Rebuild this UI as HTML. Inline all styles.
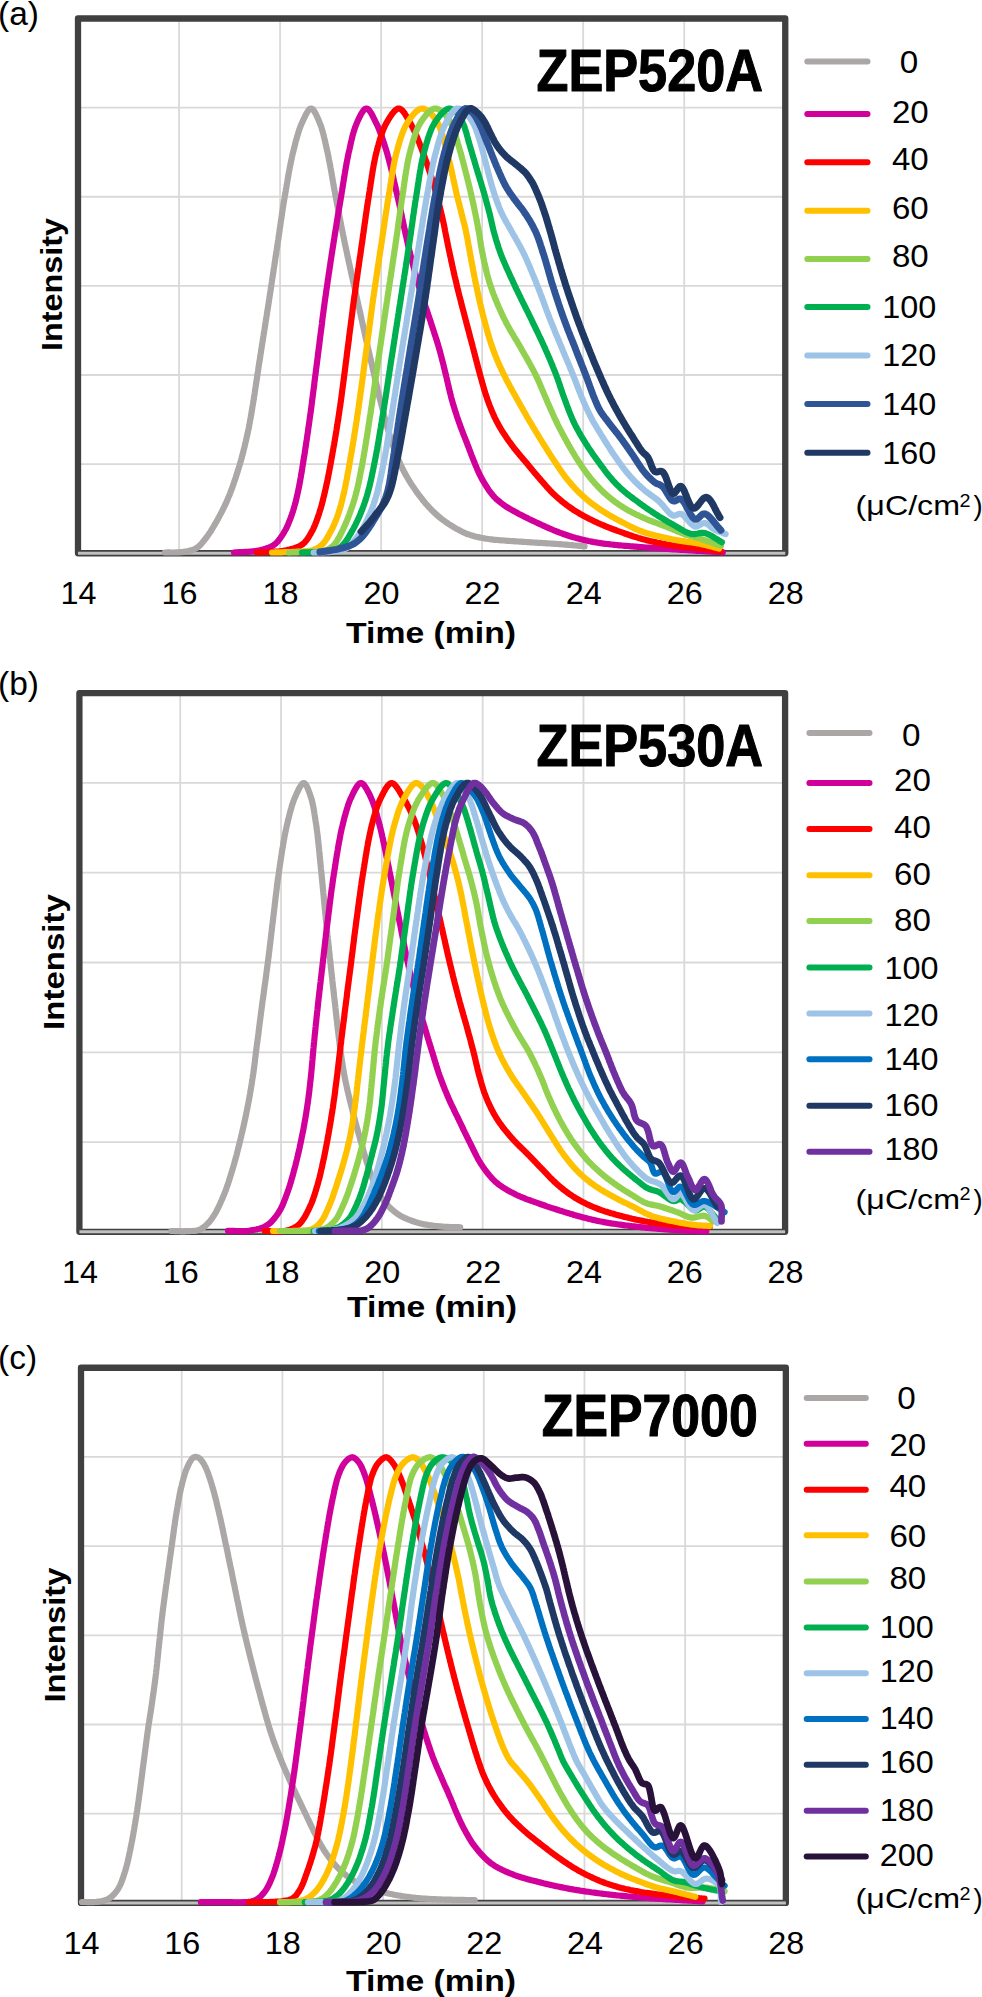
<!DOCTYPE html><html><head><meta charset="utf-8"><style>html,body{margin:0;padding:0;background:#fff;}svg{display:block;}</style></head><body>
<svg width="982" height="1997" viewBox="0 0 982 1997">
<rect width="982" height="1997" fill="#fff"/>
<g stroke="#d9d9d9" stroke-width="1.8"><line x1="179.04" y1="18.50" x2="179.04" y2="553.25"/><line x1="280.07" y1="18.50" x2="280.07" y2="553.25"/><line x1="381.11" y1="18.50" x2="381.11" y2="553.25"/><line x1="482.14" y1="18.50" x2="482.14" y2="553.25"/><line x1="583.18" y1="18.50" x2="583.18" y2="553.25"/><line x1="684.21" y1="18.50" x2="684.21" y2="553.25"/><line x1="78.00" y1="107.62" x2="785.25" y2="107.62"/><line x1="78.00" y1="196.75" x2="785.25" y2="196.75"/><line x1="78.00" y1="285.88" x2="785.25" y2="285.88"/><line x1="78.00" y1="375.00" x2="785.25" y2="375.00"/><line x1="78.00" y1="464.12" x2="785.25" y2="464.12"/></g>
<text x="536.5" y="90.9" font-family='"Liberation Sans", sans-serif' font-weight="bold" font-size="59" textLength="226.5" lengthAdjust="spacingAndGlyphs" fill="#000" stroke="#000" stroke-width="1.1" stroke-linejoin="round">ZEP520A</text>
<path d="M78.00,18.50 L785.25,18.50 L785.25,553.25 L78.00,553.25 Z" fill="none" stroke="#404040" stroke-width="6.3" stroke-linejoin="round"/>
<line x1="78.00" y1="553.25" x2="785.25" y2="553.25" stroke="#bfbfbf" stroke-width="3"/>
<path d="M165.0,552.5 L166.5,552.5 L168.1,552.4 L169.7,552.4 L171.3,552.5 L172.9,552.5 L174.4,552.5 L176.0,552.4 L177.6,552.4 L179.1,552.3 L180.6,552.2 L182.0,552.1 L183.5,551.9 L185.0,551.6 L186.6,551.4 L188.1,551.1 L189.6,550.7 L191.1,550.3 L192.5,549.9 L193.9,549.3 L195.2,548.7 L196.5,548.0 L197.7,547.2 L198.9,546.3 L200.0,545.2 L201.0,544.2 L202.0,543.0 L203.0,541.8 L204.0,540.5 L205.0,539.3 L206.0,538.0 L206.9,536.8 L207.8,535.6 L208.7,534.3 L209.6,533.0 L210.5,531.7 L211.3,530.3 L212.2,528.9 L213.0,527.5 L213.9,526.0 L214.7,524.6 L215.6,523.1 L216.5,521.6 L217.2,520.3 L217.9,519.0 L218.6,517.7 L219.3,516.4 L220.0,515.0 L220.8,513.7 L221.5,512.3 L222.2,510.9 L222.9,509.4 L223.6,508.0 L224.3,506.6 L225.0,505.1 L225.7,503.6 L226.4,502.1 L227.1,500.6 L227.7,499.1 L228.4,497.5 L228.9,496.2 L229.5,494.9 L230.0,493.6 L230.5,492.2 L231.1,490.8 L231.6,489.4 L232.1,488.0 L232.6,486.6 L233.1,485.2 L233.6,483.7 L234.1,482.3 L234.6,480.8 L235.1,479.4 L235.6,477.9 L236.1,476.5 L236.5,475.0 L237.0,473.5 L237.5,472.1 L237.9,470.6 L238.4,469.1 L238.8,467.7 L239.3,466.3 L239.7,464.8 L240.1,463.3 L240.5,461.9 L241.0,460.4 L241.4,458.9 L241.8,457.4 L242.2,455.9 L242.6,454.4 L243.0,452.9 L243.4,451.4 L243.7,449.9 L244.1,448.5 L244.5,447.0 L244.8,445.5 L245.2,444.0 L245.5,442.5 L245.9,441.0 L246.2,439.6 L246.5,438.1 L246.9,436.6 L247.2,435.2 L247.5,433.7 L247.8,432.3 L248.1,430.8 L248.5,429.2 L248.8,427.8 L249.1,426.3 L249.3,424.8 L249.6,423.4 L249.9,421.9 L250.1,420.5 L250.4,419.0 L250.7,417.6 L250.9,416.1 L251.2,414.6 L251.4,413.2 L251.7,411.7 L251.9,410.1 L252.2,408.6 L252.4,407.0 L252.7,405.4 L253.0,403.8 L253.2,402.4 L253.4,401.0 L253.7,399.6 L253.9,398.2 L254.1,396.7 L254.3,395.3 L254.6,393.8 L254.8,392.4 L255.0,390.9 L255.2,389.4 L255.5,387.9 L255.7,386.4 L255.9,384.9 L256.2,383.3 L256.4,381.8 L256.6,380.2 L256.9,378.7 L257.1,377.1 L257.3,375.5 L257.6,373.9 L257.8,372.3 L258.1,370.7 L258.3,369.1 L258.5,367.5 L258.8,365.8 L259.0,364.2 L259.3,362.5 L259.6,360.9 L259.8,359.5 L260.0,358.1 L260.2,356.7 L260.4,355.2 L260.7,353.8 L260.9,352.3 L261.1,350.9 L261.3,349.4 L261.6,347.9 L261.8,346.4 L262.0,344.9 L262.3,343.4 L262.5,341.9 L262.8,340.3 L263.0,338.8 L263.2,337.3 L263.5,335.7 L263.7,334.2 L264.0,332.6 L264.2,331.1 L264.5,329.5 L264.7,328.0 L265.0,326.4 L265.2,324.8 L265.4,323.3 L265.7,321.7 L265.9,320.2 L266.2,318.6 L266.4,317.1 L266.7,315.5 L266.9,314.0 L267.1,312.4 L267.4,310.9 L267.6,309.3 L267.9,307.8 L268.1,306.3 L268.3,304.8 L268.6,303.3 L268.8,301.8 L269.0,300.3 L269.3,298.7 L269.5,297.2 L269.7,295.6 L270.0,294.1 L270.2,292.5 L270.5,291.0 L270.7,289.4 L270.9,287.9 L271.2,286.4 L271.4,284.8 L271.6,283.3 L271.9,281.7 L272.1,280.2 L272.3,278.7 L272.6,277.1 L272.8,275.6 L273.0,274.1 L273.3,272.6 L273.5,271.0 L273.7,269.5 L273.9,268.0 L274.2,266.5 L274.4,265.0 L274.6,263.5 L274.9,261.9 L275.1,260.4 L275.3,258.9 L275.5,257.4 L275.8,255.9 L276.0,254.5 L276.2,253.0 L276.4,251.5 L276.7,250.0 L276.9,248.5 L277.1,247.1 L277.3,245.6 L277.6,244.1 L277.8,242.6 L278.0,241.0 L278.3,239.5 L278.5,237.9 L278.7,236.4 L278.9,234.8 L279.2,233.3 L279.4,231.8 L279.6,230.2 L279.8,228.7 L280.1,227.2 L280.3,225.7 L280.5,224.2 L280.7,222.7 L280.9,221.1 L281.2,219.6 L281.4,218.1 L281.6,216.6 L281.8,215.2 L282.0,213.7 L282.3,212.2 L282.5,210.7 L282.7,209.2 L282.9,207.7 L283.2,206.2 L283.4,204.8 L283.6,203.3 L283.9,201.8 L284.1,200.3 L284.4,198.8 L284.6,197.4 L284.9,195.9 L285.1,194.3 L285.4,192.8 L285.7,191.2 L285.9,189.6 L286.2,188.1 L286.5,186.5 L286.7,184.9 L287.0,183.3 L287.3,181.7 L287.5,180.2 L287.8,178.6 L288.1,177.0 L288.4,175.4 L288.6,173.9 L288.9,172.3 L289.2,170.8 L289.5,169.2 L289.8,167.7 L290.1,166.2 L290.4,164.7 L290.7,163.2 L291.0,161.7 L291.3,160.2 L291.6,158.8 L291.9,157.3 L292.2,155.9 L292.5,154.5 L292.9,153.1 L293.2,151.8 L293.6,150.1 L294.0,148.5 L294.4,146.9 L294.8,145.3 L295.2,143.7 L295.6,142.1 L296.0,140.5 L296.5,139.0 L296.9,137.4 L297.3,135.9 L297.8,134.4 L298.2,133.0 L298.7,131.5 L299.1,130.1 L299.6,128.7 L300.1,127.4 L300.6,126.1 L301.1,124.8 L301.6,123.6 L302.2,122.4 L302.9,120.8 L303.7,119.1 L304.5,117.4 L305.3,115.7 L306.1,114.1 L307.0,112.6 L307.8,111.2 L308.6,110.1 L309.5,109.2 L310.3,108.7 L311.1,108.5 L312.0,108.7 L312.9,109.4 L313.7,110.4 L314.6,111.8 L315.5,113.3 L316.3,115.0 L317.2,116.9 L318.0,118.8 L318.8,120.6 L319.5,122.4 L320.0,123.6 L320.5,124.8 L321.0,126.1 L321.4,127.4 L321.8,128.7 L322.2,130.1 L322.6,131.5 L323.0,133.0 L323.4,134.4 L323.8,135.9 L324.1,137.4 L324.5,139.0 L324.9,140.5 L325.2,142.1 L325.6,143.7 L325.9,145.3 L326.3,146.9 L326.6,148.5 L327.0,150.1 L327.4,151.8 L327.7,153.1 L328.0,154.5 L328.3,155.9 L328.6,157.4 L328.8,158.8 L329.1,160.3 L329.4,161.7 L329.7,163.2 L330.0,164.7 L330.3,166.2 L330.5,167.7 L330.8,169.3 L331.1,170.8 L331.4,172.4 L331.6,173.9 L331.9,175.5 L332.2,177.0 L332.4,178.6 L332.7,180.2 L333.0,181.8 L333.3,183.3 L333.5,184.9 L333.8,186.5 L334.1,188.1 L334.4,189.6 L334.7,191.2 L335.0,192.8 L335.3,194.3 L335.5,195.9 L335.8,197.4 L336.1,198.9 L336.4,200.3 L336.7,201.8 L337.0,203.3 L337.2,204.8 L337.5,206.3 L337.8,207.8 L338.1,209.2 L338.4,210.7 L338.7,212.2 L339.0,213.7 L339.2,215.2 L339.5,216.7 L339.8,218.2 L340.1,219.7 L340.4,221.2 L340.7,222.7 L341.0,224.3 L341.3,225.8 L341.6,227.3 L341.9,228.8 L342.2,230.3 L342.5,231.9 L342.8,233.4 L343.1,234.9 L343.5,236.5 L343.8,238.0 L344.1,239.6 L344.4,241.1 L344.7,242.7 L345.0,244.2 L345.3,245.7 L345.6,247.1 L346.0,248.6 L346.3,250.0 L346.6,251.5 L346.9,253.0 L347.2,254.4 L347.5,255.9 L347.8,257.4 L348.2,258.9 L348.5,260.3 L348.8,261.8 L349.1,263.3 L349.5,264.8 L349.8,266.3 L350.1,267.8 L350.4,269.3 L350.8,270.8 L351.1,272.3 L351.4,273.8 L351.8,275.3 L352.1,276.8 L352.5,278.3 L352.8,279.8 L353.1,281.3 L353.5,282.9 L353.8,284.4 L354.1,285.9 L354.5,287.4 L354.8,288.9 L355.2,290.5 L355.5,292.0 L355.8,293.5 L356.2,295.0 L356.5,296.6 L356.9,298.1 L357.2,299.6 L357.5,301.1 L357.9,302.5 L358.2,304.0 L358.5,305.5 L358.8,307.0 L359.2,308.4 L359.5,309.9 L359.8,311.4 L360.2,312.9 L360.5,314.4 L360.8,315.9 L361.2,317.4 L361.5,318.9 L361.8,320.4 L362.2,322.0 L362.5,323.5 L362.8,325.0 L363.2,326.5 L363.5,328.0 L363.9,329.5 L364.2,331.0 L364.5,332.5 L364.9,334.1 L365.2,335.6 L365.5,337.1 L365.9,338.6 L366.2,340.1 L366.6,341.6 L366.9,343.0 L367.2,344.5 L367.6,346.0 L367.9,347.5 L368.2,349.0 L368.6,350.4 L368.9,351.9 L369.2,353.3 L369.6,354.8 L369.9,356.2 L370.2,357.6 L370.6,359.0 L370.9,360.4 L371.2,362.0 L371.6,363.6 L372.0,365.1 L372.3,366.7 L372.7,368.2 L373.0,369.8 L373.4,371.3 L373.8,372.9 L374.1,374.4 L374.5,376.0 L374.8,377.5 L375.2,379.0 L375.5,380.6 L375.9,382.1 L376.2,383.6 L376.6,385.1 L376.9,386.6 L377.3,388.1 L377.6,389.6 L378.0,391.0 L378.3,392.5 L378.7,394.0 L379.0,395.4 L379.4,396.9 L379.7,398.3 L380.1,399.7 L380.5,401.1 L380.8,402.5 L381.2,403.9 L381.5,405.3 L381.9,406.7 L382.2,408.0 L382.6,409.4 L383.0,411.0 L383.4,412.5 L383.8,414.1 L384.2,415.7 L384.6,417.2 L385.0,418.7 L385.4,420.2 L385.8,421.7 L386.2,423.2 L386.6,424.7 L387.0,426.1 L387.4,427.6 L387.8,429.0 L388.2,430.5 L388.7,431.9 L389.1,433.3 L389.5,434.7 L389.9,436.1 L390.4,437.5 L390.8,438.8 L391.2,440.2 L391.7,441.6 L392.2,442.9 L392.7,444.5 L393.2,446.0 L393.7,447.5 L394.3,449.0 L394.8,450.5 L395.4,451.9 L395.9,453.4 L396.5,454.8 L397.0,456.3 L397.6,457.7 L398.2,459.1 L398.8,460.5 L399.4,461.9 L400.0,463.3 L400.6,464.7 L401.2,466.0 L401.9,467.4 L402.5,468.7 L403.3,470.2 L404.0,471.6 L404.8,473.0 L405.5,474.4 L406.3,475.8 L407.1,477.2 L407.9,478.5 L408.7,479.9 L409.6,481.2 L410.4,482.6 L411.2,483.9 L412.1,485.2 L412.9,486.5 L413.8,487.7 L414.6,489.0 L415.5,490.2 L416.4,491.6 L417.4,493.0 L418.4,494.3 L419.4,495.6 L420.4,496.9 L421.4,498.2 L422.4,499.5 L423.4,500.8 L424.4,502.0 L425.4,503.2 L426.4,504.4 L427.5,505.5 L428.5,506.6 L429.6,507.8 L430.7,509.0 L431.8,510.2 L432.9,511.3 L434.1,512.4 L435.2,513.4 L436.3,514.5 L437.5,515.5 L438.6,516.5 L439.8,517.5 L441.1,518.5 L442.3,519.4 L443.6,520.4 L444.8,521.3 L446.1,522.2 L447.4,523.1 L448.7,524.0 L450.1,524.9 L451.4,525.7 L452.8,526.5 L454.1,527.3 L455.4,528.1 L456.7,528.9 L458.1,529.6 L459.4,530.3 L460.8,531.1 L462.2,531.8 L463.6,532.4 L465.0,533.1 L466.4,533.7 L467.9,534.2 L469.3,534.7 L470.7,535.2 L472.1,535.6 L473.5,536.0 L475.0,536.4 L476.4,536.8 L477.9,537.1 L479.4,537.4 L480.9,537.7 L482.4,538.0 L484.0,538.3 L485.5,538.6 L487.0,538.8 L488.5,539.0 L490.0,539.2 L491.5,539.4 L493.0,539.6 L494.6,539.8 L496.1,539.9 L497.7,540.0 L499.3,540.2 L500.9,540.3 L502.5,540.4 L504.1,540.5 L505.7,540.6 L507.3,540.8 L508.9,540.9 L510.4,541.0 L511.9,541.1 L513.4,541.2 L514.9,541.3 L516.4,541.4 L517.9,541.5 L519.4,541.6 L521.0,541.7 L522.5,541.8 L524.0,541.9 L525.6,542.0 L527.1,542.1 L528.6,542.2 L530.2,542.3 L531.7,542.4 L533.2,542.5 L534.7,542.6 L536.2,542.7 L537.8,542.8 L539.3,542.9 L540.8,542.9 L542.4,543.0 L543.9,543.1 L545.4,543.2 L546.9,543.3 L548.5,543.4 L550.0,543.5 L551.5,543.6 L553.0,543.7 L554.5,543.8 L556.0,543.9 L557.5,544.0 L559.0,544.1 L560.4,544.2 L561.9,544.3 L563.5,544.5 L565.0,544.6 L566.5,544.7 L568.1,544.8 L569.6,545.0 L571.1,545.1 L572.6,545.2 L574.1,545.4 L575.6,545.5 L577.1,545.6 L578.6,545.8 L580.1,545.9 L581.6,546.0 L583.1,546.2 L584.6,546.3" fill="none" stroke="#aca7a7" stroke-width="6.2" stroke-linecap="round" stroke-linejoin="round"/>
<path d="M234.0,552.5 L235.5,552.4 L237.1,552.3 L238.6,552.2 L240.2,552.1 L241.7,552.1 L243.3,552.0 L244.9,551.9 L246.4,551.9 L248.0,551.8 L249.5,551.7 L251.0,551.6 L252.5,551.4 L254.0,551.3 L255.4,551.0 L256.8,550.8 L258.2,550.5 L259.8,550.2 L261.5,549.8 L263.1,549.4 L264.7,548.9 L266.2,548.5 L267.7,547.9 L269.2,547.4 L270.6,546.8 L272.0,546.1 L273.3,545.3 L274.5,544.4 L275.7,543.5 L276.8,542.4 L277.8,541.3 L278.8,540.2 L279.8,538.9 L280.7,537.6 L281.6,536.3 L282.4,535.0 L283.3,533.6 L284.1,532.2 L284.9,530.8 L285.7,529.5 L286.4,528.1 L287.1,526.6 L287.8,525.2 L288.4,523.7 L289.0,522.2 L289.6,520.7 L290.2,519.2 L290.8,517.6 L291.3,516.1 L291.9,514.5 L292.4,512.9 L292.9,511.5 L293.3,510.2 L293.7,508.8 L294.1,507.4 L294.5,506.0 L294.9,504.6 L295.3,503.2 L295.7,501.8 L296.0,500.3 L296.4,498.8 L296.7,497.3 L297.1,495.8 L297.4,494.3 L297.8,492.7 L298.1,491.1 L298.4,489.7 L298.7,488.3 L299.0,486.9 L299.3,485.5 L299.5,484.0 L299.8,482.6 L300.1,481.1 L300.3,479.6 L300.6,478.1 L300.9,476.5 L301.1,475.0 L301.4,473.4 L301.7,471.9 L301.9,470.3 L302.2,468.7 L302.4,467.1 L302.7,465.5 L303.0,463.9 L303.2,462.3 L303.5,460.6 L303.7,459.0 L304.0,457.4 L304.2,456.0 L304.5,454.6 L304.7,453.1 L304.9,451.7 L305.1,450.3 L305.3,448.9 L305.6,447.4 L305.8,446.0 L306.0,444.5 L306.2,443.0 L306.4,441.6 L306.7,440.1 L306.9,438.6 L307.1,437.1 L307.3,435.6 L307.5,434.1 L307.8,432.6 L308.0,431.0 L308.2,429.5 L308.4,428.0 L308.6,426.5 L308.9,424.9 L309.1,423.4 L309.3,421.8 L309.5,420.3 L309.7,418.8 L309.9,417.2 L310.1,415.6 L310.4,414.1 L310.6,412.5 L310.8,411.1 L311.0,409.6 L311.2,408.1 L311.4,406.7 L311.6,405.2 L311.8,403.7 L312.0,402.2 L312.1,400.7 L312.3,399.3 L312.5,397.8 L312.7,396.3 L312.9,394.8 L313.1,393.2 L313.3,391.7 L313.5,390.2 L313.7,388.7 L313.9,387.2 L314.1,385.7 L314.3,384.1 L314.4,382.6 L314.6,381.1 L314.8,379.5 L315.0,378.0 L315.2,376.4 L315.4,374.9 L315.6,373.4 L315.8,371.8 L316.0,370.2 L316.2,368.7 L316.4,367.1 L316.6,365.6 L316.8,364.0 L317.0,362.5 L317.2,360.9 L317.4,359.3 L317.6,357.9 L317.8,356.4 L317.9,354.9 L318.1,353.5 L318.3,352.0 L318.5,350.5 L318.7,349.0 L318.9,347.5 L319.1,346.0 L319.3,344.5 L319.5,343.0 L319.6,341.5 L319.8,340.0 L320.0,338.5 L320.2,336.9 L320.4,335.4 L320.6,333.9 L320.8,332.4 L321.0,330.9 L321.2,329.4 L321.4,327.8 L321.6,326.3 L321.8,324.8 L322.0,323.3 L322.1,321.7 L322.3,320.2 L322.5,318.7 L322.7,317.2 L322.9,315.7 L323.1,314.2 L323.3,312.7 L323.5,311.2 L323.7,309.7 L323.9,308.2 L324.1,306.7 L324.3,305.2 L324.5,303.7 L324.7,302.2 L324.9,300.7 L325.1,299.3 L325.3,297.7 L325.6,296.2 L325.8,294.7 L326.0,293.2 L326.2,291.7 L326.4,290.2 L326.6,288.6 L326.9,287.1 L327.1,285.6 L327.3,284.1 L327.5,282.6 L327.7,281.1 L327.9,279.6 L328.2,278.1 L328.4,276.6 L328.6,275.1 L328.8,273.6 L329.1,272.1 L329.3,270.6 L329.5,269.1 L329.7,267.7 L330.0,266.2 L330.2,264.7 L330.4,263.2 L330.6,261.7 L330.8,260.3 L331.1,258.8 L331.3,257.3 L331.5,255.9 L331.7,254.4 L332.0,252.9 L332.2,251.5 L332.4,250.0 L332.6,248.6 L332.9,247.1 L333.1,245.7 L333.3,244.2 L333.6,242.7 L333.8,241.1 L334.0,239.6 L334.3,238.0 L334.5,236.5 L334.8,234.9 L335.0,233.4 L335.3,231.9 L335.5,230.3 L335.8,228.8 L336.0,227.3 L336.3,225.8 L336.5,224.2 L336.7,222.7 L337.0,221.2 L337.2,219.7 L337.5,218.2 L337.7,216.7 L338.0,215.2 L338.2,213.7 L338.5,212.2 L338.7,210.7 L339.0,209.2 L339.2,207.7 L339.5,206.2 L339.7,204.8 L340.0,203.3 L340.2,201.8 L340.5,200.3 L340.7,198.8 L341.0,197.4 L341.2,195.9 L341.5,194.3 L341.7,192.8 L342.0,191.2 L342.2,189.6 L342.5,188.1 L342.7,186.5 L343.0,184.9 L343.2,183.4 L343.5,181.8 L343.7,180.2 L344.0,178.7 L344.2,177.1 L344.5,175.6 L344.7,174.0 L345.0,172.5 L345.2,171.0 L345.5,169.4 L345.8,167.9 L346.0,166.4 L346.3,164.9 L346.6,163.4 L346.8,162.0 L347.1,160.5 L347.4,159.1 L347.7,157.6 L348.0,156.2 L348.2,154.8 L348.5,153.4 L348.8,152.1 L349.2,150.5 L349.6,148.9 L349.9,147.3 L350.3,145.7 L350.6,144.1 L351.0,142.5 L351.3,141.0 L351.7,139.4 L352.1,137.9 L352.4,136.4 L352.8,134.9 L353.2,133.5 L353.6,132.0 L354.1,130.6 L354.5,129.3 L354.9,127.9 L355.4,126.6 L355.9,125.4 L356.4,124.1 L356.9,122.9 L357.6,121.3 L358.4,119.5 L359.3,117.7 L360.1,116.0 L361.0,114.3 L361.9,112.7 L362.8,111.4 L363.7,110.2 L364.6,109.3 L365.5,108.7 L366.4,108.5 L367.3,108.7 L368.2,109.3 L369.1,110.2 L370.0,111.4 L370.9,112.7 L371.8,114.3 L372.7,116.0 L373.6,117.8 L374.4,119.5 L375.3,121.3 L376.1,122.9 L376.7,124.1 L377.3,125.3 L377.9,126.6 L378.4,127.9 L379.0,129.2 L379.5,130.6 L380.1,131.9 L380.6,133.4 L381.1,134.8 L381.7,136.2 L382.2,137.7 L382.7,139.2 L383.2,140.7 L383.7,142.3 L384.2,143.8 L384.7,145.4 L385.2,147.0 L385.7,148.6 L386.2,150.2 L386.7,151.8 L387.1,153.1 L387.5,154.5 L387.8,155.8 L388.2,157.2 L388.6,158.6 L389.0,159.9 L389.3,161.4 L389.7,162.8 L390.1,164.2 L390.4,165.7 L390.8,167.1 L391.2,168.6 L391.5,170.1 L391.9,171.6 L392.2,173.1 L392.6,174.6 L392.9,176.1 L393.3,177.6 L393.6,179.2 L394.0,180.7 L394.3,182.2 L394.7,183.8 L395.0,185.3 L395.4,186.8 L395.7,188.4 L396.0,189.9 L396.4,191.4 L396.7,192.9 L397.1,194.5 L397.4,196.0 L397.8,197.5 L398.1,198.9 L398.4,200.4 L398.8,201.9 L399.1,203.4 L399.4,204.9 L399.8,206.4 L400.1,207.9 L400.4,209.4 L400.7,210.9 L401.0,212.4 L401.4,213.9 L401.7,215.4 L402.0,217.0 L402.3,218.5 L402.6,220.0 L403.0,221.5 L403.3,223.0 L403.6,224.5 L403.9,226.1 L404.2,227.6 L404.5,229.1 L404.9,230.6 L405.2,232.1 L405.5,233.6 L405.8,235.1 L406.2,236.5 L406.5,238.0 L406.8,239.5 L407.1,240.9 L407.5,242.4 L407.8,243.8 L408.1,245.3 L408.5,246.7 L408.9,248.2 L409.2,249.7 L409.6,251.2 L410.0,252.7 L410.3,254.2 L410.7,255.7 L411.1,257.2 L411.5,258.7 L411.8,260.2 L412.2,261.7 L412.6,263.2 L413.0,264.6 L413.3,266.1 L413.7,267.5 L414.1,269.0 L414.5,270.4 L414.9,271.9 L415.3,273.3 L415.7,274.7 L416.0,276.1 L416.4,277.6 L416.8,279.0 L417.2,280.4 L417.6,281.8 L418.0,283.2 L418.4,284.6 L418.8,285.9 L419.2,287.3 L419.7,288.8 L420.2,290.3 L420.6,291.8 L421.1,293.3 L421.6,294.8 L422.0,296.2 L422.5,297.7 L423.0,299.1 L423.5,300.6 L424.0,302.0 L424.5,303.5 L424.9,304.9 L425.4,306.3 L425.9,307.7 L426.4,309.1 L426.9,310.5 L427.4,311.9 L427.8,313.3 L428.3,314.7 L428.8,316.1 L429.2,317.5 L429.7,318.9 L430.2,320.3 L430.7,321.8 L431.1,323.3 L431.6,324.8 L432.1,326.3 L432.6,327.8 L433.1,329.3 L433.6,330.7 L434.1,332.2 L434.5,333.7 L435.0,335.1 L435.5,336.6 L435.9,338.0 L436.4,339.5 L436.9,340.9 L437.3,342.4 L437.7,343.8 L438.2,345.3 L438.6,346.7 L439.0,348.1 L439.4,349.5 L439.9,351.1 L440.3,352.7 L440.7,354.2 L441.1,355.8 L441.5,357.3 L441.9,358.9 L442.3,360.4 L442.7,362.0 L443.1,363.5 L443.5,365.0 L443.8,366.6 L444.2,368.1 L444.6,369.6 L444.9,371.1 L445.3,372.6 L445.7,374.1 L446.1,375.6 L446.4,377.2 L446.8,378.7 L447.1,380.2 L447.5,381.7 L447.8,383.2 L448.2,384.8 L448.5,386.3 L448.9,387.8 L449.2,389.3 L449.6,390.8 L449.9,392.3 L450.3,393.8 L450.7,395.2 L451.0,396.7 L451.4,398.2 L451.8,399.7 L452.3,401.2 L452.7,402.7 L453.1,404.2 L453.6,405.6 L454.0,407.1 L454.5,408.6 L454.9,410.1 L455.4,411.5 L455.9,413.0 L456.4,414.5 L456.8,415.9 L457.3,417.4 L457.8,418.8 L458.3,420.3 L458.8,421.7 L459.3,423.2 L459.9,424.7 L460.4,426.2 L460.9,427.7 L461.5,429.2 L462.1,430.7 L462.7,432.2 L463.2,433.6 L463.8,435.1 L464.4,436.6 L465.0,438.0 L465.5,439.5 L466.1,440.9 L466.6,442.3 L467.2,443.7 L467.7,445.1 L468.3,446.7 L468.9,448.2 L469.5,449.8 L470.1,451.4 L470.7,452.9 L471.2,454.4 L471.8,455.9 L472.4,457.3 L472.9,458.7 L473.5,460.1 L474.0,461.5 L474.7,463.1 L475.3,464.6 L475.9,466.0 L476.5,467.4 L477.1,468.9 L477.7,470.3 L478.3,471.7 L479.0,473.1 L479.7,474.6 L480.5,476.1 L481.2,477.5 L482.0,479.0 L482.8,480.5 L483.7,481.9 L484.5,483.4 L485.4,484.8 L486.2,486.1 L487.1,487.4 L487.9,488.8 L488.8,490.1 L489.7,491.3 L490.6,492.6 L491.6,493.8 L492.6,495.0 L493.6,496.2 L494.7,497.4 L495.9,498.6 L497.1,499.7 L498.4,500.8 L499.7,501.8 L501.0,502.9 L502.3,503.9 L503.6,504.9 L504.9,505.8 L506.2,506.7 L507.6,507.5 L509.0,508.3 L510.3,509.1 L511.7,509.9 L513.2,510.7 L514.6,511.5 L516.0,512.2 L517.3,513.0 L518.6,513.7 L520.0,514.4 L521.3,515.1 L522.7,515.8 L524.0,516.5 L525.4,517.2 L526.8,517.8 L528.1,518.5 L529.5,519.2 L531.0,519.9 L532.4,520.6 L533.9,521.3 L535.4,522.0 L536.9,522.7 L538.4,523.4 L539.9,524.1 L541.3,524.8 L542.8,525.5 L544.3,526.1 L545.7,526.8 L547.2,527.4 L548.7,528.1 L550.1,528.7 L551.6,529.3 L553.1,530.0 L554.5,530.6 L556.0,531.2 L557.5,531.7 L559.0,532.3 L560.4,532.9 L561.9,533.4 L563.4,534.0 L564.9,534.5 L566.4,535.0 L567.9,535.5 L569.3,536.0 L570.9,536.5 L572.6,537.0 L574.2,537.4 L575.8,537.9 L577.4,538.3 L579.0,538.8 L580.6,539.2 L582.2,539.6 L583.8,539.9 L585.3,540.3 L586.8,540.6 L588.3,541.0 L589.8,541.3 L591.4,541.6 L593.0,541.9 L594.6,542.2 L596.1,542.4 L597.6,542.7 L599.1,542.9 L600.6,543.1 L602.1,543.4 L603.7,543.6 L605.3,543.8 L607.0,544.0 L608.7,544.2 L610.4,544.4 L611.8,544.5 L613.1,544.7 L614.5,544.8 L615.9,545.0 L617.4,545.1 L618.8,545.3 L620.3,545.4 L621.8,545.5 L623.3,545.7 L624.8,545.8 L626.4,545.9 L628.0,546.0 L629.6,546.2 L631.2,546.3 L632.8,546.4 L634.4,546.6 L636.1,546.7 L637.5,546.8 L638.9,546.9 L640.3,547.0 L641.8,547.1 L643.2,547.3 L644.7,547.4 L646.2,547.5 L647.7,547.6 L649.2,547.7 L650.7,547.8 L652.3,547.9 L653.8,548.0 L655.4,548.1 L656.9,548.2 L658.5,548.3 L660.1,548.4 L661.7,548.5 L663.3,548.7 L664.9,548.8 L666.5,548.9 L668.1,549.0 L669.7,549.1 L671.4,549.2 L673.0,549.3 L674.6,549.4 L676.0,549.5 L677.5,549.6 L678.9,549.7 L680.4,549.8 L681.8,549.9 L683.3,549.9 L684.8,550.0 L686.3,550.1 L687.8,550.2 L689.3,550.3 L690.8,550.4 L692.3,550.5 L693.8,550.6 L695.3,550.7 L696.8,550.8 L698.4,550.9 L699.9,550.9 L701.4,551.0 L703.0,551.1 L704.5,551.2 L706.0,551.3 L707.6,551.4 L709.1,551.5 L710.6,551.6 L712.2,551.7 L713.7,551.8 L715.2,551.8 L716.7,551.9 L718.3,552.0 L719.8,552.1 L721.3,552.2 L722.8,552.3" fill="none" stroke="#d2009b" stroke-width="6.2" stroke-linecap="round" stroke-linejoin="round"/>
<path d="M257.0,552.5 L258.5,552.4 L260.1,552.3 L261.7,552.2 L263.3,552.2 L264.9,552.1 L266.5,552.1 L268.1,552.0 L269.7,552.0 L271.2,551.9 L272.8,551.8 L274.4,551.7 L275.9,551.6 L277.5,551.5 L279.0,551.4 L280.4,551.2 L281.9,551.0 L283.3,550.8 L284.7,550.5 L286.3,550.2 L287.9,549.8 L289.6,549.5 L291.1,549.1 L292.7,548.7 L294.2,548.3 L295.7,547.8 L297.1,547.2 L298.5,546.6 L299.8,546.0 L301.1,545.2 L302.3,544.4 L303.5,543.5 L304.6,542.5 L305.6,541.3 L306.5,540.2 L307.5,538.9 L308.3,537.6 L309.1,536.3 L309.9,535.0 L310.7,533.6 L311.5,532.2 L312.2,530.8 L313.0,529.5 L313.6,528.1 L314.3,526.6 L314.9,525.2 L315.5,523.7 L316.1,522.2 L316.6,520.7 L317.2,519.2 L317.7,517.6 L318.2,516.1 L318.8,514.5 L319.3,512.9 L319.7,511.5 L320.1,510.2 L320.6,508.8 L321.0,507.4 L321.4,506.0 L321.8,504.6 L322.1,503.2 L322.5,501.8 L322.9,500.3 L323.2,498.8 L323.6,497.3 L324.0,495.8 L324.3,494.3 L324.7,492.7 L325.1,491.1 L325.4,489.7 L325.7,488.3 L326.0,486.9 L326.3,485.5 L326.6,484.0 L327.0,482.6 L327.3,481.1 L327.6,479.6 L327.9,478.1 L328.2,476.5 L328.5,475.0 L328.8,473.4 L329.1,471.9 L329.4,470.3 L329.7,468.7 L330.0,467.1 L330.3,465.5 L330.6,463.9 L330.9,462.3 L331.2,460.6 L331.5,459.0 L331.8,457.4 L332.0,456.0 L332.3,454.6 L332.5,453.1 L332.8,451.7 L333.0,450.3 L333.3,448.9 L333.5,447.4 L333.8,446.0 L334.1,444.5 L334.3,443.0 L334.6,441.6 L334.8,440.1 L335.1,438.6 L335.3,437.1 L335.6,435.6 L335.8,434.1 L336.1,432.6 L336.3,431.1 L336.6,429.5 L336.8,428.0 L337.0,426.5 L337.3,424.9 L337.5,423.4 L337.8,421.9 L338.0,420.3 L338.3,418.8 L338.5,417.2 L338.7,415.6 L339.0,414.1 L339.2,412.5 L339.4,411.1 L339.6,409.6 L339.8,408.1 L340.1,406.7 L340.3,405.2 L340.5,403.7 L340.7,402.2 L340.9,400.8 L341.1,399.3 L341.3,397.8 L341.5,396.3 L341.7,394.8 L341.9,393.3 L342.1,391.7 L342.3,390.2 L342.5,388.7 L342.7,387.2 L342.9,385.7 L343.1,384.1 L343.3,382.6 L343.5,381.1 L343.7,379.5 L343.9,378.0 L344.1,376.4 L344.3,374.9 L344.5,373.4 L344.7,371.8 L344.9,370.3 L345.1,368.7 L345.3,367.1 L345.5,365.6 L345.7,364.0 L345.9,362.5 L346.1,360.9 L346.3,359.3 L346.5,357.9 L346.7,356.4 L346.8,354.9 L347.0,353.5 L347.2,352.0 L347.4,350.5 L347.6,349.0 L347.8,347.5 L348.0,346.0 L348.2,344.5 L348.4,343.0 L348.6,341.5 L348.8,340.0 L349.0,338.5 L349.1,337.0 L349.3,335.4 L349.5,333.9 L349.7,332.4 L349.9,330.9 L350.1,329.4 L350.3,327.8 L350.5,326.3 L350.7,324.8 L350.9,323.3 L351.1,321.7 L351.3,320.2 L351.5,318.7 L351.7,317.2 L351.9,315.7 L352.1,314.2 L352.3,312.7 L352.5,311.2 L352.6,309.7 L352.8,308.2 L353.0,306.7 L353.2,305.2 L353.4,303.7 L353.6,302.2 L353.8,300.7 L354.0,299.3 L354.2,297.7 L354.4,296.2 L354.7,294.7 L354.9,293.2 L355.1,291.7 L355.3,290.2 L355.5,288.6 L355.7,287.1 L355.9,285.6 L356.1,284.1 L356.3,282.6 L356.5,281.1 L356.8,279.6 L357.0,278.1 L357.2,276.6 L357.4,275.1 L357.6,273.6 L357.8,272.1 L358.0,270.6 L358.2,269.1 L358.5,267.7 L358.7,266.2 L358.9,264.7 L359.1,263.2 L359.3,261.7 L359.5,260.3 L359.7,258.8 L359.9,257.3 L360.2,255.9 L360.4,254.4 L360.6,252.9 L360.8,251.5 L361.0,250.0 L361.2,248.6 L361.4,247.1 L361.6,245.7 L361.8,244.2 L362.1,242.7 L362.3,241.1 L362.5,239.6 L362.7,238.0 L362.9,236.5 L363.1,234.9 L363.4,233.4 L363.6,231.9 L363.8,230.3 L364.0,228.8 L364.2,227.3 L364.4,225.8 L364.6,224.2 L364.9,222.7 L365.1,221.2 L365.3,219.7 L365.5,218.2 L365.7,216.7 L365.9,215.2 L366.1,213.7 L366.4,212.2 L366.6,210.7 L366.8,209.2 L367.0,207.7 L367.2,206.2 L367.5,204.7 L367.7,203.3 L367.9,201.8 L368.1,200.3 L368.4,198.8 L368.6,197.4 L368.8,195.9 L369.1,194.3 L369.3,192.8 L369.6,191.2 L369.8,189.6 L370.0,188.1 L370.3,186.5 L370.5,184.9 L370.7,183.4 L371.0,181.8 L371.2,180.2 L371.5,178.7 L371.7,177.1 L371.9,175.6 L372.2,174.0 L372.4,172.5 L372.7,170.9 L372.9,169.4 L373.2,167.9 L373.5,166.4 L373.7,164.9 L374.0,163.4 L374.3,161.9 L374.6,160.5 L374.9,159.0 L375.2,157.6 L375.5,156.2 L375.8,154.8 L376.2,153.4 L376.5,152.1 L376.9,150.5 L377.3,148.8 L377.7,147.2 L378.2,145.6 L378.6,144.0 L379.0,142.5 L379.5,140.9 L379.9,139.4 L380.4,137.8 L380.9,136.3 L381.4,134.9 L381.9,133.4 L382.4,132.0 L382.9,130.6 L383.4,129.2 L384.0,127.9 L384.6,126.6 L385.2,125.3 L385.8,124.1 L386.5,122.9 L387.4,121.4 L388.3,119.8 L389.3,118.1 L390.3,116.5 L391.4,114.9 L392.5,113.4 L393.6,112.1 L394.7,110.9 L395.8,109.9 L396.8,109.1 L397.9,108.6 L398.9,108.5 L399.9,108.7 L400.9,109.2 L401.8,110.0 L402.8,111.0 L403.7,112.2 L404.7,113.5 L405.6,115.0 L406.6,116.6 L407.5,118.2 L408.4,119.8 L409.3,121.4 L410.2,122.9 L410.9,124.1 L411.5,125.3 L412.2,126.6 L412.8,127.8 L413.5,129.2 L414.1,130.5 L414.8,131.9 L415.4,133.4 L416.0,134.8 L416.6,136.3 L417.3,137.8 L417.9,139.3 L418.5,140.8 L419.1,142.3 L419.7,143.9 L420.2,145.4 L420.8,146.9 L421.4,148.5 L422.0,150.0 L422.6,151.5 L423.1,153.1 L423.7,154.5 L424.2,155.9 L424.7,157.3 L425.2,158.8 L425.8,160.3 L426.3,161.8 L426.8,163.2 L427.3,164.7 L427.8,166.2 L428.3,167.7 L428.8,169.3 L429.3,170.8 L429.8,172.3 L430.3,173.8 L430.8,175.3 L431.3,176.8 L431.7,178.3 L432.2,179.8 L432.6,181.3 L433.1,182.8 L433.5,184.2 L434.0,185.7 L434.4,187.1 L434.8,188.5 L435.3,190.1 L435.7,191.6 L436.1,193.1 L436.5,194.5 L436.9,196.0 L437.3,197.5 L437.7,198.9 L438.1,200.4 L438.5,201.8 L438.9,203.3 L439.2,204.7 L439.6,206.2 L439.9,207.6 L440.3,209.1 L440.7,210.5 L441.0,212.0 L441.3,213.4 L441.7,214.9 L442.0,216.4 L442.4,217.9 L442.7,219.3 L443.0,220.8 L443.4,222.3 L443.7,223.7 L444.0,225.2 L444.3,226.6 L444.6,228.1 L444.9,229.6 L445.1,231.0 L445.4,232.5 L445.7,234.0 L446.0,235.5 L446.3,236.9 L446.6,238.4 L446.9,239.9 L447.2,241.4 L447.5,242.9 L447.8,244.5 L448.1,246.0 L448.4,247.5 L448.7,249.0 L449.0,250.5 L449.4,252.0 L449.7,253.5 L450.0,255.0 L450.3,256.5 L450.7,258.0 L451.0,259.5 L451.3,261.1 L451.7,262.6 L452.0,264.1 L452.3,265.7 L452.7,267.2 L453.0,268.7 L453.4,270.3 L453.7,271.8 L454.0,273.4 L454.4,274.9 L454.7,276.4 L455.1,278.0 L455.5,279.5 L455.8,281.0 L456.2,282.5 L456.5,284.0 L456.9,285.6 L457.2,287.1 L457.6,288.6 L458.0,290.1 L458.4,291.6 L458.7,293.2 L459.1,294.7 L459.5,296.2 L459.9,297.7 L460.3,299.2 L460.7,300.8 L461.1,302.3 L461.4,303.8 L461.8,305.3 L462.2,306.8 L462.6,308.3 L463.0,309.8 L463.4,311.2 L463.8,312.7 L464.2,314.2 L464.5,315.7 L464.9,317.1 L465.3,318.6 L465.7,320.0 L466.1,321.6 L466.5,323.1 L466.9,324.6 L467.3,326.1 L467.7,327.6 L468.1,329.1 L468.5,330.6 L468.9,332.1 L469.3,333.6 L469.6,335.1 L470.0,336.6 L470.4,338.0 L470.8,339.5 L471.2,340.9 L471.6,342.4 L472.0,343.8 L472.4,345.3 L472.7,346.7 L473.1,348.2 L473.5,349.6 L473.9,351.2 L474.3,352.8 L474.7,354.3 L475.1,355.9 L475.5,357.4 L475.9,359.0 L476.3,360.5 L476.7,362.0 L477.1,363.6 L477.5,365.1 L477.9,366.6 L478.3,368.1 L478.7,369.6 L479.1,371.1 L479.5,372.6 L479.9,374.1 L480.3,375.6 L480.7,377.2 L481.2,378.7 L481.6,380.2 L482.0,381.8 L482.4,383.3 L482.8,384.8 L483.3,386.3 L483.7,387.8 L484.1,389.3 L484.6,390.8 L485.0,392.3 L485.5,393.8 L486.0,395.3 L486.5,396.8 L487.0,398.3 L487.5,399.7 L488.0,401.2 L488.6,402.7 L489.1,404.2 L489.7,405.7 L490.3,407.1 L490.9,408.6 L491.4,410.1 L492.1,411.5 L492.7,413.0 L493.3,414.4 L494.0,415.9 L494.6,417.3 L495.3,418.7 L496.0,420.1 L496.7,421.5 L497.5,422.9 L498.2,424.3 L498.9,425.6 L499.7,426.9 L500.4,428.2 L501.2,429.5 L502.0,430.8 L502.8,432.1 L503.7,433.4 L504.5,434.7 L505.4,435.9 L506.2,437.2 L507.1,438.5 L507.9,439.7 L508.8,441.0 L509.7,442.2 L510.6,443.4 L511.5,444.6 L512.4,445.8 L513.3,447.1 L514.2,448.3 L515.2,449.5 L516.1,450.7 L517.1,451.8 L518.1,453.0 L519.0,454.2 L520.0,455.3 L521.0,456.5 L522.0,457.6 L522.9,458.8 L523.9,459.9 L524.9,461.1 L525.8,462.2 L526.8,463.3 L527.8,464.5 L528.8,465.7 L529.8,466.9 L530.7,468.1 L531.7,469.3 L532.7,470.5 L533.7,471.6 L534.6,472.8 L535.6,473.9 L536.6,475.1 L537.6,476.3 L538.6,477.4 L539.6,478.6 L540.6,479.7 L541.6,480.9 L542.6,482.0 L543.6,483.2 L544.6,484.3 L545.6,485.5 L546.6,486.6 L547.7,487.8 L548.7,488.9 L549.7,490.1 L550.8,491.2 L551.8,492.3 L552.9,493.4 L554.1,494.5 L555.2,495.5 L556.3,496.5 L557.4,497.5 L558.5,498.5 L559.6,499.4 L560.8,500.4 L561.9,501.4 L563.1,502.3 L564.3,503.2 L565.5,504.1 L566.7,505.1 L567.9,506.0 L569.2,506.9 L570.4,507.7 L571.7,508.6 L572.9,509.5 L574.2,510.3 L575.5,511.1 L576.8,511.9 L578.1,512.7 L579.4,513.5 L580.7,514.3 L582.1,515.0 L583.4,515.8 L584.8,516.5 L586.2,517.2 L587.6,517.9 L589.0,518.7 L590.4,519.4 L591.8,520.0 L593.2,520.7 L594.6,521.4 L596.0,522.1 L597.4,522.7 L598.8,523.4 L600.2,524.0 L601.6,524.6 L603.1,525.2 L604.5,525.8 L605.9,526.4 L607.4,527.0 L608.8,527.6 L610.3,528.1 L611.7,528.7 L613.2,529.2 L614.6,529.8 L616.1,530.3 L617.5,530.9 L619.0,531.4 L620.4,531.9 L621.9,532.4 L623.3,532.9 L624.8,533.5 L626.3,534.0 L627.8,534.5 L629.3,535.0 L630.7,535.5 L632.2,536.0 L633.7,536.5 L635.2,536.9 L636.7,537.4 L638.2,537.9 L639.7,538.3 L641.2,538.7 L642.7,539.2 L644.2,539.6 L645.8,540.0 L647.3,540.4 L648.8,540.7 L650.3,541.1 L651.8,541.4 L653.3,541.8 L654.8,542.1 L656.3,542.4 L657.9,542.8 L659.4,543.1 L660.9,543.4 L662.5,543.7 L664.0,543.9 L665.6,544.2 L667.1,544.5 L668.7,544.8 L670.2,545.0 L671.8,545.3 L673.3,545.5 L674.8,545.7 L676.4,545.9 L677.9,546.2 L679.5,546.3 L681.0,546.5 L682.6,546.7 L684.2,546.9 L685.7,547.0 L687.3,547.2 L688.9,547.3 L690.4,547.5 L691.9,547.6 L693.5,547.8 L695.0,547.9 L696.5,548.1 L697.9,548.3 L699.4,548.4 L700.8,548.6 L702.5,548.8 L704.1,549.0 L705.7,549.2 L707.2,549.5 L708.8,549.7 L710.3,549.9 L711.9,550.1 L713.4,550.3 L714.9,550.5 L716.4,550.8 L717.9,551.0 L719.5,551.2 L721.0,551.4" fill="none" stroke="#ff0000" stroke-width="6.2" stroke-linecap="round" stroke-linejoin="round"/>
<path d="M272.0,552.5 L273.6,552.5 L275.2,552.4 L276.8,552.4 L278.4,552.3 L280.1,552.3 L281.7,552.3 L283.3,552.2 L284.9,552.2 L286.5,552.1 L288.1,552.1 L289.7,552.1 L291.3,552.0 L292.8,551.9 L294.3,551.9 L295.7,551.8 L297.1,551.7 L298.9,551.6 L300.6,551.5 L302.2,551.5 L303.9,551.4 L305.5,551.3 L307.0,551.2 L308.5,551.1 L310.0,550.8 L311.4,550.5 L312.8,550.2 L314.3,549.6 L315.8,548.9 L317.2,548.2 L318.5,547.4 L319.8,546.5 L321.1,545.5 L322.3,544.4 L323.3,543.3 L324.3,542.2 L325.2,540.9 L326.1,539.6 L327.0,538.2 L327.9,536.8 L328.7,535.3 L329.5,533.8 L330.3,532.3 L331.1,530.8 L331.8,529.4 L332.5,528.0 L333.2,526.6 L333.8,525.1 L334.5,523.7 L335.1,522.2 L335.7,520.6 L336.3,519.1 L336.9,517.6 L337.5,516.0 L338.0,514.5 L338.6,512.9 L339.0,511.4 L339.5,510.0 L339.9,508.6 L340.4,507.1 L340.8,505.7 L341.2,504.2 L341.5,502.7 L341.9,501.2 L342.3,499.7 L342.7,498.2 L343.0,496.6 L343.4,495.0 L343.8,493.3 L344.2,491.7 L344.5,490.3 L344.8,488.9 L345.1,487.6 L345.4,486.2 L345.6,484.7 L345.9,483.3 L346.2,481.8 L346.5,480.4 L346.8,478.9 L347.1,477.4 L347.4,475.8 L347.6,474.3 L347.9,472.8 L348.2,471.2 L348.5,469.6 L348.8,468.1 L349.0,466.5 L349.3,464.9 L349.6,463.3 L349.9,461.7 L350.2,460.0 L350.4,458.4 L350.7,457.0 L350.9,455.6 L351.2,454.2 L351.4,452.8 L351.7,451.3 L351.9,449.9 L352.2,448.4 L352.4,446.9 L352.7,445.5 L352.9,444.0 L353.1,442.5 L353.4,441.0 L353.6,439.5 L353.9,438.0 L354.1,436.4 L354.4,434.9 L354.6,433.4 L354.9,431.9 L355.1,430.3 L355.4,428.8 L355.6,427.2 L355.8,425.7 L356.1,424.1 L356.3,422.5 L356.6,421.0 L356.8,419.4 L357.1,417.8 L357.3,416.2 L357.5,414.7 L357.8,413.1 L358.0,411.7 L358.2,410.2 L358.4,408.8 L358.6,407.3 L358.8,405.9 L359.0,404.4 L359.2,403.0 L359.4,401.5 L359.6,400.0 L359.8,398.6 L360.0,397.1 L360.2,395.6 L360.4,394.1 L360.6,392.6 L360.9,391.2 L361.1,389.7 L361.3,388.2 L361.5,386.7 L361.7,385.2 L361.9,383.7 L362.1,382.2 L362.3,380.6 L362.5,379.1 L362.7,377.6 L362.9,376.1 L363.1,374.6 L363.3,373.1 L363.5,371.5 L363.7,370.0 L363.9,368.5 L364.1,367.0 L364.3,365.4 L364.5,363.9 L364.7,362.4 L364.9,360.8 L365.1,359.3 L365.3,357.8 L365.5,356.4 L365.7,354.9 L365.9,353.4 L366.1,351.9 L366.3,350.4 L366.5,348.9 L366.7,347.4 L366.9,345.9 L367.1,344.4 L367.3,342.9 L367.5,341.4 L367.7,339.9 L367.9,338.4 L368.1,336.9 L368.3,335.4 L368.5,333.8 L368.7,332.3 L368.9,330.8 L369.1,329.3 L369.3,327.8 L369.5,326.2 L369.7,324.7 L369.9,323.2 L370.1,321.7 L370.3,320.1 L370.5,318.6 L370.7,317.1 L370.9,315.6 L371.1,314.1 L371.3,312.6 L371.5,311.1 L371.7,309.6 L371.9,308.1 L372.1,306.6 L372.3,305.1 L372.5,303.6 L372.7,302.1 L372.9,300.7 L373.1,299.2 L373.4,297.7 L373.6,296.2 L373.8,294.6 L374.0,293.1 L374.2,291.6 L374.5,290.1 L374.7,288.6 L374.9,287.1 L375.1,285.6 L375.3,284.1 L375.6,282.6 L375.8,281.1 L376.0,279.6 L376.2,278.1 L376.4,276.6 L376.7,275.1 L376.9,273.6 L377.1,272.1 L377.3,270.6 L377.6,269.1 L377.8,267.6 L378.0,266.2 L378.2,264.7 L378.5,263.2 L378.7,261.7 L378.9,260.3 L379.1,258.8 L379.3,257.3 L379.6,255.9 L379.8,254.4 L380.0,253.0 L380.2,251.5 L380.4,250.1 L380.7,248.6 L380.9,247.2 L381.1,245.7 L381.3,244.3 L381.6,242.7 L381.8,241.2 L382.0,239.6 L382.2,238.1 L382.5,236.5 L382.7,235.0 L382.9,233.5 L383.2,231.9 L383.4,230.4 L383.6,228.9 L383.8,227.3 L384.1,225.8 L384.3,224.3 L384.5,222.8 L384.7,221.3 L385.0,219.8 L385.2,218.3 L385.4,216.7 L385.6,215.2 L385.9,213.7 L386.1,212.2 L386.3,210.7 L386.6,209.3 L386.8,207.8 L387.0,206.3 L387.3,204.8 L387.5,203.3 L387.7,201.8 L388.0,200.3 L388.2,198.9 L388.5,197.4 L388.7,195.9 L389.0,194.3 L389.2,192.8 L389.5,191.2 L389.7,189.6 L390.0,188.0 L390.2,186.5 L390.5,184.9 L390.7,183.3 L391.0,181.7 L391.2,180.1 L391.4,178.6 L391.7,177.0 L391.9,175.4 L392.2,173.9 L392.5,172.3 L392.7,170.8 L393.0,169.2 L393.3,167.7 L393.5,166.2 L393.8,164.7 L394.1,163.2 L394.4,161.7 L394.7,160.2 L395.0,158.8 L395.4,157.3 L395.7,155.9 L396.0,154.5 L396.4,153.1 L396.7,151.8 L397.2,150.1 L397.6,148.5 L398.1,146.9 L398.6,145.2 L399.0,143.6 L399.5,142.0 L400.0,140.4 L400.4,138.9 L400.9,137.3 L401.5,135.8 L402.0,134.3 L402.5,132.9 L403.1,131.4 L403.7,130.0 L404.3,128.6 L404.9,127.3 L405.5,126.0 L406.2,124.8 L406.9,123.5 L407.6,122.4 L408.5,121.0 L409.5,119.5 L410.5,118.1 L411.6,116.7 L412.6,115.3 L413.8,114.0 L414.9,112.8 L416.0,111.7 L417.2,110.7 L418.3,109.9 L419.4,109.2 L420.5,108.7 L421.5,108.5 L422.9,108.5 L424.4,109.0 L425.8,109.7 L427.2,110.7 L428.6,111.7 L429.9,112.9 L431.1,114.0 L432.2,115.1 L433.2,116.2 L434.1,117.4 L435.1,118.7 L436.0,120.0 L436.8,121.4 L437.6,122.9 L438.4,124.5 L439.0,125.7 L439.6,127.0 L440.1,128.3 L440.6,129.7 L441.1,131.2 L441.6,132.6 L442.1,134.1 L442.6,135.7 L443.0,137.2 L443.5,138.8 L443.9,140.3 L444.3,141.9 L444.8,143.5 L445.2,144.9 L445.6,146.3 L446.0,147.8 L446.4,149.2 L446.7,150.7 L447.1,152.2 L447.5,153.7 L447.9,155.2 L448.2,156.7 L448.6,158.3 L448.9,159.8 L449.3,161.3 L449.7,162.9 L450.0,164.4 L450.4,165.9 L450.7,167.4 L451.1,168.9 L451.4,170.4 L451.8,171.9 L452.1,173.4 L452.4,174.8 L452.8,176.3 L453.1,177.8 L453.4,179.3 L453.7,180.8 L454.1,182.3 L454.4,183.8 L454.7,185.3 L455.0,186.7 L455.3,188.2 L455.7,189.6 L456.0,191.1 L456.3,192.5 L456.6,193.9 L457.0,195.5 L457.4,197.1 L457.8,198.7 L458.2,200.3 L458.6,201.9 L459.0,203.4 L459.4,205.0 L459.8,206.5 L460.2,208.0 L460.6,209.6 L461.0,211.1 L461.3,212.6 L461.7,214.1 L462.1,215.6 L462.5,217.1 L462.8,218.5 L463.2,220.0 L463.6,221.4 L463.9,222.8 L464.3,224.3 L464.7,225.7 L465.0,227.2 L465.4,228.6 L465.7,230.1 L466.0,231.7 L466.3,233.2 L466.6,234.7 L466.9,236.2 L467.2,237.7 L467.5,239.2 L467.8,240.7 L468.0,242.3 L468.3,243.9 L468.6,245.5 L468.9,247.1 L469.2,248.7 L469.5,250.4 L469.8,252.0 L470.1,253.7 L470.3,255.1 L470.6,256.5 L470.9,257.9 L471.1,259.3 L471.4,260.7 L471.6,262.2 L471.9,263.6 L472.2,265.1 L472.5,266.6 L472.8,268.1 L473.0,269.6 L473.3,271.1 L473.6,272.6 L473.9,274.1 L474.2,275.6 L474.5,277.2 L474.8,278.7 L475.1,280.2 L475.4,281.7 L475.7,283.3 L476.1,284.8 L476.4,286.3 L476.7,287.7 L477.0,289.2 L477.3,290.7 L477.7,292.2 L478.0,293.7 L478.3,295.3 L478.7,296.8 L479.0,298.3 L479.3,299.8 L479.7,301.4 L480.0,302.9 L480.4,304.4 L480.7,305.9 L481.1,307.4 L481.5,309.0 L481.8,310.5 L482.2,312.0 L482.6,313.5 L482.9,315.0 L483.3,316.4 L483.7,317.9 L484.1,319.3 L484.5,320.8 L484.9,322.3 L485.3,323.8 L485.7,325.3 L486.1,326.8 L486.5,328.3 L486.9,329.7 L487.3,331.2 L487.7,332.7 L488.1,334.1 L488.5,335.6 L489.0,337.0 L489.4,338.5 L489.8,339.9 L490.3,341.3 L490.7,342.7 L491.2,344.1 L491.7,345.5 L492.2,346.9 L492.6,348.3 L493.1,349.7 L493.7,351.2 L494.3,352.7 L494.8,354.2 L495.4,355.7 L496.0,357.1 L496.6,358.6 L497.2,360.1 L497.8,361.5 L498.5,362.9 L499.1,364.4 L499.7,365.8 L500.4,367.2 L501.0,368.6 L501.7,370.0 L502.4,371.4 L503.0,372.8 L503.7,374.2 L504.4,375.6 L505.1,377.0 L505.7,378.4 L506.4,379.7 L507.1,381.1 L507.9,382.5 L508.6,383.8 L509.3,385.1 L510.0,386.5 L510.8,387.8 L511.5,389.2 L512.2,390.5 L513.0,391.8 L513.7,393.1 L514.5,394.5 L515.2,395.8 L515.9,397.1 L516.7,398.4 L517.4,399.7 L518.2,401.1 L519.0,402.5 L519.7,403.9 L520.5,405.3 L521.3,406.6 L522.1,408.0 L522.8,409.4 L523.6,410.8 L524.4,412.1 L525.2,413.5 L526.0,414.9 L526.7,416.2 L527.5,417.6 L528.3,418.9 L529.1,420.3 L529.9,421.6 L530.7,422.9 L531.5,424.3 L532.3,425.7 L533.1,427.1 L534.0,428.5 L534.8,429.8 L535.6,431.2 L536.4,432.6 L537.3,433.9 L538.1,435.3 L538.9,436.6 L539.7,438.0 L540.5,439.3 L541.4,440.7 L542.2,442.0 L543.0,443.3 L543.8,444.6 L544.7,446.0 L545.6,447.4 L546.4,448.7 L547.3,450.1 L548.1,451.5 L549.0,452.8 L549.8,454.2 L550.7,455.5 L551.6,456.8 L552.4,458.1 L553.3,459.4 L554.1,460.7 L555.0,462.0 L555.9,463.3 L556.8,464.6 L557.6,465.9 L558.5,467.2 L559.4,468.5 L560.2,469.8 L561.1,471.1 L562.0,472.3 L562.9,473.6 L563.8,474.8 L564.7,476.1 L565.6,477.3 L566.6,478.5 L567.6,479.8 L568.5,480.9 L569.5,482.1 L570.5,483.2 L571.4,484.4 L572.4,485.5 L573.5,486.6 L574.5,487.8 L575.5,488.9 L576.6,490.0 L577.7,491.1 L578.8,492.2 L579.9,493.3 L581.0,494.3 L582.1,495.4 L583.2,496.4 L584.4,497.4 L585.5,498.4 L586.7,499.4 L587.9,500.4 L589.1,501.3 L590.3,502.3 L591.5,503.3 L592.8,504.2 L594.0,505.1 L595.3,506.0 L596.6,506.9 L597.8,507.8 L599.1,508.7 L600.4,509.6 L601.7,510.5 L603.0,511.3 L604.3,512.2 L605.7,513.0 L607.0,513.8 L608.4,514.6 L609.7,515.4 L611.1,516.2 L612.5,517.0 L613.9,517.7 L615.2,518.5 L616.6,519.3 L618.0,520.0 L619.4,520.7 L620.8,521.5 L622.2,522.2 L623.6,522.9 L624.9,523.6 L626.3,524.4 L627.6,525.1 L629.0,525.8 L630.3,526.4 L631.7,527.1 L633.1,527.8 L634.5,528.4 L636.0,529.1 L637.4,529.7 L638.9,530.3 L640.4,530.9 L642.0,531.5 L643.3,532.0 L644.7,532.4 L646.1,532.9 L647.6,533.3 L649.0,533.8 L650.5,534.2 L652.0,534.6 L653.5,535.0 L655.0,535.4 L656.6,535.8 L658.1,536.1 L659.6,536.5 L661.2,536.9 L662.7,537.2 L664.3,537.6 L665.8,537.9 L667.3,538.2 L668.9,538.6 L670.4,538.9 L671.8,539.2 L673.3,539.5 L674.9,539.8 L676.5,540.1 L678.0,540.4 L679.6,540.7 L681.2,540.9 L682.8,541.2 L684.4,541.4 L685.9,541.6 L687.5,541.9 L689.1,542.1 L690.6,542.3 L692.1,542.5 L693.6,542.7 L695.1,543.0 L696.6,543.2 L698.0,543.5 L699.4,543.7 L700.8,544.0 L702.5,544.4 L704.1,544.7 L705.6,545.1 L707.2,545.5 L708.7,545.9 L710.2,546.2 L711.7,546.6 L713.1,547.0 L714.6,547.4 L716.1,547.8 L717.6,548.2 L719.1,548.6" fill="none" stroke="#ffc000" stroke-width="6.2" stroke-linecap="round" stroke-linejoin="round"/>
<path d="M289.0,552.5 L290.6,552.4 L292.1,552.4 L293.7,552.4 L295.3,552.3 L296.9,552.3 L298.5,552.2 L300.2,552.2 L301.7,552.2 L303.3,552.1 L304.9,552.1 L306.4,552.0 L307.9,552.0 L309.4,551.9 L310.8,551.8 L312.2,551.7 L313.9,551.6 L315.6,551.5 L317.3,551.5 L318.9,551.4 L320.5,551.3 L322.0,551.1 L323.4,550.9 L324.8,550.6 L326.2,550.2 L327.7,549.5 L329.2,548.7 L330.6,547.8 L331.9,546.8 L333.1,545.7 L334.4,544.4 L335.3,543.3 L336.2,542.1 L337.0,540.9 L337.8,539.5 L338.6,538.1 L339.4,536.7 L340.2,535.2 L340.9,533.7 L341.7,532.2 L342.4,530.7 L343.1,529.3 L343.7,527.9 L344.4,526.4 L345.1,525.0 L345.7,523.5 L346.3,522.0 L347.0,520.5 L347.6,519.0 L348.2,517.4 L348.8,515.9 L349.4,514.3 L349.9,512.8 L350.5,511.3 L351.0,509.8 L351.5,508.4 L352.0,506.9 L352.5,505.4 L353.0,504.0 L353.5,502.4 L353.9,500.9 L354.4,499.4 L354.9,497.8 L355.3,496.2 L355.8,494.5 L356.2,492.8 L356.6,491.4 L356.9,490.1 L357.3,488.7 L357.6,487.2 L357.9,485.8 L358.2,484.3 L358.6,482.9 L358.9,481.4 L359.2,479.9 L359.5,478.3 L359.8,476.8 L360.1,475.2 L360.4,473.6 L360.7,472.0 L361.0,470.4 L361.4,468.8 L361.7,467.2 L362.0,465.5 L362.3,463.9 L362.6,462.2 L362.9,460.6 L363.1,459.2 L363.4,457.8 L363.6,456.4 L363.9,455.0 L364.1,453.6 L364.4,452.2 L364.6,450.7 L364.9,449.3 L365.1,447.8 L365.3,446.4 L365.6,444.9 L365.8,443.4 L366.1,441.9 L366.3,440.4 L366.5,438.9 L366.8,437.4 L367.0,435.9 L367.3,434.4 L367.5,432.8 L367.7,431.3 L368.0,429.8 L368.2,428.2 L368.4,426.7 L368.7,425.1 L368.9,423.6 L369.2,422.0 L369.4,420.5 L369.6,418.9 L369.9,417.3 L370.1,415.8 L370.4,414.2 L370.6,412.8 L370.8,411.4 L371.0,409.9 L371.2,408.5 L371.4,407.1 L371.7,405.6 L371.9,404.2 L372.1,402.7 L372.3,401.2 L372.5,399.8 L372.7,398.3 L373.0,396.8 L373.2,395.3 L373.4,393.9 L373.6,392.4 L373.8,390.9 L374.0,389.4 L374.2,387.9 L374.5,386.4 L374.7,384.9 L374.9,383.4 L375.1,381.9 L375.3,380.4 L375.5,378.9 L375.8,377.4 L376.0,375.9 L376.2,374.4 L376.4,372.9 L376.6,371.3 L376.8,369.8 L377.1,368.3 L377.3,366.8 L377.5,365.3 L377.7,363.8 L377.9,362.2 L378.2,360.7 L378.4,359.2 L378.6,357.7 L378.8,356.3 L379.0,354.8 L379.3,353.3 L379.5,351.8 L379.7,350.3 L379.9,348.8 L380.1,347.3 L380.4,345.8 L380.6,344.3 L380.8,342.8 L381.0,341.3 L381.3,339.8 L381.5,338.2 L381.7,336.7 L381.9,335.2 L382.2,333.7 L382.4,332.2 L382.6,330.6 L382.8,329.1 L383.0,327.6 L383.3,326.1 L383.5,324.6 L383.7,323.0 L383.9,321.5 L384.2,320.0 L384.4,318.5 L384.6,317.0 L384.8,315.5 L385.1,314.0 L385.3,312.4 L385.5,310.9 L385.7,309.4 L386.0,307.9 L386.2,306.5 L386.4,305.0 L386.6,303.5 L386.8,302.0 L387.1,300.5 L387.3,299.1 L387.5,297.5 L387.7,295.9 L388.0,294.4 L388.2,292.8 L388.4,291.3 L388.7,289.7 L388.9,288.2 L389.1,286.7 L389.4,285.1 L389.6,283.6 L389.8,282.0 L390.1,280.5 L390.3,279.0 L390.5,277.4 L390.8,275.9 L391.0,274.4 L391.2,272.8 L391.5,271.3 L391.7,269.8 L391.9,268.3 L392.2,266.7 L392.4,265.2 L392.6,263.7 L392.8,262.2 L393.1,260.7 L393.3,259.2 L393.5,257.7 L393.7,256.2 L394.0,254.7 L394.2,253.2 L394.4,251.7 L394.6,250.2 L394.9,248.7 L395.1,247.3 L395.3,245.8 L395.5,244.3 L395.7,242.7 L396.0,241.2 L396.2,239.6 L396.4,238.1 L396.6,236.6 L396.8,235.0 L397.1,233.5 L397.3,231.9 L397.5,230.4 L397.7,228.9 L397.9,227.4 L398.1,225.8 L398.3,224.3 L398.5,222.8 L398.7,221.3 L399.0,219.8 L399.2,218.3 L399.4,216.8 L399.6,215.3 L399.8,213.8 L400.0,212.3 L400.2,210.8 L400.4,209.3 L400.6,207.8 L400.9,206.3 L401.1,204.8 L401.3,203.3 L401.5,201.8 L401.7,200.3 L402.0,198.9 L402.2,197.4 L402.4,195.9 L402.7,194.3 L402.9,192.8 L403.2,191.2 L403.4,189.6 L403.6,188.0 L403.9,186.5 L404.1,184.9 L404.3,183.3 L404.5,181.7 L404.8,180.1 L405.0,178.6 L405.2,177.0 L405.5,175.4 L405.7,173.9 L406.0,172.3 L406.2,170.8 L406.5,169.2 L406.7,167.7 L407.0,166.2 L407.3,164.7 L407.5,163.2 L407.8,161.7 L408.1,160.2 L408.4,158.8 L408.7,157.3 L409.0,155.9 L409.4,154.5 L409.7,153.1 L410.1,151.8 L410.5,150.1 L410.9,148.5 L411.4,146.9 L411.8,145.2 L412.3,143.6 L412.7,142.0 L413.2,140.4 L413.7,138.9 L414.2,137.3 L414.7,135.8 L415.2,134.3 L415.7,132.8 L416.2,131.4 L416.8,130.0 L417.4,128.6 L418.0,127.3 L418.6,126.0 L419.3,124.8 L420.0,123.5 L420.7,122.4 L421.6,121.0 L422.6,119.5 L423.6,118.1 L424.7,116.7 L425.8,115.3 L426.9,114.0 L428.0,112.8 L429.2,111.7 L430.3,110.7 L431.5,109.9 L432.6,109.2 L433.7,108.8 L434.7,108.5 L436.1,108.5 L437.6,108.9 L439.0,109.7 L440.4,110.6 L441.7,111.7 L443.0,112.8 L444.3,114.0 L445.4,115.1 L446.4,116.3 L447.4,117.6 L448.3,118.9 L449.2,120.4 L450.1,121.9 L450.9,123.5 L451.8,125.1 L452.4,126.4 L452.9,127.7 L453.5,129.1 L454.0,130.6 L454.5,132.1 L455.0,133.6 L455.5,135.1 L456.0,136.7 L456.4,138.3 L456.9,139.9 L457.4,141.5 L457.8,143.1 L458.3,144.7 L458.7,146.1 L459.1,147.5 L459.5,148.9 L459.9,150.3 L460.3,151.7 L460.8,153.2 L461.2,154.6 L461.5,156.1 L461.9,157.6 L462.3,159.0 L462.7,160.5 L463.1,162.0 L463.5,163.5 L463.9,165.0 L464.3,166.4 L464.6,167.9 L465.0,169.3 L465.4,170.8 L465.8,172.4 L466.2,173.9 L466.6,175.4 L467.0,176.9 L467.3,178.5 L467.7,180.0 L468.1,181.5 L468.5,183.0 L468.8,184.6 L469.2,186.1 L469.6,187.6 L469.9,189.1 L470.3,190.5 L470.6,192.0 L470.9,193.5 L471.3,195.1 L471.7,196.7 L472.0,198.3 L472.4,199.9 L472.7,201.5 L473.1,203.0 L473.4,204.6 L473.8,206.2 L474.1,207.7 L474.4,209.2 L474.7,210.8 L475.0,212.3 L475.4,213.8 L475.7,215.3 L476.0,216.8 L476.3,218.3 L476.6,219.8 L476.8,221.3 L477.1,222.7 L477.4,224.2 L477.7,225.6 L477.9,227.1 L478.2,228.6 L478.5,230.1 L478.8,231.7 L479.1,233.2 L479.3,234.7 L479.6,236.2 L479.8,237.7 L480.0,239.3 L480.3,240.8 L480.5,242.4 L480.8,243.9 L481.0,245.5 L481.3,247.1 L481.6,248.7 L481.9,250.4 L482.2,252.1 L482.6,253.7 L482.9,255.1 L483.1,256.5 L483.4,257.9 L483.7,259.3 L484.0,260.8 L484.3,262.2 L484.7,263.7 L485.0,265.2 L485.3,266.6 L485.7,268.1 L486.0,269.6 L486.4,271.1 L486.7,272.7 L487.1,274.2 L487.5,275.7 L487.9,277.2 L488.4,278.7 L488.8,280.3 L489.2,281.8 L489.7,283.3 L490.2,284.8 L490.7,286.2 L491.2,287.6 L491.7,289.1 L492.2,290.5 L492.7,292.0 L493.2,293.4 L493.8,294.9 L494.4,296.3 L494.9,297.8 L495.5,299.3 L496.1,300.7 L496.7,302.2 L497.3,303.7 L497.9,305.1 L498.6,306.6 L499.2,308.0 L499.9,309.5 L500.5,310.9 L501.2,312.3 L501.8,313.8 L502.5,315.2 L503.1,316.6 L503.8,318.0 L504.5,319.3 L505.2,320.7 L505.9,322.1 L506.6,323.5 L507.3,324.8 L508.1,326.2 L508.8,327.5 L509.6,328.9 L510.3,330.2 L511.1,331.6 L511.9,332.9 L512.7,334.2 L513.5,335.5 L514.2,336.8 L515.0,338.1 L515.8,339.4 L516.6,340.7 L517.4,342.0 L518.1,343.3 L518.9,344.6 L519.7,345.9 L520.4,347.2 L521.1,348.4 L521.8,349.7 L522.6,351.1 L523.4,352.5 L524.2,353.9 L525.0,355.3 L525.8,356.7 L526.6,358.0 L527.3,359.4 L528.1,360.8 L528.9,362.1 L529.6,363.5 L530.4,364.8 L531.1,366.2 L531.8,367.5 L532.6,368.9 L533.3,370.2 L534.0,371.6 L534.7,372.9 L535.4,374.3 L536.0,375.6 L536.7,377.1 L537.4,378.5 L538.0,379.9 L538.7,381.3 L539.3,382.8 L539.9,384.2 L540.5,385.6 L541.1,387.0 L541.7,388.5 L542.3,389.9 L542.9,391.3 L543.5,392.7 L544.1,394.1 L544.7,395.5 L545.3,396.9 L545.9,398.3 L546.5,399.7 L547.1,401.2 L547.8,402.7 L548.4,404.1 L549.1,405.6 L549.7,407.1 L550.4,408.5 L551.0,410.0 L551.6,411.4 L552.3,412.9 L552.9,414.3 L553.6,415.8 L554.2,417.2 L554.9,418.7 L555.6,420.1 L556.3,421.5 L557.0,422.9 L557.6,424.3 L558.3,425.7 L559.0,427.1 L559.7,428.5 L560.5,429.9 L561.2,431.2 L561.9,432.6 L562.6,434.0 L563.4,435.4 L564.1,436.7 L564.8,438.1 L565.6,439.4 L566.3,440.7 L567.0,442.1 L567.8,443.4 L568.5,444.7 L569.3,446.1 L570.1,447.5 L570.9,448.8 L571.7,450.2 L572.5,451.6 L573.3,452.9 L574.1,454.3 L574.9,455.6 L575.7,457.0 L576.5,458.3 L577.4,459.6 L578.2,460.9 L579.0,462.2 L579.9,463.4 L580.7,464.7 L581.6,466.0 L582.4,467.2 L583.3,468.5 L584.1,469.7 L585.0,470.9 L585.9,472.2 L586.8,473.4 L587.6,474.6 L588.6,475.7 L589.5,476.9 L590.4,478.1 L591.4,479.3 L592.4,480.4 L593.4,481.6 L594.4,482.8 L595.4,483.9 L596.4,485.0 L597.5,486.2 L598.5,487.3 L599.6,488.4 L600.7,489.5 L601.8,490.6 L603.0,491.7 L604.1,492.8 L605.3,493.8 L606.4,494.8 L607.6,495.8 L608.8,496.8 L610.0,497.8 L611.2,498.8 L612.4,499.8 L613.6,500.7 L614.9,501.7 L616.2,502.6 L617.4,503.5 L618.7,504.4 L620.1,505.3 L621.4,506.2 L622.7,507.0 L624.0,507.8 L625.3,508.6 L626.6,509.4 L628.0,510.2 L629.3,510.9 L630.7,511.6 L632.0,512.4 L633.4,513.1 L634.8,513.8 L636.2,514.5 L637.6,515.1 L639.0,515.8 L640.5,516.5 L641.9,517.1 L643.3,517.8 L644.7,518.4 L646.1,519.0 L647.5,519.6 L648.9,520.2 L650.4,520.7 L651.8,521.3 L653.3,521.8 L654.7,522.4 L656.2,522.9 L657.6,523.4 L659.0,524.0 L660.5,524.5 L661.9,525.0 L663.3,525.5 L664.6,526.1 L666.0,526.6 L667.5,527.2 L668.9,527.8 L670.4,528.4 L671.8,529.0 L673.2,529.6 L674.6,530.2 L675.9,530.7 L677.3,531.3 L678.7,531.9 L680.1,532.4 L681.5,533.0 L682.9,533.5 L684.3,534.0 L685.8,534.5 L687.3,535.0 L688.9,535.5 L690.4,535.9 L691.9,536.4 L693.4,536.8 L695.0,537.2 L696.5,537.7 L698.0,538.1 L699.6,538.6 L701.1,539.0 L702.6,539.5 L704.1,540.0 L705.7,540.5 L707.2,541.0 L708.7,541.6 L710.3,542.1 L711.8,542.6 L713.3,543.2 L714.9,543.7 L716.4,544.3 L717.9,544.8 L719.5,545.4 L721.0,545.9" fill="none" stroke="#92d050" stroke-width="6.2" stroke-linecap="round" stroke-linejoin="round"/>
<path d="M302.0,552.5 L303.6,552.4 L305.2,552.4 L306.9,552.3 L308.6,552.3 L310.2,552.3 L311.9,552.2 L313.5,552.2 L315.2,552.1 L316.8,552.0 L318.3,552.0 L319.9,551.9 L321.3,551.8 L322.8,551.7 L324.5,551.6 L326.2,551.5 L327.9,551.4 L329.5,551.3 L331.1,551.2 L332.6,550.9 L334.0,550.6 L335.4,550.2 L336.9,549.5 L338.3,548.7 L339.6,547.8 L340.9,546.8 L342.1,545.6 L343.4,544.4 L344.3,543.3 L345.2,542.1 L346.2,540.9 L347.1,539.5 L348.0,538.1 L348.8,536.7 L349.7,535.2 L350.6,533.7 L351.4,532.2 L352.3,530.7 L353.0,529.4 L353.7,528.1 L354.4,526.8 L355.1,525.4 L355.8,524.1 L356.4,522.7 L357.1,521.3 L357.8,519.9 L358.4,518.5 L359.1,517.1 L359.7,515.7 L360.3,514.2 L360.9,512.8 L361.4,511.4 L362.0,510.1 L362.5,508.7 L363.0,507.3 L363.5,506.0 L364.0,504.6 L364.5,503.2 L365.0,501.8 L365.5,500.4 L365.9,498.9 L366.4,497.5 L366.9,495.9 L367.3,494.4 L367.8,492.8 L368.1,491.5 L368.5,490.2 L368.8,488.9 L369.2,487.5 L369.5,486.1 L369.9,484.7 L370.2,483.3 L370.5,481.9 L370.9,480.5 L371.2,479.0 L371.5,477.6 L371.8,476.1 L372.1,474.6 L372.4,473.1 L372.8,471.5 L373.1,470.0 L373.4,468.5 L373.7,466.9 L374.0,465.3 L374.3,463.7 L374.6,462.2 L375.0,460.6 L375.2,459.2 L375.5,457.8 L375.8,456.4 L376.0,455.0 L376.3,453.6 L376.5,452.2 L376.8,450.8 L377.1,449.3 L377.3,447.9 L377.6,446.4 L377.8,444.9 L378.1,443.4 L378.4,441.9 L378.6,440.4 L378.9,438.9 L379.1,437.4 L379.4,435.9 L379.6,434.4 L379.9,432.8 L380.1,431.3 L380.4,429.8 L380.7,428.2 L380.9,426.7 L381.2,425.1 L381.4,423.6 L381.7,422.0 L381.9,420.5 L382.2,418.9 L382.4,417.3 L382.7,415.8 L382.9,414.2 L383.2,412.8 L383.4,411.4 L383.6,409.9 L383.9,408.5 L384.1,407.1 L384.3,405.6 L384.5,404.2 L384.8,402.7 L385.0,401.2 L385.2,399.8 L385.5,398.3 L385.7,396.8 L385.9,395.3 L386.1,393.9 L386.4,392.4 L386.6,390.9 L386.8,389.4 L387.0,387.9 L387.3,386.4 L387.5,384.9 L387.7,383.4 L388.0,381.9 L388.2,380.4 L388.4,378.9 L388.6,377.4 L388.9,375.9 L389.1,374.4 L389.3,372.9 L389.5,371.3 L389.8,369.8 L390.0,368.3 L390.2,366.8 L390.5,365.3 L390.7,363.8 L390.9,362.2 L391.2,360.7 L391.4,359.2 L391.6,357.7 L391.9,356.3 L392.1,354.8 L392.3,353.3 L392.6,351.8 L392.8,350.3 L393.0,348.8 L393.3,347.3 L393.5,345.8 L393.7,344.3 L394.0,342.8 L394.2,341.3 L394.4,339.8 L394.7,338.2 L394.9,336.7 L395.1,335.2 L395.4,333.7 L395.6,332.2 L395.8,330.6 L396.1,329.1 L396.3,327.6 L396.6,326.1 L396.8,324.6 L397.0,323.0 L397.3,321.5 L397.5,320.0 L397.7,318.5 L398.0,317.0 L398.2,315.5 L398.4,314.0 L398.7,312.5 L398.9,310.9 L399.1,309.4 L399.4,308.0 L399.6,306.5 L399.8,305.0 L400.1,303.5 L400.3,302.0 L400.5,300.5 L400.8,299.1 L401.0,297.5 L401.2,295.9 L401.5,294.4 L401.7,292.8 L402.0,291.3 L402.2,289.7 L402.4,288.2 L402.7,286.7 L402.9,285.1 L403.2,283.6 L403.4,282.0 L403.6,280.5 L403.9,279.0 L404.1,277.4 L404.3,275.9 L404.6,274.4 L404.8,272.8 L405.1,271.3 L405.3,269.8 L405.5,268.3 L405.8,266.7 L406.0,265.2 L406.2,263.7 L406.5,262.2 L406.7,260.7 L406.9,259.2 L407.2,257.7 L407.4,256.2 L407.6,254.7 L407.8,253.2 L408.1,251.7 L408.3,250.2 L408.5,248.7 L408.7,247.3 L409.0,245.8 L409.2,244.3 L409.4,242.7 L409.7,241.2 L409.9,239.6 L410.1,238.1 L410.3,236.6 L410.6,235.0 L410.8,233.5 L411.0,231.9 L411.2,230.4 L411.4,228.9 L411.6,227.4 L411.9,225.8 L412.1,224.3 L412.3,222.8 L412.5,221.3 L412.7,219.8 L412.9,218.3 L413.1,216.8 L413.3,215.3 L413.6,213.8 L413.8,212.3 L414.0,210.8 L414.2,209.3 L414.4,207.8 L414.7,206.3 L414.9,204.8 L415.1,203.3 L415.3,201.8 L415.6,200.3 L415.8,198.9 L416.0,197.4 L416.3,195.9 L416.5,194.3 L416.8,192.8 L417.0,191.2 L417.3,189.6 L417.5,188.0 L417.7,186.5 L418.0,184.9 L418.2,183.3 L418.5,181.7 L418.7,180.1 L418.9,178.6 L419.2,177.0 L419.4,175.4 L419.7,173.9 L419.9,172.3 L420.2,170.8 L420.5,169.2 L420.7,167.7 L421.0,166.2 L421.3,164.7 L421.6,163.2 L421.9,161.7 L422.2,160.2 L422.5,158.8 L422.8,157.3 L423.1,155.9 L423.5,154.5 L423.8,153.1 L424.2,151.8 L424.6,150.1 L425.1,148.5 L425.5,146.9 L426.0,145.2 L426.4,143.6 L426.9,142.0 L427.4,140.4 L427.8,138.9 L428.3,137.3 L428.9,135.8 L429.4,134.3 L429.9,132.8 L430.5,131.4 L431.0,130.0 L431.6,128.6 L432.2,127.3 L432.9,126.0 L433.6,124.8 L434.2,123.5 L435.0,122.4 L435.9,121.0 L436.9,119.5 L437.9,118.1 L439.0,116.7 L440.1,115.3 L441.3,114.0 L442.4,112.8 L443.6,111.7 L444.7,110.7 L445.8,109.9 L446.9,109.2 L448.0,108.7 L449.0,108.5 L450.5,108.6 L452.0,109.1 L453.4,109.9 L454.8,111.0 L456.1,112.2 L457.4,113.4 L458.3,114.5 L459.2,115.7 L460.0,117.1 L460.8,118.5 L461.5,120.0 L462.3,121.5 L462.9,123.1 L463.6,124.8 L464.2,126.1 L464.7,127.5 L465.1,128.9 L465.6,130.4 L466.1,131.9 L466.5,133.4 L466.9,135.0 L467.3,136.6 L467.8,138.2 L468.2,139.8 L468.6,141.5 L469.1,143.1 L469.6,144.7 L470.0,146.1 L470.4,147.5 L470.8,148.9 L471.2,150.4 L471.7,151.8 L472.1,153.3 L472.5,154.7 L473.0,156.2 L473.4,157.7 L473.8,159.1 L474.3,160.6 L474.7,162.1 L475.1,163.6 L475.6,165.0 L476.0,166.5 L476.4,168.0 L476.9,169.4 L477.3,170.9 L477.8,172.5 L478.3,174.0 L478.7,175.5 L479.2,177.0 L479.7,178.6 L480.1,180.1 L480.6,181.6 L481.1,183.1 L481.5,184.7 L482.0,186.2 L482.4,187.7 L482.9,189.2 L483.3,190.6 L483.7,192.1 L484.2,193.6 L484.6,195.1 L485.0,196.6 L485.4,198.0 L485.8,199.5 L486.2,201.0 L486.6,202.4 L487.0,203.9 L487.4,205.3 L487.8,206.8 L488.2,208.2 L488.6,209.6 L488.9,211.1 L489.3,212.5 L489.7,213.9 L490.0,215.4 L490.4,216.9 L490.7,218.4 L491.0,219.8 L491.4,221.3 L491.7,222.8 L492.0,224.2 L492.3,225.7 L492.7,227.1 L493.0,228.6 L493.4,230.2 L493.8,231.7 L494.2,233.1 L494.6,234.5 L495.0,235.9 L495.4,237.3 L495.8,238.8 L496.2,240.2 L496.7,241.7 L497.1,243.1 L497.6,244.6 L498.1,246.1 L498.5,247.6 L499.1,249.1 L499.6,250.6 L500.2,252.2 L500.7,253.7 L501.2,255.1 L501.7,256.4 L502.3,257.7 L502.8,259.1 L503.4,260.4 L504.0,261.8 L504.6,263.2 L505.2,264.6 L505.8,266.0 L506.4,267.5 L507.1,268.9 L507.7,270.3 L508.4,271.7 L509.0,273.2 L509.7,274.6 L510.3,276.1 L511.0,277.5 L511.7,279.0 L512.4,280.4 L513.0,281.9 L513.7,283.3 L514.4,284.8 L515.0,286.1 L515.6,287.5 L516.3,288.9 L517.0,290.2 L517.6,291.6 L518.3,293.0 L519.0,294.4 L519.7,295.8 L520.3,297.2 L521.0,298.6 L521.7,300.0 L522.4,301.4 L523.1,302.8 L523.8,304.2 L524.5,305.6 L525.2,307.0 L525.9,308.4 L526.6,309.8 L527.3,311.2 L528.0,312.5 L528.6,313.9 L529.3,315.3 L530.0,316.7 L530.6,318.0 L531.3,319.3 L532.0,320.8 L532.6,322.2 L533.3,323.6 L534.0,325.0 L534.7,326.4 L535.4,327.8 L536.0,329.2 L536.7,330.6 L537.4,332.0 L538.1,333.4 L538.7,334.8 L539.4,336.2 L540.0,337.5 L540.7,338.9 L541.3,340.3 L542.0,341.6 L542.6,343.0 L543.2,344.3 L543.8,345.7 L544.4,347.0 L545.1,348.4 L545.6,349.7 L546.3,351.2 L547.0,352.7 L547.6,354.1 L548.2,355.6 L548.9,357.1 L549.5,358.5 L550.1,359.9 L550.7,361.4 L551.3,362.8 L551.9,364.3 L552.5,365.7 L553.0,367.1 L553.6,368.5 L554.2,370.0 L554.8,371.4 L555.3,372.8 L555.9,374.2 L556.4,375.6 L556.9,377.1 L557.5,378.5 L558.0,379.9 L558.5,381.4 L559.0,382.8 L559.5,384.2 L560.0,385.6 L560.4,387.1 L560.9,388.5 L561.4,389.9 L561.9,391.3 L562.3,392.7 L562.8,394.1 L563.3,395.5 L563.8,396.9 L564.3,398.3 L564.8,399.7 L565.4,401.2 L565.9,402.7 L566.5,404.2 L567.0,405.6 L567.6,407.1 L568.1,408.5 L568.7,410.0 L569.2,411.5 L569.8,412.9 L570.4,414.4 L571.0,415.8 L571.6,417.2 L572.2,418.7 L572.8,420.1 L573.5,421.5 L574.1,422.9 L574.8,424.3 L575.5,425.7 L576.3,427.1 L577.0,428.5 L577.8,429.9 L578.5,431.3 L579.3,432.7 L580.1,434.1 L580.9,435.5 L581.7,436.8 L582.5,438.2 L583.4,439.5 L584.2,440.9 L585.0,442.2 L585.8,443.5 L586.6,444.8 L587.5,446.1 L588.3,447.5 L589.2,448.8 L590.1,450.1 L591.0,451.4 L591.9,452.6 L592.7,453.9 L593.6,455.2 L594.5,456.4 L595.4,457.7 L596.3,458.9 L597.2,460.1 L598.1,461.3 L598.9,462.5 L599.8,463.7 L600.7,465.0 L601.7,466.3 L602.6,467.5 L603.5,468.7 L604.4,470.0 L605.3,471.2 L606.2,472.4 L607.1,473.5 L608.0,474.7 L609.0,475.8 L609.9,477.0 L610.9,478.1 L612.0,479.3 L613.0,480.6 L614.1,481.7 L615.2,482.9 L616.3,484.1 L617.5,485.2 L618.6,486.3 L619.8,487.5 L621.0,488.6 L622.2,489.7 L623.4,490.7 L624.5,491.7 L625.7,492.7 L626.9,493.7 L628.2,494.6 L629.4,495.6 L630.7,496.6 L632.0,497.5 L633.2,498.5 L634.5,499.5 L635.9,500.4 L637.2,501.4 L638.4,502.3 L639.6,503.2 L640.8,504.1 L642.1,505.0 L643.4,505.9 L644.6,506.8 L645.9,507.7 L647.2,508.6 L648.5,509.5 L649.8,510.4 L651.1,511.2 L652.4,512.1 L653.7,513.0 L655.0,513.8 L656.3,514.6 L657.6,515.5 L658.9,516.3 L660.2,517.1 L661.5,517.9 L662.8,518.7 L664.1,519.5 L665.4,520.3 L666.7,521.0 L668.0,521.8 L669.3,522.6 L670.7,523.3 L672.0,524.1 L673.3,524.8 L674.7,525.6 L676.1,526.4 L677.5,527.3 L679.0,528.1 L680.4,529.0 L681.9,529.8 L683.3,530.6 L684.7,531.4 L686.1,532.1 L687.5,532.7 L688.9,533.2 L690.3,533.7 L691.6,534.0 L693.3,534.2 L694.9,534.1 L696.5,533.8 L698.1,533.5 L699.6,533.1 L701.2,532.9 L702.8,532.8 L704.5,533.0 L705.8,533.3 L707.1,533.8 L708.4,534.3 L709.7,535.0 L711.1,535.7 L712.4,536.5 L713.8,537.3 L715.1,538.1 L716.5,539.0 L717.9,539.8 L719.2,540.7 L720.6,541.5 L721.9,542.2" fill="none" stroke="#00b050" stroke-width="6.2" stroke-linecap="round" stroke-linejoin="round"/>
<path d="M313.7,552.5 L315.3,552.4 L317.0,552.4 L318.6,552.4 L320.3,552.3 L321.9,552.3 L323.6,552.3 L325.2,552.2 L326.8,552.1 L328.4,552.1 L330.0,551.9 L331.5,551.8 L332.9,551.6 L334.7,551.4 L336.4,551.2 L338.1,550.9 L339.7,550.7 L341.3,550.3 L342.8,549.9 L344.3,549.3 L345.7,548.7 L347.1,547.8 L348.3,546.9 L349.6,545.8 L350.7,544.7 L351.9,543.5 L353.0,542.2 L354.1,540.9 L355.2,539.5 L356.1,538.4 L356.9,537.2 L357.8,536.1 L358.7,534.8 L359.5,533.6 L360.3,532.3 L361.2,530.9 L362.0,529.6 L362.8,528.2 L363.6,526.8 L364.3,525.4 L365.1,523.9 L365.8,522.6 L366.4,521.3 L367.1,520.0 L367.7,518.6 L368.3,517.3 L369.0,515.9 L369.6,514.5 L370.2,513.1 L370.8,511.6 L371.4,510.2 L372.0,508.7 L372.6,507.1 L373.1,505.6 L373.7,504.0 L374.2,502.4 L374.8,500.8 L375.2,499.5 L375.6,498.1 L376.0,496.7 L376.4,495.3 L376.8,493.9 L377.2,492.5 L377.6,491.0 L377.9,489.6 L378.3,488.1 L378.7,486.6 L379.0,485.1 L379.4,483.5 L379.7,482.0 L380.1,480.5 L380.4,478.9 L380.7,477.3 L381.1,475.7 L381.4,474.1 L381.7,472.5 L382.1,470.9 L382.4,469.3 L382.7,467.7 L383.0,466.1 L383.4,464.5 L383.7,462.9 L384.0,461.5 L384.2,460.1 L384.5,458.7 L384.8,457.2 L385.0,455.8 L385.3,454.4 L385.5,452.9 L385.8,451.5 L386.1,450.0 L386.3,448.6 L386.6,447.1 L386.8,445.6 L387.1,444.1 L387.3,442.6 L387.5,441.1 L387.8,439.6 L388.0,438.1 L388.3,436.6 L388.5,435.1 L388.7,433.6 L389.0,432.1 L389.2,430.6 L389.4,429.0 L389.7,427.5 L389.9,426.0 L390.2,424.4 L390.4,422.9 L390.6,421.4 L390.9,419.8 L391.1,418.3 L391.4,416.8 L391.6,415.3 L391.9,413.7 L392.1,412.2 L392.3,410.8 L392.6,409.3 L392.8,407.8 L393.0,406.3 L393.3,404.8 L393.5,403.3 L393.8,401.8 L394.0,400.3 L394.2,398.8 L394.5,397.3 L394.7,395.8 L394.9,394.3 L395.2,392.7 L395.4,391.2 L395.6,389.7 L395.9,388.2 L396.1,386.7 L396.3,385.1 L396.6,383.6 L396.8,382.1 L397.0,380.5 L397.3,379.0 L397.5,377.5 L397.8,375.9 L398.0,374.4 L398.2,372.9 L398.5,371.3 L398.7,369.8 L399.0,368.2 L399.2,366.7 L399.4,365.1 L399.7,363.6 L399.9,362.0 L400.2,360.5 L400.4,358.9 L400.7,357.4 L400.9,356.0 L401.1,354.5 L401.4,353.0 L401.6,351.5 L401.9,350.1 L402.1,348.6 L402.3,347.1 L402.6,345.6 L402.8,344.1 L403.1,342.6 L403.3,341.1 L403.6,339.6 L403.8,338.1 L404.1,336.6 L404.3,335.0 L404.6,333.5 L404.8,332.0 L405.1,330.5 L405.3,329.0 L405.6,327.5 L405.8,326.0 L406.1,324.5 L406.3,323.0 L406.6,321.5 L406.8,319.9 L407.1,318.4 L407.3,316.9 L407.6,315.4 L407.8,313.9 L408.0,312.4 L408.3,310.9 L408.5,309.4 L408.8,308.0 L409.0,306.5 L409.3,305.0 L409.5,303.5 L409.8,302.0 L410.0,300.6 L410.2,299.1 L410.5,297.6 L410.7,296.1 L411.0,294.6 L411.2,293.1 L411.5,291.5 L411.7,290.0 L411.9,288.5 L412.2,287.0 L412.4,285.5 L412.7,284.0 L412.9,282.5 L413.1,281.0 L413.4,279.5 L413.6,278.0 L413.9,276.5 L414.1,275.0 L414.3,273.6 L414.6,272.1 L414.8,270.6 L415.1,269.1 L415.3,267.6 L415.5,266.1 L415.8,264.7 L416.0,263.2 L416.2,261.7 L416.5,260.2 L416.7,258.8 L416.9,257.3 L417.2,255.9 L417.4,254.4 L417.7,252.9 L417.9,251.5 L418.1,250.0 L418.4,248.6 L418.6,247.1 L418.8,245.7 L419.1,244.3 L419.3,242.7 L419.6,241.2 L419.8,239.6 L420.1,238.1 L420.3,236.5 L420.5,235.0 L420.8,233.4 L421.0,231.9 L421.3,230.4 L421.5,228.8 L421.7,227.3 L422.0,225.8 L422.2,224.3 L422.5,222.8 L422.7,221.2 L422.9,219.7 L423.2,218.2 L423.4,216.7 L423.7,215.2 L423.9,213.7 L424.2,212.2 L424.4,210.7 L424.7,209.2 L424.9,207.7 L425.2,206.2 L425.4,204.8 L425.7,203.3 L425.9,201.8 L426.2,200.3 L426.4,198.8 L426.7,197.4 L427.0,195.9 L427.3,194.3 L427.5,192.8 L427.8,191.2 L428.1,189.6 L428.4,188.1 L428.7,186.5 L429.0,184.9 L429.2,183.4 L429.5,181.8 L429.8,180.2 L430.1,178.7 L430.4,177.1 L430.7,175.6 L431.0,174.0 L431.3,172.5 L431.6,170.9 L431.9,169.4 L432.2,167.9 L432.5,166.4 L432.8,164.9 L433.1,163.4 L433.5,161.9 L433.8,160.5 L434.1,159.0 L434.5,157.6 L434.8,156.2 L435.2,154.8 L435.5,153.4 L435.9,152.1 L436.3,150.5 L436.8,148.8 L437.2,147.2 L437.6,145.6 L438.1,144.1 L438.5,142.5 L439.0,140.9 L439.5,139.4 L439.9,137.9 L440.4,136.4 L440.9,134.9 L441.4,133.4 L441.9,132.0 L442.4,130.6 L443.0,129.2 L443.5,127.9 L444.1,126.6 L444.7,125.3 L445.3,124.1 L445.9,122.9 L446.7,121.4 L447.5,119.8 L448.4,118.3 L449.3,116.7 L450.3,115.2 L451.2,113.8 L452.2,112.5 L453.1,111.3 L454.1,110.2 L455.1,109.4 L456.0,108.8 L457.0,108.5 L458.5,108.5 L460.0,109.0 L461.5,109.9 L463.0,111.0 L464.5,112.2 L465.9,113.5 L467.0,114.5 L468.0,115.7 L469.1,116.9 L470.1,118.2 L471.0,119.6 L471.9,121.1 L472.8,122.6 L473.7,124.2 L474.3,125.4 L474.9,126.7 L475.5,128.1 L476.1,129.5 L476.6,131.0 L477.1,132.5 L477.6,134.0 L478.1,135.6 L478.6,137.1 L479.1,138.7 L479.6,140.3 L480.1,141.9 L480.6,143.5 L481.0,144.9 L481.4,146.3 L481.8,147.8 L482.2,149.2 L482.6,150.7 L483.0,152.2 L483.4,153.7 L483.8,155.2 L484.2,156.7 L484.5,158.2 L484.9,159.8 L485.3,161.3 L485.7,162.8 L486.1,164.3 L486.5,165.8 L486.9,167.3 L487.3,168.8 L487.7,170.3 L488.0,171.7 L488.4,173.2 L488.8,174.7 L489.2,176.2 L489.6,177.7 L490.0,179.2 L490.4,180.7 L490.8,182.1 L491.2,183.6 L491.6,185.1 L492.0,186.5 L492.5,188.0 L492.9,189.4 L493.3,190.8 L493.8,192.2 L494.2,193.6 L494.7,195.1 L495.2,196.6 L495.8,198.2 L496.3,199.6 L496.8,201.1 L497.4,202.6 L497.9,204.0 L498.5,205.5 L499.0,206.9 L499.6,208.4 L500.2,209.8 L500.8,211.2 L501.4,212.6 L502.1,214.0 L502.7,215.4 L503.4,216.8 L504.1,218.1 L504.9,219.5 L505.6,220.8 L506.3,222.1 L507.1,223.5 L507.9,224.8 L508.7,226.1 L509.4,227.5 L510.2,228.9 L511.0,230.3 L511.8,231.7 L512.5,233.0 L513.2,234.3 L514.0,235.6 L514.7,236.9 L515.5,238.3 L516.2,239.6 L517.0,240.9 L517.8,242.3 L518.5,243.7 L519.3,245.0 L520.1,246.4 L520.8,247.9 L521.6,249.3 L522.3,250.8 L523.1,252.2 L523.8,253.7 L524.4,255.0 L525.1,256.3 L525.7,257.7 L526.3,259.0 L526.9,260.4 L527.5,261.7 L528.1,263.1 L528.7,264.5 L529.3,265.9 L529.9,267.3 L530.5,268.8 L531.1,270.2 L531.7,271.7 L532.3,273.1 L532.9,274.6 L533.5,276.0 L534.1,277.5 L534.7,278.9 L535.3,280.4 L535.9,281.9 L536.4,283.3 L537.0,284.8 L537.6,286.2 L538.1,287.6 L538.7,289.0 L539.2,290.4 L539.8,291.9 L540.3,293.3 L540.9,294.8 L541.4,296.2 L542.0,297.7 L542.5,299.2 L543.1,300.6 L543.6,302.1 L544.1,303.5 L544.7,305.0 L545.2,306.5 L545.8,307.9 L546.3,309.4 L546.8,310.8 L547.4,312.3 L547.9,313.7 L548.5,315.1 L549.0,316.5 L549.5,318.0 L550.1,319.3 L550.7,320.8 L551.3,322.3 L551.9,323.8 L552.5,325.3 L553.1,326.8 L553.7,328.2 L554.3,329.7 L554.8,331.2 L555.4,332.6 L556.0,334.1 L556.6,335.5 L557.2,336.9 L557.8,338.4 L558.4,339.8 L559.0,341.2 L559.6,342.6 L560.2,344.1 L560.8,345.5 L561.4,346.9 L561.9,348.3 L562.5,349.7 L563.1,351.2 L563.8,352.7 L564.4,354.2 L565.0,355.7 L565.6,357.1 L566.2,358.6 L566.9,360.1 L567.5,361.5 L568.1,363.0 L568.7,364.4 L569.3,365.9 L569.9,367.3 L570.5,368.8 L571.1,370.2 L571.7,371.7 L572.3,373.1 L572.9,374.5 L573.4,376.0 L574.0,377.4 L574.6,378.9 L575.2,380.3 L575.7,381.8 L576.3,383.2 L576.8,384.7 L577.4,386.1 L577.9,387.6 L578.5,389.0 L579.0,390.5 L579.6,391.9 L580.1,393.3 L580.7,394.7 L581.2,396.1 L581.8,397.5 L582.4,398.8 L583.0,400.2 L583.6,401.7 L584.3,403.2 L584.9,404.7 L585.6,406.1 L586.2,407.6 L586.9,409.0 L587.6,410.4 L588.2,411.8 L588.9,413.2 L589.6,414.6 L590.3,416.0 L591.0,417.4 L591.7,418.8 L592.4,420.1 L593.1,421.5 L593.9,422.8 L594.7,424.1 L595.4,425.4 L596.2,426.7 L597.0,428.0 L597.8,429.3 L598.6,430.6 L599.4,431.9 L600.2,433.2 L601.0,434.5 L601.8,435.8 L602.6,437.1 L603.5,438.4 L604.3,439.8 L605.1,441.1 L606.0,442.5 L606.8,443.8 L607.7,445.2 L608.5,446.5 L609.4,447.9 L610.3,449.3 L611.1,450.6 L612.0,452.0 L612.9,453.3 L613.9,454.7 L614.8,456.0 L615.7,457.3 L616.6,458.6 L617.5,459.9 L618.4,461.2 L619.3,462.5 L620.3,463.8 L621.2,465.1 L622.2,466.4 L623.1,467.7 L624.1,469.0 L625.1,470.2 L626.1,471.5 L627.1,472.7 L628.1,473.9 L629.1,475.0 L630.2,476.3 L631.3,477.5 L632.4,478.7 L633.5,479.9 L634.6,481.1 L635.8,482.2 L636.9,483.3 L638.1,484.5 L639.3,485.6 L640.4,486.6 L641.6,487.7 L642.8,488.7 L644.0,489.8 L645.2,490.8 L646.4,491.8 L647.6,492.7 L648.9,493.6 L650.1,494.5 L651.3,495.4 L652.6,496.3 L653.8,497.2 L655.1,498.1 L656.3,499.0 L657.5,500.0 L658.7,501.0 L659.9,502.1 L661.0,503.3 L662.2,504.6 L663.4,506.0 L664.5,507.4 L665.7,508.8 L666.8,510.2 L667.9,511.4 L669.1,512.6 L670.2,513.7 L671.2,514.5 L672.3,515.2 L673.3,515.6 L674.8,515.6 L676.3,515.1 L677.7,514.4 L679.2,513.8 L680.7,513.8 L681.8,514.3 L683.0,515.1 L684.2,516.1 L685.4,517.4 L686.6,518.8 L687.9,520.3 L689.2,521.8 L690.5,523.2 L691.7,524.4 L692.9,525.4 L694.1,526.2 L695.3,526.6 L696.9,526.5 L698.4,525.8 L700.0,524.9 L701.5,523.9 L703.0,523.2 L704.5,523.0 L705.8,523.3 L707.1,524.0 L708.4,524.9 L709.7,525.9 L711.0,527.1 L712.3,528.2 L713.7,529.2 L715.0,530.0 L716.5,530.7 L718.0,531.3 L719.5,531.9 L721.0,532.4 L722.6,532.9 L724.1,533.5 L725.6,534.0" fill="none" stroke="#9dc3e6" stroke-width="6.2" stroke-linecap="round" stroke-linejoin="round"/>
<path d="M319.8,552.0 L321.5,551.8 L323.2,551.5 L325.0,551.3 L326.7,551.0 L328.4,550.8 L330.1,550.5 L331.8,550.2 L333.5,549.9 L335.3,549.6 L337.0,549.3 L338.7,548.9 L340.3,548.5 L342.1,548.1 L343.9,547.6 L345.6,547.1 L347.3,546.5 L348.9,545.9 L350.4,545.4 L351.8,544.8 L353.1,544.1 L354.5,543.4 L355.8,542.5 L357.0,541.6 L358.1,540.7 L359.3,539.7 L360.4,538.6 L361.5,537.5 L362.6,536.2 L363.7,534.9 L364.6,533.8 L365.5,532.7 L366.5,531.4 L367.4,530.1 L368.3,528.8 L369.2,527.4 L370.1,526.0 L371.0,524.7 L371.8,523.3 L372.7,521.9 L373.6,520.5 L374.4,519.2 L375.2,517.9 L376.1,516.5 L376.9,515.2 L377.7,513.8 L378.5,512.5 L379.3,511.1 L380.1,509.7 L380.8,508.4 L381.6,507.0 L382.2,505.6 L382.9,504.2 L383.5,502.8 L384.2,501.3 L384.7,499.9 L385.3,498.5 L385.8,497.1 L386.3,495.6 L386.8,494.0 L387.3,492.4 L387.8,490.7 L388.1,489.4 L388.4,488.1 L388.7,486.8 L389.0,485.5 L389.3,484.1 L389.6,482.7 L389.8,481.3 L390.0,479.9 L390.3,478.4 L390.5,476.9 L390.7,475.4 L391.0,473.8 L391.2,472.2 L391.4,470.7 L391.7,469.1 L391.9,467.5 L392.1,465.8 L392.4,464.2 L392.6,462.6 L392.9,460.9 L393.1,459.6 L393.3,458.2 L393.5,456.9 L393.7,455.5 L393.9,454.1 L394.2,452.6 L394.4,451.2 L394.6,449.8 L394.8,448.3 L395.0,446.9 L395.2,445.4 L395.4,443.9 L395.7,442.4 L395.9,440.9 L396.1,439.4 L396.3,437.8 L396.5,436.3 L396.8,434.8 L397.0,433.2 L397.2,431.7 L397.4,430.1 L397.7,428.6 L397.9,427.0 L398.1,425.4 L398.3,423.9 L398.6,422.3 L398.8,420.7 L399.0,419.2 L399.3,417.6 L399.5,416.0 L399.8,414.5 L400.0,413.0 L400.2,411.6 L400.4,410.2 L400.7,408.7 L400.9,407.3 L401.1,405.8 L401.3,404.3 L401.6,402.9 L401.8,401.4 L402.0,399.9 L402.3,398.5 L402.5,397.0 L402.8,395.5 L403.0,394.0 L403.2,392.5 L403.5,391.0 L403.7,389.5 L404.0,388.0 L404.2,386.5 L404.4,385.0 L404.7,383.5 L404.9,382.0 L405.2,380.5 L405.4,379.0 L405.7,377.5 L405.9,375.9 L406.2,374.4 L406.4,372.9 L406.7,371.4 L406.9,369.9 L407.2,368.3 L407.4,366.8 L407.7,365.3 L407.9,363.8 L408.2,362.2 L408.4,360.7 L408.6,359.2 L408.9,357.7 L409.1,356.2 L409.4,354.7 L409.6,353.3 L409.9,351.8 L410.1,350.3 L410.3,348.8 L410.6,347.3 L410.8,345.8 L411.1,344.3 L411.3,342.7 L411.6,341.2 L411.8,339.7 L412.1,338.2 L412.3,336.7 L412.6,335.2 L412.8,333.7 L413.1,332.1 L413.3,330.6 L413.6,329.1 L413.8,327.6 L414.1,326.1 L414.3,324.5 L414.6,323.0 L414.8,321.5 L415.1,320.0 L415.3,318.5 L415.6,317.0 L415.8,315.5 L416.1,314.0 L416.3,312.4 L416.6,310.9 L416.8,309.4 L417.1,308.0 L417.3,306.5 L417.6,305.0 L417.8,303.5 L418.0,302.0 L418.3,300.5 L418.5,299.1 L418.8,297.5 L419.0,295.9 L419.3,294.4 L419.5,292.8 L419.7,291.3 L420.0,289.7 L420.2,288.2 L420.5,286.6 L420.7,285.1 L420.9,283.6 L421.2,282.0 L421.4,280.5 L421.7,278.9 L421.9,277.4 L422.1,275.9 L422.4,274.3 L422.6,272.8 L422.8,271.3 L423.1,269.8 L423.3,268.2 L423.5,266.7 L423.8,265.2 L424.0,263.7 L424.2,262.2 L424.5,260.7 L424.7,259.2 L425.0,257.7 L425.2,256.2 L425.4,254.7 L425.7,253.2 L425.9,251.7 L426.1,250.2 L426.4,248.7 L426.6,247.2 L426.8,245.7 L427.1,244.3 L427.3,242.7 L427.6,241.2 L427.8,239.6 L428.1,238.1 L428.3,236.5 L428.6,235.0 L428.8,233.4 L429.1,231.9 L429.3,230.4 L429.6,228.8 L429.8,227.3 L430.0,225.8 L430.3,224.3 L430.5,222.7 L430.8,221.2 L431.0,219.7 L431.3,218.2 L431.5,216.7 L431.8,215.2 L432.0,213.7 L432.3,212.2 L432.5,210.7 L432.8,209.2 L433.0,207.7 L433.3,206.2 L433.6,204.7 L433.8,203.3 L434.1,201.8 L434.4,200.3 L434.6,198.8 L434.9,197.4 L435.2,195.9 L435.5,194.3 L435.8,192.8 L436.1,191.2 L436.4,189.6 L436.7,188.1 L437.0,186.5 L437.3,184.9 L437.6,183.4 L437.9,181.8 L438.2,180.2 L438.5,178.7 L438.8,177.1 L439.2,175.6 L439.5,174.0 L439.8,172.5 L440.1,170.9 L440.5,169.4 L440.8,167.9 L441.1,166.4 L441.5,164.9 L441.8,163.4 L442.1,161.9 L442.5,160.5 L442.8,159.0 L443.2,157.6 L443.6,156.2 L443.9,154.8 L444.3,153.4 L444.7,152.1 L445.1,150.5 L445.6,148.8 L446.0,147.2 L446.5,145.6 L447.0,144.1 L447.4,142.5 L447.9,140.9 L448.4,139.4 L448.9,137.9 L449.4,136.4 L449.9,134.9 L450.4,133.4 L450.9,132.0 L451.4,130.6 L451.9,129.3 L452.5,127.9 L453.1,126.6 L453.6,125.4 L454.2,124.1 L454.8,122.9 L455.7,121.3 L456.6,119.6 L457.6,117.8 L458.5,116.1 L459.5,114.5 L460.5,113.0 L461.5,111.6 L462.5,110.5 L463.5,109.5 L464.5,108.9 L465.5,108.5 L467.0,108.6 L468.4,109.2 L469.9,110.3 L471.3,111.6 L472.6,112.9 L473.6,113.9 L474.5,115.1 L475.4,116.4 L476.2,117.8 L477.1,119.3 L477.9,120.8 L478.7,122.4 L479.5,124.0 L480.1,125.2 L480.7,126.5 L481.3,127.9 L481.9,129.2 L482.5,130.6 L483.0,132.1 L483.6,133.6 L484.2,135.1 L484.7,136.6 L485.3,138.1 L485.9,139.6 L486.5,141.1 L487.1,142.6 L487.7,144.1 L488.2,145.5 L488.8,146.9 L489.3,148.3 L489.9,149.7 L490.4,151.1 L491.0,152.5 L491.6,153.9 L492.1,155.4 L492.7,156.8 L493.3,158.2 L493.9,159.7 L494.4,161.1 L495.0,162.5 L495.6,163.9 L496.1,165.2 L496.7,166.6 L497.3,167.9 L497.9,169.4 L498.6,170.9 L499.2,172.4 L499.9,173.9 L500.5,175.3 L501.2,176.8 L501.8,178.2 L502.5,179.6 L503.1,181.0 L503.8,182.4 L504.5,183.7 L505.1,185.0 L505.8,186.3 L506.7,187.8 L507.6,189.2 L508.5,190.6 L509.3,192.0 L510.2,193.3 L511.2,194.6 L512.1,195.9 L513.1,197.3 L514.0,198.7 L515.0,199.9 L515.9,201.1 L516.9,202.4 L517.8,203.6 L518.8,204.9 L519.8,206.2 L520.8,207.4 L521.8,208.7 L522.8,210.0 L523.8,211.4 L524.7,212.8 L525.5,214.0 L526.3,215.2 L527.1,216.4 L527.9,217.7 L528.7,219.0 L529.5,220.2 L530.3,221.5 L531.0,222.9 L531.8,224.2 L532.5,225.5 L533.2,226.9 L533.9,228.3 L534.6,229.6 L535.3,231.0 L535.9,232.4 L536.5,233.7 L537.0,235.1 L537.6,236.4 L538.1,237.8 L538.6,239.2 L539.1,240.6 L539.6,242.0 L540.1,243.4 L540.5,244.9 L541.0,246.3 L541.5,247.8 L542.0,249.3 L542.4,250.8 L542.9,252.3 L543.4,253.8 L543.9,255.2 L544.3,256.6 L544.7,258.0 L545.1,259.4 L545.6,260.8 L546.0,262.3 L546.4,263.7 L546.8,265.2 L547.2,266.7 L547.7,268.2 L548.1,269.7 L548.5,271.2 L548.9,272.7 L549.3,274.2 L549.8,275.7 L550.2,277.2 L550.6,278.7 L551.1,280.2 L551.5,281.8 L552.0,283.3 L552.5,284.8 L552.9,286.2 L553.4,287.6 L553.8,289.0 L554.3,290.5 L554.7,291.9 L555.2,293.3 L555.7,294.8 L556.1,296.2 L556.6,297.7 L557.1,299.2 L557.6,300.6 L558.1,302.1 L558.5,303.5 L559.0,305.0 L559.5,306.4 L560.0,307.9 L560.5,309.3 L561.0,310.8 L561.5,312.2 L562.0,313.7 L562.5,315.1 L563.0,316.5 L563.5,317.9 L564.0,319.3 L564.6,320.8 L565.1,322.3 L565.7,323.8 L566.2,325.3 L566.8,326.8 L567.4,328.3 L567.9,329.8 L568.5,331.3 L569.1,332.7 L569.7,334.2 L570.2,335.7 L570.8,337.1 L571.4,338.6 L572.0,340.0 L572.6,341.5 L573.1,342.9 L573.7,344.3 L574.3,345.8 L574.8,347.2 L575.4,348.6 L575.9,350.0 L576.5,351.5 L577.1,353.1 L577.7,354.6 L578.3,356.1 L578.9,357.6 L579.5,359.1 L580.1,360.6 L580.7,362.1 L581.3,363.6 L581.8,365.1 L582.4,366.5 L583.0,368.0 L583.5,369.4 L584.1,370.9 L584.7,372.3 L585.2,373.7 L585.7,375.1 L586.3,376.5 L586.9,378.1 L587.5,379.7 L588.0,381.3 L588.6,382.8 L589.2,384.4 L589.7,385.9 L590.3,387.5 L590.8,389.0 L591.4,390.5 L591.9,391.9 L592.5,393.4 L593.0,394.8 L593.5,396.2 L594.1,397.5 L594.7,399.0 L595.3,400.5 L595.9,401.9 L596.5,403.3 L597.1,404.7 L597.7,406.0 L598.3,407.3 L599.0,408.6 L599.7,409.9 L600.4,411.2 L601.2,412.5 L602.1,413.8 L603.0,415.1 L603.9,416.3 L604.8,417.5 L605.8,418.8 L606.8,420.0 L607.8,421.3 L608.8,422.7 L609.7,423.9 L610.6,425.1 L611.6,426.3 L612.6,427.6 L613.6,428.8 L614.6,430.1 L615.6,431.4 L616.7,432.7 L617.7,434.0 L618.7,435.3 L619.7,436.7 L620.7,438.0 L621.6,439.2 L622.5,440.4 L623.4,441.7 L624.3,442.9 L625.2,444.2 L626.1,445.4 L627.0,446.7 L627.9,448.0 L628.7,449.3 L629.6,450.5 L630.5,451.8 L631.4,453.1 L632.2,454.3 L633.1,455.5 L634.0,456.9 L634.9,458.3 L635.8,459.7 L636.7,461.1 L637.6,462.5 L638.5,463.9 L639.4,465.2 L640.3,466.6 L641.2,467.9 L642.1,469.2 L643.0,470.4 L644.0,471.6 L645.1,472.9 L646.1,474.1 L647.2,475.3 L648.4,476.6 L649.5,477.7 L650.6,478.8 L651.7,479.9 L652.9,480.9 L653.9,481.8 L655.0,482.6 L656.5,483.5 L658.0,484.1 L659.4,484.6 L660.8,485.3 L662.3,486.3 L663.2,487.2 L664.1,488.4 L665.0,489.7 L665.9,491.2 L666.8,492.7 L667.8,494.3 L668.7,495.9 L669.6,497.3 L670.5,498.6 L671.4,499.7 L672.4,500.5 L673.3,501.0 L674.8,501.0 L676.2,500.4 L677.7,499.6 L679.2,498.9 L680.7,499.0 L681.6,499.5 L682.5,500.3 L683.3,501.4 L684.3,502.7 L685.2,504.2 L686.1,505.9 L687.0,507.6 L687.9,509.4 L688.9,511.2 L689.8,512.9 L690.7,514.5 L691.7,515.9 L692.6,517.2 L693.5,518.2 L694.4,518.9 L695.3,519.3 L696.6,519.2 L697.9,518.4 L699.2,517.3 L700.5,516.0 L701.8,514.8 L703.1,514.0 L704.5,513.8 L705.5,514.0 L706.5,514.5 L707.6,515.2 L708.6,516.1 L709.7,517.1 L710.8,518.3 L712.0,519.6 L713.1,520.9 L714.2,522.3 L715.4,523.7 L716.5,525.1 L717.6,526.5 L718.8,527.9 L719.9,529.1 L721.0,530.3" fill="none" stroke="#2f5597" stroke-width="6.9" stroke-linecap="round" stroke-linejoin="round"/>
<path d="M361.1,531.6 L362.3,530.4 L363.4,529.1 L364.6,527.9 L365.7,526.7 L366.9,525.4 L368.0,524.2 L369.2,522.8 L370.1,521.7 L371.1,520.4 L372.1,519.2 L373.1,517.9 L374.1,516.7 L375.0,515.4 L376.0,514.1 L376.9,512.9 L377.9,511.7 L379.0,510.3 L380.0,509.0 L381.1,507.7 L382.2,506.4 L383.2,505.0 L384.2,503.7 L385.1,502.2 L385.8,500.9 L386.4,499.7 L387.1,498.4 L387.7,497.1 L388.3,495.8 L388.8,494.4 L389.4,492.9 L389.9,491.4 L390.5,489.7 L390.9,488.5 L391.2,487.3 L391.6,486.0 L391.9,484.7 L392.3,483.3 L392.6,481.9 L392.9,480.4 L393.3,479.0 L393.6,477.5 L393.9,475.9 L394.2,474.4 L394.6,472.8 L394.9,471.2 L395.2,469.6 L395.5,467.9 L395.9,466.3 L396.2,464.6 L396.5,463.0 L396.8,461.3 L397.2,459.6 L397.4,458.3 L397.7,457.0 L398.0,455.6 L398.2,454.2 L398.5,452.8 L398.8,451.4 L399.1,450.0 L399.3,448.6 L399.6,447.1 L399.9,445.7 L400.1,444.2 L400.4,442.7 L400.7,441.3 L400.9,439.8 L401.2,438.3 L401.5,436.8 L401.8,435.2 L402.0,433.7 L402.3,432.2 L402.6,430.7 L402.8,429.1 L403.1,427.6 L403.4,426.1 L403.7,424.5 L403.9,423.0 L404.2,421.4 L404.5,419.9 L404.8,418.3 L405.0,416.8 L405.3,415.2 L405.6,413.7 L405.8,412.2 L406.1,410.8 L406.4,409.3 L406.6,407.8 L406.9,406.4 L407.1,404.9 L407.4,403.4 L407.7,401.9 L407.9,400.4 L408.2,399.0 L408.5,397.5 L408.7,396.0 L409.0,394.5 L409.2,393.0 L409.5,391.4 L409.8,389.9 L410.0,388.4 L410.3,386.9 L410.6,385.4 L410.8,383.9 L411.1,382.3 L411.4,380.8 L411.6,379.3 L411.9,377.7 L412.2,376.2 L412.4,374.7 L412.7,373.1 L413.0,371.6 L413.2,370.1 L413.5,368.5 L413.8,367.0 L414.0,365.4 L414.3,363.9 L414.5,362.3 L414.8,360.8 L415.1,359.2 L415.3,357.8 L415.6,356.3 L415.8,354.8 L416.1,353.3 L416.3,351.8 L416.6,350.4 L416.8,348.9 L417.1,347.4 L417.3,345.9 L417.6,344.4 L417.9,342.9 L418.1,341.3 L418.4,339.8 L418.6,338.3 L418.9,336.8 L419.1,335.3 L419.4,333.8 L419.7,332.3 L419.9,330.7 L420.2,329.2 L420.4,327.7 L420.7,326.2 L420.9,324.7 L421.2,323.1 L421.4,321.6 L421.7,320.1 L421.9,318.6 L422.2,317.1 L422.4,315.6 L422.7,314.1 L422.9,312.6 L423.2,311.1 L423.4,309.6 L423.6,308.1 L423.9,306.6 L424.1,305.1 L424.3,303.6 L424.6,302.1 L424.8,300.6 L425.0,299.2 L425.3,297.6 L425.5,296.0 L425.7,294.5 L426.0,292.9 L426.2,291.4 L426.4,289.8 L426.7,288.3 L426.9,286.7 L427.1,285.2 L427.3,283.6 L427.5,282.1 L427.8,280.6 L428.0,279.0 L428.2,277.5 L428.4,275.9 L428.6,274.4 L428.8,272.9 L429.1,271.3 L429.3,269.8 L429.5,268.3 L429.7,266.8 L429.9,265.2 L430.1,263.7 L430.3,262.2 L430.5,260.7 L430.7,259.2 L430.9,257.7 L431.2,256.2 L431.4,254.7 L431.6,253.2 L431.8,251.7 L432.0,250.2 L432.2,248.7 L432.4,247.2 L432.6,245.7 L432.8,244.3 L433.1,242.7 L433.3,241.1 L433.5,239.6 L433.7,238.0 L433.9,236.5 L434.2,235.0 L434.4,233.4 L434.6,231.9 L434.8,230.4 L435.0,228.8 L435.2,227.3 L435.4,225.8 L435.6,224.3 L435.8,222.7 L436.1,221.2 L436.3,219.7 L436.5,218.2 L436.7,216.7 L436.9,215.2 L437.1,213.7 L437.3,212.2 L437.6,210.7 L437.8,209.2 L438.0,207.7 L438.3,206.2 L438.5,204.7 L438.7,203.3 L439.0,201.8 L439.2,200.3 L439.5,198.8 L439.7,197.4 L440.0,195.9 L440.3,194.3 L440.6,192.8 L440.8,191.2 L441.1,189.6 L441.4,188.1 L441.7,186.5 L442.0,184.9 L442.3,183.4 L442.6,181.8 L442.9,180.2 L443.2,178.7 L443.5,177.1 L443.8,175.5 L444.1,174.0 L444.4,172.5 L444.8,170.9 L445.1,169.4 L445.4,167.9 L445.8,166.4 L446.1,164.9 L446.4,163.4 L446.8,161.9 L447.1,160.5 L447.5,159.0 L447.8,157.6 L448.2,156.2 L448.6,154.8 L448.9,153.4 L449.3,152.1 L449.8,150.5 L450.2,148.8 L450.7,147.2 L451.1,145.6 L451.6,144.1 L452.1,142.5 L452.6,140.9 L453.1,139.4 L453.5,137.9 L454.0,136.4 L454.6,134.9 L455.1,133.4 L455.6,132.0 L456.1,130.6 L456.7,129.3 L457.2,127.9 L457.8,126.6 L458.4,125.4 L459.0,124.1 L459.6,122.9 L460.4,121.3 L461.3,119.6 L462.2,117.9 L463.2,116.2 L464.1,114.6 L465.1,113.0 L466.1,111.7 L467.1,110.5 L468.1,109.6 L469.0,108.9 L470.0,108.5 L471.5,108.6 L473.0,109.2 L474.5,110.3 L476.0,111.5 L477.4,112.8 L478.5,113.8 L479.6,114.9 L480.7,116.2 L481.7,117.5 L482.6,118.9 L483.6,120.3 L484.5,121.7 L485.3,123.1 L486.1,124.5 L486.8,126.0 L487.6,127.4 L488.3,129.0 L489.0,130.5 L489.7,132.0 L490.4,133.4 L491.2,134.9 L491.9,136.4 L492.6,137.9 L493.4,139.3 L494.1,140.8 L494.9,142.3 L495.8,143.7 L496.7,145.1 L497.5,146.3 L498.4,147.6 L499.3,148.8 L500.3,150.0 L501.3,151.2 L502.3,152.4 L503.3,153.5 L504.4,154.6 L505.4,155.7 L506.5,156.8 L507.6,157.8 L508.8,158.8 L510.0,159.7 L511.2,160.7 L512.4,161.6 L513.6,162.5 L514.7,163.5 L515.9,164.4 L517.1,165.4 L518.3,166.4 L519.5,167.4 L520.6,168.3 L521.8,169.3 L522.9,170.3 L524.0,171.3 L525.1,172.4 L526.1,173.6 L527.1,174.8 L528.0,176.0 L528.9,177.3 L529.8,178.5 L530.6,179.9 L531.5,181.2 L532.3,182.6 L533.1,184.0 L533.8,185.4 L534.5,186.9 L535.2,188.3 L535.9,189.9 L536.6,191.4 L537.2,193.0 L537.9,194.5 L538.6,196.1 L539.1,197.6 L539.7,199.0 L540.3,200.5 L540.9,202.0 L541.4,203.5 L542.0,205.1 L542.5,206.6 L543.0,208.2 L543.6,209.7 L544.1,211.3 L544.6,212.9 L545.1,214.4 L545.6,215.8 L546.1,217.3 L546.5,218.9 L547.0,220.4 L547.4,221.9 L547.9,223.4 L548.3,225.0 L548.8,226.5 L549.3,228.1 L549.7,229.7 L550.2,231.3 L550.6,232.7 L551.0,234.1 L551.4,235.6 L551.8,237.0 L552.2,238.5 L552.6,240.0 L553.0,241.4 L553.4,242.9 L553.8,244.4 L554.2,246.0 L554.6,247.5 L555.0,249.0 L555.5,250.6 L555.9,252.2 L556.4,253.8 L556.8,255.2 L557.2,256.6 L557.6,258.0 L558.0,259.4 L558.4,260.8 L558.8,262.3 L559.2,263.7 L559.7,265.2 L560.1,266.7 L560.5,268.2 L561.0,269.6 L561.4,271.1 L561.9,272.7 L562.3,274.2 L562.8,275.7 L563.2,277.2 L563.7,278.7 L564.2,280.2 L564.7,281.7 L565.1,283.3 L565.6,284.8 L566.1,286.2 L566.5,287.6 L567.0,289.0 L567.5,290.5 L567.9,291.9 L568.4,293.4 L568.9,294.8 L569.4,296.3 L569.9,297.7 L570.4,299.2 L570.9,300.7 L571.4,302.1 L571.9,303.6 L572.4,305.0 L572.9,306.5 L573.4,308.0 L573.9,309.4 L574.4,310.9 L574.9,312.3 L575.4,313.7 L575.9,315.1 L576.4,316.6 L576.9,318.0 L577.4,319.4 L578.0,320.9 L578.5,322.4 L579.1,323.9 L579.6,325.3 L580.2,326.8 L580.8,328.3 L581.3,329.8 L581.9,331.2 L582.4,332.7 L583.0,334.2 L583.6,335.6 L584.1,337.1 L584.7,338.5 L585.3,339.9 L585.8,341.4 L586.4,342.8 L587.0,344.2 L587.5,345.6 L588.1,347.0 L588.6,348.4 L589.2,349.8 L589.8,351.3 L590.4,352.8 L591.0,354.2 L591.6,355.7 L592.2,357.2 L592.8,358.6 L593.3,360.0 L593.9,361.5 L594.5,362.9 L595.1,364.3 L595.7,365.7 L596.3,367.1 L596.9,368.5 L597.5,369.9 L598.1,371.3 L598.7,372.7 L599.3,374.1 L599.9,375.5 L600.5,376.9 L601.1,378.3 L601.7,379.7 L602.4,381.1 L603.0,382.5 L603.6,383.9 L604.2,385.3 L604.8,386.7 L605.5,388.0 L606.1,389.4 L606.7,390.8 L607.4,392.1 L608.0,393.5 L608.7,394.8 L609.3,396.2 L610.0,397.5 L610.6,398.8 L611.3,400.2 L612.1,401.6 L612.8,403.0 L613.5,404.4 L614.2,405.8 L615.0,407.1 L615.7,408.5 L616.5,409.9 L617.2,411.2 L618.0,412.6 L618.7,413.9 L619.5,415.3 L620.2,416.6 L621.0,417.9 L621.7,419.2 L622.5,420.5 L623.3,421.8 L624.1,423.2 L624.9,424.5 L625.7,425.8 L626.5,427.2 L627.3,428.5 L628.1,429.8 L628.9,431.0 L629.7,432.3 L630.5,433.6 L631.3,434.8 L632.1,436.0 L632.9,437.2 L633.6,438.4 L634.5,439.9 L635.4,441.3 L636.3,442.7 L637.2,444.1 L638.0,445.5 L638.9,446.8 L639.7,448.1 L640.6,449.3 L641.4,450.5 L642.2,451.5 L643.3,452.7 L644.5,453.7 L645.5,454.7 L646.6,455.7 L647.7,457.0 L648.4,458.2 L649.1,459.7 L649.8,461.4 L650.5,463.1 L651.1,464.9 L651.8,466.6 L652.5,468.3 L653.3,469.7 L654.1,470.8 L655.0,471.6 L656.7,472.0 L658.6,471.6 L660.5,471.2 L662.3,471.6 L663.1,472.3 L663.8,473.3 L664.5,474.5 L665.3,476.0 L666.0,477.7 L666.6,479.5 L667.3,481.4 L668.0,483.3 L668.6,485.2 L669.3,487.0 L669.9,488.7 L670.6,490.3 L671.3,491.6 L671.9,492.6 L672.6,493.3 L673.3,493.6 L674.5,493.2 L675.7,491.8 L676.9,490.0 L678.2,488.1 L679.4,486.7 L680.7,486.3 L681.5,486.6 L682.2,487.4 L683.0,488.5 L683.7,489.8 L684.5,491.5 L685.2,493.3 L686.0,495.2 L686.8,497.2 L687.6,499.2 L688.4,501.1 L689.2,502.9 L690.0,504.6 L690.9,506.0 L691.7,507.1 L692.6,507.9 L693.5,508.3 L694.6,508.2 L695.7,507.5 L696.9,506.5 L698.1,505.1 L699.2,503.6 L700.4,502.1 L701.6,500.5 L702.8,499.2 L704.0,498.1 L705.2,497.4 L706.3,497.3 L707.2,497.6 L708.1,498.1 L709.0,498.8 L709.9,499.8 L710.7,500.9 L711.6,502.2 L712.4,503.6 L713.3,505.1 L714.1,506.7 L714.9,508.3 L715.8,510.0 L716.6,511.6 L717.5,513.2 L718.3,514.7 L719.1,516.2 L720.0,517.5" fill="none" stroke="#203864" stroke-width="7.0" stroke-linecap="round" stroke-linejoin="round"/>
<text x="-2" y="24.7" font-family='"Liberation Sans", sans-serif' font-size="33.5" fill="#000">(a)</text>
<text x="78.50" y="604.2" text-anchor="middle" font-family='"Liberation Sans", sans-serif' font-size="30.5" textLength="36" lengthAdjust="spacingAndGlyphs" fill="#000">14</text>
<text x="179.54" y="604.2" text-anchor="middle" font-family='"Liberation Sans", sans-serif' font-size="30.5" textLength="36" lengthAdjust="spacingAndGlyphs" fill="#000">16</text>
<text x="280.57" y="604.2" text-anchor="middle" font-family='"Liberation Sans", sans-serif' font-size="30.5" textLength="36" lengthAdjust="spacingAndGlyphs" fill="#000">18</text>
<text x="381.61" y="604.2" text-anchor="middle" font-family='"Liberation Sans", sans-serif' font-size="30.5" textLength="36" lengthAdjust="spacingAndGlyphs" fill="#000">20</text>
<text x="482.64" y="604.2" text-anchor="middle" font-family='"Liberation Sans", sans-serif' font-size="30.5" textLength="36" lengthAdjust="spacingAndGlyphs" fill="#000">22</text>
<text x="583.68" y="604.2" text-anchor="middle" font-family='"Liberation Sans", sans-serif' font-size="30.5" textLength="36" lengthAdjust="spacingAndGlyphs" fill="#000">24</text>
<text x="684.71" y="604.2" text-anchor="middle" font-family='"Liberation Sans", sans-serif' font-size="30.5" textLength="36" lengthAdjust="spacingAndGlyphs" fill="#000">26</text>
<text x="785.75" y="604.2" text-anchor="middle" font-family='"Liberation Sans", sans-serif' font-size="30.5" textLength="36" lengthAdjust="spacingAndGlyphs" fill="#000">28</text>
<text x="346.1" y="643.2" font-family='"Liberation Sans", sans-serif' font-weight="bold" font-size="30.4" textLength="170.0" lengthAdjust="spacingAndGlyphs" fill="#000">Time (min)</text>
<text transform="translate(61.9,351.0) rotate(-90)" x="0" y="0" font-family='"Liberation Sans", sans-serif' font-weight="bold" font-size="29.5" textLength="133.0" lengthAdjust="spacingAndGlyphs" fill="#000">Intensity</text>
<line x1="807.3" y1="61.5" x2="867.5" y2="61.5" stroke="#aca7a7" stroke-width="6" stroke-linecap="round"/>
<text x="909.0" y="73.3" text-anchor="middle" font-family='"Liberation Sans", sans-serif' font-size="31" textLength="18.5" lengthAdjust="spacingAndGlyphs" fill="#000">0</text>
<line x1="807.3" y1="113.9" x2="867.5" y2="113.9" stroke="#d2009b" stroke-width="6" stroke-linecap="round"/>
<text x="910.3" y="122.7" text-anchor="middle" font-family='"Liberation Sans", sans-serif' font-size="31" textLength="36.8" lengthAdjust="spacingAndGlyphs" fill="#000">20</text>
<line x1="807.3" y1="162.2" x2="867.5" y2="162.2" stroke="#ff0000" stroke-width="6" stroke-linecap="round"/>
<text x="910.3" y="170.3" text-anchor="middle" font-family='"Liberation Sans", sans-serif' font-size="31" textLength="36.8" lengthAdjust="spacingAndGlyphs" fill="#000">40</text>
<line x1="807.3" y1="210.7" x2="867.5" y2="210.7" stroke="#ffc000" stroke-width="6" stroke-linecap="round"/>
<text x="910.3" y="219.4" text-anchor="middle" font-family='"Liberation Sans", sans-serif' font-size="31" textLength="36.8" lengthAdjust="spacingAndGlyphs" fill="#000">60</text>
<line x1="807.3" y1="259.0" x2="867.5" y2="259.0" stroke="#92d050" stroke-width="6" stroke-linecap="round"/>
<text x="910.3" y="267.0" text-anchor="middle" font-family='"Liberation Sans", sans-serif' font-size="31" textLength="36.8" lengthAdjust="spacingAndGlyphs" fill="#000">80</text>
<line x1="807.3" y1="307.1" x2="867.5" y2="307.1" stroke="#00b050" stroke-width="6" stroke-linecap="round"/>
<text x="909.3" y="317.7" text-anchor="middle" font-family='"Liberation Sans", sans-serif' font-size="31" textLength="54.0" lengthAdjust="spacingAndGlyphs" fill="#000">100</text>
<line x1="807.3" y1="355.6" x2="867.5" y2="355.6" stroke="#9dc3e6" stroke-width="6" stroke-linecap="round"/>
<text x="909.3" y="366.4" text-anchor="middle" font-family='"Liberation Sans", sans-serif' font-size="31" textLength="54.0" lengthAdjust="spacingAndGlyphs" fill="#000">120</text>
<line x1="807.3" y1="404.1" x2="867.5" y2="404.1" stroke="#2f5597" stroke-width="6" stroke-linecap="round"/>
<text x="909.3" y="415.1" text-anchor="middle" font-family='"Liberation Sans", sans-serif' font-size="31" textLength="54.0" lengthAdjust="spacingAndGlyphs" fill="#000">140</text>
<line x1="807.3" y1="452.8" x2="867.5" y2="452.8" stroke="#203864" stroke-width="6" stroke-linecap="round"/>
<text x="909.3" y="463.7" text-anchor="middle" font-family='"Liberation Sans", sans-serif' font-size="31" textLength="54.0" lengthAdjust="spacingAndGlyphs" fill="#000">160</text>
<g font-family='"Liberation Sans", sans-serif' fill="#000"><text x="855.6" y="515.4" font-size="27.5" textLength="104.5" lengthAdjust="spacingAndGlyphs">(μC/cm</text><text x="959.6" y="507.1" font-size="17.5" textLength="11" lengthAdjust="spacingAndGlyphs">2</text><text x="973.5" y="515.4" font-size="27.5">)</text></g>
<g stroke="#d9d9d9" stroke-width="1.8"><line x1="180.21" y1="693.15" x2="180.21" y2="1231.85"/><line x1="281.03" y1="693.15" x2="281.03" y2="1231.85"/><line x1="381.84" y1="693.15" x2="381.84" y2="1231.85"/><line x1="482.66" y1="693.15" x2="482.66" y2="1231.85"/><line x1="583.47" y1="693.15" x2="583.47" y2="1231.85"/><line x1="684.29" y1="693.15" x2="684.29" y2="1231.85"/><line x1="79.40" y1="782.93" x2="785.10" y2="782.93"/><line x1="79.40" y1="872.72" x2="785.10" y2="872.72"/><line x1="79.40" y1="962.50" x2="785.10" y2="962.50"/><line x1="79.40" y1="1052.28" x2="785.10" y2="1052.28"/><line x1="79.40" y1="1142.07" x2="785.10" y2="1142.07"/></g>
<text x="536.5" y="765.6" font-family='"Liberation Sans", sans-serif' font-weight="bold" font-size="59" textLength="226.5" lengthAdjust="spacingAndGlyphs" fill="#000" stroke="#000" stroke-width="1.1" stroke-linejoin="round">ZEP530A</text>
<path d="M79.40,693.15 L785.10,693.15 L785.10,1231.85 L79.40,1231.85 Z" fill="none" stroke="#404040" stroke-width="6.3" stroke-linejoin="round"/>
<line x1="79.40" y1="1231.85" x2="785.10" y2="1231.85" stroke="#bfbfbf" stroke-width="3"/>
<path d="M171.4,1231.0 L173.0,1231.0 L174.7,1231.1 L176.4,1231.1 L178.0,1231.2 L179.7,1231.2 L181.3,1231.3 L183.0,1231.3 L184.6,1231.3 L186.1,1231.2 L187.7,1231.2 L189.3,1231.1 L190.9,1231.0 L192.4,1231.0 L194.0,1230.9 L195.5,1230.8 L196.9,1230.5 L198.4,1230.1 L199.8,1229.6 L201.0,1229.0 L202.2,1228.2 L203.4,1227.4 L204.6,1226.5 L205.7,1225.5 L206.8,1224.5 L207.9,1223.3 L209.0,1222.2 L210.1,1220.9 L211.1,1219.6 L211.9,1218.5 L212.7,1217.4 L213.5,1216.2 L214.3,1214.9 L215.1,1213.6 L215.9,1212.3 L216.6,1210.9 L217.3,1209.5 L218.1,1208.0 L218.8,1206.5 L219.5,1205.0 L220.2,1203.5 L220.8,1202.0 L221.5,1200.5 L222.2,1199.0 L222.8,1197.5 L223.4,1196.1 L224.0,1194.7 L224.6,1193.3 L225.1,1191.9 L225.7,1190.4 L226.2,1188.9 L226.7,1187.5 L227.2,1186.0 L227.8,1184.5 L228.3,1182.9 L228.8,1181.4 L229.2,1179.9 L229.7,1178.4 L230.2,1176.8 L230.7,1175.3 L231.2,1173.8 L231.6,1172.3 L232.1,1170.7 L232.6,1169.2 L233.0,1167.7 L233.4,1166.2 L233.9,1164.7 L234.3,1163.3 L234.7,1161.8 L235.1,1160.3 L235.5,1158.7 L236.0,1157.2 L236.4,1155.7 L236.8,1154.2 L237.1,1152.7 L237.5,1151.2 L237.9,1149.7 L238.3,1148.1 L238.7,1146.6 L239.1,1145.1 L239.4,1143.6 L239.8,1142.0 L240.2,1140.5 L240.6,1139.0 L240.9,1137.5 L241.3,1136.0 L241.6,1134.5 L242.0,1133.0 L242.3,1131.5 L242.7,1130.0 L243.0,1128.5 L243.4,1127.0 L243.7,1125.4 L244.0,1123.9 L244.4,1122.4 L244.7,1120.9 L245.0,1119.4 L245.4,1117.9 L245.7,1116.4 L246.0,1114.9 L246.3,1113.4 L246.6,1111.9 L246.9,1110.4 L247.2,1108.9 L247.5,1107.4 L247.8,1105.8 L248.1,1104.3 L248.4,1102.7 L248.7,1101.2 L249.0,1099.6 L249.3,1098.1 L249.5,1096.6 L249.8,1095.0 L250.1,1093.5 L250.3,1092.0 L250.6,1090.4 L250.9,1088.9 L251.1,1087.3 L251.4,1085.8 L251.6,1084.3 L251.9,1082.7 L252.1,1081.1 L252.3,1079.6 L252.6,1078.0 L252.8,1076.5 L253.0,1075.0 L253.3,1073.5 L253.5,1072.0 L253.7,1070.5 L253.9,1069.0 L254.1,1067.5 L254.3,1066.0 L254.5,1064.4 L254.7,1062.9 L254.9,1061.4 L255.0,1059.9 L255.2,1058.3 L255.4,1056.8 L255.6,1055.2 L255.8,1053.7 L256.0,1052.1 L256.2,1050.5 L256.4,1048.9 L256.6,1047.3 L256.8,1045.7 L257.0,1044.2 L257.2,1042.8 L257.4,1041.3 L257.6,1039.9 L257.8,1038.4 L258.0,1036.9 L258.2,1035.4 L258.4,1033.9 L258.6,1032.4 L258.7,1030.9 L258.9,1029.3 L259.1,1027.8 L259.3,1026.3 L259.5,1024.7 L259.7,1023.2 L259.9,1021.7 L260.1,1020.1 L260.3,1018.6 L260.5,1017.0 L260.7,1015.5 L260.9,1013.9 L261.1,1012.4 L261.3,1010.9 L261.5,1009.3 L261.7,1007.8 L261.9,1006.3 L262.1,1004.7 L262.3,1003.2 L262.5,1001.7 L262.7,1000.2 L263.0,998.6 L263.2,997.1 L263.4,995.6 L263.6,994.0 L263.8,992.5 L264.0,991.0 L264.2,989.5 L264.4,987.9 L264.6,986.4 L264.8,984.9 L265.1,983.3 L265.3,981.8 L265.5,980.3 L265.7,978.7 L265.9,977.2 L266.1,975.7 L266.3,974.1 L266.5,972.6 L266.7,971.1 L266.9,969.5 L267.1,968.0 L267.3,966.5 L267.5,964.9 L267.7,963.4 L267.9,961.9 L268.1,960.4 L268.3,958.9 L268.5,957.5 L268.7,956.0 L268.8,954.5 L269.0,953.0 L269.2,951.6 L269.4,950.1 L269.6,948.6 L269.7,947.1 L269.9,945.7 L270.1,944.2 L270.3,942.7 L270.4,941.2 L270.6,939.7 L270.8,938.2 L271.0,936.8 L271.1,935.3 L271.3,933.8 L271.5,932.3 L271.7,930.7 L271.9,929.2 L272.0,927.7 L272.2,926.2 L272.4,924.6 L272.6,923.1 L272.8,921.5 L273.0,920.1 L273.1,918.6 L273.3,917.1 L273.5,915.6 L273.7,914.1 L273.8,912.6 L274.0,911.1 L274.2,909.6 L274.4,908.1 L274.6,906.6 L274.7,905.1 L274.9,903.5 L275.1,902.0 L275.3,900.5 L275.4,898.9 L275.6,897.4 L275.8,895.8 L276.0,894.3 L276.2,892.7 L276.4,891.2 L276.6,889.7 L276.8,888.1 L276.9,886.6 L277.1,885.0 L277.3,883.5 L277.5,882.0 L277.7,880.4 L277.9,878.9 L278.2,877.4 L278.4,875.9 L278.6,874.4 L278.8,872.9 L279.0,871.4 L279.2,869.8 L279.5,868.3 L279.7,866.7 L279.9,865.1 L280.2,863.6 L280.4,862.0 L280.6,860.4 L280.9,858.8 L281.1,857.2 L281.4,855.7 L281.6,854.1 L281.8,852.5 L282.1,850.9 L282.3,849.3 L282.6,847.8 L282.9,846.2 L283.1,844.7 L283.4,843.1 L283.6,841.6 L283.9,840.1 L284.2,838.6 L284.4,837.1 L284.7,835.6 L285.0,834.1 L285.3,832.7 L285.6,831.2 L285.9,829.8 L286.2,828.4 L286.5,827.1 L286.8,825.7 L287.1,824.4 L287.5,822.7 L287.9,821.1 L288.2,819.4 L288.7,817.8 L289.1,816.1 L289.5,814.5 L289.9,813.0 L290.3,811.4 L290.7,809.9 L291.2,808.4 L291.6,806.9 L292.0,805.4 L292.5,804.0 L293.0,802.6 L293.4,801.3 L293.9,800.0 L294.4,798.7 L294.9,797.5 L295.5,796.3 L296.2,794.6 L297.0,792.8 L297.9,791.0 L298.7,789.2 L299.6,787.5 L300.5,786.1 L301.3,784.8 L302.2,783.8 L303.0,783.2 L303.8,783.0 L304.6,783.3 L305.4,784.0 L306.2,785.2 L307.0,786.6 L307.7,788.3 L308.4,790.1 L309.1,792.0 L309.8,793.9 L310.4,795.7 L310.8,796.9 L311.2,798.1 L311.6,799.4 L311.9,800.7 L312.3,802.1 L312.6,803.5 L312.9,804.9 L313.2,806.4 L313.5,807.9 L313.7,809.4 L314.0,811.0 L314.3,812.6 L314.5,814.2 L314.8,815.8 L315.0,817.4 L315.3,819.1 L315.5,820.7 L315.8,822.4 L316.1,824.1 L316.3,825.4 L316.5,826.8 L316.6,828.2 L316.8,829.6 L317.0,831.0 L317.2,832.4 L317.4,833.9 L317.6,835.4 L317.7,836.9 L317.9,838.4 L318.1,839.9 L318.2,841.4 L318.4,843.0 L318.6,844.5 L318.7,846.1 L318.9,847.7 L319.1,849.2 L319.2,850.8 L319.4,852.4 L319.5,854.0 L319.7,855.6 L319.8,857.2 L320.0,858.8 L320.1,860.4 L320.3,862.0 L320.4,863.6 L320.6,865.1 L320.8,866.7 L320.9,868.3 L321.1,869.8 L321.2,871.4 L321.4,872.9 L321.5,874.4 L321.7,875.9 L321.8,877.4 L322.0,879.0 L322.1,880.5 L322.3,882.0 L322.4,883.6 L322.6,885.1 L322.7,886.6 L322.9,888.2 L323.0,889.7 L323.2,891.3 L323.3,892.8 L323.5,894.3 L323.6,895.9 L323.8,897.4 L323.9,899.0 L324.1,900.5 L324.2,902.0 L324.3,903.6 L324.5,905.1 L324.6,906.6 L324.8,908.2 L324.9,909.7 L325.1,911.2 L325.2,912.7 L325.4,914.2 L325.5,915.7 L325.7,917.1 L325.8,918.6 L325.9,920.1 L326.1,921.5 L326.2,923.1 L326.4,924.6 L326.6,926.2 L326.7,927.7 L326.9,929.2 L327.0,930.8 L327.2,932.3 L327.3,933.8 L327.5,935.3 L327.7,936.8 L327.8,938.3 L328.0,939.8 L328.1,941.2 L328.3,942.7 L328.4,944.2 L328.6,945.7 L328.7,947.1 L328.9,948.6 L329.1,950.1 L329.2,951.6 L329.4,953.0 L329.5,954.5 L329.7,956.0 L329.8,957.5 L330.0,958.9 L330.2,960.4 L330.3,961.9 L330.5,963.4 L330.7,964.9 L330.8,966.5 L331.0,968.0 L331.2,969.5 L331.3,971.1 L331.5,972.6 L331.7,974.1 L331.8,975.7 L332.0,977.2 L332.2,978.7 L332.3,980.3 L332.5,981.8 L332.7,983.3 L332.8,984.9 L333.0,986.4 L333.2,987.9 L333.4,989.5 L333.5,991.0 L333.7,992.5 L333.9,994.0 L334.0,995.6 L334.2,997.1 L334.4,998.6 L334.6,1000.2 L334.7,1001.7 L334.9,1003.2 L335.1,1004.7 L335.3,1006.3 L335.4,1007.8 L335.6,1009.3 L335.8,1010.9 L335.9,1012.4 L336.1,1014.0 L336.3,1015.5 L336.4,1017.0 L336.6,1018.6 L336.8,1020.1 L337.0,1021.7 L337.1,1023.2 L337.3,1024.8 L337.5,1026.3 L337.6,1027.8 L337.8,1029.4 L338.0,1030.9 L338.2,1032.4 L338.4,1033.9 L338.5,1035.4 L338.7,1036.9 L338.9,1038.4 L339.1,1039.9 L339.3,1041.4 L339.5,1042.8 L339.6,1044.2 L339.8,1045.7 L340.1,1047.3 L340.3,1048.9 L340.5,1050.5 L340.7,1052.1 L340.9,1053.6 L341.2,1055.2 L341.4,1056.8 L341.6,1058.3 L341.8,1059.8 L342.1,1061.3 L342.3,1062.9 L342.5,1064.4 L342.8,1065.9 L343.0,1067.4 L343.2,1068.9 L343.5,1070.4 L343.7,1071.9 L344.0,1073.4 L344.3,1074.9 L344.6,1076.3 L344.8,1077.8 L345.1,1079.3 L345.4,1080.8 L345.7,1082.3 L346.1,1083.8 L346.4,1085.3 L346.7,1086.7 L347.0,1088.2 L347.3,1089.6 L347.7,1091.1 L348.0,1092.5 L348.4,1094.0 L348.7,1095.5 L349.1,1096.9 L349.4,1098.4 L349.8,1099.8 L350.1,1101.3 L350.5,1102.8 L350.9,1104.3 L351.3,1105.8 L351.6,1107.3 L352.0,1108.7 L352.4,1110.2 L352.7,1111.7 L353.1,1113.2 L353.5,1114.7 L353.9,1116.2 L354.3,1117.7 L354.7,1119.2 L355.1,1120.8 L355.5,1122.3 L355.9,1123.8 L356.3,1125.3 L356.7,1126.9 L357.2,1128.4 L357.6,1129.9 L358.0,1131.4 L358.4,1133.0 L358.8,1134.5 L359.3,1136.0 L359.7,1137.5 L360.1,1139.0 L360.5,1140.5 L361.0,1142.0 L361.4,1143.5 L361.8,1145.0 L362.3,1146.6 L362.7,1148.1 L363.1,1149.6 L363.5,1151.1 L364.0,1152.7 L364.4,1154.2 L364.8,1155.7 L365.3,1157.2 L365.7,1158.7 L366.2,1160.2 L366.6,1161.7 L367.1,1163.2 L367.6,1164.6 L368.0,1166.1 L368.5,1167.5 L369.0,1169.0 L369.5,1170.4 L370.0,1171.8 L370.6,1173.3 L371.1,1174.9 L371.7,1176.4 L372.3,1178.0 L372.8,1179.5 L373.4,1181.0 L374.0,1182.5 L374.6,1184.0 L375.2,1185.5 L375.8,1187.0 L376.4,1188.4 L377.1,1189.8 L377.8,1191.2 L378.5,1192.6 L379.3,1193.9 L380.0,1195.2 L380.9,1196.5 L381.7,1197.8 L382.7,1199.1 L383.6,1200.4 L384.6,1201.6 L385.6,1202.9 L386.6,1204.1 L387.7,1205.3 L388.7,1206.4 L389.8,1207.5 L391.0,1208.6 L392.1,1209.7 L393.3,1210.7 L394.5,1211.7 L395.7,1212.6 L396.9,1213.5 L398.2,1214.4 L399.5,1215.2 L400.9,1216.0 L402.2,1216.7 L403.6,1217.4 L405.1,1218.1 L406.5,1218.7 L408.0,1219.4 L409.5,1219.9 L410.9,1220.5 L412.4,1221.0 L413.9,1221.5 L415.4,1222.0 L416.9,1222.4 L418.3,1222.9 L419.9,1223.3 L421.4,1223.7 L423.0,1224.1 L424.5,1224.4 L426.1,1224.7 L427.7,1224.9 L429.2,1225.2 L430.8,1225.4 L432.4,1225.6 L434.0,1225.8 L435.5,1226.0 L437.1,1226.1 L438.6,1226.3 L440.2,1226.4 L441.7,1226.6 L443.3,1226.7 L444.8,1226.8 L446.4,1226.9 L447.9,1226.9 L449.5,1227.0 L451.0,1227.0 L452.5,1227.1 L454.1,1227.1 L455.6,1227.2 L457.1,1227.2 L458.7,1227.2 L460.2,1227.3" fill="none" stroke="#aca7a7" stroke-width="6.2" stroke-linecap="round" stroke-linejoin="round"/>
<path d="M228.0,1230.8 L229.5,1230.8 L231.1,1230.8 L232.6,1230.9 L234.2,1230.9 L235.8,1231.0 L237.3,1231.0 L238.9,1231.1 L240.4,1231.1 L242.0,1231.1 L243.5,1231.1 L245.0,1231.1 L246.5,1231.0 L248.0,1230.9 L249.4,1230.7 L251.1,1230.4 L252.7,1230.1 L254.4,1229.8 L256.1,1229.5 L257.7,1229.1 L259.3,1228.7 L260.8,1228.2 L262.4,1227.7 L263.9,1227.0 L265.3,1226.3 L266.7,1225.5 L267.9,1224.7 L269.0,1223.8 L270.2,1222.9 L271.3,1221.9 L272.3,1220.8 L273.3,1219.6 L274.3,1218.5 L275.3,1217.2 L276.2,1216.0 L277.1,1214.7 L278.0,1213.4 L278.9,1212.1 L279.6,1210.9 L280.4,1209.6 L281.1,1208.3 L281.7,1207.0 L282.4,1205.6 L283.0,1204.2 L283.6,1202.8 L284.1,1201.3 L284.7,1199.9 L285.3,1198.4 L285.8,1196.9 L286.3,1195.4 L286.9,1194.0 L287.4,1192.5 L287.9,1191.1 L288.4,1189.7 L288.9,1188.3 L289.3,1186.9 L289.8,1185.4 L290.2,1184.0 L290.7,1182.6 L291.1,1181.1 L291.5,1179.6 L291.9,1178.2 L292.4,1176.7 L292.8,1175.2 L293.2,1173.7 L293.6,1172.2 L294.0,1170.6 L294.4,1169.1 L294.8,1167.7 L295.2,1166.2 L295.6,1164.7 L295.9,1163.2 L296.3,1161.7 L296.7,1160.2 L297.1,1158.7 L297.4,1157.2 L297.8,1155.7 L298.1,1154.1 L298.5,1152.6 L298.9,1151.0 L299.2,1149.5 L299.6,1147.9 L299.9,1146.4 L300.2,1144.8 L300.6,1143.2 L300.9,1141.6 L301.2,1140.1 L301.5,1138.6 L301.8,1137.2 L302.1,1135.7 L302.4,1134.2 L302.7,1132.8 L303.0,1131.3 L303.3,1129.8 L303.6,1128.3 L303.8,1126.8 L304.1,1125.3 L304.4,1123.8 L304.6,1122.3 L304.9,1120.8 L305.2,1119.3 L305.4,1117.8 L305.7,1116.3 L305.9,1114.8 L306.2,1113.4 L306.4,1111.9 L306.6,1110.4 L306.9,1108.9 L307.1,1107.5 L307.3,1105.9 L307.5,1104.3 L307.8,1102.8 L308.0,1101.2 L308.2,1099.6 L308.4,1098.1 L308.6,1096.5 L308.8,1095.0 L309.0,1093.5 L309.2,1091.9 L309.4,1090.4 L309.5,1088.8 L309.7,1087.3 L309.9,1085.7 L310.1,1084.2 L310.2,1082.6 L310.4,1081.0 L310.6,1079.5 L310.8,1077.9 L310.9,1076.4 L311.1,1074.9 L311.2,1073.4 L311.4,1071.9 L311.5,1070.4 L311.7,1068.9 L311.8,1067.4 L311.9,1065.9 L312.1,1064.4 L312.2,1062.9 L312.3,1061.3 L312.5,1059.8 L312.6,1058.3 L312.7,1056.7 L312.9,1055.2 L313.0,1053.6 L313.1,1052.1 L313.3,1050.5 L313.4,1048.9 L313.6,1047.3 L313.7,1045.7 L313.9,1044.2 L314.0,1042.8 L314.2,1041.3 L314.3,1039.9 L314.5,1038.4 L314.6,1036.9 L314.7,1035.4 L314.9,1033.9 L315.1,1032.4 L315.2,1030.9 L315.4,1029.4 L315.5,1027.8 L315.7,1026.3 L315.8,1024.8 L316.0,1023.2 L316.2,1021.7 L316.3,1020.1 L316.5,1018.6 L316.6,1017.0 L316.8,1015.5 L317.0,1013.9 L317.1,1012.4 L317.3,1010.9 L317.5,1009.3 L317.6,1007.8 L317.8,1006.3 L318.0,1004.7 L318.1,1003.2 L318.3,1001.7 L318.5,1000.2 L318.6,998.6 L318.8,997.1 L319.0,995.6 L319.2,994.0 L319.3,992.5 L319.5,991.0 L319.7,989.5 L319.9,987.9 L320.0,986.4 L320.2,984.9 L320.4,983.3 L320.6,981.8 L320.7,980.3 L320.9,978.7 L321.1,977.2 L321.3,975.7 L321.5,974.1 L321.6,972.6 L321.8,971.1 L322.0,969.5 L322.2,968.0 L322.4,966.5 L322.5,964.9 L322.7,963.4 L322.9,961.9 L323.1,960.4 L323.2,958.9 L323.4,957.5 L323.6,956.0 L323.7,954.5 L323.9,953.0 L324.1,951.5 L324.2,950.1 L324.4,948.6 L324.6,947.1 L324.7,945.6 L324.9,944.2 L325.1,942.7 L325.2,941.2 L325.4,939.7 L325.6,938.2 L325.8,936.7 L325.9,935.2 L326.1,933.7 L326.3,932.2 L326.5,930.7 L326.6,929.2 L326.8,927.7 L327.0,926.1 L327.2,924.6 L327.4,923.0 L327.6,921.5 L327.8,920.0 L328.0,918.6 L328.1,917.1 L328.3,915.6 L328.5,914.1 L328.7,912.6 L328.9,911.1 L329.1,909.6 L329.3,908.1 L329.4,906.5 L329.6,905.0 L329.8,903.5 L330.0,902.0 L330.2,900.4 L330.4,898.9 L330.6,897.3 L330.8,895.8 L331.0,894.2 L331.2,892.7 L331.4,891.2 L331.6,889.6 L331.8,888.1 L332.1,886.5 L332.3,885.0 L332.5,883.5 L332.7,881.9 L332.9,880.4 L333.1,878.9 L333.4,877.4 L333.6,875.8 L333.8,874.3 L334.1,872.8 L334.3,871.3 L334.5,869.8 L334.8,868.3 L335.0,866.7 L335.3,865.1 L335.5,863.6 L335.7,862.0 L336.0,860.4 L336.2,858.9 L336.5,857.3 L336.7,855.7 L337.0,854.2 L337.3,852.6 L337.5,851.0 L337.8,849.5 L338.0,847.9 L338.3,846.4 L338.6,844.8 L338.8,843.3 L339.1,841.8 L339.4,840.3 L339.7,838.8 L340.0,837.3 L340.2,835.8 L340.5,834.4 L340.8,832.9 L341.1,831.5 L341.4,830.1 L341.7,828.7 L342.0,827.4 L342.4,826.0 L342.7,824.7 L343.1,823.0 L343.5,821.4 L343.9,819.8 L344.3,818.1 L344.7,816.5 L345.2,815.0 L345.6,813.4 L346.0,811.9 L346.5,810.3 L346.9,808.9 L347.4,807.4 L347.8,806.0 L348.3,804.5 L348.8,803.2 L349.3,801.8 L349.8,800.5 L350.3,799.2 L350.9,798.0 L351.5,796.8 L352.2,795.2 L353.0,793.5 L353.9,791.8 L354.7,790.2 L355.6,788.6 L356.5,787.1 L357.4,785.7 L358.3,784.6 L359.1,783.8 L360.0,783.2 L360.9,783.0 L361.8,783.2 L362.8,783.8 L363.8,784.8 L364.8,786.1 L365.7,787.6 L366.7,789.2 L367.7,791.0 L368.6,792.8 L369.5,794.5 L370.3,796.3 L370.9,797.4 L371.4,798.7 L372.0,800.0 L372.5,801.3 L373.0,802.6 L373.5,804.0 L374.0,805.4 L374.5,806.9 L374.9,808.4 L375.4,809.9 L375.8,811.4 L376.3,813.0 L376.7,814.5 L377.2,816.1 L377.6,817.8 L378.0,819.4 L378.5,821.1 L378.9,822.7 L379.4,824.4 L379.7,825.7 L380.1,827.1 L380.4,828.4 L380.8,829.8 L381.1,831.2 L381.4,832.7 L381.8,834.1 L382.1,835.6 L382.4,837.0 L382.8,838.5 L383.1,840.0 L383.4,841.6 L383.7,843.1 L384.1,844.6 L384.4,846.2 L384.7,847.7 L385.0,849.3 L385.4,850.8 L385.7,852.4 L386.0,854.0 L386.3,855.6 L386.6,857.1 L387.0,858.7 L387.3,860.3 L387.6,861.9 L387.9,863.5 L388.2,865.0 L388.6,866.6 L388.9,868.2 L389.2,869.7 L389.5,871.3 L389.8,872.7 L390.1,874.2 L390.4,875.7 L390.7,877.2 L391.0,878.7 L391.3,880.2 L391.6,881.7 L391.9,883.2 L392.2,884.7 L392.5,886.2 L392.8,887.7 L393.1,889.3 L393.4,890.8 L393.7,892.3 L394.0,893.8 L394.3,895.3 L394.6,896.9 L394.9,898.4 L395.2,899.9 L395.5,901.4 L395.8,902.9 L396.1,904.5 L396.4,906.0 L396.7,907.5 L397.0,909.0 L397.3,910.5 L397.6,911.9 L397.9,913.4 L398.2,914.9 L398.5,916.4 L398.8,917.8 L399.1,919.3 L399.3,920.7 L399.6,922.1 L399.9,923.7 L400.3,925.3 L400.6,926.9 L400.9,928.4 L401.2,930.0 L401.5,931.6 L401.8,933.1 L402.1,934.6 L402.4,936.2 L402.7,937.7 L403.0,939.3 L403.3,940.8 L403.6,942.3 L403.9,943.8 L404.2,945.3 L404.5,946.8 L404.8,948.3 L405.1,949.8 L405.4,951.3 L405.7,952.8 L406.0,954.3 L406.3,955.8 L406.6,957.2 L406.9,958.7 L407.2,960.1 L407.6,961.6 L407.9,963.0 L408.2,964.5 L408.5,966.0 L408.9,967.6 L409.2,969.1 L409.6,970.6 L409.9,972.1 L410.3,973.6 L410.6,975.1 L411.0,976.6 L411.3,978.1 L411.7,979.6 L412.0,981.1 L412.4,982.5 L412.7,984.0 L413.1,985.5 L413.4,986.9 L413.8,988.4 L414.1,989.8 L414.5,991.2 L414.9,992.7 L415.2,994.1 L415.6,995.5 L416.0,996.9 L416.3,998.3 L416.7,999.7 L417.1,1001.3 L417.5,1002.8 L418.0,1004.3 L418.4,1005.9 L418.8,1007.4 L419.3,1008.9 L419.7,1010.4 L420.1,1011.9 L420.6,1013.4 L421.0,1014.9 L421.4,1016.3 L421.9,1017.8 L422.3,1019.3 L422.7,1020.7 L423.2,1022.2 L423.6,1023.6 L424.0,1025.0 L424.4,1026.4 L424.9,1027.8 L425.3,1029.2 L425.8,1030.8 L426.2,1032.4 L426.7,1033.9 L427.1,1035.4 L427.6,1036.9 L428.0,1038.4 L428.5,1039.9 L428.9,1041.4 L429.4,1042.9 L429.8,1044.4 L430.3,1045.8 L430.7,1047.3 L431.2,1048.8 L431.6,1050.2 L432.1,1051.7 L432.5,1053.1 L433.0,1054.6 L433.4,1056.1 L433.9,1057.6 L434.3,1059.1 L434.8,1060.5 L435.2,1062.0 L435.7,1063.4 L436.1,1064.9 L436.6,1066.4 L437.0,1067.8 L437.5,1069.3 L438.0,1070.7 L438.4,1072.2 L438.9,1073.6 L439.4,1075.1 L440.0,1076.6 L440.5,1078.1 L441.0,1079.5 L441.6,1081.0 L442.2,1082.5 L442.7,1084.0 L443.3,1085.5 L443.9,1087.0 L444.5,1088.5 L445.1,1090.0 L445.7,1091.4 L446.3,1092.9 L446.9,1094.4 L447.5,1095.9 L448.2,1097.4 L448.8,1098.8 L449.4,1100.2 L450.0,1101.6 L450.7,1103.0 L451.3,1104.4 L452.0,1105.8 L452.7,1107.2 L453.4,1108.6 L454.0,1110.0 L454.7,1111.4 L455.4,1112.9 L456.1,1114.3 L456.8,1115.7 L457.5,1117.1 L458.2,1118.5 L458.8,1119.9 L459.5,1121.3 L460.2,1122.7 L460.9,1124.2 L461.6,1125.6 L462.3,1127.0 L462.9,1128.5 L463.6,1129.9 L464.3,1131.3 L465.0,1132.8 L465.7,1134.2 L466.4,1135.6 L467.1,1137.0 L467.8,1138.5 L468.5,1139.9 L469.2,1141.3 L469.9,1142.7 L470.6,1144.1 L471.3,1145.5 L472.0,1146.9 L472.7,1148.3 L473.3,1149.7 L474.0,1151.0 L474.7,1152.4 L475.4,1153.8 L476.1,1155.2 L476.8,1156.6 L477.5,1157.9 L478.2,1159.3 L479.0,1160.6 L479.7,1161.9 L480.5,1163.2 L481.3,1164.4 L482.2,1165.7 L483.0,1167.0 L483.9,1168.2 L484.8,1169.5 L485.7,1170.7 L486.6,1171.9 L487.5,1173.1 L488.5,1174.3 L489.5,1175.5 L490.5,1176.6 L491.5,1177.8 L492.5,1178.9 L493.5,1179.9 L494.6,1181.0 L495.7,1182.0 L496.9,1182.9 L498.0,1183.9 L499.2,1184.8 L500.4,1185.7 L501.6,1186.5 L502.9,1187.3 L504.2,1188.2 L505.4,1188.9 L506.7,1189.7 L508.1,1190.5 L509.4,1191.2 L510.7,1191.9 L512.1,1192.6 L513.4,1193.3 L514.8,1194.0 L516.1,1194.7 L517.4,1195.3 L518.8,1195.9 L520.1,1196.5 L521.5,1197.1 L522.9,1197.7 L524.3,1198.2 L525.7,1198.8 L527.1,1199.3 L528.5,1199.8 L530.0,1200.3 L531.4,1200.9 L532.8,1201.4 L534.2,1201.9 L535.7,1202.4 L537.1,1202.9 L538.6,1203.4 L540.1,1204.0 L541.6,1204.5 L543.1,1205.0 L544.6,1205.5 L546.1,1206.1 L547.6,1206.6 L549.1,1207.1 L550.6,1207.6 L552.1,1208.1 L553.6,1208.6 L555.2,1209.0 L556.7,1209.5 L558.2,1210.0 L559.7,1210.5 L561.2,1210.9 L562.6,1211.4 L564.1,1211.9 L565.6,1212.3 L567.0,1212.8 L568.5,1213.2 L569.9,1213.7 L571.4,1214.1 L572.9,1214.5 L574.3,1215.0 L575.8,1215.4 L577.2,1215.8 L578.6,1216.2 L580.1,1216.6 L581.5,1217.0 L582.9,1217.4 L584.4,1217.7 L585.9,1218.1 L587.4,1218.5 L588.9,1218.9 L590.4,1219.2 L591.9,1219.6 L593.3,1219.9 L594.8,1220.2 L596.3,1220.6 L597.8,1220.9 L599.3,1221.2 L600.8,1221.5 L602.3,1221.8 L603.8,1222.1 L605.3,1222.4 L606.8,1222.6 L608.3,1222.9 L609.7,1223.1 L611.2,1223.4 L612.7,1223.6 L614.2,1223.8 L615.7,1224.0 L617.2,1224.2 L618.7,1224.5 L620.3,1224.7 L621.8,1224.9 L623.3,1225.1 L624.9,1225.3 L626.4,1225.5 L628.0,1225.7 L629.5,1225.9 L631.1,1226.0 L632.6,1226.2 L634.2,1226.4 L635.7,1226.6 L637.3,1226.8 L638.9,1226.9 L640.5,1227.1 L642.1,1227.3 L643.6,1227.4 L645.2,1227.6 L646.8,1227.8 L648.4,1227.9 L650.0,1228.1 L651.6,1228.2 L653.2,1228.4 L654.8,1228.5 L656.3,1228.6 L657.8,1228.8 L659.3,1228.9 L660.8,1229.0 L662.3,1229.1 L663.8,1229.2 L665.3,1229.4 L666.8,1229.5 L668.3,1229.6 L669.9,1229.7 L671.4,1229.8 L672.9,1229.9 L674.4,1230.0 L675.8,1230.1 L677.3,1230.2 L678.8,1230.3 L680.3,1230.3 L681.8,1230.4 L683.3,1230.5 L684.9,1230.6 L686.4,1230.7 L688.0,1230.7 L689.5,1230.8 L691.0,1230.8 L692.6,1230.9 L694.1,1231.0 L695.6,1231.0 L697.1,1231.1 L698.7,1231.1 L700.2,1231.2 L701.7,1231.2 L703.2,1231.3 L704.8,1231.3 L706.3,1231.4" fill="none" stroke="#d2009b" stroke-width="6.2" stroke-linecap="round" stroke-linejoin="round"/>
<path d="M264.7,1231.0 L266.3,1231.0 L267.9,1231.1 L269.5,1231.2 L271.1,1231.4 L272.7,1231.5 L274.3,1231.6 L275.9,1231.7 L277.4,1231.7 L279.0,1231.7 L280.5,1231.6 L282.0,1231.5 L283.5,1231.3 L285.1,1230.9 L286.7,1230.6 L288.2,1230.1 L289.8,1229.7 L291.3,1229.1 L292.8,1228.5 L294.2,1227.8 L295.6,1227.0 L297.0,1226.1 L298.2,1225.1 L299.3,1224.2 L300.2,1223.2 L301.2,1222.1 L302.1,1221.0 L302.9,1219.7 L303.8,1218.5 L304.6,1217.1 L305.4,1215.8 L306.1,1214.4 L306.9,1213.0 L307.6,1211.5 L308.3,1210.1 L309.0,1208.6 L309.7,1207.2 L310.3,1205.9 L310.9,1204.5 L311.5,1203.2 L312.1,1201.8 L312.6,1200.4 L313.1,1198.9 L313.6,1197.5 L314.1,1196.0 L314.6,1194.5 L315.1,1193.0 L315.5,1191.5 L316.0,1190.1 L316.4,1188.6 L316.8,1187.1 L317.3,1185.7 L317.7,1184.3 L318.1,1182.8 L318.5,1181.3 L318.9,1179.7 L319.4,1178.2 L319.8,1176.6 L320.1,1175.1 L320.5,1173.6 L320.8,1172.0 L321.2,1170.5 L321.5,1169.0 L321.9,1167.4 L322.2,1165.9 L322.5,1164.3 L322.9,1162.8 L323.2,1161.2 L323.5,1159.7 L323.9,1158.2 L324.2,1156.7 L324.5,1155.2 L324.8,1153.6 L325.1,1152.1 L325.4,1150.6 L325.7,1149.1 L326.0,1147.5 L326.3,1145.9 L326.6,1144.4 L326.9,1142.8 L327.2,1141.2 L327.5,1139.6 L327.8,1137.9 L328.0,1136.5 L328.3,1135.1 L328.6,1133.7 L328.8,1132.2 L329.1,1130.7 L329.3,1129.2 L329.6,1127.8 L329.8,1126.3 L330.1,1124.7 L330.4,1123.2 L330.6,1121.7 L330.9,1120.2 L331.1,1118.7 L331.3,1117.1 L331.6,1115.6 L331.8,1114.1 L332.1,1112.6 L332.3,1111.1 L332.5,1109.5 L332.8,1108.0 L333.0,1106.6 L333.2,1105.1 L333.4,1103.6 L333.6,1102.1 L333.8,1100.6 L334.1,1099.1 L334.3,1097.6 L334.5,1096.1 L334.7,1094.7 L334.9,1093.2 L335.1,1091.7 L335.2,1090.2 L335.4,1088.7 L335.6,1087.2 L335.8,1085.7 L336.0,1084.2 L336.2,1082.7 L336.4,1081.2 L336.6,1079.6 L336.8,1078.1 L337.0,1076.6 L337.2,1075.1 L337.4,1073.6 L337.5,1072.1 L337.7,1070.6 L337.9,1069.0 L338.1,1067.5 L338.3,1066.0 L338.4,1064.5 L338.6,1063.0 L338.8,1061.4 L339.0,1059.9 L339.1,1058.3 L339.3,1056.8 L339.5,1055.2 L339.7,1053.7 L339.9,1052.1 L340.1,1050.5 L340.3,1048.9 L340.4,1047.3 L340.6,1045.6 L340.8,1044.2 L341.0,1042.8 L341.2,1041.3 L341.3,1039.8 L341.5,1038.4 L341.7,1036.9 L341.9,1035.4 L342.1,1033.9 L342.3,1032.4 L342.4,1030.8 L342.6,1029.3 L342.8,1027.8 L343.0,1026.3 L343.2,1024.7 L343.4,1023.2 L343.6,1021.6 L343.8,1020.1 L344.0,1018.6 L344.2,1017.0 L344.4,1015.5 L344.5,1013.9 L344.7,1012.4 L344.9,1010.9 L345.1,1009.3 L345.3,1007.8 L345.5,1006.3 L345.7,1004.7 L345.9,1003.2 L346.1,1001.7 L346.3,1000.2 L346.5,998.6 L346.7,997.1 L346.9,995.6 L347.0,994.0 L347.2,992.5 L347.4,991.0 L347.6,989.5 L347.8,987.9 L348.0,986.4 L348.2,984.9 L348.4,983.3 L348.6,981.8 L348.8,980.3 L349.0,978.7 L349.2,977.2 L349.4,975.7 L349.6,974.1 L349.8,972.6 L350.0,971.1 L350.2,969.5 L350.4,968.0 L350.6,966.5 L350.8,964.9 L351.0,963.4 L351.2,961.9 L351.4,960.4 L351.5,958.9 L351.7,957.5 L351.9,956.0 L352.1,954.5 L352.3,953.0 L352.5,951.5 L352.7,950.1 L352.8,948.6 L353.0,947.1 L353.2,945.6 L353.4,944.2 L353.6,942.7 L353.8,941.2 L354.0,939.7 L354.1,938.2 L354.3,936.7 L354.5,935.2 L354.7,933.7 L354.9,932.2 L355.1,930.7 L355.3,929.2 L355.5,927.6 L355.7,926.1 L355.9,924.6 L356.1,923.0 L356.3,921.4 L356.5,920.0 L356.7,918.5 L356.9,917.0 L357.1,915.6 L357.3,914.1 L357.5,912.6 L357.7,911.1 L357.9,909.5 L358.1,908.0 L358.3,906.5 L358.5,905.0 L358.7,903.5 L358.9,901.9 L359.1,900.4 L359.3,898.8 L359.5,897.3 L359.8,895.8 L360.0,894.2 L360.2,892.7 L360.4,891.1 L360.6,889.6 L360.8,888.0 L361.0,886.5 L361.3,885.0 L361.5,883.4 L361.7,881.9 L361.9,880.4 L362.2,878.8 L362.4,877.3 L362.6,875.8 L362.9,874.3 L363.1,872.8 L363.4,871.3 L363.6,869.8 L363.8,868.3 L364.1,866.7 L364.3,865.2 L364.6,863.6 L364.8,862.0 L365.1,860.5 L365.3,858.9 L365.6,857.4 L365.8,855.8 L366.1,854.2 L366.4,852.7 L366.6,851.1 L366.9,849.6 L367.1,848.0 L367.4,846.5 L367.7,845.0 L367.9,843.5 L368.2,841.9 L368.5,840.5 L368.8,839.0 L369.1,837.5 L369.4,836.0 L369.7,834.6 L370.0,833.2 L370.3,831.8 L370.6,830.4 L370.9,829.0 L371.2,827.7 L371.5,826.3 L371.8,825.0 L372.3,823.4 L372.7,821.7 L373.1,820.1 L373.6,818.5 L374.0,816.9 L374.4,815.4 L374.9,813.8 L375.3,812.3 L375.8,810.8 L376.3,809.3 L376.7,807.9 L377.2,806.5 L377.7,805.1 L378.2,803.7 L378.8,802.4 L379.3,801.1 L379.9,799.8 L380.5,798.6 L381.1,797.4 L381.9,795.7 L382.8,794.0 L383.7,792.2 L384.7,790.5 L385.6,788.8 L386.6,787.3 L387.6,785.9 L388.6,784.7 L389.6,783.8 L390.6,783.2 L391.6,783.0 L392.5,783.2 L393.5,783.7 L394.5,784.5 L395.4,785.5 L396.4,786.7 L397.4,788.1 L398.4,789.6 L399.4,791.2 L400.3,792.8 L401.3,794.4 L402.2,796.0 L403.1,797.4 L403.8,798.6 L404.6,799.9 L405.3,801.2 L406.1,802.5 L406.8,803.8 L407.5,805.2 L408.2,806.5 L408.9,807.9 L409.6,809.3 L410.3,810.8 L410.9,812.2 L411.6,813.6 L412.2,815.1 L412.8,816.6 L413.4,818.0 L414.0,819.4 L414.5,820.7 L415.0,822.1 L415.5,823.5 L416.0,824.9 L416.5,826.3 L417.0,827.8 L417.5,829.2 L417.9,830.6 L418.4,832.1 L418.8,833.5 L419.3,835.0 L419.7,836.5 L420.1,837.9 L420.6,839.4 L421.0,840.9 L421.4,842.3 L421.8,843.8 L422.3,845.3 L422.7,846.8 L423.1,848.3 L423.5,849.8 L423.9,851.3 L424.2,852.8 L424.6,854.3 L425.0,855.9 L425.4,857.4 L425.7,858.9 L426.1,860.4 L426.5,862.0 L426.8,863.5 L427.2,865.0 L427.6,866.5 L427.9,868.0 L428.3,869.5 L428.7,871.1 L429.0,872.5 L429.4,874.0 L429.7,875.5 L430.1,877.0 L430.4,878.5 L430.8,879.9 L431.1,881.4 L431.5,882.9 L431.8,884.3 L432.2,885.8 L432.5,887.3 L432.9,888.8 L433.2,890.2 L433.6,891.7 L433.9,893.2 L434.3,894.7 L434.6,896.2 L435.0,897.7 L435.3,899.2 L435.7,900.7 L436.0,902.2 L436.4,903.7 L436.7,905.2 L437.1,906.8 L437.4,908.3 L437.7,909.8 L438.1,911.3 L438.4,912.8 L438.8,914.4 L439.1,915.9 L439.5,917.4 L439.8,919.0 L440.2,920.6 L440.6,922.1 L440.9,923.7 L441.3,925.3 L441.6,926.9 L442.0,928.3 L442.3,929.7 L442.6,931.2 L442.9,932.6 L443.2,934.1 L443.6,935.5 L443.9,937.0 L444.2,938.5 L444.6,939.9 L444.9,941.4 L445.2,942.9 L445.5,944.4 L445.9,945.9 L446.2,947.4 L446.6,948.9 L446.9,950.4 L447.2,951.9 L447.6,953.4 L447.9,954.9 L448.3,956.4 L448.6,957.9 L449.0,959.4 L449.3,960.9 L449.7,962.4 L450.0,963.9 L450.4,965.3 L450.7,966.8 L451.1,968.3 L451.5,969.8 L451.8,971.3 L452.2,972.7 L452.6,974.2 L452.9,975.7 L453.3,977.2 L453.7,978.7 L454.1,980.2 L454.4,981.7 L454.8,983.2 L455.2,984.7 L455.6,986.1 L456.0,987.6 L456.3,989.1 L456.7,990.5 L457.1,992.0 L457.5,993.4 L457.8,994.9 L458.2,996.3 L458.6,997.7 L459.0,999.1 L459.4,1000.7 L459.8,1002.3 L460.3,1003.9 L460.7,1005.4 L461.1,1007.0 L461.6,1008.5 L462.0,1010.1 L462.4,1011.6 L462.9,1013.1 L463.3,1014.7 L463.7,1016.2 L464.2,1017.7 L464.6,1019.2 L465.0,1020.6 L465.4,1022.1 L465.9,1023.6 L466.3,1025.0 L466.7,1026.5 L467.1,1027.9 L467.5,1029.4 L467.9,1030.9 L468.3,1032.5 L468.7,1034.0 L469.1,1035.5 L469.6,1037.0 L470.0,1038.5 L470.4,1040.0 L470.8,1041.5 L471.1,1042.9 L471.5,1044.4 L471.9,1045.9 L472.3,1047.3 L472.7,1048.8 L473.1,1050.2 L473.4,1051.7 L473.8,1053.1 L474.2,1054.6 L474.5,1056.1 L474.9,1057.6 L475.2,1059.0 L475.6,1060.5 L475.9,1062.0 L476.2,1063.4 L476.6,1064.9 L476.9,1066.3 L477.3,1067.8 L477.6,1069.3 L478.0,1070.7 L478.3,1072.2 L478.7,1073.6 L479.1,1075.1 L479.5,1076.6 L480.0,1078.1 L480.4,1079.6 L480.8,1081.1 L481.2,1082.7 L481.7,1084.2 L482.1,1085.7 L482.6,1087.2 L483.1,1088.7 L483.5,1090.2 L484.0,1091.8 L484.6,1093.3 L485.1,1094.7 L485.7,1096.2 L486.3,1097.7 L486.9,1099.1 L487.5,1100.6 L488.1,1102.0 L488.7,1103.4 L489.4,1104.8 L490.1,1106.2 L490.7,1107.7 L491.4,1109.1 L492.2,1110.5 L492.9,1111.8 L493.6,1113.2 L494.4,1114.6 L495.2,1115.9 L496.0,1117.3 L496.8,1118.6 L497.6,1119.9 L498.4,1121.2 L499.3,1122.4 L500.2,1123.7 L501.1,1124.9 L502.0,1126.1 L502.9,1127.4 L503.8,1128.6 L504.8,1129.8 L505.7,1130.9 L506.7,1132.1 L507.7,1133.3 L508.7,1134.4 L509.6,1135.6 L510.6,1136.7 L511.6,1137.8 L512.6,1138.9 L513.6,1140.1 L514.7,1141.2 L515.8,1142.4 L516.9,1143.5 L518.0,1144.6 L519.1,1145.7 L520.2,1146.8 L521.3,1147.9 L522.5,1149.0 L523.6,1150.0 L524.7,1151.1 L525.8,1152.2 L526.9,1153.3 L527.9,1154.4 L529.1,1155.5 L530.2,1156.7 L531.3,1157.8 L532.4,1159.0 L533.5,1160.1 L534.6,1161.3 L535.7,1162.4 L536.8,1163.6 L537.8,1164.7 L538.9,1165.9 L540.1,1167.0 L541.2,1168.2 L542.3,1169.3 L543.4,1170.4 L544.4,1171.5 L545.5,1172.6 L546.5,1173.7 L547.6,1174.9 L548.7,1176.0 L549.7,1177.1 L550.8,1178.2 L551.9,1179.3 L553.0,1180.4 L554.1,1181.5 L555.3,1182.5 L556.4,1183.6 L557.6,1184.6 L558.7,1185.6 L559.9,1186.6 L561.0,1187.6 L562.2,1188.5 L563.4,1189.5 L564.6,1190.4 L565.8,1191.3 L567.1,1192.3 L568.3,1193.2 L569.5,1194.1 L570.8,1194.9 L572.1,1195.8 L573.4,1196.7 L574.7,1197.5 L576.0,1198.3 L577.3,1199.0 L578.6,1199.8 L579.9,1200.5 L581.2,1201.2 L582.5,1201.9 L583.9,1202.6 L585.2,1203.3 L586.6,1204.0 L587.9,1204.6 L589.3,1205.2 L590.7,1205.9 L592.1,1206.5 L593.5,1207.1 L594.9,1207.6 L596.3,1208.2 L597.7,1208.8 L599.2,1209.3 L600.6,1209.9 L602.1,1210.4 L603.5,1210.9 L605.0,1211.4 L606.5,1211.8 L608.0,1212.3 L609.5,1212.7 L611.0,1213.2 L612.4,1213.6 L613.9,1214.0 L615.4,1214.5 L617.0,1214.9 L618.5,1215.3 L620.0,1215.7 L621.5,1216.1 L623.0,1216.5 L624.5,1216.9 L626.0,1217.2 L627.5,1217.6 L629.0,1218.0 L630.5,1218.3 L632.0,1218.7 L633.5,1219.0 L635.0,1219.4 L636.5,1219.7 L638.0,1220.0 L639.6,1220.3 L641.1,1220.6 L642.7,1220.9 L644.2,1221.2 L645.8,1221.5 L647.3,1221.8 L648.8,1222.0 L650.3,1222.2 L651.9,1222.5 L653.5,1222.7 L655.0,1222.9 L656.6,1223.1 L658.2,1223.4 L659.8,1223.6 L661.4,1223.8 L662.9,1223.9 L664.5,1224.1 L666.0,1224.3 L667.5,1224.4 L669.0,1224.6 L670.5,1224.7 L671.9,1224.9 L673.3,1225.0 L675.0,1225.1 L676.6,1225.3 L678.1,1225.4 L679.7,1225.4 L681.2,1225.5 L682.7,1225.6 L684.2,1225.6 L685.6,1225.7 L687.1,1225.7 L688.6,1225.8 L690.1,1225.8 L691.6,1225.9 L693.1,1226.0 L694.7,1226.0 L696.2,1226.1 L697.7,1226.1 L699.3,1226.1 L700.8,1226.2 L702.3,1226.2 L703.9,1226.2 L705.4,1226.3 L706.9,1226.3 L708.5,1226.4 L710.0,1226.4" fill="none" stroke="#ff0000" stroke-width="6.2" stroke-linecap="round" stroke-linejoin="round"/>
<path d="M273.0,1231.0 L274.5,1231.0 L276.1,1231.0 L277.6,1231.0 L279.2,1231.0 L280.8,1231.0 L282.3,1231.0 L283.9,1231.0 L285.5,1231.0 L287.0,1231.0 L288.6,1231.0 L290.1,1231.0 L291.6,1231.0 L293.0,1230.9 L294.5,1230.9 L295.9,1230.8 L297.2,1230.8 L299.0,1230.7 L300.8,1230.6 L302.5,1230.6 L304.2,1230.6 L305.9,1230.5 L307.5,1230.3 L309.0,1230.1 L310.5,1229.7 L311.8,1229.2 L313.3,1228.5 L314.7,1227.7 L316.0,1226.8 L317.3,1225.8 L318.5,1224.6 L319.6,1223.4 L320.8,1222.0 L321.6,1220.9 L322.5,1219.7 L323.3,1218.4 L324.0,1217.0 L324.8,1215.6 L325.5,1214.1 L326.2,1212.6 L326.9,1211.0 L327.6,1209.5 L328.3,1207.9 L329.0,1206.3 L329.7,1204.7 L330.3,1203.3 L330.8,1202.0 L331.4,1200.5 L331.9,1199.1 L332.5,1197.6 L333.0,1196.1 L333.5,1194.6 L334.0,1193.1 L334.5,1191.6 L335.0,1190.1 L335.5,1188.6 L336.0,1187.0 L336.5,1185.5 L337.0,1184.0 L337.5,1182.5 L337.9,1181.1 L338.4,1179.6 L338.9,1178.2 L339.3,1176.7 L339.8,1175.2 L340.3,1173.8 L340.7,1172.4 L341.1,1170.9 L341.6,1169.5 L342.0,1168.0 L342.4,1166.6 L342.8,1165.2 L343.3,1163.7 L343.7,1162.3 L344.1,1160.8 L344.5,1159.3 L344.9,1157.9 L345.3,1156.4 L345.7,1154.9 L346.1,1153.5 L346.5,1152.0 L346.9,1150.5 L347.2,1149.1 L347.6,1147.6 L348.0,1146.1 L348.3,1144.6 L348.7,1143.1 L349.0,1141.6 L349.4,1140.0 L349.7,1138.4 L350.1,1136.9 L350.3,1135.4 L350.6,1134.0 L350.9,1132.5 L351.2,1131.1 L351.4,1129.6 L351.7,1128.1 L351.9,1126.6 L352.2,1125.0 L352.4,1123.5 L352.7,1122.0 L352.9,1120.4 L353.1,1118.9 L353.3,1117.4 L353.6,1115.8 L353.8,1114.3 L354.0,1112.7 L354.2,1111.2 L354.4,1109.6 L354.7,1108.1 L354.9,1106.6 L355.0,1105.1 L355.2,1103.7 L355.4,1102.2 L355.6,1100.7 L355.8,1099.2 L355.9,1097.8 L356.1,1096.3 L356.3,1094.8 L356.5,1093.3 L356.6,1091.8 L356.8,1090.3 L356.9,1088.8 L357.1,1087.3 L357.3,1085.8 L357.4,1084.3 L357.6,1082.8 L357.8,1081.3 L358.0,1079.8 L358.1,1078.3 L358.3,1076.7 L358.5,1075.2 L358.7,1073.7 L358.8,1072.2 L359.0,1070.7 L359.2,1069.1 L359.4,1067.6 L359.5,1066.1 L359.7,1064.6 L359.9,1063.0 L360.1,1061.5 L360.2,1059.9 L360.4,1058.4 L360.6,1056.8 L360.8,1055.2 L361.0,1053.7 L361.2,1052.1 L361.4,1050.5 L361.5,1048.9 L361.7,1047.2 L361.9,1045.6 L362.1,1044.2 L362.3,1042.7 L362.5,1041.3 L362.6,1039.8 L362.8,1038.3 L363.0,1036.8 L363.2,1035.3 L363.4,1033.8 L363.6,1032.3 L363.8,1030.8 L363.9,1029.3 L364.1,1027.8 L364.3,1026.2 L364.5,1024.7 L364.7,1023.2 L364.9,1021.6 L365.1,1020.1 L365.3,1018.6 L365.5,1017.0 L365.7,1015.5 L365.9,1013.9 L366.0,1012.4 L366.2,1010.9 L366.4,1009.3 L366.6,1007.8 L366.8,1006.3 L367.0,1004.7 L367.2,1003.2 L367.4,1001.7 L367.6,1000.2 L367.7,998.6 L367.9,997.1 L368.1,995.6 L368.3,994.1 L368.5,992.5 L368.7,991.0 L368.9,989.5 L369.0,987.9 L369.2,986.4 L369.4,984.9 L369.6,983.3 L369.8,981.8 L370.0,980.3 L370.2,978.8 L370.4,977.2 L370.5,975.7 L370.7,974.2 L370.9,972.6 L371.1,971.1 L371.3,969.6 L371.5,968.0 L371.7,966.5 L371.9,964.9 L372.1,963.4 L372.2,961.9 L372.4,960.4 L372.6,958.9 L372.8,957.5 L373.0,956.0 L373.2,954.5 L373.3,953.0 L373.5,951.5 L373.7,950.1 L373.9,948.6 L374.1,947.1 L374.3,945.6 L374.4,944.1 L374.6,942.7 L374.8,941.2 L375.0,939.7 L375.2,938.2 L375.4,936.7 L375.6,935.2 L375.8,933.7 L376.0,932.2 L376.2,930.7 L376.4,929.1 L376.6,927.6 L376.8,926.1 L377.0,924.5 L377.2,923.0 L377.4,921.4 L377.6,920.0 L377.8,918.5 L378.0,917.0 L378.2,915.5 L378.4,914.0 L378.6,912.5 L378.9,911.0 L379.1,909.5 L379.3,908.0 L379.5,906.5 L379.7,904.9 L379.9,903.4 L380.2,901.9 L380.4,900.3 L380.6,898.8 L380.8,897.2 L381.1,895.7 L381.3,894.2 L381.5,892.6 L381.8,891.1 L382.0,889.5 L382.2,888.0 L382.5,886.4 L382.7,884.9 L383.0,883.4 L383.2,881.8 L383.5,880.3 L383.7,878.8 L384.0,877.3 L384.2,875.8 L384.5,874.3 L384.7,872.8 L385.0,871.3 L385.3,869.8 L385.5,868.2 L385.8,866.7 L386.1,865.2 L386.3,863.6 L386.6,862.1 L386.9,860.5 L387.2,859.0 L387.4,857.4 L387.7,855.9 L388.0,854.3 L388.3,852.8 L388.5,851.2 L388.8,849.7 L389.1,848.2 L389.4,846.6 L389.7,845.1 L390.0,843.6 L390.3,842.1 L390.6,840.6 L390.9,839.2 L391.2,837.7 L391.5,836.3 L391.8,834.8 L392.2,833.4 L392.5,832.0 L392.8,830.6 L393.2,829.3 L393.5,828.0 L393.9,826.6 L394.2,825.3 L394.7,823.7 L395.1,822.1 L395.6,820.5 L396.1,818.9 L396.6,817.3 L397.0,815.8 L397.5,814.2 L398.0,812.7 L398.5,811.3 L399.0,809.8 L399.5,808.4 L400.1,807.0 L400.6,805.6 L401.2,804.2 L401.7,802.9 L402.3,801.6 L402.9,800.4 L403.6,799.1 L404.2,797.9 L405.1,796.4 L406.0,794.8 L406.9,793.1 L407.9,791.5 L408.9,789.9 L409.9,788.4 L410.9,787.1 L412.0,785.8 L413.0,784.8 L413.9,783.9 L414.9,783.3 L415.8,783.0 L417.4,783.1 L419.0,784.0 L420.5,785.2 L422.0,786.7 L422.9,787.6 L423.8,788.7 L424.6,789.9 L425.4,791.2 L426.2,792.5 L427.0,794.0 L427.8,795.4 L428.5,797.0 L429.3,798.5 L429.9,799.7 L430.6,801.1 L431.2,802.4 L431.8,803.8 L432.4,805.3 L433.0,806.7 L433.5,808.2 L434.1,809.7 L434.7,811.2 L435.3,812.8 L435.9,814.3 L436.5,815.8 L437.0,817.3 L437.6,818.8 L438.1,820.2 L438.7,821.6 L439.2,823.0 L439.7,824.4 L440.3,825.9 L440.8,827.3 L441.3,828.7 L441.8,830.1 L442.4,831.6 L442.9,833.0 L443.4,834.5 L443.9,835.9 L444.4,837.3 L444.9,838.8 L445.4,840.2 L445.9,841.6 L446.4,843.1 L447.0,844.5 L447.5,846.0 L448.0,847.4 L448.5,848.8 L449.0,850.3 L449.5,851.7 L450.1,853.2 L450.6,854.6 L451.1,856.0 L451.6,857.5 L452.0,859.0 L452.5,860.5 L453.0,862.0 L453.5,863.5 L453.9,865.0 L454.3,866.4 L454.7,867.9 L455.1,869.4 L455.5,870.8 L455.9,872.3 L456.3,873.8 L456.7,875.3 L457.1,876.9 L457.5,878.4 L457.9,879.9 L458.3,881.5 L458.6,883.0 L459.0,884.6 L459.4,886.2 L459.8,887.8 L460.1,889.5 L460.4,890.9 L460.7,892.3 L461.1,893.7 L461.4,895.1 L461.7,896.6 L461.9,898.0 L462.2,899.5 L462.5,901.0 L462.8,902.5 L463.1,904.0 L463.4,905.5 L463.7,907.0 L464.0,908.5 L464.3,910.0 L464.5,911.6 L464.8,913.1 L465.1,914.6 L465.4,916.2 L465.7,917.7 L466.0,919.3 L466.3,920.8 L466.6,922.4 L466.9,923.9 L467.2,925.4 L467.5,926.8 L467.7,928.3 L468.0,929.8 L468.3,931.3 L468.6,932.8 L468.9,934.3 L469.2,935.8 L469.5,937.3 L469.8,938.8 L470.0,940.3 L470.3,941.8 L470.6,943.3 L470.9,944.9 L471.2,946.4 L471.5,947.9 L471.8,949.4 L472.1,950.9 L472.4,952.4 L472.7,953.9 L473.0,955.5 L473.3,957.0 L473.6,958.5 L473.9,959.9 L474.2,961.4 L474.5,962.9 L474.8,964.5 L475.2,966.0 L475.5,967.6 L475.8,969.1 L476.1,970.7 L476.5,972.2 L476.8,973.8 L477.1,975.3 L477.4,976.9 L477.8,978.4 L478.1,979.9 L478.4,981.5 L478.8,983.0 L479.1,984.5 L479.4,986.1 L479.8,987.6 L480.1,989.1 L480.4,990.6 L480.8,992.1 L481.1,993.6 L481.5,995.1 L481.8,996.5 L482.2,998.0 L482.5,999.4 L482.9,1001.0 L483.3,1002.6 L483.6,1004.1 L484.0,1005.7 L484.4,1007.2 L484.8,1008.8 L485.2,1010.3 L485.6,1011.8 L485.9,1013.4 L486.3,1014.9 L486.7,1016.4 L487.1,1017.9 L487.5,1019.3 L487.9,1020.8 L488.3,1022.3 L488.8,1023.7 L489.2,1025.2 L489.6,1026.6 L490.0,1028.0 L490.5,1029.4 L491.0,1030.9 L491.4,1032.4 L491.9,1033.9 L492.4,1035.3 L492.9,1036.8 L493.4,1038.2 L493.9,1039.7 L494.4,1041.1 L494.9,1042.5 L495.5,1043.9 L496.0,1045.3 L496.5,1046.6 L497.1,1048.0 L497.6,1049.4 L498.2,1050.7 L498.8,1052.1 L499.4,1053.4 L500.1,1054.9 L500.7,1056.3 L501.4,1057.7 L502.1,1059.1 L502.8,1060.5 L503.6,1061.9 L504.3,1063.3 L505.0,1064.7 L505.8,1066.1 L506.5,1067.4 L507.3,1068.8 L508.1,1070.1 L508.9,1071.5 L509.7,1072.8 L510.5,1074.1 L511.3,1075.5 L512.1,1076.8 L513.0,1078.1 L513.8,1079.4 L514.7,1080.7 L515.6,1081.9 L516.5,1083.2 L517.4,1084.5 L518.3,1085.8 L519.2,1087.0 L520.1,1088.3 L521.0,1089.6 L521.9,1090.9 L522.8,1092.2 L523.7,1093.4 L524.5,1094.7 L525.4,1095.9 L526.3,1097.2 L527.1,1098.4 L528.0,1099.7 L528.9,1101.0 L529.7,1102.2 L530.6,1103.5 L531.5,1104.7 L532.4,1106.0 L533.2,1107.3 L534.1,1108.5 L534.9,1109.8 L535.8,1111.1 L536.7,1112.4 L537.5,1113.7 L538.4,1115.0 L539.2,1116.3 L540.1,1117.7 L540.9,1119.0 L541.8,1120.4 L542.6,1121.7 L543.4,1123.1 L544.3,1124.5 L545.1,1125.9 L545.9,1127.2 L546.8,1128.6 L547.6,1129.9 L548.4,1131.3 L549.3,1132.6 L550.1,1134.0 L551.0,1135.3 L551.8,1136.7 L552.7,1138.0 L553.6,1139.4 L554.4,1140.8 L555.3,1142.1 L556.2,1143.5 L557.0,1144.8 L557.9,1146.2 L558.8,1147.5 L559.6,1148.8 L560.5,1150.2 L561.4,1151.5 L562.3,1152.7 L563.2,1154.0 L564.1,1155.3 L565.1,1156.5 L566.0,1157.7 L566.9,1158.9 L567.9,1160.2 L568.8,1161.3 L569.8,1162.5 L570.8,1163.7 L571.7,1164.9 L572.7,1166.0 L573.7,1167.1 L574.7,1168.2 L575.7,1169.3 L576.8,1170.4 L577.8,1171.5 L578.9,1172.6 L580.0,1173.6 L581.1,1174.7 L582.3,1175.7 L583.4,1176.7 L584.5,1177.7 L585.7,1178.7 L586.9,1179.6 L588.1,1180.6 L589.3,1181.5 L590.5,1182.5 L591.7,1183.4 L593.0,1184.3 L594.2,1185.2 L595.4,1186.1 L596.7,1186.9 L598.0,1187.7 L599.2,1188.6 L600.5,1189.4 L601.9,1190.2 L603.2,1191.0 L604.5,1191.8 L605.8,1192.6 L607.2,1193.3 L608.5,1194.1 L609.9,1194.8 L611.2,1195.6 L612.5,1196.3 L613.9,1197.1 L615.3,1197.8 L616.7,1198.6 L618.1,1199.3 L619.5,1200.1 L621.0,1200.8 L622.4,1201.5 L623.8,1202.2 L625.3,1202.9 L626.7,1203.6 L628.1,1204.3 L629.5,1205.0 L630.9,1205.7 L632.3,1206.3 L633.7,1207.0 L635.1,1207.7 L636.4,1208.4 L637.8,1209.2 L639.1,1209.9 L640.4,1210.6 L641.7,1211.3 L643.1,1212.0 L644.4,1212.7 L645.7,1213.4 L647.1,1214.0 L648.5,1214.6 L649.9,1215.2 L651.3,1215.8 L652.7,1216.3 L654.1,1216.8 L655.5,1217.2 L656.9,1217.6 L658.4,1218.0 L659.9,1218.4 L661.3,1218.7 L662.8,1219.1 L664.3,1219.4 L665.8,1219.7 L667.3,1220.1 L668.8,1220.4 L670.3,1220.7 L671.8,1221.0 L673.3,1221.3 L674.9,1221.6 L676.5,1221.9 L678.1,1222.3 L679.7,1222.6 L681.3,1222.9 L682.9,1223.2 L684.6,1223.4 L686.2,1223.7 L687.8,1224.0 L689.3,1224.2 L690.9,1224.4 L692.4,1224.6 L693.9,1224.8 L695.3,1225.0 L697.1,1225.2 L698.8,1225.3 L700.4,1225.4 L702.0,1225.5 L703.6,1225.6 L705.2,1225.7 L706.8,1225.7 L708.4,1225.8 L710.0,1225.9" fill="none" stroke="#ffc000" stroke-width="6.2" stroke-linecap="round" stroke-linejoin="round"/>
<path d="M280.0,1231.0 L281.5,1231.0 L283.1,1231.0 L284.7,1231.0 L286.3,1231.0 L287.9,1231.0 L289.5,1231.0 L291.1,1231.0 L292.7,1231.0 L294.2,1231.0 L295.8,1231.0 L297.4,1231.0 L298.9,1231.0 L300.5,1231.0 L302.0,1231.0 L303.4,1230.9 L304.9,1230.9 L306.3,1230.8 L307.7,1230.7 L309.5,1230.6 L311.2,1230.5 L312.9,1230.5 L314.6,1230.4 L316.3,1230.3 L317.9,1230.1 L319.5,1229.9 L321.0,1229.7 L322.4,1229.4 L323.8,1229.0 L325.2,1228.4 L326.7,1227.7 L328.1,1226.9 L329.4,1226.0 L330.6,1225.0 L331.8,1223.9 L333.0,1222.8 L334.1,1221.5 L335.2,1220.2 L336.1,1219.1 L336.9,1217.9 L337.7,1216.6 L338.5,1215.2 L339.2,1213.8 L340.0,1212.3 L340.7,1210.8 L341.4,1209.3 L342.0,1207.8 L342.7,1206.2 L343.4,1204.6 L344.1,1203.1 L344.7,1201.7 L345.3,1200.3 L345.8,1198.8 L346.4,1197.3 L347.0,1195.8 L347.5,1194.3 L348.1,1192.8 L348.6,1191.3 L349.1,1189.7 L349.7,1188.2 L350.2,1186.6 L350.7,1185.1 L351.2,1183.6 L351.7,1182.1 L352.2,1180.6 L352.7,1179.1 L353.2,1177.5 L353.7,1176.0 L354.1,1174.5 L354.6,1173.0 L355.0,1171.5 L355.5,1170.0 L355.9,1168.5 L356.4,1167.0 L356.8,1165.5 L357.2,1164.0 L357.7,1162.5 L358.1,1161.0 L358.5,1159.5 L358.9,1158.0 L359.3,1156.5 L359.7,1155.0 L360.1,1153.6 L360.5,1152.1 L360.9,1150.6 L361.3,1149.2 L361.7,1147.7 L362.1,1146.2 L362.4,1144.7 L362.8,1143.2 L363.2,1141.6 L363.5,1140.1 L363.9,1138.5 L364.2,1136.9 L364.5,1135.5 L364.8,1134.0 L365.1,1132.6 L365.4,1131.1 L365.7,1129.6 L365.9,1128.1 L366.2,1126.6 L366.5,1125.1 L366.7,1123.5 L367.0,1122.0 L367.3,1120.5 L367.5,1118.9 L367.8,1117.4 L368.0,1115.8 L368.2,1114.3 L368.5,1112.7 L368.7,1111.2 L368.9,1109.6 L369.1,1108.1 L369.3,1106.5 L369.5,1105.0 L369.7,1103.4 L369.9,1101.9 L370.1,1100.3 L370.2,1098.8 L370.4,1097.2 L370.5,1095.6 L370.7,1094.1 L370.8,1092.5 L371.0,1090.9 L371.1,1089.4 L371.3,1087.8 L371.4,1086.2 L371.6,1084.6 L371.7,1083.0 L371.9,1081.5 L372.0,1079.9 L372.2,1078.3 L372.3,1076.7 L372.5,1075.2 L372.6,1073.7 L372.7,1072.2 L372.9,1070.7 L373.0,1069.1 L373.2,1067.6 L373.3,1066.1 L373.4,1064.6 L373.6,1063.0 L373.7,1061.5 L373.8,1059.9 L374.0,1058.4 L374.1,1056.8 L374.3,1055.2 L374.4,1053.7 L374.6,1052.1 L374.7,1050.5 L374.9,1048.9 L375.1,1047.2 L375.3,1045.6 L375.4,1044.2 L375.6,1042.7 L375.8,1041.3 L375.9,1039.8 L376.1,1038.3 L376.3,1036.8 L376.5,1035.3 L376.7,1033.8 L376.9,1032.3 L377.1,1030.8 L377.2,1029.3 L377.4,1027.8 L377.6,1026.2 L377.8,1024.7 L378.0,1023.2 L378.3,1021.6 L378.5,1020.1 L378.7,1018.5 L378.9,1017.0 L379.1,1015.5 L379.3,1013.9 L379.5,1012.4 L379.7,1010.8 L379.9,1009.3 L380.1,1007.8 L380.4,1006.3 L380.6,1004.7 L380.8,1003.2 L381.0,1001.7 L381.2,1000.2 L381.5,998.6 L381.7,997.1 L381.9,995.6 L382.1,994.0 L382.4,992.5 L382.6,991.0 L382.8,989.5 L383.1,987.9 L383.3,986.4 L383.6,984.9 L383.8,983.3 L384.0,981.8 L384.3,980.3 L384.5,978.8 L384.7,977.2 L385.0,975.7 L385.2,974.2 L385.5,972.6 L385.7,971.1 L385.9,969.6 L386.2,968.0 L386.4,966.5 L386.6,964.9 L386.8,963.4 L387.0,961.9 L387.3,960.4 L387.5,958.9 L387.7,957.5 L387.9,956.0 L388.1,954.5 L388.3,953.0 L388.5,951.5 L388.7,950.1 L388.9,948.6 L389.1,947.1 L389.3,945.6 L389.5,944.1 L389.7,942.7 L389.9,941.2 L390.1,939.7 L390.3,938.2 L390.5,936.7 L390.8,935.2 L391.0,933.7 L391.2,932.2 L391.4,930.7 L391.6,929.1 L391.8,927.6 L392.0,926.1 L392.2,924.5 L392.4,923.0 L392.6,921.4 L392.8,920.0 L393.0,918.5 L393.2,917.0 L393.4,915.5 L393.6,914.0 L393.8,912.5 L394.0,911.0 L394.2,909.5 L394.4,908.0 L394.6,906.5 L394.8,904.9 L395.0,903.4 L395.2,901.9 L395.4,900.3 L395.6,898.8 L395.8,897.3 L396.0,895.7 L396.2,894.2 L396.4,892.6 L396.6,891.1 L396.8,889.5 L397.0,888.0 L397.2,886.4 L397.4,884.9 L397.6,883.4 L397.8,881.8 L398.1,880.3 L398.3,878.8 L398.5,877.3 L398.7,875.8 L399.0,874.3 L399.2,872.8 L399.5,871.3 L399.7,869.8 L400.0,868.2 L400.2,866.7 L400.5,865.2 L400.7,863.6 L401.0,862.1 L401.2,860.5 L401.5,859.0 L401.7,857.4 L402.0,855.9 L402.2,854.3 L402.5,852.8 L402.8,851.2 L403.0,849.7 L403.3,848.1 L403.6,846.6 L403.9,845.1 L404.1,843.6 L404.4,842.1 L404.7,840.6 L405.0,839.1 L405.3,837.7 L405.6,836.2 L406.0,834.8 L406.3,833.4 L406.6,832.0 L407.0,830.6 L407.3,829.3 L407.7,827.9 L408.0,826.6 L408.4,825.3 L408.9,823.7 L409.4,822.1 L409.9,820.5 L410.4,818.9 L410.9,817.3 L411.4,815.7 L412.0,814.2 L412.5,812.7 L413.1,811.2 L413.6,809.8 L414.2,808.3 L414.8,806.9 L415.4,805.5 L416.0,804.2 L416.7,802.9 L417.4,801.6 L418.0,800.3 L418.7,799.1 L419.5,797.9 L420.4,796.5 L421.4,794.9 L422.4,793.4 L423.4,791.8 L424.5,790.3 L425.6,788.8 L426.7,787.5 L427.8,786.2 L428.9,785.1 L430.0,784.2 L431.0,783.6 L432.0,783.1 L433.0,783.0 L434.2,783.3 L435.4,784.0 L436.5,785.1 L437.6,786.5 L438.7,788.0 L439.7,789.7 L440.7,791.4 L441.7,793.0 L442.5,794.2 L443.2,795.4 L443.8,796.7 L444.5,798.1 L445.2,799.5 L445.8,800.9 L446.4,802.4 L447.1,803.9 L447.7,805.4 L448.3,806.9 L448.9,808.5 L449.5,810.0 L450.0,811.6 L450.6,813.1 L451.1,814.4 L451.6,815.8 L452.1,817.2 L452.6,818.6 L453.1,820.1 L453.5,821.5 L454.0,823.0 L454.4,824.4 L454.9,825.9 L455.3,827.3 L455.7,828.8 L456.2,830.3 L456.6,831.7 L457.0,833.2 L457.5,834.6 L457.9,836.1 L458.3,837.5 L458.8,839.0 L459.3,840.6 L459.7,842.1 L460.2,843.7 L460.6,845.2 L461.1,846.7 L461.5,848.3 L462.0,849.8 L462.4,851.3 L462.9,852.8 L463.3,854.4 L463.7,855.9 L464.2,857.4 L464.6,858.9 L465.1,860.4 L465.5,861.9 L465.9,863.4 L466.4,864.8 L466.8,866.3 L467.2,867.7 L467.7,869.2 L468.1,870.6 L468.5,872.1 L469.0,873.6 L469.4,875.0 L469.8,876.4 L470.2,877.9 L470.6,879.3 L471.0,880.8 L471.4,882.2 L471.8,883.7 L472.2,885.2 L472.6,886.7 L472.9,888.2 L473.3,889.7 L473.7,891.1 L474.0,892.6 L474.4,894.1 L474.7,895.6 L475.1,897.1 L475.4,898.6 L475.7,900.1 L476.1,901.7 L476.4,903.2 L476.7,904.7 L477.0,906.2 L477.3,907.7 L477.6,909.2 L477.8,910.7 L478.1,912.2 L478.4,913.7 L478.6,915.3 L478.9,916.8 L479.2,918.4 L479.5,920.0 L479.7,921.5 L480.0,923.2 L480.3,924.8 L480.6,926.4 L481.0,928.1 L481.3,929.5 L481.5,930.8 L481.8,932.2 L482.1,933.7 L482.4,935.1 L482.7,936.5 L483.0,938.0 L483.3,939.5 L483.6,940.9 L483.9,942.4 L484.2,943.9 L484.5,945.4 L484.8,946.9 L485.1,948.4 L485.5,949.9 L485.8,951.4 L486.2,953.0 L486.5,954.5 L486.9,956.0 L487.3,957.5 L487.7,959.0 L488.1,960.5 L488.5,962.0 L488.9,963.5 L489.3,964.9 L489.7,966.4 L490.1,967.9 L490.5,969.4 L491.0,970.9 L491.4,972.4 L491.9,973.9 L492.3,975.4 L492.8,976.9 L493.3,978.4 L493.7,979.9 L494.2,981.4 L494.7,982.9 L495.2,984.4 L495.7,985.9 L496.2,987.4 L496.7,988.9 L497.3,990.4 L497.8,991.8 L498.3,993.3 L498.9,994.7 L499.4,996.1 L500.0,997.5 L500.5,998.9 L501.1,1000.4 L501.8,1001.9 L502.4,1003.3 L503.0,1004.8 L503.7,1006.2 L504.4,1007.6 L505.0,1009.1 L505.7,1010.5 L506.4,1011.9 L507.1,1013.3 L507.8,1014.7 L508.5,1016.1 L509.2,1017.4 L509.9,1018.8 L510.6,1020.2 L511.3,1021.5 L512.0,1022.8 L512.7,1024.2 L513.4,1025.5 L514.1,1026.8 L514.9,1028.1 L515.5,1029.4 L516.3,1030.8 L517.1,1032.2 L517.9,1033.6 L518.7,1034.9 L519.5,1036.3 L520.3,1037.6 L521.1,1038.9 L521.9,1040.2 L522.7,1041.5 L523.5,1042.8 L524.3,1044.1 L525.1,1045.4 L525.9,1046.7 L526.7,1048.0 L527.4,1049.2 L528.1,1050.5 L528.9,1051.8 L529.6,1053.1 L530.3,1054.5 L531.0,1055.9 L531.7,1057.3 L532.4,1058.6 L533.1,1060.0 L533.8,1061.4 L534.4,1062.7 L535.1,1064.1 L535.7,1065.5 L536.3,1066.8 L537.0,1068.2 L537.6,1069.5 L538.2,1070.9 L538.8,1072.3 L539.4,1073.7 L540.0,1075.1 L540.6,1076.4 L541.2,1077.8 L541.8,1079.2 L542.4,1080.6 L542.9,1082.0 L543.5,1083.4 L544.0,1084.8 L544.6,1086.2 L545.1,1087.7 L545.6,1089.1 L546.2,1090.5 L546.7,1091.9 L547.3,1093.3 L547.9,1094.7 L548.5,1096.1 L549.1,1097.5 L549.7,1098.9 L550.4,1100.3 L551.0,1101.8 L551.6,1103.2 L552.3,1104.6 L553.0,1106.1 L553.6,1107.5 L554.3,1108.9 L555.0,1110.3 L555.7,1111.8 L556.3,1113.2 L557.0,1114.6 L557.8,1116.0 L558.5,1117.4 L559.2,1118.8 L559.9,1120.2 L560.7,1121.6 L561.5,1122.9 L562.2,1124.3 L563.0,1125.7 L563.8,1127.1 L564.6,1128.5 L565.4,1129.8 L566.2,1131.2 L567.0,1132.5 L567.8,1133.9 L568.6,1135.2 L569.5,1136.5 L570.3,1137.9 L571.2,1139.2 L572.0,1140.5 L572.9,1141.7 L573.8,1143.1 L574.8,1144.4 L575.7,1145.7 L576.7,1147.0 L577.6,1148.3 L578.6,1149.5 L579.6,1150.8 L580.5,1152.1 L581.5,1153.3 L582.6,1154.5 L583.6,1155.8 L584.6,1157.0 L585.6,1158.1 L586.7,1159.3 L587.7,1160.5 L588.8,1161.6 L589.9,1162.8 L591.0,1163.9 L592.2,1165.1 L593.3,1166.2 L594.5,1167.3 L595.6,1168.4 L596.8,1169.4 L598.0,1170.5 L599.1,1171.5 L600.3,1172.6 L601.5,1173.6 L602.7,1174.6 L603.8,1175.6 L605.0,1176.6 L606.2,1177.5 L607.4,1178.5 L608.6,1179.4 L609.9,1180.3 L611.1,1181.2 L612.3,1182.1 L613.5,1183.0 L614.7,1183.8 L615.9,1184.7 L617.1,1185.5 L618.3,1186.4 L619.5,1187.2 L620.9,1188.1 L622.3,1189.1 L623.8,1190.0 L625.2,1190.9 L626.6,1191.7 L628.0,1192.6 L629.3,1193.4 L630.7,1194.3 L632.1,1195.1 L633.5,1195.9 L634.9,1196.8 L636.2,1197.6 L637.6,1198.5 L638.9,1199.3 L640.2,1200.1 L641.6,1200.9 L642.9,1201.7 L644.4,1202.4 L645.8,1203.0 L647.2,1203.5 L648.6,1203.9 L650.0,1204.3 L651.5,1204.6 L653.0,1204.9 L654.5,1205.2 L656.0,1205.5 L657.5,1205.8 L659.0,1206.2 L660.5,1206.6 L662.0,1207.0 L663.5,1207.5 L665.0,1208.0 L666.5,1208.5 L668.0,1209.0 L669.5,1209.5 L671.0,1210.0 L672.6,1210.5 L674.1,1211.1 L675.5,1211.6 L677.0,1212.1 L678.5,1212.7 L680.0,1213.3 L681.5,1214.0 L682.9,1214.7 L684.4,1215.3 L685.8,1215.9 L687.3,1216.5 L688.7,1217.0 L690.2,1217.4 L691.6,1217.6 L693.3,1217.6 L694.9,1217.4 L696.6,1217.0 L698.3,1216.6 L699.9,1216.2 L701.5,1215.8 L703.0,1215.7 L704.5,1215.8 L705.9,1216.2 L707.3,1216.9 L708.6,1217.7 L709.8,1218.6 L711.1,1219.5 L712.3,1220.5 L713.6,1221.3" fill="none" stroke="#92d050" stroke-width="6.2" stroke-linecap="round" stroke-linejoin="round"/>
<path d="M313.7,1231.0 L315.2,1230.9 L316.7,1230.8 L318.3,1230.8 L319.8,1230.8 L321.4,1230.7 L322.9,1230.7 L324.5,1230.6 L326.0,1230.6 L327.5,1230.4 L329.0,1230.3 L330.4,1230.0 L331.8,1229.7 L333.2,1229.3 L334.6,1228.8 L336.1,1228.2 L337.5,1227.6 L338.9,1226.9 L340.3,1226.1 L341.6,1225.3 L342.9,1224.4 L344.1,1223.5 L345.3,1222.5 L346.5,1221.4 L347.6,1220.3 L348.6,1219.2 L349.5,1218.1 L350.4,1216.9 L351.2,1215.6 L352.0,1214.2 L352.8,1212.9 L353.5,1211.4 L354.2,1210.0 L354.9,1208.5 L355.6,1207.0 L356.3,1205.5 L357.0,1204.0 L357.6,1202.4 L358.3,1200.9 L358.9,1199.6 L359.4,1198.2 L359.9,1196.7 L360.5,1195.3 L361.0,1193.8 L361.5,1192.4 L362.0,1190.9 L362.4,1189.4 L362.9,1187.9 L363.4,1186.4 L363.8,1184.9 L364.3,1183.4 L364.7,1181.9 L365.1,1180.4 L365.5,1178.9 L365.9,1177.5 L366.4,1176.1 L366.8,1174.5 L367.2,1173.0 L367.7,1171.5 L368.1,1170.0 L368.5,1168.4 L368.9,1167.0 L369.2,1165.5 L369.6,1164.0 L370.0,1162.5 L370.4,1161.0 L370.7,1159.5 L371.1,1158.1 L371.5,1156.6 L371.9,1155.1 L372.2,1153.6 L372.6,1152.1 L373.0,1150.6 L373.4,1149.1 L373.8,1147.6 L374.2,1146.1 L374.6,1144.7 L374.9,1143.2 L375.3,1141.6 L375.7,1140.1 L376.0,1138.6 L376.4,1137.0 L376.7,1135.3 L377.0,1134.0 L377.3,1132.5 L377.6,1131.1 L377.9,1129.7 L378.1,1128.2 L378.4,1126.7 L378.7,1125.2 L378.9,1123.7 L379.2,1122.2 L379.4,1120.7 L379.7,1119.2 L379.9,1117.6 L380.2,1116.1 L380.4,1114.5 L380.6,1113.0 L380.9,1111.4 L381.1,1109.9 L381.3,1108.3 L381.5,1106.9 L381.7,1105.4 L381.9,1104.0 L382.0,1102.5 L382.2,1101.0 L382.3,1099.5 L382.5,1098.1 L382.6,1096.6 L382.8,1095.1 L382.9,1093.6 L383.1,1092.1 L383.2,1090.6 L383.3,1089.1 L383.5,1087.6 L383.6,1086.1 L383.8,1084.5 L383.9,1083.0 L384.1,1081.5 L384.2,1080.0 L384.4,1078.4 L384.5,1077.0 L384.7,1075.5 L384.8,1074.1 L385.0,1072.6 L385.1,1071.1 L385.2,1069.7 L385.4,1068.2 L385.5,1066.8 L385.7,1065.3 L385.8,1063.8 L386.0,1062.3 L386.1,1060.8 L386.3,1059.4 L386.4,1057.9 L386.6,1056.4 L386.8,1054.8 L386.9,1053.3 L387.1,1051.8 L387.3,1050.3 L387.5,1048.7 L387.7,1047.2 L387.9,1045.6 L388.0,1044.1 L388.2,1042.7 L388.4,1041.2 L388.6,1039.8 L388.8,1038.3 L389.0,1036.8 L389.2,1035.3 L389.4,1033.8 L389.7,1032.3 L389.9,1030.8 L390.1,1029.3 L390.3,1027.7 L390.5,1026.2 L390.8,1024.7 L391.0,1023.1 L391.2,1021.6 L391.5,1020.1 L391.7,1018.5 L391.9,1017.0 L392.2,1015.5 L392.4,1013.9 L392.6,1012.4 L392.9,1010.8 L393.1,1009.3 L393.3,1007.8 L393.6,1006.3 L393.8,1004.7 L394.0,1003.2 L394.3,1001.7 L394.5,1000.2 L394.7,998.6 L395.0,997.1 L395.2,995.6 L395.5,994.1 L395.7,992.5 L396.0,991.0 L396.2,989.5 L396.4,987.9 L396.7,986.4 L396.9,984.9 L397.2,983.3 L397.4,981.8 L397.7,980.3 L397.9,978.8 L398.2,977.2 L398.4,975.7 L398.7,974.2 L398.9,972.6 L399.1,971.1 L399.4,969.6 L399.6,968.0 L399.9,966.5 L400.1,964.9 L400.3,963.4 L400.5,961.9 L400.8,960.4 L401.0,958.9 L401.2,957.5 L401.4,956.0 L401.6,954.5 L401.8,953.0 L402.0,951.5 L402.2,950.1 L402.4,948.6 L402.6,947.1 L402.8,945.6 L403.0,944.1 L403.3,942.7 L403.5,941.2 L403.7,939.7 L403.9,938.2 L404.1,936.7 L404.3,935.2 L404.5,933.7 L404.7,932.2 L404.9,930.7 L405.1,929.1 L405.3,927.6 L405.5,926.1 L405.7,924.5 L406.0,923.0 L406.2,921.4 L406.4,920.0 L406.6,918.5 L406.8,917.0 L407.0,915.5 L407.2,914.0 L407.4,912.5 L407.6,911.0 L407.8,909.5 L408.0,908.0 L408.2,906.5 L408.4,904.9 L408.6,903.4 L408.9,901.9 L409.1,900.3 L409.3,898.8 L409.5,897.2 L409.7,895.7 L409.9,894.2 L410.1,892.6 L410.3,891.1 L410.6,889.5 L410.8,888.0 L411.0,886.4 L411.2,884.9 L411.5,883.4 L411.7,881.8 L411.9,880.3 L412.2,878.8 L412.4,877.3 L412.7,875.8 L412.9,874.3 L413.2,872.8 L413.4,871.3 L413.7,869.8 L413.9,868.2 L414.2,866.7 L414.5,865.2 L414.7,863.6 L415.0,862.1 L415.3,860.5 L415.5,859.0 L415.8,857.4 L416.1,855.9 L416.4,854.3 L416.6,852.8 L416.9,851.2 L417.2,849.7 L417.5,848.2 L417.8,846.6 L418.1,845.1 L418.4,843.6 L418.7,842.1 L419.0,840.6 L419.3,839.2 L419.6,837.7 L419.9,836.2 L420.3,834.8 L420.6,833.4 L420.9,832.0 L421.3,830.6 L421.6,829.3 L422.0,827.9 L422.4,826.6 L422.7,825.3 L423.2,823.7 L423.7,822.1 L424.2,820.5 L424.7,818.9 L425.2,817.3 L425.7,815.8 L426.3,814.2 L426.8,812.7 L427.3,811.2 L427.9,809.8 L428.4,808.4 L429.0,806.9 L429.6,805.6 L430.2,804.2 L430.8,802.9 L431.5,801.6 L432.1,800.3 L432.8,799.1 L433.5,797.9 L434.4,796.4 L435.4,794.7 L436.4,793.0 L437.5,791.4 L438.5,789.8 L439.6,788.2 L440.7,786.8 L441.8,785.6 L442.9,784.6 L444.0,783.7 L445.0,783.2 L446.0,783.0 L447.2,783.2 L448.3,783.8 L449.5,784.8 L450.6,786.0 L451.7,787.4 L452.8,788.9 L453.8,790.3 L454.8,791.7 L455.7,792.9 L456.5,794.1 L457.4,795.4 L458.2,796.7 L458.9,798.0 L459.7,799.4 L460.4,800.9 L461.2,802.3 L461.9,803.8 L462.6,805.4 L463.1,806.7 L463.7,808.1 L464.2,809.5 L464.7,810.9 L465.2,812.4 L465.7,813.9 L466.2,815.4 L466.6,816.9 L467.1,818.4 L467.6,820.0 L468.0,821.6 L468.5,823.1 L468.9,824.7 L469.4,826.2 L469.8,827.7 L470.3,829.1 L470.7,830.6 L471.1,832.1 L471.5,833.6 L471.9,835.1 L472.4,836.7 L472.8,838.2 L473.2,839.7 L473.6,841.2 L474.0,842.8 L474.4,844.3 L474.8,845.8 L475.3,847.3 L475.7,848.8 L476.1,850.3 L476.5,851.8 L477.0,853.4 L477.4,854.9 L477.9,856.4 L478.3,857.9 L478.8,859.4 L479.2,860.9 L479.7,862.5 L480.1,864.0 L480.6,865.5 L481.0,867.0 L481.4,868.5 L481.8,870.0 L482.3,871.5 L482.7,873.1 L483.0,874.5 L483.4,875.9 L483.8,877.4 L484.1,878.8 L484.5,880.2 L484.8,881.7 L485.1,883.1 L485.5,884.6 L485.8,886.0 L486.1,887.5 L486.5,888.9 L486.8,890.4 L487.2,891.9 L487.5,893.4 L487.9,894.9 L488.3,896.4 L488.6,897.8 L488.9,899.3 L489.3,900.7 L489.6,902.1 L489.9,903.5 L490.2,905.0 L490.5,906.4 L490.9,907.9 L491.2,909.4 L491.6,910.9 L491.9,912.3 L492.3,913.8 L492.6,915.3 L493.0,916.8 L493.4,918.4 L493.8,919.9 L494.2,921.4 L494.7,922.9 L495.1,924.5 L495.6,926.0 L496.1,927.3 L496.5,928.7 L497.0,930.1 L497.5,931.4 L498.0,932.8 L498.5,934.2 L499.0,935.6 L499.5,937.0 L500.0,938.4 L500.6,939.8 L501.1,941.2 L501.7,942.7 L502.3,944.1 L502.8,945.5 L503.4,946.9 L504.0,948.3 L504.6,949.8 L505.2,951.2 L505.8,952.6 L506.4,954.0 L507.1,955.4 L507.7,956.8 L508.3,958.3 L508.9,959.7 L509.6,961.1 L510.2,962.5 L510.8,963.8 L511.5,965.2 L512.1,966.6 L512.8,968.0 L513.5,969.3 L514.2,970.7 L514.9,972.1 L515.6,973.5 L516.3,974.9 L517.0,976.2 L517.7,977.6 L518.5,979.0 L519.2,980.4 L519.9,981.8 L520.7,983.1 L521.4,984.5 L522.1,985.9 L522.8,987.2 L523.6,988.6 L524.3,989.9 L525.0,991.3 L525.7,992.6 L526.4,993.9 L527.1,995.2 L527.8,996.6 L528.4,997.9 L529.1,999.2 L529.8,1000.6 L530.5,1002.0 L531.3,1003.5 L532.0,1004.9 L532.7,1006.3 L533.4,1007.7 L534.1,1009.1 L534.8,1010.5 L535.5,1011.9 L536.2,1013.3 L536.9,1014.7 L537.6,1016.1 L538.3,1017.4 L539.0,1018.8 L539.6,1020.2 L540.3,1021.5 L541.0,1022.9 L541.6,1024.2 L542.2,1025.5 L542.8,1026.9 L543.5,1028.2 L544.1,1029.5 L544.7,1031.0 L545.4,1032.4 L546.0,1033.9 L546.6,1035.3 L547.2,1036.7 L547.8,1038.2 L548.4,1039.6 L549.0,1041.0 L549.6,1042.4 L550.1,1043.8 L550.7,1045.2 L551.2,1046.5 L551.8,1047.9 L552.3,1049.3 L552.9,1050.7 L553.4,1052.0 L554.0,1053.4 L554.6,1054.9 L555.2,1056.4 L555.8,1057.9 L556.4,1059.4 L557.0,1060.9 L557.6,1062.3 L558.2,1063.8 L558.7,1065.2 L559.3,1066.7 L559.9,1068.2 L560.5,1069.6 L561.1,1071.1 L561.7,1072.5 L562.3,1074.0 L562.9,1075.4 L563.5,1076.8 L564.1,1078.3 L564.7,1079.7 L565.4,1081.1 L566.0,1082.5 L566.6,1084.0 L567.2,1085.4 L567.9,1086.8 L568.5,1088.2 L569.2,1089.7 L569.9,1091.1 L570.6,1092.5 L571.3,1094.0 L571.9,1095.3 L572.6,1096.7 L573.3,1098.1 L573.9,1099.4 L574.6,1100.8 L575.3,1102.2 L576.1,1103.6 L576.8,1104.9 L577.5,1106.3 L578.2,1107.7 L579.0,1109.1 L579.7,1110.4 L580.5,1111.8 L581.2,1113.2 L582.0,1114.5 L582.8,1115.9 L583.5,1117.2 L584.3,1118.5 L585.1,1119.9 L585.8,1121.2 L586.6,1122.5 L587.4,1123.8 L588.2,1125.1 L589.0,1126.5 L589.8,1127.8 L590.6,1129.1 L591.4,1130.4 L592.2,1131.7 L593.1,1132.9 L593.9,1134.2 L594.7,1135.5 L595.5,1136.7 L596.4,1137.9 L597.3,1139.3 L598.3,1140.6 L599.2,1141.9 L600.2,1143.3 L601.2,1144.6 L602.1,1145.9 L603.1,1147.1 L604.1,1148.4 L605.1,1149.7 L606.1,1150.9 L607.0,1152.1 L608.0,1153.3 L609.0,1154.5 L610.1,1155.6 L611.1,1156.9 L612.2,1158.1 L613.4,1159.3 L614.5,1160.4 L615.6,1161.6 L616.7,1162.7 L617.8,1163.8 L619.0,1164.9 L620.1,1166.0 L621.2,1167.0 L622.3,1168.1 L623.5,1169.1 L624.6,1170.2 L625.8,1171.2 L627.0,1172.2 L628.1,1173.2 L629.3,1174.2 L630.5,1175.2 L631.7,1176.2 L632.8,1177.1 L634.0,1178.0 L635.2,1179.0 L636.3,1179.9 L637.6,1180.9 L638.9,1181.9 L640.1,1182.9 L641.4,1184.0 L642.6,1184.9 L643.9,1185.9 L645.1,1186.8 L646.4,1187.6 L647.7,1188.3 L649.2,1189.0 L650.8,1189.5 L652.3,1190.0 L653.9,1190.4 L655.5,1190.8 L657.1,1191.3 L658.7,1192.0 L660.0,1192.7 L661.3,1193.5 L662.7,1194.5 L664.1,1195.5 L665.5,1196.6 L666.9,1197.6 L668.2,1198.6 L669.6,1199.5 L670.9,1200.2 L672.1,1200.8 L673.3,1201.1 L674.9,1201.0 L676.3,1200.5 L677.7,1199.8 L679.1,1199.3 L680.7,1199.3 L681.8,1199.7 L682.9,1200.4 L684.1,1201.3 L685.4,1202.4 L686.6,1203.6 L687.9,1204.9 L689.2,1206.2 L690.5,1207.4 L691.7,1208.5 L693.0,1209.3 L694.2,1210.0 L695.3,1210.3 L696.9,1210.1 L698.5,1209.4 L700.0,1208.4 L701.5,1207.4 L703.0,1206.7 L704.5,1206.6 L705.6,1207.0 L706.6,1207.6 L707.7,1208.4 L708.7,1209.4 L709.8,1210.5 L710.9,1211.8 L711.9,1213.1 L713.0,1214.4 L714.1,1215.8 L715.2,1217.1 L716.2,1218.4 L717.3,1219.5" fill="none" stroke="#00b050" stroke-width="6.2" stroke-linecap="round" stroke-linejoin="round"/>
<path d="M315.0,1231.0 L316.5,1230.9 L318.1,1230.8 L319.6,1230.7 L321.2,1230.6 L322.7,1230.5 L324.3,1230.5 L325.9,1230.4 L327.4,1230.3 L329.0,1230.2 L330.5,1230.1 L332.0,1229.9 L333.5,1229.7 L334.9,1229.4 L336.3,1229.1 L337.7,1228.7 L339.2,1228.1 L340.7,1227.6 L342.2,1226.9 L343.7,1226.3 L345.1,1225.6 L346.5,1224.8 L347.9,1224.0 L349.2,1223.1 L350.5,1222.2 L351.8,1221.2 L353.0,1220.2 L354.2,1219.1 L355.2,1218.1 L356.2,1217.0 L357.1,1215.8 L358.0,1214.6 L358.9,1213.4 L359.8,1212.1 L360.6,1210.7 L361.4,1209.4 L362.2,1208.0 L362.9,1206.6 L363.7,1205.2 L364.4,1203.7 L365.1,1202.3 L365.9,1200.9 L366.5,1199.5 L367.2,1198.2 L367.8,1196.8 L368.4,1195.4 L369.0,1193.9 L369.6,1192.5 L370.2,1191.0 L370.8,1189.6 L371.3,1188.1 L371.8,1186.6 L372.4,1185.1 L372.9,1183.6 L373.4,1182.1 L373.9,1180.5 L374.4,1179.0 L374.9,1177.5 L375.4,1176.0 L375.9,1174.6 L376.3,1173.1 L376.8,1171.7 L377.2,1170.2 L377.7,1168.7 L378.1,1167.2 L378.5,1165.8 L378.9,1164.3 L379.3,1162.8 L379.7,1161.2 L380.1,1159.7 L380.5,1158.2 L380.9,1156.6 L381.3,1155.1 L381.7,1153.5 L382.1,1152.0 L382.5,1150.4 L382.9,1149.0 L383.2,1147.5 L383.6,1146.1 L383.9,1144.6 L384.3,1143.2 L384.6,1141.7 L384.9,1140.2 L385.3,1138.7 L385.6,1137.2 L385.9,1135.7 L386.3,1134.2 L386.6,1132.7 L386.9,1131.2 L387.2,1129.7 L387.5,1128.2 L387.8,1126.6 L388.2,1125.1 L388.5,1123.6 L388.7,1122.1 L389.0,1120.5 L389.3,1119.0 L389.6,1117.5 L389.9,1116.0 L390.1,1114.5 L390.4,1113.1 L390.6,1111.6 L390.9,1110.1 L391.1,1108.7 L391.4,1107.2 L391.6,1105.7 L391.8,1104.2 L392.1,1102.7 L392.3,1101.3 L392.5,1099.8 L392.7,1098.3 L392.9,1096.8 L393.2,1095.3 L393.4,1093.8 L393.6,1092.3 L393.8,1090.8 L394.0,1089.3 L394.2,1087.8 L394.4,1086.3 L394.6,1084.8 L394.8,1083.3 L395.0,1081.8 L395.2,1080.3 L395.4,1078.8 L395.6,1077.3 L395.7,1075.7 L395.9,1074.2 L396.1,1072.7 L396.2,1071.2 L396.4,1069.7 L396.6,1068.2 L396.7,1066.7 L396.9,1065.1 L397.0,1063.6 L397.2,1062.1 L397.4,1060.6 L397.5,1059.0 L397.7,1057.5 L397.8,1056.0 L398.0,1054.4 L398.2,1052.9 L398.3,1051.3 L398.5,1049.8 L398.7,1048.2 L398.9,1046.7 L399.0,1045.1 L399.2,1043.6 L399.4,1042.2 L399.6,1040.7 L399.8,1039.2 L399.9,1037.7 L400.1,1036.2 L400.3,1034.7 L400.5,1033.2 L400.7,1031.7 L400.9,1030.1 L401.0,1028.6 L401.2,1027.1 L401.4,1025.6 L401.6,1024.1 L401.8,1022.5 L402.0,1021.0 L402.2,1019.5 L402.4,1018.0 L402.6,1016.4 L402.8,1014.9 L403.0,1013.4 L403.2,1011.9 L403.4,1010.3 L403.6,1008.8 L403.8,1007.3 L404.0,1005.8 L404.2,1004.3 L404.4,1002.8 L404.7,1001.3 L404.9,999.7 L405.1,998.2 L405.3,996.7 L405.5,995.2 L405.7,993.7 L406.0,992.2 L406.2,990.7 L406.4,989.2 L406.6,987.7 L406.9,986.2 L407.1,984.7 L407.3,983.2 L407.6,981.6 L407.8,980.1 L408.0,978.6 L408.3,977.1 L408.5,975.6 L408.7,974.1 L408.9,972.6 L409.2,971.1 L409.4,969.6 L409.6,968.0 L409.9,966.5 L410.1,965.0 L410.3,963.5 L410.5,962.0 L410.7,960.5 L410.9,959.0 L411.2,957.5 L411.4,956.1 L411.6,954.6 L411.8,953.1 L412.0,951.6 L412.2,950.1 L412.4,948.6 L412.6,947.2 L412.8,945.7 L413.1,944.2 L413.3,942.7 L413.5,941.2 L413.7,939.7 L413.9,938.2 L414.1,936.7 L414.3,935.2 L414.5,933.7 L414.8,932.2 L415.0,930.7 L415.2,929.1 L415.4,927.6 L415.6,926.1 L415.9,924.5 L416.1,923.0 L416.3,921.4 L416.6,920.0 L416.8,918.5 L417.0,917.0 L417.2,915.5 L417.4,914.0 L417.6,912.5 L417.9,911.0 L418.1,909.5 L418.3,908.0 L418.5,906.5 L418.7,904.9 L419.0,903.4 L419.2,901.9 L419.4,900.3 L419.6,898.8 L419.9,897.2 L420.1,895.7 L420.3,894.2 L420.6,892.6 L420.8,891.1 L421.0,889.5 L421.3,888.0 L421.5,886.4 L421.8,884.9 L422.0,883.4 L422.3,881.8 L422.5,880.3 L422.8,878.8 L423.0,877.3 L423.3,875.8 L423.6,874.3 L423.8,872.8 L424.1,871.3 L424.4,869.8 L424.7,868.2 L425.0,866.7 L425.3,865.2 L425.5,863.6 L425.8,862.1 L426.1,860.5 L426.4,859.0 L426.7,857.4 L427.0,855.9 L427.3,854.3 L427.6,852.8 L427.9,851.2 L428.2,849.7 L428.6,848.2 L428.9,846.6 L429.2,845.1 L429.5,843.6 L429.9,842.1 L430.2,840.6 L430.5,839.2 L430.9,837.7 L431.2,836.2 L431.6,834.8 L431.9,833.4 L432.3,832.0 L432.6,830.6 L433.0,829.3 L433.4,827.9 L433.8,826.6 L434.2,825.3 L434.7,823.7 L435.2,822.1 L435.7,820.5 L436.2,818.9 L436.8,817.3 L437.3,815.8 L437.8,814.2 L438.4,812.7 L438.9,811.3 L439.5,809.8 L440.1,808.4 L440.7,807.0 L441.3,805.6 L441.9,804.2 L442.5,802.9 L443.2,801.6 L443.8,800.4 L444.5,799.1 L445.1,797.9 L446.0,796.4 L447.0,794.7 L448.0,793.1 L449.0,791.4 L450.0,789.8 L451.1,788.3 L452.1,786.9 L453.1,785.7 L454.2,784.6 L455.1,783.8 L456.1,783.2 L457.0,783.0 L458.4,783.3 L459.8,784.3 L461.1,785.7 L462.4,787.3 L463.6,788.9 L464.4,790.0 L465.3,791.2 L466.0,792.5 L466.8,793.8 L467.5,795.2 L468.2,796.7 L469.0,798.2 L469.7,799.7 L470.2,801.0 L470.7,802.3 L471.2,803.7 L471.7,805.1 L472.2,806.5 L472.7,808.0 L473.1,809.5 L473.6,811.0 L474.1,812.6 L474.5,814.1 L475.0,815.7 L475.5,817.2 L475.9,818.8 L476.4,820.2 L476.8,821.6 L477.2,823.0 L477.6,824.5 L478.1,825.9 L478.5,827.4 L478.9,828.9 L479.3,830.4 L479.7,831.9 L480.2,833.4 L480.6,834.8 L481.0,836.3 L481.4,837.8 L481.8,839.3 L482.3,840.7 L482.7,842.2 L483.1,843.6 L483.6,845.1 L484.0,846.6 L484.5,848.1 L484.9,849.5 L485.3,851.0 L485.8,852.4 L486.2,853.9 L486.7,855.3 L487.1,856.8 L487.6,858.2 L488.0,859.7 L488.5,861.1 L488.9,862.5 L489.4,863.9 L489.9,865.4 L490.4,867.0 L490.9,868.5 L491.5,870.0 L492.0,871.5 L492.5,873.0 L493.0,874.5 L493.5,876.0 L494.1,877.4 L494.6,878.9 L495.1,880.4 L495.7,881.8 L496.2,883.3 L496.8,884.8 L497.3,886.3 L497.9,887.8 L498.5,889.2 L499.1,890.7 L499.6,892.2 L500.2,893.6 L500.8,895.1 L501.4,896.5 L502.0,897.9 L502.6,899.3 L503.2,900.7 L503.8,902.1 L504.5,903.5 L505.2,904.9 L505.8,906.2 L506.5,907.5 L507.1,908.8 L507.8,910.2 L508.5,911.5 L509.3,912.9 L510.0,914.3 L510.7,915.6 L511.5,916.9 L512.3,918.2 L513.0,919.5 L513.8,920.8 L514.6,922.1 L515.5,923.5 L516.3,924.9 L517.1,926.3 L518.0,927.8 L518.8,929.3 L519.7,930.9 L520.3,932.1 L520.9,933.3 L521.6,934.5 L522.2,935.8 L522.9,937.1 L523.5,938.4 L524.2,939.7 L524.9,941.1 L525.5,942.4 L526.2,943.8 L526.9,945.2 L527.6,946.7 L528.3,948.1 L528.9,949.5 L529.6,951.0 L530.3,952.4 L531.0,953.9 L531.6,955.4 L532.3,956.8 L533.0,958.3 L533.6,959.8 L534.3,961.2 L534.8,962.6 L535.4,964.0 L536.0,965.4 L536.6,966.8 L537.2,968.2 L537.8,969.6 L538.4,971.0 L538.9,972.5 L539.5,973.9 L540.1,975.4 L540.7,976.9 L541.2,978.3 L541.8,979.8 L542.4,981.3 L542.9,982.8 L543.5,984.2 L544.0,985.7 L544.6,987.2 L545.2,988.6 L545.7,990.1 L546.2,991.5 L546.8,992.9 L547.3,994.4 L547.8,995.8 L548.4,997.2 L548.9,998.5 L549.4,1000.1 L550.0,1001.6 L550.6,1003.2 L551.1,1004.7 L551.7,1006.2 L552.2,1007.7 L552.7,1009.2 L553.3,1010.7 L553.8,1012.2 L554.3,1013.7 L554.8,1015.2 L555.3,1016.7 L555.8,1018.2 L556.4,1019.6 L556.9,1021.1 L557.4,1022.5 L557.9,1024.0 L558.4,1025.4 L558.9,1026.8 L559.4,1028.2 L559.9,1029.6 L560.5,1031.1 L561.0,1032.5 L561.5,1034.0 L562.1,1035.4 L562.6,1036.9 L563.2,1038.3 L563.7,1039.7 L564.2,1041.1 L564.8,1042.5 L565.3,1043.9 L565.8,1045.3 L566.3,1046.6 L566.9,1048.0 L567.4,1049.4 L567.9,1050.7 L568.5,1052.1 L569.0,1053.4 L569.6,1055.0 L570.2,1056.5 L570.9,1058.0 L571.5,1059.5 L572.1,1061.0 L572.7,1062.5 L573.3,1063.9 L573.9,1065.4 L574.5,1066.9 L575.2,1068.3 L575.8,1069.8 L576.4,1071.2 L577.1,1072.7 L577.7,1074.1 L578.3,1075.5 L579.0,1076.9 L579.6,1078.3 L580.3,1079.7 L580.9,1081.1 L581.6,1082.4 L582.2,1083.8 L582.9,1085.2 L583.6,1086.6 L584.2,1087.9 L584.9,1089.3 L585.6,1090.7 L586.3,1092.1 L587.0,1093.4 L587.7,1094.8 L588.4,1096.1 L589.1,1097.5 L589.8,1098.8 L590.6,1100.2 L591.3,1101.5 L592.0,1102.9 L592.8,1104.3 L593.5,1105.6 L594.3,1107.0 L595.1,1108.3 L595.8,1109.7 L596.6,1111.1 L597.4,1112.4 L598.2,1113.8 L598.9,1115.2 L599.7,1116.5 L600.5,1117.9 L601.3,1119.3 L602.1,1120.6 L602.9,1122.0 L603.7,1123.4 L604.5,1124.8 L605.3,1126.2 L606.1,1127.6 L607.0,1128.9 L607.8,1130.3 L608.6,1131.7 L609.5,1133.0 L610.3,1134.3 L611.1,1135.7 L612.0,1137.0 L612.9,1138.4 L613.8,1139.8 L614.6,1141.2 L615.5,1142.5 L616.4,1143.9 L617.3,1145.3 L618.2,1146.6 L619.1,1147.9 L620.0,1149.2 L621.0,1150.5 L621.9,1151.8 L622.8,1153.1 L623.7,1154.3 L624.6,1155.5 L625.6,1156.8 L626.6,1158.1 L627.7,1159.4 L628.7,1160.7 L629.7,1161.9 L630.8,1163.1 L631.8,1164.3 L632.8,1165.5 L633.9,1166.6 L634.9,1167.7 L636.0,1168.8 L637.0,1169.8 L638.2,1171.0 L639.3,1172.2 L640.5,1173.3 L641.6,1174.4 L642.8,1175.4 L644.0,1176.4 L645.2,1177.3 L646.4,1178.3 L647.7,1179.1 L649.0,1179.8 L650.4,1180.4 L651.9,1181.0 L653.3,1181.4 L654.8,1181.9 L656.3,1182.4 L657.7,1183.0 L659.1,1183.7 L660.5,1184.6 L661.7,1185.6 L662.8,1186.8 L663.9,1188.3 L665.0,1189.8 L666.1,1191.5 L667.2,1193.1 L668.3,1194.6 L669.3,1196.1 L670.3,1197.3 L671.3,1198.3 L672.3,1199.0 L673.3,1199.3 L674.6,1199.0 L675.8,1197.9 L677.0,1196.5 L678.2,1195.1 L679.4,1194.1 L680.7,1193.8 L681.6,1194.2 L682.5,1195.0 L683.5,1196.1 L684.4,1197.6 L685.4,1199.2 L686.4,1201.0 L687.4,1202.8 L688.4,1204.5 L689.4,1206.2 L690.4,1207.7 L691.4,1208.9 L692.5,1209.8 L693.5,1210.3 L694.8,1210.3 L696.2,1209.7 L697.6,1208.7 L699.0,1207.5 L700.4,1206.4 L701.8,1205.4 L703.2,1204.8 L704.5,1204.8 L705.5,1205.2 L706.5,1205.9 L707.4,1206.8 L708.3,1207.9 L709.2,1209.2 L710.1,1210.6 L711.0,1212.1 L711.9,1213.7 L712.8,1215.4 L713.7,1217.0 L714.6,1218.6 L715.5,1220.2 L716.4,1221.7 L717.3,1223.1" fill="none" stroke="#9dc3e6" stroke-width="6.2" stroke-linecap="round" stroke-linejoin="round"/>
<path d="M318.8,1231.0 L320.3,1230.9 L321.9,1230.9 L323.4,1230.8 L325.0,1230.7 L326.6,1230.7 L328.2,1230.6 L329.7,1230.6 L331.3,1230.5 L332.8,1230.4 L334.3,1230.3 L335.8,1230.2 L337.2,1230.0 L338.6,1229.8 L340.3,1229.5 L342.0,1229.3 L343.6,1228.9 L345.2,1228.6 L346.8,1228.2 L348.3,1227.8 L349.7,1227.3 L351.1,1226.8 L352.5,1226.1 L353.9,1225.3 L355.3,1224.3 L356.6,1223.3 L357.8,1222.2 L359.0,1221.0 L360.1,1219.8 L361.2,1218.5 L362.1,1217.2 L363.0,1215.9 L363.9,1214.6 L364.7,1213.1 L365.4,1211.7 L366.2,1210.2 L367.0,1208.7 L367.7,1207.2 L368.4,1205.9 L369.0,1204.5 L369.7,1203.1 L370.3,1201.7 L370.9,1200.3 L371.5,1198.9 L372.1,1197.5 L372.7,1196.1 L373.3,1194.7 L374.0,1193.2 L374.6,1191.7 L375.2,1190.2 L375.8,1188.8 L376.5,1187.3 L377.1,1185.8 L377.7,1184.3 L378.3,1182.8 L378.8,1181.4 L379.4,1180.0 L379.9,1178.6 L380.5,1177.3 L381.0,1175.9 L381.6,1174.4 L382.1,1173.0 L382.7,1171.5 L383.2,1169.9 L383.7,1168.6 L384.1,1167.3 L384.6,1165.9 L385.1,1164.6 L385.5,1163.2 L386.0,1161.8 L386.5,1160.4 L386.9,1158.9 L387.4,1157.4 L387.9,1155.9 L388.3,1154.4 L388.8,1152.8 L389.2,1151.3 L389.7,1149.7 L390.0,1148.3 L390.4,1147.0 L390.8,1145.6 L391.1,1144.1 L391.5,1142.7 L391.9,1141.3 L392.2,1139.8 L392.6,1138.3 L393.0,1136.8 L393.3,1135.3 L393.7,1133.7 L394.0,1132.2 L394.4,1130.6 L394.7,1129.1 L395.0,1127.5 L395.4,1126.0 L395.7,1124.4 L396.0,1122.8 L396.3,1121.2 L396.6,1119.7 L396.9,1118.1 L397.2,1116.7 L397.5,1115.2 L397.7,1113.7 L398.0,1112.2 L398.2,1110.8 L398.4,1109.3 L398.7,1107.8 L398.9,1106.3 L399.1,1104.8 L399.4,1103.3 L399.6,1101.7 L399.8,1100.2 L400.0,1098.7 L400.2,1097.2 L400.4,1095.6 L400.6,1094.1 L400.8,1092.6 L401.0,1091.1 L401.2,1089.5 L401.4,1088.0 L401.6,1086.5 L401.8,1085.0 L402.0,1083.4 L402.2,1081.9 L402.4,1080.4 L402.5,1078.9 L402.7,1077.4 L402.9,1075.8 L403.1,1074.3 L403.2,1072.8 L403.4,1071.3 L403.5,1069.7 L403.7,1068.2 L403.9,1066.7 L404.0,1065.2 L404.2,1063.6 L404.3,1062.1 L404.5,1060.6 L404.6,1059.1 L404.8,1057.5 L404.9,1056.0 L405.1,1054.4 L405.3,1052.9 L405.4,1051.3 L405.6,1049.8 L405.8,1048.2 L406.0,1046.7 L406.2,1045.1 L406.3,1043.6 L406.5,1042.1 L406.7,1040.6 L406.9,1039.1 L407.1,1037.6 L407.3,1036.1 L407.5,1034.6 L407.7,1033.1 L407.9,1031.6 L408.1,1030.1 L408.3,1028.6 L408.5,1027.1 L408.7,1025.6 L408.9,1024.0 L409.1,1022.5 L409.4,1021.0 L409.6,1019.5 L409.8,1017.9 L410.0,1016.4 L410.2,1014.9 L410.4,1013.4 L410.6,1011.9 L410.9,1010.3 L411.1,1008.8 L411.3,1007.3 L411.5,1005.8 L411.8,1004.3 L412.0,1002.8 L412.2,1001.3 L412.4,999.7 L412.7,998.2 L412.9,996.7 L413.1,995.2 L413.4,993.7 L413.6,992.2 L413.8,990.7 L414.1,989.2 L414.3,987.7 L414.6,986.2 L414.8,984.7 L415.1,983.2 L415.3,981.6 L415.5,980.1 L415.8,978.6 L416.0,977.1 L416.3,975.6 L416.5,974.1 L416.8,972.6 L417.0,971.1 L417.2,969.6 L417.5,968.0 L417.7,966.5 L417.9,965.0 L418.2,963.5 L418.4,962.0 L418.6,960.5 L418.8,959.0 L419.1,957.5 L419.3,956.1 L419.5,954.6 L419.7,953.1 L419.9,951.6 L420.1,950.1 L420.3,948.7 L420.6,947.2 L420.8,945.7 L421.0,944.2 L421.2,942.7 L421.4,941.2 L421.6,939.7 L421.8,938.2 L422.1,936.7 L422.3,935.2 L422.5,933.7 L422.7,932.2 L422.9,930.7 L423.1,929.1 L423.4,927.6 L423.6,926.1 L423.8,924.5 L424.0,923.0 L424.3,921.4 L424.5,920.0 L424.7,918.5 L424.9,917.0 L425.1,915.5 L425.3,914.0 L425.6,912.5 L425.8,911.0 L426.0,909.5 L426.2,908.0 L426.4,906.5 L426.6,904.9 L426.8,903.4 L427.1,901.9 L427.3,900.3 L427.5,898.8 L427.7,897.2 L427.9,895.7 L428.2,894.2 L428.4,892.6 L428.6,891.1 L428.9,889.5 L429.1,888.0 L429.3,886.4 L429.5,884.9 L429.8,883.4 L430.0,881.8 L430.3,880.3 L430.5,878.8 L430.7,877.3 L431.0,875.8 L431.2,874.3 L431.5,872.8 L431.8,871.3 L432.0,869.8 L432.3,868.2 L432.5,866.7 L432.8,865.2 L433.1,863.6 L433.3,862.1 L433.6,860.5 L433.9,859.0 L434.1,857.4 L434.4,855.9 L434.7,854.3 L434.9,852.8 L435.2,851.2 L435.5,849.7 L435.8,848.2 L436.1,846.6 L436.4,845.1 L436.6,843.6 L436.9,842.1 L437.2,840.6 L437.5,839.2 L437.8,837.7 L438.1,836.3 L438.5,834.8 L438.8,833.4 L439.1,832.0 L439.4,830.6 L439.7,829.3 L440.1,828.0 L440.4,826.6 L440.8,825.3 L441.2,823.7 L441.7,822.1 L442.1,820.5 L442.6,818.9 L443.0,817.3 L443.5,815.8 L444.0,814.3 L444.4,812.8 L444.9,811.3 L445.4,809.8 L445.9,808.4 L446.4,807.0 L447.0,805.6 L447.5,804.2 L448.1,802.9 L448.6,801.6 L449.2,800.4 L449.8,799.1 L450.4,797.9 L451.2,796.4 L452.1,794.8 L453.0,793.1 L453.9,791.5 L454.8,789.9 L455.7,788.4 L456.7,787.0 L457.6,785.8 L458.6,784.7 L459.5,783.9 L460.5,783.3 L461.4,783.0 L462.7,783.2 L464.1,783.9 L465.4,785.0 L466.8,786.4 L468.1,787.8 L469.3,789.1 L470.4,790.2 L471.3,791.2 L472.3,792.4 L473.3,793.5 L474.2,794.8 L475.1,796.1 L476.0,797.4 L476.9,798.8 L477.6,800.0 L478.2,801.3 L478.9,802.6 L479.5,803.9 L480.2,805.3 L480.8,806.7 L481.4,808.1 L482.0,809.6 L482.6,811.1 L483.2,812.6 L483.8,814.0 L484.4,815.5 L484.9,817.0 L485.4,818.4 L485.9,819.9 L486.5,821.4 L486.9,822.9 L487.4,824.4 L487.9,825.9 L488.4,827.4 L488.9,829.0 L489.4,830.5 L489.9,832.0 L490.4,833.5 L490.9,835.0 L491.4,836.5 L492.0,838.0 L492.5,839.4 L493.0,840.9 L493.5,842.3 L494.0,843.8 L494.6,845.2 L495.1,846.6 L495.6,848.1 L496.2,849.5 L496.8,850.9 L497.3,852.3 L498.0,853.6 L498.6,855.0 L499.2,856.3 L499.9,857.7 L500.6,859.1 L501.4,860.4 L502.1,861.7 L502.9,863.1 L503.7,864.4 L504.5,865.7 L505.3,866.9 L506.1,868.2 L506.9,869.5 L507.8,870.7 L508.6,871.9 L509.5,873.1 L510.4,874.5 L511.4,875.8 L512.4,877.1 L513.5,878.3 L514.5,879.6 L515.5,880.9 L516.6,882.1 L517.6,883.3 L518.6,884.5 L519.6,885.7 L520.6,886.9 L521.7,888.2 L522.7,889.5 L523.8,890.7 L524.8,892.0 L525.9,893.2 L526.9,894.5 L527.8,895.7 L528.8,897.0 L529.7,898.3 L530.6,899.6 L531.4,901.0 L532.2,902.3 L533.0,903.7 L533.7,905.1 L534.4,906.6 L535.1,908.1 L535.8,909.7 L536.3,911.0 L536.8,912.3 L537.3,913.7 L537.7,915.0 L538.2,916.5 L538.6,917.9 L539.0,919.4 L539.5,920.9 L539.9,922.5 L540.3,924.0 L540.8,925.6 L541.2,927.3 L541.7,928.9 L542.1,930.2 L542.5,931.6 L542.9,932.9 L543.2,934.3 L543.6,935.7 L544.0,937.1 L544.4,938.6 L544.8,940.0 L545.2,941.5 L545.6,943.0 L546.0,944.5 L546.4,946.1 L546.9,947.6 L547.3,949.1 L547.7,950.7 L548.1,952.2 L548.5,953.8 L549.0,955.3 L549.4,956.9 L549.8,958.4 L550.3,959.9 L550.7,961.5 L551.1,962.9 L551.6,964.3 L552.0,965.7 L552.4,967.1 L552.8,968.5 L553.2,970.0 L553.7,971.4 L554.1,972.9 L554.5,974.4 L555.0,975.8 L555.4,977.3 L555.9,978.7 L556.3,980.2 L556.8,981.7 L557.2,983.1 L557.7,984.6 L558.1,986.1 L558.6,987.5 L559.0,989.0 L559.5,990.4 L559.9,991.8 L560.4,993.2 L560.8,994.6 L561.3,996.0 L561.8,997.4 L562.2,998.8 L562.7,1000.3 L563.2,1001.8 L563.7,1003.4 L564.3,1004.9 L564.8,1006.4 L565.3,1007.9 L565.8,1009.4 L566.4,1010.9 L566.9,1012.3 L567.4,1013.8 L567.9,1015.3 L568.5,1016.7 L569.0,1018.2 L569.5,1019.6 L570.0,1021.0 L570.6,1022.5 L571.1,1023.9 L571.6,1025.3 L572.1,1026.7 L572.6,1028.0 L573.1,1029.4 L573.7,1031.0 L574.2,1032.5 L574.8,1034.1 L575.4,1035.6 L575.9,1037.1 L576.5,1038.6 L577.0,1040.1 L577.6,1041.5 L578.1,1043.0 L578.7,1044.5 L579.2,1045.9 L579.8,1047.4 L580.3,1048.8 L580.8,1050.3 L581.4,1051.7 L581.9,1053.2 L582.5,1054.7 L583.0,1056.2 L583.6,1057.7 L584.1,1059.1 L584.7,1060.6 L585.2,1062.1 L585.7,1063.6 L586.3,1065.0 L586.8,1066.5 L587.3,1068.0 L587.9,1069.4 L588.5,1070.9 L589.0,1072.4 L589.6,1073.8 L590.2,1075.3 L590.8,1076.7 L591.4,1078.1 L592.0,1079.4 L592.6,1080.8 L593.2,1082.2 L593.8,1083.6 L594.4,1085.0 L595.0,1086.4 L595.6,1087.7 L596.3,1089.1 L596.9,1090.5 L597.6,1091.8 L598.2,1093.2 L598.9,1094.5 L599.6,1095.9 L600.2,1097.2 L601.0,1098.6 L601.7,1100.0 L602.5,1101.4 L603.3,1102.8 L604.1,1104.2 L604.8,1105.6 L605.6,1107.0 L606.5,1108.4 L607.3,1109.8 L608.1,1111.1 L608.9,1112.5 L609.8,1113.8 L610.6,1115.2 L611.4,1116.5 L612.3,1117.8 L613.1,1119.1 L614.0,1120.5 L614.9,1121.8 L615.8,1123.1 L616.7,1124.5 L617.6,1125.8 L618.5,1127.1 L619.4,1128.4 L620.4,1129.6 L621.3,1130.9 L622.2,1132.1 L623.1,1133.4 L624.0,1134.6 L624.9,1135.7 L625.9,1137.0 L626.9,1138.3 L627.9,1139.6 L628.9,1140.9 L630.0,1142.1 L631.0,1143.3 L632.0,1144.5 L633.0,1145.7 L633.9,1146.8 L634.9,1147.9 L635.9,1149.0 L637.1,1150.3 L638.3,1151.5 L639.5,1152.7 L640.6,1153.9 L641.8,1155.0 L642.9,1156.1 L644.0,1157.1 L645.3,1158.2 L646.5,1159.2 L647.8,1160.1 L648.9,1161.1 L650.0,1162.4 L650.7,1163.7 L651.3,1165.2 L651.9,1166.9 L652.4,1168.6 L652.9,1170.3 L653.5,1171.7 L654.2,1172.9 L655.0,1173.6 L656.3,1173.7 L657.7,1173.1 L659.3,1172.3 L660.8,1171.7 L662.3,1171.8 L663.1,1172.4 L663.9,1173.3 L664.6,1174.5 L665.4,1176.0 L666.1,1177.6 L666.8,1179.4 L667.5,1181.3 L668.2,1183.2 L668.9,1185.0 L669.7,1186.8 L670.4,1188.4 L671.1,1189.7 L671.8,1190.8 L672.5,1191.6 L673.3,1192.0 L674.5,1191.7 L675.7,1190.7 L676.9,1189.3 L678.2,1187.9 L679.4,1186.8 L680.7,1186.5 L681.6,1186.9 L682.4,1187.6 L683.3,1188.7 L684.2,1190.1 L685.0,1191.7 L685.9,1193.5 L686.8,1195.3 L687.7,1197.1 L688.7,1198.9 L689.6,1200.6 L690.5,1202.1 L691.5,1203.3 L692.5,1204.3 L693.5,1204.8 L695.0,1204.9 L696.5,1204.5 L698.0,1203.7 L699.5,1202.8 L701.1,1201.9 L702.8,1201.2 L704.5,1201.1 L705.7,1201.3 L706.9,1201.6 L708.2,1202.1 L709.5,1202.7 L710.8,1203.4 L712.1,1204.1 L713.5,1205.0 L714.9,1205.9 L716.3,1206.8 L717.7,1207.7 L719.1,1208.7 L720.5,1209.6 L721.9,1210.5 L723.2,1211.3 L724.6,1212.1" fill="none" stroke="#0070c0" stroke-width="6.2" stroke-linecap="round" stroke-linejoin="round"/>
<path d="M320.8,1231.0 L322.5,1230.9 L324.2,1230.8 L325.8,1230.8 L327.5,1230.7 L329.2,1230.6 L330.9,1230.5 L332.5,1230.4 L334.2,1230.3 L335.7,1230.2 L337.3,1230.0 L338.9,1229.9 L340.5,1229.8 L342.0,1229.6 L343.5,1229.4 L345.0,1229.2 L346.5,1228.9 L347.9,1228.6 L349.5,1228.1 L351.1,1227.5 L352.7,1226.9 L354.2,1226.2 L355.7,1225.5 L357.2,1224.6 L358.4,1223.7 L359.6,1222.8 L360.8,1221.9 L361.9,1220.8 L363.1,1219.7 L364.2,1218.6 L365.4,1217.4 L366.5,1216.2 L367.5,1215.0 L368.4,1213.8 L369.4,1212.6 L370.4,1211.3 L371.3,1209.9 L372.3,1208.6 L373.2,1207.2 L374.0,1205.7 L374.9,1204.3 L375.7,1202.9 L376.5,1201.5 L377.2,1200.1 L378.0,1198.7 L378.6,1197.3 L379.3,1195.8 L380.0,1194.3 L380.6,1192.9 L381.3,1191.4 L381.9,1189.9 L382.5,1188.4 L383.1,1186.9 L383.7,1185.5 L384.3,1184.0 L384.9,1182.6 L385.4,1181.1 L386.0,1179.6 L386.5,1178.2 L387.1,1176.7 L387.6,1175.2 L388.1,1173.6 L388.7,1172.1 L389.2,1170.5 L389.7,1169.1 L390.1,1167.7 L390.6,1166.2 L391.1,1164.8 L391.5,1163.3 L392.0,1161.9 L392.4,1160.4 L392.9,1158.9 L393.3,1157.3 L393.8,1155.8 L394.2,1154.2 L394.7,1152.6 L395.1,1151.0 L395.5,1149.3 L395.9,1148.0 L396.2,1146.6 L396.5,1145.2 L396.9,1143.8 L397.2,1142.4 L397.5,1140.9 L397.9,1139.5 L398.2,1138.0 L398.5,1136.5 L398.8,1135.0 L399.2,1133.5 L399.5,1131.9 L399.8,1130.4 L400.1,1128.9 L400.4,1127.3 L400.7,1125.8 L401.0,1124.2 L401.3,1122.7 L401.6,1121.1 L401.9,1119.6 L402.2,1118.0 L402.4,1116.6 L402.7,1115.1 L402.9,1113.6 L403.2,1112.2 L403.4,1110.7 L403.7,1109.2 L403.9,1107.7 L404.1,1106.2 L404.4,1104.7 L404.6,1103.2 L404.8,1101.7 L405.0,1100.2 L405.2,1098.7 L405.5,1097.2 L405.7,1095.6 L405.9,1094.1 L406.1,1092.6 L406.3,1091.1 L406.5,1089.5 L406.7,1088.0 L406.9,1086.5 L407.1,1085.0 L407.3,1083.5 L407.5,1081.9 L407.7,1080.4 L407.9,1078.9 L408.1,1077.4 L408.3,1075.9 L408.5,1074.3 L408.7,1072.8 L408.8,1071.3 L409.0,1069.8 L409.2,1068.2 L409.4,1066.7 L409.5,1065.2 L409.7,1063.7 L409.9,1062.1 L410.0,1060.6 L410.2,1059.1 L410.4,1057.5 L410.5,1056.0 L410.7,1054.4 L410.9,1052.9 L411.1,1051.3 L411.3,1049.8 L411.4,1048.2 L411.6,1046.7 L411.8,1045.1 L412.0,1043.6 L412.2,1042.1 L412.4,1040.6 L412.6,1039.1 L412.8,1037.6 L413.0,1036.1 L413.2,1034.6 L413.4,1033.1 L413.6,1031.6 L413.8,1030.1 L414.0,1028.6 L414.2,1027.1 L414.4,1025.6 L414.6,1024.0 L414.8,1022.5 L415.0,1021.0 L415.2,1019.5 L415.4,1017.9 L415.6,1016.4 L415.9,1014.9 L416.1,1013.4 L416.3,1011.9 L416.5,1010.3 L416.7,1008.8 L416.9,1007.3 L417.2,1005.8 L417.4,1004.3 L417.6,1002.8 L417.8,1001.3 L418.1,999.7 L418.3,998.2 L418.5,996.7 L418.8,995.2 L419.0,993.7 L419.2,992.2 L419.5,990.7 L419.7,989.2 L419.9,987.7 L420.2,986.2 L420.4,984.7 L420.7,983.2 L420.9,981.6 L421.2,980.1 L421.4,978.6 L421.6,977.1 L421.9,975.6 L422.1,974.1 L422.4,972.6 L422.6,971.1 L422.8,969.6 L423.1,968.0 L423.3,966.5 L423.6,965.0 L423.8,963.5 L424.0,962.0 L424.2,960.5 L424.5,959.0 L424.7,957.5 L424.9,956.1 L425.1,954.6 L425.3,953.1 L425.6,951.6 L425.8,950.1 L426.0,948.7 L426.2,947.2 L426.4,945.7 L426.6,944.2 L426.9,942.7 L427.1,941.2 L427.3,939.7 L427.5,938.2 L427.7,936.7 L427.9,935.2 L428.2,933.7 L428.4,932.2 L428.6,930.7 L428.8,929.2 L429.0,927.6 L429.3,926.1 L429.5,924.5 L429.7,923.0 L429.9,921.4 L430.2,920.0 L430.4,918.5 L430.6,917.0 L430.8,915.5 L431.0,914.0 L431.2,912.5 L431.4,911.0 L431.6,909.5 L431.8,908.0 L432.0,906.5 L432.2,904.9 L432.4,903.4 L432.7,901.9 L432.9,900.3 L433.1,898.8 L433.3,897.3 L433.5,895.7 L433.7,894.2 L433.9,892.6 L434.1,891.1 L434.4,889.5 L434.6,888.0 L434.8,886.5 L435.0,884.9 L435.2,883.4 L435.5,881.9 L435.7,880.3 L435.9,878.8 L436.2,877.3 L436.4,875.8 L436.6,874.3 L436.9,872.8 L437.1,871.3 L437.4,869.8 L437.6,868.2 L437.9,866.7 L438.1,865.2 L438.3,863.6 L438.6,862.1 L438.8,860.5 L439.1,859.0 L439.3,857.4 L439.6,855.9 L439.8,854.3 L440.1,852.8 L440.4,851.2 L440.6,849.7 L440.9,848.2 L441.1,846.6 L441.4,845.1 L441.7,843.6 L441.9,842.1 L442.2,840.6 L442.5,839.2 L442.8,837.7 L443.1,836.3 L443.4,834.8 L443.7,833.4 L444.0,832.0 L444.3,830.6 L444.6,829.3 L445.0,828.0 L445.3,826.6 L445.6,825.3 L446.1,823.7 L446.5,822.1 L447.0,820.5 L447.4,818.9 L447.9,817.3 L448.3,815.8 L448.8,814.2 L449.3,812.7 L449.7,811.3 L450.2,809.8 L450.7,808.4 L451.3,807.0 L451.8,805.6 L452.3,804.2 L452.9,802.9 L453.5,801.6 L454.1,800.3 L454.7,799.1 L455.3,797.9 L456.2,796.4 L457.1,794.8 L458.1,793.1 L459.0,791.5 L460.0,789.9 L461.1,788.4 L462.1,787.0 L463.1,785.8 L464.1,784.7 L465.1,783.9 L466.1,783.3 L467.0,783.0 L468.4,783.1 L469.8,783.8 L471.1,784.9 L472.4,786.2 L473.7,787.5 L474.8,788.5 L475.9,789.7 L476.9,791.0 L477.9,792.3 L478.9,793.7 L479.9,795.2 L480.9,796.7 L481.6,797.9 L482.3,799.1 L483.0,800.4 L483.7,801.8 L484.3,803.1 L485.0,804.5 L485.7,806.0 L486.4,807.4 L487.0,808.9 L487.7,810.3 L488.4,811.8 L489.1,813.2 L489.8,814.5 L490.4,815.9 L491.1,817.2 L491.8,818.6 L492.4,820.0 L493.1,821.4 L493.7,822.8 L494.4,824.1 L495.1,825.5 L495.8,826.9 L496.5,828.2 L497.2,829.5 L498.0,830.8 L498.8,832.0 L499.7,833.4 L500.6,834.8 L501.6,836.2 L502.5,837.6 L503.5,838.9 L504.5,840.2 L505.5,841.5 L506.5,842.7 L507.6,843.9 L508.6,845.1 L509.7,846.3 L510.8,847.5 L512.1,848.7 L513.3,849.8 L514.5,850.9 L515.8,851.9 L517.0,853.0 L518.3,854.1 L519.4,855.2 L520.6,856.3 L521.7,857.5 L522.8,858.6 L523.8,859.7 L524.9,860.9 L525.9,862.0 L526.9,863.2 L527.9,864.4 L528.8,865.7 L529.7,867.0 L530.5,868.2 L531.3,869.5 L532.0,870.9 L532.7,872.2 L533.4,873.6 L534.1,875.0 L534.7,876.4 L535.4,877.8 L536.0,879.2 L536.6,880.6 L537.2,882.0 L537.8,883.5 L538.4,885.0 L538.9,886.5 L539.5,887.9 L540.0,889.4 L540.5,890.9 L541.1,892.4 L541.6,893.9 L542.1,895.4 L542.7,896.9 L543.2,898.5 L543.8,900.0 L544.3,901.5 L544.8,903.0 L545.4,904.6 L545.9,906.2 L546.5,907.8 L547.0,909.4 L547.5,910.8 L548.0,912.2 L548.5,913.7 L549.0,915.1 L549.5,916.6 L550.0,918.0 L550.5,919.5 L551.0,921.1 L551.5,922.6 L552.0,924.2 L552.6,925.8 L553.1,927.5 L553.6,929.2 L554.0,930.5 L554.4,931.8 L554.9,933.2 L555.3,934.5 L555.7,935.9 L556.1,937.3 L556.6,938.8 L557.0,940.2 L557.4,941.7 L557.9,943.2 L558.3,944.7 L558.7,946.2 L559.2,947.7 L559.6,949.2 L560.1,950.8 L560.5,952.3 L561.0,953.8 L561.4,955.4 L561.9,956.9 L562.3,958.4 L562.8,960.0 L563.2,961.5 L563.6,962.9 L564.1,964.4 L564.5,965.9 L564.9,967.4 L565.3,968.8 L565.7,970.3 L566.2,971.9 L566.6,973.4 L567.0,974.9 L567.5,976.4 L567.9,977.9 L568.3,979.5 L568.8,981.0 L569.2,982.5 L569.6,984.0 L570.1,985.6 L570.5,987.1 L570.9,988.6 L571.4,990.1 L571.8,991.6 L572.2,993.0 L572.7,994.5 L573.1,996.0 L573.5,997.4 L574.0,998.8 L574.5,1000.4 L575.0,1001.9 L575.4,1003.5 L575.9,1005.0 L576.4,1006.5 L576.9,1008.0 L577.4,1009.5 L577.9,1011.0 L578.4,1012.5 L578.8,1014.0 L579.3,1015.5 L579.8,1017.0 L580.3,1018.4 L580.8,1019.9 L581.3,1021.3 L581.8,1022.7 L582.3,1024.2 L582.8,1025.6 L583.3,1026.9 L583.8,1028.3 L584.3,1029.7 L584.8,1031.2 L585.4,1032.8 L586.0,1034.3 L586.6,1035.8 L587.1,1037.3 L587.7,1038.7 L588.3,1040.2 L588.9,1041.6 L589.5,1043.1 L590.0,1044.5 L590.6,1045.9 L591.2,1047.3 L591.8,1048.7 L592.3,1050.1 L592.9,1051.5 L593.4,1052.8 L594.1,1054.4 L594.7,1055.9 L595.3,1057.4 L595.9,1058.9 L596.5,1060.4 L597.2,1061.9 L597.8,1063.4 L598.4,1064.8 L599.0,1066.3 L599.6,1067.7 L600.2,1069.2 L600.9,1070.6 L601.5,1072.0 L602.1,1073.5 L602.8,1075.0 L603.4,1076.4 L604.1,1077.9 L604.7,1079.3 L605.4,1080.8 L606.0,1082.2 L606.7,1083.6 L607.4,1085.1 L608.1,1086.5 L608.7,1087.9 L609.4,1089.3 L610.1,1090.8 L610.9,1092.2 L611.6,1093.6 L612.3,1095.0 L613.0,1096.4 L613.8,1097.8 L614.5,1099.2 L615.3,1100.6 L616.0,1102.0 L616.8,1103.4 L617.5,1104.8 L618.3,1106.2 L619.0,1107.6 L619.8,1109.0 L620.6,1110.5 L621.3,1111.9 L622.1,1113.4 L622.9,1114.8 L623.7,1116.2 L624.5,1117.7 L625.2,1119.1 L626.0,1120.5 L626.8,1121.8 L627.6,1123.2 L628.5,1124.6 L629.3,1126.1 L630.2,1127.5 L631.1,1129.0 L631.9,1130.4 L632.8,1131.8 L633.7,1133.1 L634.6,1134.4 L635.5,1135.6 L636.4,1136.8 L637.4,1138.0 L638.6,1139.0 L639.7,1140.0 L640.8,1141.0 L641.9,1142.0 L643.0,1143.0 L644.0,1144.3 L644.8,1145.6 L645.6,1147.0 L646.2,1148.6 L646.9,1150.3 L647.6,1152.0 L648.2,1153.6 L648.9,1155.2 L649.6,1156.7 L650.4,1158.0 L651.3,1159.0 L652.7,1160.0 L654.1,1160.6 L655.6,1161.0 L657.2,1161.6 L658.7,1162.6 L659.5,1163.5 L660.4,1164.7 L661.2,1166.1 L662.1,1167.7 L662.9,1169.4 L663.8,1171.1 L664.6,1172.9 L665.5,1174.7 L666.3,1176.5 L667.2,1178.1 L668.1,1179.5 L668.9,1180.8 L669.8,1181.8 L670.6,1182.5 L671.5,1182.8 L672.8,1182.5 L674.1,1181.5 L675.5,1179.9 L676.8,1178.3 L678.1,1176.8 L679.4,1175.7 L680.7,1175.5 L681.4,1175.8 L682.2,1176.5 L682.9,1177.5 L683.6,1178.8 L684.3,1180.3 L685.0,1181.9 L685.7,1183.7 L686.4,1185.6 L687.1,1187.5 L687.8,1189.4 L688.4,1191.3 L689.1,1193.0 L689.8,1194.7 L690.6,1196.1 L691.3,1197.4 L692.0,1198.3 L692.7,1199.0 L693.5,1199.3 L694.6,1199.1 L695.6,1198.3 L696.7,1197.1 L697.8,1195.6 L698.9,1193.9 L700.1,1192.2 L701.2,1190.6 L702.3,1189.4 L703.4,1188.5 L704.5,1188.3 L705.4,1188.6 L706.4,1189.1 L707.3,1190.0 L708.2,1191.0 L709.1,1192.3 L710.0,1193.7 L710.9,1195.3 L711.8,1197.0 L712.7,1198.7 L713.7,1200.4 L714.6,1202.1 L715.5,1203.7 L716.4,1205.2 L717.3,1206.6" fill="none" stroke="#203864" stroke-width="6.7" stroke-linecap="round" stroke-linejoin="round"/>
<path d="M335.0,1231.0 L336.6,1231.0 L338.3,1231.0 L339.9,1231.0 L341.6,1230.9 L343.2,1230.9 L344.9,1230.9 L346.5,1230.9 L348.1,1230.9 L349.6,1230.9 L351.1,1230.8 L352.5,1230.8 L354.4,1230.8 L356.2,1230.8 L357.9,1230.8 L359.6,1230.8 L361.2,1230.6 L362.7,1230.3 L364.3,1229.8 L365.8,1229.2 L367.2,1228.5 L368.6,1227.6 L369.9,1226.5 L371.0,1225.6 L372.1,1224.5 L373.2,1223.4 L374.3,1222.1 L375.3,1220.8 L376.4,1219.5 L377.4,1218.1 L378.3,1216.7 L379.2,1215.4 L380.0,1214.0 L380.8,1212.6 L381.6,1211.2 L382.3,1209.7 L383.1,1208.2 L383.8,1206.7 L384.5,1205.2 L385.2,1203.7 L385.9,1202.1 L386.5,1200.8 L387.1,1199.4 L387.7,1198.0 L388.2,1196.5 L388.8,1195.1 L389.3,1193.7 L389.8,1192.2 L390.4,1190.8 L390.9,1189.4 L391.4,1187.9 L391.9,1186.5 L392.5,1185.1 L393.0,1183.6 L393.5,1182.2 L394.0,1180.8 L394.5,1179.4 L395.0,1178.0 L395.5,1176.5 L396.0,1175.1 L396.5,1173.6 L396.9,1172.1 L397.4,1170.6 L397.8,1169.1 L398.2,1167.7 L398.6,1166.3 L399.0,1164.9 L399.4,1163.4 L399.8,1161.9 L400.1,1160.4 L400.5,1158.9 L400.9,1157.4 L401.2,1155.8 L401.6,1154.3 L402.0,1152.7 L402.3,1151.0 L402.7,1149.4 L403.0,1148.0 L403.3,1146.7 L403.6,1145.3 L403.8,1143.8 L404.1,1142.4 L404.4,1140.9 L404.7,1139.5 L404.9,1138.0 L405.2,1136.5 L405.5,1135.0 L405.8,1133.5 L406.0,1132.0 L406.3,1130.4 L406.5,1128.9 L406.8,1127.3 L407.1,1125.8 L407.3,1124.2 L407.6,1122.7 L407.8,1121.1 L408.1,1119.6 L408.3,1118.0 L408.6,1116.6 L408.8,1115.1 L409.0,1113.6 L409.3,1112.2 L409.5,1110.7 L409.7,1109.2 L409.9,1107.7 L410.2,1106.2 L410.4,1104.7 L410.6,1103.2 L410.8,1101.7 L411.0,1100.2 L411.3,1098.7 L411.5,1097.1 L411.7,1095.6 L411.9,1094.1 L412.1,1092.6 L412.3,1091.1 L412.5,1089.5 L412.7,1088.0 L412.9,1086.5 L413.2,1085.0 L413.4,1083.5 L413.6,1081.9 L413.8,1080.4 L414.0,1078.9 L414.2,1077.4 L414.4,1075.9 L414.6,1074.4 L414.8,1072.8 L415.0,1071.3 L415.2,1069.8 L415.4,1068.3 L415.5,1066.8 L415.7,1065.3 L415.9,1063.7 L416.1,1062.2 L416.3,1060.7 L416.5,1059.2 L416.7,1057.6 L416.9,1056.1 L417.1,1054.5 L417.3,1053.0 L417.5,1051.5 L417.7,1049.9 L417.9,1048.3 L418.1,1046.8 L418.3,1045.2 L418.5,1043.7 L418.7,1042.2 L418.9,1040.7 L419.1,1039.2 L419.3,1037.7 L419.5,1036.1 L419.7,1034.6 L420.0,1033.1 L420.2,1031.5 L420.4,1030.0 L420.6,1028.5 L420.8,1026.9 L421.0,1025.4 L421.2,1023.8 L421.5,1022.3 L421.7,1020.7 L421.9,1019.2 L422.1,1017.6 L422.3,1016.1 L422.6,1014.5 L422.8,1013.0 L423.0,1011.4 L423.2,1009.9 L423.5,1008.3 L423.7,1006.8 L423.9,1005.2 L424.1,1003.7 L424.4,1002.2 L424.6,1000.6 L424.8,999.1 L425.1,997.6 L425.3,996.1 L425.5,994.6 L425.8,993.0 L426.0,991.5 L426.2,990.0 L426.5,988.4 L426.7,986.9 L426.9,985.4 L427.2,983.8 L427.4,982.3 L427.7,980.8 L427.9,979.2 L428.2,977.7 L428.4,976.2 L428.6,974.7 L428.9,973.2 L429.1,971.7 L429.4,970.2 L429.6,968.7 L429.8,967.2 L430.1,965.7 L430.3,964.3 L430.5,962.8 L430.8,961.4 L431.0,959.8 L431.3,958.2 L431.5,956.6 L431.8,955.0 L432.1,953.4 L432.3,951.9 L432.6,950.3 L432.8,948.8 L433.1,947.2 L433.3,945.7 L433.6,944.1 L433.8,942.6 L434.1,941.1 L434.3,939.6 L434.6,938.0 L434.8,936.5 L435.1,935.0 L435.3,933.6 L435.6,932.1 L435.8,930.6 L436.1,929.1 L436.3,927.7 L436.5,926.2 L436.8,924.6 L437.0,923.1 L437.3,921.5 L437.5,920.0 L437.7,918.5 L438.0,917.0 L438.2,915.5 L438.5,914.0 L438.7,912.5 L438.9,911.0 L439.1,909.5 L439.4,908.1 L439.6,906.6 L439.8,905.1 L440.1,903.6 L440.3,902.2 L440.5,900.7 L440.8,899.2 L441.0,897.8 L441.3,896.2 L441.5,894.7 L441.8,893.2 L442.0,891.7 L442.3,890.2 L442.5,888.7 L442.8,887.2 L443.0,885.7 L443.3,884.2 L443.5,882.7 L443.8,881.2 L444.0,879.7 L444.3,878.3 L444.5,876.8 L444.8,875.3 L445.1,873.8 L445.3,872.3 L445.6,870.8 L445.9,869.3 L446.1,867.7 L446.4,866.2 L446.7,864.7 L447.0,863.2 L447.3,861.6 L447.5,860.1 L447.8,858.6 L448.1,857.1 L448.4,855.5 L448.7,854.0 L449.0,852.5 L449.3,851.0 L449.6,849.5 L449.9,848.0 L450.1,846.5 L450.4,845.0 L450.7,843.6 L451.0,842.0 L451.3,840.5 L451.6,838.9 L451.9,837.4 L452.2,835.9 L452.5,834.3 L452.8,832.8 L453.1,831.3 L453.4,829.8 L453.7,828.3 L454.1,826.8 L454.4,825.3 L454.7,823.9 L455.1,822.4 L455.5,821.0 L455.9,819.6 L456.3,818.0 L456.8,816.4 L457.3,814.9 L457.8,813.3 L458.3,811.8 L458.8,810.3 L459.3,808.8 L459.9,807.4 L460.5,805.9 L461.1,804.4 L461.7,803.0 L462.3,801.6 L463.0,800.2 L463.7,798.7 L464.5,797.1 L465.3,795.5 L466.1,793.8 L466.9,792.1 L467.8,790.5 L468.7,788.9 L469.6,787.5 L470.5,786.2 L471.3,785.0 L472.2,784.1 L473.0,783.4 L473.8,783.0 L475.5,783.0 L477.2,783.9 L478.9,785.1 L480.0,786.0 L481.1,787.0 L482.1,788.1 L483.2,789.4 L484.3,790.7 L485.3,792.0 L486.2,793.1 L487.1,794.3 L488.0,795.6 L488.9,796.9 L489.7,798.2 L490.6,799.5 L491.6,800.8 L492.5,802.1 L493.5,803.3 L494.5,804.5 L495.5,805.8 L496.6,807.0 L497.6,808.2 L498.7,809.4 L499.8,810.6 L500.9,811.7 L502.1,812.7 L503.3,813.7 L504.6,814.6 L505.9,815.4 L507.3,816.1 L508.7,816.8 L510.1,817.5 L511.5,818.1 L512.9,818.8 L514.3,819.4 L515.8,820.0 L517.3,820.5 L518.8,821.0 L520.3,821.5 L521.8,822.1 L523.2,822.7 L524.5,823.5 L525.8,824.5 L527.0,825.5 L528.2,826.6 L529.3,827.8 L530.3,829.1 L531.4,830.4 L532.3,831.8 L533.1,833.0 L533.8,834.3 L534.5,835.7 L535.2,837.1 L535.8,838.6 L536.4,840.1 L537.0,841.7 L537.6,843.2 L538.2,844.7 L538.9,846.3 L539.4,847.7 L540.0,849.1 L540.6,850.6 L541.2,852.1 L541.7,853.6 L542.3,855.1 L542.8,856.6 L543.4,858.1 L543.9,859.7 L544.5,861.2 L545.0,862.7 L545.6,864.2 L546.1,865.7 L546.7,867.2 L547.2,868.7 L547.7,870.2 L548.3,871.8 L548.8,873.3 L549.3,874.8 L549.9,876.3 L550.4,877.8 L550.9,879.3 L551.4,880.9 L551.9,882.4 L552.4,883.9 L552.8,885.4 L553.3,886.9 L553.7,888.4 L554.2,889.9 L554.6,891.4 L555.0,892.9 L555.5,894.5 L555.9,896.0 L556.4,897.6 L556.8,899.2 L557.3,900.9 L557.7,902.2 L558.1,903.6 L558.4,905.0 L558.8,906.4 L559.2,907.8 L559.6,909.2 L560.0,910.6 L560.4,912.1 L560.8,913.5 L561.3,915.0 L561.7,916.5 L562.1,918.0 L562.5,919.5 L562.9,921.0 L563.4,922.6 L563.8,924.2 L564.3,925.7 L564.7,927.1 L565.1,928.5 L565.5,929.9 L565.9,931.3 L566.3,932.7 L566.7,934.2 L567.1,935.6 L567.5,937.1 L567.9,938.5 L568.4,940.0 L568.8,941.5 L569.2,943.0 L569.7,944.5 L570.1,946.1 L570.5,947.6 L571.0,949.1 L571.4,950.6 L571.9,952.1 L572.3,953.7 L572.8,955.2 L573.2,956.7 L573.6,958.2 L574.1,959.7 L574.5,961.2 L575.0,962.7 L575.4,964.1 L575.8,965.6 L576.2,967.0 L576.7,968.5 L577.1,970.0 L577.6,971.4 L578.0,972.9 L578.4,974.4 L578.9,975.9 L579.3,977.4 L579.8,978.9 L580.2,980.3 L580.6,981.8 L581.1,983.3 L581.5,984.8 L582.0,986.2 L582.4,987.7 L582.9,989.2 L583.3,990.6 L583.8,992.0 L584.2,993.5 L584.7,994.9 L585.1,996.3 L585.6,997.7 L586.0,999.1 L586.5,1000.6 L587.1,1002.1 L587.6,1003.6 L588.1,1005.1 L588.6,1006.6 L589.1,1008.1 L589.6,1009.6 L590.1,1011.1 L590.7,1012.6 L591.2,1014.0 L591.7,1015.5 L592.2,1016.9 L592.7,1018.3 L593.3,1019.8 L593.8,1021.2 L594.3,1022.6 L594.8,1024.0 L595.3,1025.4 L595.9,1026.8 L596.4,1028.1 L596.9,1029.5 L597.5,1031.0 L598.0,1032.5 L598.6,1033.9 L599.2,1035.4 L599.7,1036.8 L600.3,1038.3 L600.9,1039.7 L601.5,1041.1 L602.0,1042.5 L602.6,1043.9 L603.2,1045.3 L603.8,1046.7 L604.3,1048.1 L604.9,1049.4 L605.4,1050.8 L606.0,1052.2 L606.5,1053.6 L607.1,1055.1 L607.7,1056.6 L608.3,1058.1 L608.9,1059.6 L609.4,1061.1 L610.0,1062.5 L610.6,1064.0 L611.1,1065.5 L611.7,1067.0 L612.3,1068.4 L612.8,1069.9 L613.4,1071.3 L614.0,1072.7 L614.6,1074.1 L615.2,1075.5 L615.8,1077.1 L616.5,1078.6 L617.2,1080.2 L617.8,1081.7 L618.5,1083.2 L619.2,1084.7 L619.8,1086.2 L620.5,1087.6 L621.2,1089.0 L621.9,1090.4 L622.6,1091.8 L623.4,1093.0 L624.3,1094.6 L625.3,1095.9 L626.4,1097.3 L627.4,1098.5 L628.4,1099.8 L629.4,1101.1 L630.3,1102.5 L631.2,1104.0 L631.8,1105.4 L632.3,1106.9 L632.8,1108.5 L633.2,1110.1 L633.6,1111.8 L633.9,1113.5 L634.3,1115.1 L634.8,1116.6 L635.3,1118.1 L636.0,1119.4 L636.7,1120.5 L637.8,1121.6 L639.1,1122.3 L640.5,1122.9 L641.9,1123.5 L643.3,1124.1 L644.6,1124.9 L645.8,1126.0 L646.5,1127.1 L647.1,1128.4 L647.7,1129.9 L648.2,1131.5 L648.7,1133.3 L649.1,1135.1 L649.5,1137.0 L649.9,1138.8 L650.4,1140.5 L650.8,1142.1 L651.3,1143.5 L651.9,1144.6 L652.5,1145.5 L653.2,1146.1 L654.6,1146.2 L656.1,1145.6 L657.6,1144.8 L659.1,1144.2 L660.5,1144.3 L661.2,1144.9 L661.9,1145.7 L662.6,1146.9 L663.2,1148.2 L663.7,1149.7 L664.2,1151.4 L664.7,1153.1 L665.2,1154.9 L665.7,1156.6 L666.2,1158.3 L666.7,1159.9 L667.2,1161.3 L667.8,1162.6 L668.6,1164.3 L669.3,1166.0 L670.1,1167.7 L670.8,1169.3 L671.6,1170.6 L672.4,1171.4 L673.3,1171.8 L674.3,1171.3 L675.3,1170.0 L676.4,1168.2 L677.5,1166.2 L678.6,1164.3 L679.7,1163.0 L680.7,1162.6 L681.5,1163.0 L682.3,1163.8 L683.0,1165.0 L683.7,1166.5 L684.4,1168.3 L685.1,1170.2 L685.8,1172.1 L686.5,1174.0 L687.3,1175.8 L688.0,1177.3 L688.8,1178.9 L689.6,1180.7 L690.3,1182.5 L691.1,1184.4 L691.9,1186.1 L692.7,1187.7 L693.5,1188.9 L694.4,1189.7 L695.3,1190.1 L696.2,1189.8 L697.2,1188.8 L698.3,1187.3 L699.3,1185.5 L700.4,1183.7 L701.4,1181.9 L702.5,1180.4 L703.5,1179.4 L704.5,1179.1 L705.3,1179.4 L706.1,1180.1 L706.9,1181.2 L707.6,1182.5 L708.4,1184.0 L709.1,1185.7 L709.9,1187.5 L710.6,1189.4 L711.3,1191.1 L712.1,1192.8 L712.8,1194.3 L713.6,1195.6 L714.7,1197.1 L715.9,1198.4 L717.1,1199.6 L718.3,1200.7 L719.3,1202.0 L720.3,1203.3 L721.0,1204.8 L721.4,1206.1 L721.6,1207.4 L721.8,1208.9 L721.8,1210.4 L721.8,1211.9 L721.8,1213.5 L721.7,1215.0 L721.6,1216.6 L721.5,1218.2 L721.5,1219.8 L721.5,1221.3" fill="none" stroke="#7030a0" stroke-width="6.7" stroke-linecap="round" stroke-linejoin="round"/>
<text x="-2" y="695.1" font-family='"Liberation Sans", sans-serif' font-size="33.5" fill="#000">(b)</text>
<text x="79.90" y="1283.3" text-anchor="middle" font-family='"Liberation Sans", sans-serif' font-size="30.5" textLength="36" lengthAdjust="spacingAndGlyphs" fill="#000">14</text>
<text x="180.71" y="1283.3" text-anchor="middle" font-family='"Liberation Sans", sans-serif' font-size="30.5" textLength="36" lengthAdjust="spacingAndGlyphs" fill="#000">16</text>
<text x="281.53" y="1283.3" text-anchor="middle" font-family='"Liberation Sans", sans-serif' font-size="30.5" textLength="36" lengthAdjust="spacingAndGlyphs" fill="#000">18</text>
<text x="382.34" y="1283.3" text-anchor="middle" font-family='"Liberation Sans", sans-serif' font-size="30.5" textLength="36" lengthAdjust="spacingAndGlyphs" fill="#000">20</text>
<text x="483.16" y="1283.3" text-anchor="middle" font-family='"Liberation Sans", sans-serif' font-size="30.5" textLength="36" lengthAdjust="spacingAndGlyphs" fill="#000">22</text>
<text x="583.97" y="1283.3" text-anchor="middle" font-family='"Liberation Sans", sans-serif' font-size="30.5" textLength="36" lengthAdjust="spacingAndGlyphs" fill="#000">24</text>
<text x="684.79" y="1283.3" text-anchor="middle" font-family='"Liberation Sans", sans-serif' font-size="30.5" textLength="36" lengthAdjust="spacingAndGlyphs" fill="#000">26</text>
<text x="785.60" y="1283.3" text-anchor="middle" font-family='"Liberation Sans", sans-serif' font-size="30.5" textLength="36" lengthAdjust="spacingAndGlyphs" fill="#000">28</text>
<text x="347.1" y="1317.3" font-family='"Liberation Sans", sans-serif' font-weight="bold" font-size="30.4" textLength="170.0" lengthAdjust="spacingAndGlyphs" fill="#000">Time (min)</text>
<text transform="translate(63.9,1029.9) rotate(-90)" x="0" y="0" font-family='"Liberation Sans", sans-serif' font-weight="bold" font-size="29.5" textLength="135.8" lengthAdjust="spacingAndGlyphs" fill="#000">Intensity</text>
<line x1="809.4" y1="733.1" x2="869.5" y2="733.1" stroke="#aca7a7" stroke-width="6" stroke-linecap="round"/>
<text x="911.2" y="745.7" text-anchor="middle" font-family='"Liberation Sans", sans-serif' font-size="31" textLength="18.5" lengthAdjust="spacingAndGlyphs" fill="#000">0</text>
<line x1="809.4" y1="782.9" x2="869.5" y2="782.9" stroke="#d2009b" stroke-width="6" stroke-linecap="round"/>
<text x="912.5" y="790.9" text-anchor="middle" font-family='"Liberation Sans", sans-serif' font-size="31" textLength="36.8" lengthAdjust="spacingAndGlyphs" fill="#000">20</text>
<line x1="809.4" y1="828.9" x2="869.5" y2="828.9" stroke="#ff0000" stroke-width="6" stroke-linecap="round"/>
<text x="912.5" y="838.2" text-anchor="middle" font-family='"Liberation Sans", sans-serif' font-size="31" textLength="36.8" lengthAdjust="spacingAndGlyphs" fill="#000">40</text>
<line x1="809.4" y1="875.2" x2="869.5" y2="875.2" stroke="#ffc000" stroke-width="6" stroke-linecap="round"/>
<text x="912.5" y="884.7" text-anchor="middle" font-family='"Liberation Sans", sans-serif' font-size="31" textLength="36.8" lengthAdjust="spacingAndGlyphs" fill="#000">60</text>
<line x1="809.4" y1="921.1" x2="869.5" y2="921.1" stroke="#92d050" stroke-width="6" stroke-linecap="round"/>
<text x="912.5" y="931.1" text-anchor="middle" font-family='"Liberation Sans", sans-serif' font-size="31" textLength="36.8" lengthAdjust="spacingAndGlyphs" fill="#000">80</text>
<line x1="809.4" y1="967.4" x2="869.5" y2="967.4" stroke="#00b050" stroke-width="6" stroke-linecap="round"/>
<text x="911.5" y="979.2" text-anchor="middle" font-family='"Liberation Sans", sans-serif' font-size="31" textLength="54.0" lengthAdjust="spacingAndGlyphs" fill="#000">100</text>
<line x1="809.4" y1="1013.5" x2="869.5" y2="1013.5" stroke="#9dc3e6" stroke-width="6" stroke-linecap="round"/>
<text x="911.5" y="1025.7" text-anchor="middle" font-family='"Liberation Sans", sans-serif' font-size="31" textLength="54.0" lengthAdjust="spacingAndGlyphs" fill="#000">120</text>
<line x1="809.4" y1="1059.3" x2="869.5" y2="1059.3" stroke="#0070c0" stroke-width="6" stroke-linecap="round"/>
<text x="911.5" y="1069.9" text-anchor="middle" font-family='"Liberation Sans", sans-serif' font-size="31" textLength="54.0" lengthAdjust="spacingAndGlyphs" fill="#000">140</text>
<line x1="809.4" y1="1105.8" x2="869.5" y2="1105.8" stroke="#203864" stroke-width="6" stroke-linecap="round"/>
<text x="911.5" y="1116.2" text-anchor="middle" font-family='"Liberation Sans", sans-serif' font-size="31" textLength="54.0" lengthAdjust="spacingAndGlyphs" fill="#000">160</text>
<line x1="809.4" y1="1151.7" x2="869.5" y2="1151.7" stroke="#7030a0" stroke-width="6" stroke-linecap="round"/>
<text x="911.5" y="1160.1" text-anchor="middle" font-family='"Liberation Sans", sans-serif' font-size="31" textLength="54.0" lengthAdjust="spacingAndGlyphs" fill="#000">180</text>
<g font-family='"Liberation Sans", sans-serif' fill="#000"><text x="855.6" y="1208.5" font-size="27.5" textLength="104.5" lengthAdjust="spacingAndGlyphs">(μC/cm</text><text x="959.6" y="1200.2" font-size="17.5" textLength="11" lengthAdjust="spacingAndGlyphs">2</text><text x="973.5" y="1208.5" font-size="27.5">)</text></g>
<g stroke="#d9d9d9" stroke-width="1.8"><line x1="181.69" y1="1367.75" x2="181.69" y2="1902.90"/><line x1="282.39" y1="1367.75" x2="282.39" y2="1902.90"/><line x1="383.08" y1="1367.75" x2="383.08" y2="1902.90"/><line x1="483.77" y1="1367.75" x2="483.77" y2="1902.90"/><line x1="584.46" y1="1367.75" x2="584.46" y2="1902.90"/><line x1="685.16" y1="1367.75" x2="685.16" y2="1902.90"/><line x1="81.00" y1="1456.94" x2="785.85" y2="1456.94"/><line x1="81.00" y1="1546.13" x2="785.85" y2="1546.13"/><line x1="81.00" y1="1635.33" x2="785.85" y2="1635.33"/><line x1="81.00" y1="1724.52" x2="785.85" y2="1724.52"/><line x1="81.00" y1="1813.71" x2="785.85" y2="1813.71"/></g>
<text x="541.8" y="1435.9" font-family='"Liberation Sans", sans-serif' font-weight="bold" font-size="59" textLength="215.9" lengthAdjust="spacingAndGlyphs" fill="#000" stroke="#000" stroke-width="1.1" stroke-linejoin="round">ZEP7000</text>
<path d="M81.00,1367.75 L785.85,1367.75 L785.85,1902.90 L81.00,1902.90 Z" fill="none" stroke="#404040" stroke-width="6.3" stroke-linejoin="round"/>
<line x1="81.00" y1="1902.90" x2="785.85" y2="1902.90" stroke="#bfbfbf" stroke-width="3"/>
<path d="M82.0,1902.0 L83.6,1902.0 L85.2,1902.0 L86.8,1902.1 L88.5,1902.1 L90.1,1902.2 L91.7,1902.2 L93.3,1902.1 L94.9,1902.0 L96.4,1901.9 L98.0,1901.7 L99.6,1901.5 L101.1,1901.2 L102.7,1900.9 L104.2,1900.5 L105.7,1900.1 L107.1,1899.5 L108.5,1898.8 L109.8,1898.0 L111.1,1897.0 L112.3,1896.0 L113.5,1894.8 L114.6,1893.6 L115.7,1892.3 L116.8,1890.9 L117.8,1889.4 L118.5,1888.2 L119.2,1886.9 L119.9,1885.6 L120.6,1884.2 L121.2,1882.7 L121.8,1881.2 L122.3,1879.7 L122.9,1878.1 L123.4,1876.5 L123.9,1874.9 L124.5,1873.3 L125.0,1871.7 L125.4,1870.3 L125.8,1868.9 L126.2,1867.4 L126.6,1866.0 L127.0,1864.5 L127.4,1863.0 L127.7,1861.5 L128.1,1860.0 L128.4,1858.4 L128.8,1856.9 L129.1,1855.3 L129.4,1853.8 L129.7,1852.2 L130.1,1850.7 L130.4,1849.2 L130.7,1847.6 L131.0,1846.1 L131.3,1844.5 L131.6,1843.0 L131.9,1841.5 L132.2,1839.9 L132.5,1838.4 L132.8,1836.8 L133.1,1835.2 L133.4,1833.7 L133.6,1832.1 L133.9,1830.5 L134.2,1829.0 L134.4,1827.4 L134.7,1825.8 L135.0,1824.2 L135.2,1822.7 L135.5,1821.2 L135.7,1819.7 L135.9,1818.3 L136.2,1816.8 L136.4,1815.4 L136.6,1813.9 L136.8,1812.5 L137.1,1811.0 L137.3,1809.5 L137.5,1808.1 L137.7,1806.6 L137.9,1805.1 L138.1,1803.6 L138.4,1802.1 L138.6,1800.6 L138.8,1799.0 L139.0,1797.5 L139.2,1795.9 L139.4,1794.5 L139.6,1793.0 L139.8,1791.6 L140.0,1790.1 L140.2,1788.6 L140.4,1787.1 L140.6,1785.6 L140.8,1784.1 L141.0,1782.6 L141.2,1781.0 L141.4,1779.5 L141.6,1777.9 L141.8,1776.4 L142.0,1774.9 L142.2,1773.3 L142.4,1771.8 L142.6,1770.2 L142.8,1768.7 L143.0,1767.1 L143.2,1765.6 L143.4,1764.1 L143.6,1762.6 L143.8,1761.1 L144.0,1759.5 L144.2,1758.0 L144.4,1756.5 L144.6,1755.0 L144.8,1753.4 L145.0,1751.9 L145.2,1750.3 L145.4,1748.8 L145.6,1747.3 L145.8,1745.7 L146.0,1744.2 L146.2,1742.7 L146.4,1741.2 L146.6,1739.7 L146.8,1738.2 L147.0,1736.7 L147.2,1735.2 L147.4,1733.7 L147.6,1732.3 L147.8,1730.8 L148.0,1729.4 L148.2,1727.8 L148.4,1726.2 L148.7,1724.6 L148.9,1723.0 L149.2,1721.5 L149.4,1719.9 L149.6,1718.4 L149.9,1716.9 L150.1,1715.4 L150.4,1713.9 L150.6,1712.3 L150.8,1710.8 L151.1,1709.3 L151.3,1707.8 L151.5,1706.2 L151.8,1704.7 L152.0,1703.1 L152.2,1701.6 L152.4,1700.1 L152.6,1698.6 L152.8,1697.1 L153.0,1695.6 L153.3,1694.1 L153.5,1692.7 L153.7,1691.1 L153.9,1689.6 L154.1,1688.1 L154.3,1686.6 L154.5,1685.1 L154.7,1683.6 L154.9,1682.0 L155.1,1680.5 L155.3,1679.0 L155.5,1677.4 L155.7,1675.8 L155.9,1674.3 L156.1,1672.8 L156.2,1671.3 L156.4,1669.8 L156.6,1668.3 L156.7,1666.8 L156.9,1665.3 L157.1,1663.8 L157.2,1662.2 L157.4,1660.7 L157.5,1659.2 L157.7,1657.6 L157.9,1656.1 L158.0,1654.6 L158.2,1653.0 L158.3,1651.5 L158.5,1649.9 L158.6,1648.4 L158.8,1646.9 L159.0,1645.4 L159.1,1643.9 L159.3,1642.4 L159.4,1640.9 L159.6,1639.4 L159.8,1637.8 L159.9,1636.3 L160.1,1634.8 L160.3,1633.2 L160.4,1631.7 L160.6,1630.2 L160.7,1628.7 L160.9,1627.2 L161.1,1625.7 L161.2,1624.2 L161.4,1622.7 L161.6,1621.2 L161.7,1619.7 L161.9,1618.2 L162.1,1616.7 L162.3,1615.2 L162.4,1613.7 L162.6,1612.2 L162.8,1610.7 L163.0,1609.1 L163.2,1607.6 L163.4,1606.1 L163.6,1604.6 L163.8,1603.1 L164.0,1601.6 L164.2,1600.1 L164.4,1598.6 L164.6,1597.1 L164.8,1595.6 L165.0,1594.1 L165.2,1592.6 L165.4,1591.1 L165.6,1589.6 L165.8,1588.1 L166.0,1586.6 L166.2,1585.1 L166.5,1583.5 L166.7,1582.0 L166.9,1580.4 L167.1,1579.0 L167.3,1577.5 L167.5,1576.0 L167.7,1574.5 L167.9,1573.0 L168.1,1571.4 L168.3,1569.9 L168.6,1568.4 L168.8,1566.9 L169.0,1565.3 L169.2,1563.8 L169.4,1562.3 L169.6,1560.7 L169.8,1559.2 L170.0,1557.7 L170.3,1556.2 L170.5,1554.6 L170.7,1553.1 L170.9,1551.6 L171.1,1550.1 L171.3,1548.5 L171.5,1547.0 L171.8,1545.5 L172.0,1543.9 L172.2,1542.4 L172.4,1540.8 L172.6,1539.3 L172.8,1537.7 L173.1,1536.1 L173.3,1534.6 L173.5,1533.0 L173.7,1531.5 L173.9,1529.9 L174.1,1528.4 L174.3,1526.8 L174.6,1525.3 L174.8,1523.8 L175.0,1522.2 L175.2,1520.7 L175.5,1519.2 L175.7,1517.7 L175.9,1516.2 L176.2,1514.7 L176.4,1513.2 L176.7,1511.6 L176.9,1510.1 L177.2,1508.5 L177.5,1507.0 L177.7,1505.4 L178.0,1503.9 L178.2,1502.3 L178.5,1500.8 L178.8,1499.3 L179.1,1497.8 L179.3,1496.3 L179.6,1494.8 L179.9,1493.3 L180.2,1491.9 L180.5,1490.4 L180.8,1489.0 L181.1,1487.7 L181.5,1486.3 L181.9,1484.6 L182.3,1482.9 L182.7,1481.3 L183.2,1479.6 L183.6,1478.0 L184.1,1476.4 L184.5,1474.8 L185.0,1473.3 L185.5,1471.8 L186.0,1470.3 L186.6,1469.0 L187.1,1467.6 L187.7,1466.4 L188.5,1464.7 L189.3,1463.1 L190.2,1461.5 L191.1,1460.0 L192.0,1458.8 L192.9,1457.8 L193.9,1457.2 L195.5,1456.9 L197.2,1457.2 L198.9,1457.9 L200.0,1458.7 L201.0,1459.9 L202.1,1461.2 L203.1,1462.7 L204.1,1464.4 L205.0,1466.2 L205.6,1467.3 L206.2,1468.6 L206.7,1469.9 L207.3,1471.3 L207.8,1472.7 L208.4,1474.2 L208.9,1475.7 L209.4,1477.3 L210.0,1478.9 L210.5,1480.5 L211.0,1482.1 L211.5,1483.8 L212.0,1485.4 L212.4,1487.0 L212.9,1488.4 L213.3,1489.9 L213.7,1491.3 L214.1,1492.8 L214.5,1494.3 L214.9,1495.9 L215.3,1497.4 L215.7,1498.9 L216.1,1500.5 L216.5,1502.0 L216.8,1503.6 L217.2,1505.2 L217.6,1506.7 L217.9,1508.2 L218.3,1509.8 L218.7,1511.3 L219.0,1512.8 L219.3,1514.2 L219.7,1515.8 L220.1,1517.4 L220.4,1519.0 L220.8,1520.6 L221.1,1522.2 L221.5,1523.7 L221.8,1525.3 L222.1,1526.8 L222.5,1528.4 L222.8,1529.9 L223.1,1531.4 L223.4,1533.0 L223.7,1534.5 L224.1,1536.0 L224.4,1537.6 L224.7,1539.1 L225.0,1540.5 L225.3,1542.0 L225.6,1543.5 L225.9,1544.9 L226.3,1546.4 L226.6,1547.8 L226.9,1549.3 L227.2,1550.7 L227.5,1552.2 L227.8,1553.7 L228.1,1555.2 L228.4,1556.7 L228.7,1558.2 L229.1,1559.8 L229.3,1561.2 L229.6,1562.6 L229.9,1564.0 L230.2,1565.5 L230.5,1567.0 L230.9,1568.5 L231.2,1569.9 L231.5,1571.4 L231.8,1573.0 L232.1,1574.5 L232.4,1576.0 L232.7,1577.5 L233.0,1579.0 L233.3,1580.6 L233.6,1582.1 L233.9,1583.6 L234.3,1585.1 L234.6,1586.6 L234.9,1588.1 L235.2,1589.6 L235.5,1591.1 L235.8,1592.6 L236.1,1594.1 L236.4,1595.6 L236.7,1597.1 L237.0,1598.7 L237.3,1600.2 L237.7,1601.7 L238.0,1603.2 L238.3,1604.7 L238.6,1606.2 L238.9,1607.7 L239.2,1609.2 L239.5,1610.6 L239.8,1612.1 L240.1,1613.5 L240.4,1614.9 L240.7,1616.3 L241.1,1618.0 L241.4,1619.6 L241.8,1621.2 L242.1,1622.8 L242.5,1624.4 L242.8,1625.9 L243.2,1627.5 L243.5,1629.0 L243.9,1630.5 L244.2,1632.1 L244.6,1633.6 L244.9,1635.1 L245.3,1636.7 L245.7,1638.2 L246.0,1639.8 L246.4,1641.3 L246.8,1642.9 L247.2,1644.4 L247.5,1646.0 L247.9,1647.5 L248.3,1649.0 L248.7,1650.6 L249.0,1652.1 L249.4,1653.7 L249.8,1655.2 L250.2,1656.8 L250.6,1658.4 L251.0,1660.0 L251.4,1661.5 L251.8,1663.0 L252.1,1664.5 L252.5,1666.0 L252.9,1667.6 L253.3,1669.1 L253.7,1670.7 L254.1,1672.2 L254.5,1673.8 L254.9,1675.3 L255.3,1676.9 L255.7,1678.5 L256.1,1680.0 L256.5,1681.5 L256.9,1683.1 L257.3,1684.6 L257.7,1686.1 L258.1,1687.7 L258.5,1689.2 L259.0,1690.7 L259.4,1692.3 L259.8,1693.8 L260.2,1695.4 L260.6,1696.9 L261.0,1698.4 L261.4,1699.9 L261.8,1701.4 L262.2,1702.9 L262.6,1704.3 L263.0,1705.8 L263.4,1707.2 L263.8,1708.7 L264.3,1710.3 L264.7,1711.8 L265.1,1713.3 L265.5,1714.8 L265.9,1716.2 L266.3,1717.7 L266.7,1719.1 L267.2,1720.6 L267.6,1722.0 L268.0,1723.4 L268.4,1724.8 L268.9,1726.4 L269.4,1727.9 L269.8,1729.5 L270.3,1731.0 L270.8,1732.5 L271.3,1734.0 L271.8,1735.5 L272.3,1737.0 L272.8,1738.5 L273.3,1740.1 L273.8,1741.5 L274.4,1743.0 L274.9,1744.4 L275.5,1745.9 L276.0,1747.4 L276.6,1748.9 L277.2,1750.4 L277.8,1751.9 L278.4,1753.4 L279.0,1755.0 L279.6,1756.5 L280.2,1758.1 L280.8,1759.4 L281.3,1760.8 L281.9,1762.2 L282.5,1763.6 L283.1,1765.0 L283.7,1766.5 L284.3,1767.9 L284.9,1769.3 L285.5,1770.7 L286.1,1772.2 L286.8,1773.6 L287.4,1775.0 L288.0,1776.4 L288.6,1777.8 L289.2,1779.2 L289.9,1780.6 L290.5,1782.1 L291.2,1783.5 L291.8,1784.9 L292.5,1786.3 L293.1,1787.7 L293.8,1789.1 L294.4,1790.5 L295.1,1791.9 L295.7,1793.3 L296.4,1794.7 L297.0,1796.1 L297.7,1797.4 L298.3,1798.8 L299.0,1800.2 L299.7,1801.7 L300.4,1803.1 L301.1,1804.6 L301.7,1806.0 L302.4,1807.4 L303.1,1808.8 L303.8,1810.2 L304.4,1811.6 L305.1,1813.0 L305.8,1814.4 L306.4,1815.8 L307.1,1817.2 L307.8,1818.7 L308.5,1820.1 L309.2,1821.6 L309.9,1823.0 L310.5,1824.5 L311.2,1825.9 L311.9,1827.3 L312.6,1828.7 L313.2,1830.1 L313.9,1831.5 L314.6,1832.9 L315.4,1834.4 L316.1,1835.9 L316.8,1837.3 L317.5,1838.7 L318.3,1840.1 L319.0,1841.5 L319.7,1842.9 L320.5,1844.3 L321.3,1845.7 L322.2,1847.1 L323.0,1848.5 L323.8,1849.9 L324.7,1851.2 L325.6,1852.6 L326.5,1853.9 L327.5,1855.3 L328.4,1856.6 L329.3,1857.8 L330.3,1859.1 L331.2,1860.3 L332.2,1861.6 L333.3,1862.8 L334.3,1864.0 L335.4,1865.3 L336.5,1866.5 L337.6,1867.6 L338.7,1868.7 L339.8,1869.8 L340.9,1870.8 L342.0,1871.9 L343.2,1872.9 L344.4,1873.9 L345.6,1874.9 L346.8,1875.9 L348.1,1876.9 L349.3,1877.8 L350.6,1878.7 L351.9,1879.5 L353.2,1880.4 L354.5,1881.2 L355.8,1881.9 L357.2,1882.7 L358.5,1883.4 L359.9,1884.1 L361.3,1884.8 L362.7,1885.4 L364.1,1886.0 L365.5,1886.6 L366.9,1887.2 L368.3,1887.8 L369.7,1888.3 L371.2,1888.8 L372.6,1889.3 L374.1,1889.8 L375.6,1890.2 L377.0,1890.6 L378.5,1891.0 L380.0,1891.4 L381.5,1891.8 L382.9,1892.2 L384.4,1892.5 L386.0,1892.9 L387.6,1893.3 L389.2,1893.7 L390.8,1894.0 L392.4,1894.3 L394.0,1894.7 L395.6,1895.0 L397.2,1895.3 L398.9,1895.5 L400.6,1895.8 L402.0,1896.1 L403.4,1896.3 L404.9,1896.5 L406.3,1896.7 L407.8,1896.9 L409.3,1897.1 L410.8,1897.3 L412.3,1897.5 L413.8,1897.6 L415.4,1897.8 L416.9,1898.0 L418.5,1898.1 L420.1,1898.3 L421.6,1898.4 L423.1,1898.5 L424.6,1898.6 L426.1,1898.7 L427.7,1898.8 L429.2,1898.9 L430.8,1899.0 L432.4,1899.1 L434.0,1899.1 L435.6,1899.2 L437.2,1899.3 L438.8,1899.3 L440.4,1899.4 L442.1,1899.5 L443.7,1899.5 L445.3,1899.6 L446.8,1899.6 L448.3,1899.7 L449.8,1899.7 L451.4,1899.7 L452.9,1899.8 L454.4,1899.8 L456.0,1899.8 L457.5,1899.9 L459.1,1899.9 L460.6,1899.9 L462.2,1899.9 L463.8,1899.9 L465.3,1900.0 L466.9,1900.0 L468.5,1900.0 L470.0,1900.0 L471.6,1900.0 L473.2,1900.1 L474.7,1900.1" fill="none" stroke="#aca7a7" stroke-width="6.2" stroke-linecap="round" stroke-linejoin="round"/>
<path d="M200.9,1902.2 L202.4,1902.2 L204.0,1902.2 L205.5,1902.2 L207.1,1902.2 L208.7,1902.2 L210.2,1902.2 L211.8,1902.1 L213.3,1902.1 L214.9,1902.1 L216.4,1902.1 L218.0,1902.1 L219.5,1902.1 L221.0,1902.1 L222.4,1902.1 L223.9,1902.1 L225.3,1902.1 L227.0,1902.1 L228.6,1902.2 L230.2,1902.2 L231.8,1902.2 L233.3,1902.3 L234.9,1902.3 L236.4,1902.4 L237.9,1902.4 L239.3,1902.4 L240.8,1902.4 L242.2,1902.3 L243.6,1902.2 L245.2,1902.1 L246.8,1902.0 L248.3,1901.9 L249.8,1901.7 L251.3,1901.5 L252.7,1901.1 L254.1,1900.7 L255.4,1900.2 L256.7,1899.5 L258.0,1898.6 L259.2,1897.7 L260.3,1896.7 L261.4,1895.6 L262.5,1894.4 L263.6,1893.2 L264.6,1891.9 L265.4,1890.8 L266.2,1889.6 L267.0,1888.3 L267.7,1887.0 L268.4,1885.7 L269.1,1884.3 L269.8,1882.9 L270.4,1881.4 L271.0,1880.0 L271.6,1878.5 L272.3,1877.0 L272.8,1875.6 L273.4,1874.1 L273.9,1872.6 L274.4,1871.1 L274.9,1869.6 L275.4,1868.0 L275.8,1866.5 L276.3,1864.9 L276.7,1863.3 L277.2,1861.8 L277.6,1860.2 L278.1,1858.6 L278.4,1857.2 L278.8,1855.8 L279.2,1854.3 L279.5,1852.9 L279.9,1851.5 L280.3,1850.1 L280.6,1848.6 L280.9,1847.2 L281.3,1845.7 L281.6,1844.2 L281.9,1842.7 L282.3,1841.2 L282.6,1839.7 L282.9,1838.1 L283.2,1836.7 L283.5,1835.3 L283.8,1833.9 L284.1,1832.4 L284.4,1831.0 L284.7,1829.6 L285.0,1828.1 L285.3,1826.6 L285.6,1825.1 L285.9,1823.6 L286.1,1822.1 L286.4,1820.6 L286.7,1819.0 L287.0,1817.5 L287.3,1815.9 L287.6,1814.3 L287.8,1812.7 L288.1,1811.0 L288.4,1809.7 L288.6,1808.3 L288.8,1806.9 L289.1,1805.5 L289.3,1804.1 L289.5,1802.7 L289.8,1801.2 L290.0,1799.8 L290.2,1798.3 L290.5,1796.8 L290.7,1795.3 L291.0,1793.8 L291.2,1792.3 L291.4,1790.8 L291.6,1789.3 L291.9,1787.8 L292.1,1786.3 L292.3,1784.7 L292.6,1783.2 L292.8,1781.7 L293.0,1780.1 L293.3,1778.6 L293.5,1777.0 L293.7,1775.5 L293.9,1773.9 L294.2,1772.4 L294.4,1771.0 L294.6,1769.5 L294.8,1768.0 L295.0,1766.6 L295.2,1765.1 L295.4,1763.6 L295.6,1762.1 L295.8,1760.6 L296.0,1759.1 L296.2,1757.6 L296.4,1756.1 L296.6,1754.6 L296.8,1753.1 L297.0,1751.6 L297.2,1750.1 L297.4,1748.6 L297.6,1747.1 L297.8,1745.5 L298.0,1744.0 L298.2,1742.5 L298.4,1741.0 L298.6,1739.5 L298.8,1737.9 L299.0,1736.4 L299.2,1734.9 L299.4,1733.4 L299.6,1731.9 L299.8,1730.3 L300.0,1728.8 L300.2,1727.3 L300.4,1725.8 L300.6,1724.3 L300.8,1722.8 L301.0,1721.3 L301.1,1719.8 L301.3,1718.3 L301.5,1716.8 L301.7,1715.3 L301.9,1713.8 L302.1,1712.3 L302.3,1710.8 L302.4,1709.3 L302.6,1707.8 L302.8,1706.3 L303.0,1704.8 L303.2,1703.3 L303.4,1701.8 L303.6,1700.3 L303.7,1698.7 L303.9,1697.2 L304.1,1695.7 L304.3,1694.2 L304.5,1692.7 L304.7,1691.2 L304.9,1689.7 L305.0,1688.2 L305.2,1686.7 L305.4,1685.2 L305.6,1683.6 L305.8,1682.1 L306.0,1680.7 L306.2,1679.2 L306.4,1677.7 L306.5,1676.2 L306.7,1674.7 L306.9,1673.2 L307.1,1671.7 L307.3,1670.2 L307.5,1668.8 L307.7,1667.3 L307.8,1665.8 L308.0,1664.3 L308.2,1662.8 L308.4,1661.3 L308.6,1659.8 L308.8,1658.3 L309.0,1656.8 L309.2,1655.3 L309.4,1653.8 L309.6,1652.4 L309.7,1650.9 L309.9,1649.4 L310.1,1647.9 L310.3,1646.4 L310.5,1644.9 L310.7,1643.4 L310.9,1641.9 L311.1,1640.4 L311.3,1638.9 L311.5,1637.4 L311.7,1635.9 L311.9,1634.4 L312.1,1632.9 L312.3,1631.4 L312.5,1629.8 L312.7,1628.3 L312.9,1626.8 L313.1,1625.3 L313.3,1623.8 L313.5,1622.3 L313.7,1620.7 L313.9,1619.2 L314.1,1617.7 L314.3,1616.2 L314.5,1614.7 L314.7,1613.1 L314.9,1611.6 L315.1,1610.1 L315.3,1608.6 L315.5,1607.1 L315.7,1605.5 L315.9,1604.0 L316.1,1602.5 L316.3,1601.0 L316.5,1599.5 L316.8,1598.0 L317.0,1596.4 L317.2,1594.9 L317.4,1593.4 L317.6,1591.9 L317.8,1590.4 L318.0,1588.9 L318.2,1587.4 L318.5,1585.9 L318.7,1584.4 L318.9,1582.9 L319.1,1581.4 L319.3,1579.9 L319.5,1578.4 L319.7,1576.9 L320.0,1575.4 L320.2,1573.8 L320.4,1572.3 L320.6,1570.8 L320.8,1569.3 L321.0,1567.8 L321.3,1566.3 L321.5,1564.8 L321.7,1563.3 L321.9,1561.8 L322.1,1560.3 L322.4,1558.8 L322.6,1557.4 L322.8,1555.9 L323.0,1554.4 L323.3,1552.9 L323.5,1551.4 L323.7,1550.0 L323.9,1548.5 L324.2,1547.0 L324.4,1545.6 L324.6,1544.1 L324.9,1542.7 L325.1,1541.1 L325.4,1539.5 L325.6,1538.0 L325.9,1536.4 L326.1,1534.8 L326.4,1533.2 L326.6,1531.7 L326.9,1530.1 L327.2,1528.5 L327.4,1526.9 L327.7,1525.4 L327.9,1523.8 L328.2,1522.3 L328.5,1520.7 L328.7,1519.2 L329.0,1517.6 L329.3,1516.1 L329.5,1514.6 L329.8,1513.1 L330.1,1511.6 L330.4,1510.2 L330.6,1508.7 L330.9,1507.3 L331.2,1505.9 L331.5,1504.4 L331.7,1503.1 L332.0,1501.7 L332.4,1500.0 L332.7,1498.3 L333.1,1496.7 L333.4,1495.0 L333.8,1493.4 L334.1,1491.8 L334.4,1490.1 L334.8,1488.6 L335.2,1487.0 L335.5,1485.5 L335.9,1483.9 L336.3,1482.5 L336.6,1481.0 L337.0,1479.6 L337.4,1478.3 L337.9,1476.9 L338.3,1475.7 L338.7,1474.4 L339.4,1472.8 L340.0,1471.2 L340.7,1469.6 L341.4,1468.2 L342.1,1466.8 L342.8,1465.5 L343.6,1464.2 L344.4,1463.1 L345.2,1462.1 L346.5,1460.7 L348.0,1459.3 L349.4,1458.2 L350.9,1457.5 L352.3,1457.2 L353.6,1457.5 L354.9,1458.3 L356.2,1459.4 L357.4,1460.7 L358.6,1462.1 L359.4,1463.1 L360.1,1464.3 L360.8,1465.5 L361.5,1466.8 L362.1,1468.2 L362.7,1469.6 L363.4,1471.2 L364.0,1472.8 L364.6,1474.4 L365.0,1475.6 L365.5,1476.8 L365.9,1478.1 L366.3,1479.4 L366.7,1480.7 L367.1,1482.1 L367.5,1483.5 L367.9,1484.9 L368.3,1486.4 L368.7,1487.9 L369.1,1489.4 L369.5,1490.9 L369.9,1492.5 L370.3,1494.1 L370.7,1495.7 L371.1,1497.3 L371.5,1498.9 L371.9,1500.5 L372.4,1502.1 L372.7,1503.5 L373.0,1504.8 L373.3,1506.1 L373.7,1507.5 L374.0,1508.9 L374.4,1510.3 L374.7,1511.7 L375.0,1513.2 L375.4,1514.6 L375.7,1516.1 L376.1,1517.6 L376.4,1519.1 L376.7,1520.6 L377.1,1522.1 L377.4,1523.6 L377.8,1525.1 L378.1,1526.6 L378.4,1528.2 L378.8,1529.7 L379.1,1531.2 L379.5,1532.8 L379.8,1534.3 L380.1,1535.9 L380.5,1537.4 L380.8,1539.0 L381.1,1540.5 L381.5,1542.0 L381.8,1543.6 L382.1,1545.1 L382.4,1546.6 L382.7,1548.1 L383.1,1549.5 L383.4,1551.0 L383.7,1552.4 L384.0,1553.9 L384.3,1555.4 L384.6,1556.8 L384.9,1558.3 L385.2,1559.8 L385.5,1561.3 L385.8,1562.8 L386.1,1564.3 L386.4,1565.7 L386.7,1567.2 L386.9,1568.7 L387.2,1570.2 L387.5,1571.7 L387.8,1573.2 L388.1,1574.7 L388.4,1576.2 L388.7,1577.7 L389.0,1579.2 L389.3,1580.7 L389.6,1582.1 L389.8,1583.6 L390.1,1585.1 L390.4,1586.6 L390.7,1588.0 L391.0,1589.5 L391.3,1590.9 L391.5,1592.4 L391.8,1593.8 L392.1,1595.2 L392.4,1596.8 L392.7,1598.3 L393.0,1599.8 L393.3,1601.3 L393.5,1602.8 L393.8,1604.3 L394.1,1605.8 L394.4,1607.3 L394.7,1608.8 L394.9,1610.3 L395.2,1611.7 L395.5,1613.2 L395.7,1614.7 L396.0,1616.2 L396.3,1617.6 L396.6,1619.1 L396.8,1620.6 L397.1,1622.0 L397.4,1623.5 L397.7,1625.0 L398.0,1626.4 L398.2,1627.9 L398.5,1629.4 L398.8,1630.9 L399.1,1632.3 L399.4,1633.8 L399.7,1635.3 L400.0,1636.7 L400.3,1638.2 L400.6,1639.7 L400.9,1641.2 L401.2,1642.7 L401.6,1644.1 L401.9,1645.6 L402.2,1647.1 L402.5,1648.6 L402.8,1650.1 L403.2,1651.5 L403.5,1653.0 L403.8,1654.5 L404.2,1656.0 L404.5,1657.4 L404.8,1658.9 L405.2,1660.4 L405.5,1661.9 L405.9,1663.3 L406.2,1664.8 L406.5,1666.3 L406.9,1667.8 L407.2,1669.3 L407.6,1670.7 L408.0,1672.2 L408.3,1673.7 L408.7,1675.2 L409.0,1676.6 L409.4,1678.1 L409.8,1679.6 L410.1,1681.1 L410.5,1682.5 L410.9,1684.0 L411.3,1685.5 L411.7,1687.1 L412.1,1688.6 L412.5,1690.1 L412.9,1691.6 L413.3,1693.1 L413.7,1694.6 L414.1,1696.2 L414.5,1697.7 L414.9,1699.2 L415.3,1700.7 L415.7,1702.2 L416.2,1703.7 L416.6,1705.2 L417.0,1706.7 L417.4,1708.2 L417.8,1709.7 L418.3,1711.2 L418.7,1712.7 L419.1,1714.2 L419.5,1715.6 L419.9,1717.1 L420.4,1718.5 L420.8,1719.9 L421.2,1721.3 L421.6,1722.7 L422.0,1724.1 L422.5,1725.7 L423.0,1727.2 L423.5,1728.8 L423.9,1730.3 L424.4,1731.9 L424.9,1733.4 L425.4,1734.9 L425.8,1736.4 L426.3,1737.9 L426.8,1739.4 L427.3,1740.9 L427.7,1742.4 L428.2,1743.8 L428.7,1745.3 L429.2,1746.7 L429.6,1748.1 L430.1,1749.5 L430.6,1750.9 L431.1,1752.3 L431.6,1753.6 L432.0,1754.9 L432.5,1756.3 L433.1,1757.8 L433.7,1759.4 L434.3,1760.9 L434.9,1762.4 L435.5,1763.8 L436.1,1765.3 L436.7,1766.7 L437.3,1768.1 L437.9,1769.5 L438.5,1770.9 L439.1,1772.2 L439.7,1773.6 L440.3,1775.0 L440.9,1776.4 L441.5,1777.7 L442.1,1779.2 L442.8,1780.7 L443.4,1782.2 L444.1,1783.7 L444.7,1785.2 L445.4,1786.7 L446.1,1788.1 L446.7,1789.6 L447.4,1791.0 L448.0,1792.4 L448.6,1793.9 L449.2,1795.3 L449.8,1796.7 L450.5,1798.2 L451.1,1799.7 L451.7,1801.1 L452.3,1802.6 L452.9,1804.0 L453.5,1805.5 L454.0,1806.9 L454.6,1808.4 L455.2,1809.8 L455.8,1811.2 L456.4,1812.6 L457.0,1814.0 L457.6,1815.4 L458.2,1816.7 L458.8,1818.1 L459.4,1819.4 L460.0,1820.8 L460.7,1822.1 L461.3,1823.5 L462.0,1824.9 L462.7,1826.3 L463.4,1827.7 L464.1,1829.0 L464.9,1830.3 L465.6,1831.7 L466.3,1833.0 L467.1,1834.4 L467.9,1835.8 L468.7,1837.2 L469.5,1838.6 L470.4,1840.0 L471.2,1841.3 L472.1,1842.7 L473.0,1844.0 L474.0,1845.3 L475.0,1846.6 L475.9,1847.8 L476.8,1848.9 L477.7,1850.1 L478.7,1851.3 L479.7,1852.4 L480.7,1853.6 L481.7,1854.7 L482.8,1855.8 L483.8,1856.9 L484.9,1858.0 L486.0,1859.0 L487.1,1860.1 L488.3,1861.1 L489.4,1862.0 L490.6,1863.0 L491.8,1863.9 L493.1,1864.7 L494.3,1865.6 L495.6,1866.4 L496.9,1867.1 L498.3,1867.9 L499.6,1868.6 L501.0,1869.3 L502.4,1870.0 L503.8,1870.6 L505.2,1871.3 L506.6,1871.9 L508.1,1872.5 L509.5,1873.1 L511.0,1873.7 L512.4,1874.2 L513.9,1874.8 L515.3,1875.3 L516.7,1875.8 L518.1,1876.3 L519.6,1876.8 L521.0,1877.3 L522.4,1877.7 L523.9,1878.1 L525.4,1878.6 L526.9,1879.0 L528.4,1879.4 L529.8,1879.8 L531.3,1880.2 L532.9,1880.5 L534.4,1880.9 L535.9,1881.3 L537.4,1881.7 L538.9,1882.1 L540.4,1882.4 L541.9,1882.8 L543.3,1883.2 L544.7,1883.5 L546.2,1883.9 L547.6,1884.2 L549.1,1884.5 L550.5,1884.9 L552.0,1885.2 L553.4,1885.5 L554.9,1885.9 L556.4,1886.2 L557.9,1886.5 L559.3,1886.8 L560.8,1887.1 L562.3,1887.4 L563.8,1887.7 L565.3,1888.0 L566.8,1888.3 L568.3,1888.6 L569.8,1888.9 L571.3,1889.1 L572.8,1889.4 L574.3,1889.7 L575.8,1889.9 L577.3,1890.2 L578.9,1890.4 L580.4,1890.7 L581.9,1890.9 L583.5,1891.1 L585.0,1891.4 L586.6,1891.6 L588.1,1891.8 L589.6,1892.0 L591.2,1892.3 L592.7,1892.5 L594.3,1892.7 L595.8,1892.9 L597.4,1893.1 L598.9,1893.3 L600.4,1893.5 L602.0,1893.7 L603.5,1893.9 L605.0,1894.0 L606.5,1894.2 L608.0,1894.4 L609.6,1894.6 L611.1,1894.7 L612.6,1894.9 L614.2,1895.1 L615.7,1895.2 L617.2,1895.4 L618.8,1895.5 L620.3,1895.7 L621.8,1895.8 L623.3,1895.9 L624.8,1896.1 L626.3,1896.2 L627.8,1896.4 L629.2,1896.5 L630.7,1896.6 L632.1,1896.7 L633.5,1896.9 L635.2,1897.0 L636.9,1897.2 L638.5,1897.3 L640.2,1897.4 L641.8,1897.6 L643.4,1897.7 L645.0,1897.8 L646.6,1897.9 L648.2,1898.0 L649.7,1898.2 L651.3,1898.3 L652.8,1898.4 L654.4,1898.5 L655.9,1898.6 L657.4,1898.7 L659.0,1898.8 L660.6,1898.9 L662.1,1899.0 L663.6,1899.1 L665.1,1899.2 L666.6,1899.3 L668.1,1899.4 L669.6,1899.5 L671.1,1899.5 L672.7,1899.6 L674.2,1899.7 L675.8,1899.8 L677.4,1899.9 L678.9,1900.0 L680.4,1900.1 L682.0,1900.2 L683.5,1900.3 L685.1,1900.4 L686.6,1900.5 L688.2,1900.6 L689.8,1900.6 L691.4,1900.7 L693.0,1900.8 L694.6,1900.9 L696.2,1901.0 L697.8,1901.1 L699.4,1901.2 L701.0,1901.3 L702.6,1901.4" fill="none" stroke="#d2009b" stroke-width="6.2" stroke-linecap="round" stroke-linejoin="round"/>
<path d="M249.0,1902.2 L250.6,1902.2 L252.1,1902.2 L253.7,1902.2 L255.3,1902.2 L256.9,1902.2 L258.5,1902.2 L260.1,1902.1 L261.7,1902.1 L263.2,1902.1 L264.8,1902.1 L266.3,1902.1 L267.7,1902.0 L269.2,1902.0 L271.0,1901.9 L272.7,1901.8 L274.4,1901.8 L276.1,1901.7 L277.8,1901.6 L279.4,1901.5 L281.0,1901.4 L282.5,1901.2 L283.9,1900.9 L285.7,1900.6 L287.3,1900.3 L288.9,1899.9 L290.4,1899.4 L291.9,1898.8 L293.3,1898.0 L294.5,1897.0 L295.6,1895.9 L296.6,1894.7 L297.6,1893.3 L298.6,1891.8 L299.5,1890.3 L300.4,1888.7 L301.1,1887.5 L301.7,1886.3 L302.3,1884.9 L302.9,1883.6 L303.5,1882.1 L304.0,1880.7 L304.6,1879.2 L305.1,1877.7 L305.6,1876.2 L306.2,1874.7 L306.7,1873.3 L307.2,1871.8 L307.7,1870.3 L308.3,1868.8 L308.8,1867.3 L309.3,1865.7 L309.8,1864.2 L310.3,1862.7 L310.8,1861.2 L311.3,1859.6 L311.8,1858.1 L312.2,1856.6 L312.7,1855.1 L313.1,1853.6 L313.5,1852.1 L313.9,1850.7 L314.3,1849.3 L314.7,1847.9 L315.1,1846.5 L315.5,1845.0 L315.8,1843.5 L316.2,1842.0 L316.6,1840.4 L317.0,1838.7 L317.2,1837.4 L317.5,1836.1 L317.8,1834.8 L318.1,1833.4 L318.3,1832.0 L318.6,1830.6 L318.9,1829.2 L319.1,1827.8 L319.4,1826.3 L319.7,1824.8 L319.9,1823.3 L320.2,1821.8 L320.5,1820.2 L320.7,1818.7 L321.0,1817.1 L321.3,1815.5 L321.5,1814.0 L321.8,1812.4 L322.1,1810.7 L322.3,1809.1 L322.6,1807.8 L322.8,1806.4 L323.0,1805.0 L323.3,1803.6 L323.5,1802.2 L323.7,1800.8 L324.0,1799.3 L324.2,1797.8 L324.4,1796.4 L324.7,1794.9 L324.9,1793.4 L325.1,1791.9 L325.4,1790.4 L325.6,1788.9 L325.8,1787.4 L326.1,1785.8 L326.3,1784.3 L326.6,1782.8 L326.8,1781.2 L327.0,1779.7 L327.3,1778.2 L327.5,1776.6 L327.7,1775.1 L327.9,1773.6 L328.2,1772.1 L328.4,1770.5 L328.6,1769.0 L328.8,1767.5 L329.1,1766.0 L329.3,1764.5 L329.5,1763.0 L329.7,1761.5 L329.9,1760.0 L330.1,1758.5 L330.4,1756.9 L330.6,1755.4 L330.8,1753.9 L331.0,1752.4 L331.2,1750.9 L331.4,1749.3 L331.6,1747.8 L331.8,1746.3 L332.0,1744.8 L332.2,1743.2 L332.4,1741.7 L332.6,1740.2 L332.8,1738.7 L333.0,1737.1 L333.2,1735.6 L333.4,1734.1 L333.6,1732.6 L333.8,1731.1 L334.0,1729.6 L334.2,1728.1 L334.4,1726.5 L334.6,1725.0 L334.8,1723.5 L335.0,1722.0 L335.2,1720.5 L335.4,1719.0 L335.6,1717.5 L335.8,1716.0 L336.0,1714.4 L336.2,1712.9 L336.4,1711.4 L336.6,1709.9 L336.8,1708.4 L337.0,1706.9 L337.2,1705.4 L337.4,1703.9 L337.5,1702.4 L337.7,1700.9 L337.9,1699.4 L338.1,1697.9 L338.3,1696.4 L338.5,1694.9 L338.7,1693.4 L338.9,1691.9 L339.1,1690.4 L339.2,1688.9 L339.4,1687.4 L339.6,1685.9 L339.8,1684.4 L340.0,1682.9 L340.2,1681.4 L340.4,1679.9 L340.6,1678.3 L340.8,1676.8 L341.0,1675.2 L341.2,1673.7 L341.4,1672.2 L341.6,1670.6 L341.8,1669.1 L342.0,1667.6 L342.2,1666.0 L342.4,1664.5 L342.6,1663.0 L342.8,1661.5 L343.0,1659.9 L343.2,1658.4 L343.4,1656.9 L343.7,1655.3 L343.9,1653.8 L344.1,1652.3 L344.3,1650.7 L344.5,1649.2 L344.7,1647.7 L344.9,1646.1 L345.1,1644.6 L345.3,1643.0 L345.5,1641.5 L345.7,1639.9 L345.9,1638.4 L346.1,1636.9 L346.3,1635.4 L346.5,1634.0 L346.7,1632.5 L346.9,1631.0 L347.1,1629.6 L347.3,1628.1 L347.5,1626.6 L347.7,1625.2 L347.9,1623.7 L348.1,1622.2 L348.3,1620.7 L348.5,1619.3 L348.7,1617.8 L348.9,1616.3 L349.1,1614.8 L349.3,1613.3 L349.5,1611.8 L349.7,1610.4 L349.9,1608.9 L350.1,1607.4 L350.3,1605.9 L350.5,1604.4 L350.7,1602.9 L350.9,1601.3 L351.1,1599.8 L351.3,1598.3 L351.5,1596.8 L351.7,1595.2 L351.9,1593.8 L352.1,1592.3 L352.3,1590.8 L352.6,1589.3 L352.8,1587.8 L353.0,1586.3 L353.2,1584.8 L353.4,1583.2 L353.6,1581.7 L353.8,1580.2 L354.0,1578.6 L354.2,1577.1 L354.4,1575.6 L354.7,1574.0 L354.9,1572.5 L355.1,1571.0 L355.3,1569.4 L355.5,1567.9 L355.7,1566.3 L356.0,1564.8 L356.2,1563.3 L356.4,1561.7 L356.6,1560.2 L356.9,1558.7 L357.1,1557.1 L357.3,1555.6 L357.5,1554.1 L357.7,1552.6 L358.0,1551.1 L358.2,1549.6 L358.4,1548.1 L358.7,1546.6 L358.9,1545.1 L359.1,1543.5 L359.4,1542.0 L359.6,1540.5 L359.8,1538.9 L360.1,1537.4 L360.3,1535.8 L360.5,1534.3 L360.8,1532.7 L361.0,1531.2 L361.3,1529.7 L361.5,1528.1 L361.7,1526.6 L362.0,1525.1 L362.2,1523.5 L362.5,1522.0 L362.7,1520.5 L363.0,1519.0 L363.2,1517.5 L363.5,1516.0 L363.7,1514.6 L364.0,1513.1 L364.2,1511.7 L364.5,1510.3 L364.7,1508.9 L365.0,1507.5 L365.2,1506.1 L365.5,1504.8 L365.7,1503.4 L366.0,1502.1 L366.3,1500.4 L366.6,1498.7 L367.0,1497.0 L367.3,1495.3 L367.6,1493.7 L367.9,1492.0 L368.2,1490.4 L368.6,1488.8 L368.9,1487.3 L369.2,1485.7 L369.6,1484.2 L369.9,1482.7 L370.3,1481.3 L370.6,1479.9 L371.0,1478.5 L371.4,1477.2 L371.8,1476.0 L372.3,1474.7 L372.9,1473.1 L373.5,1471.5 L374.1,1470.1 L374.8,1468.6 L375.5,1467.3 L376.2,1466.0 L376.9,1464.8 L377.7,1463.7 L378.6,1462.6 L379.7,1461.4 L381.0,1460.1 L382.4,1458.9 L383.7,1458.0 L385.0,1457.4 L386.3,1457.2 L387.6,1457.6 L388.9,1458.5 L390.2,1459.7 L391.4,1461.1 L392.6,1462.6 L393.4,1463.7 L394.2,1464.8 L394.9,1466.1 L395.7,1467.4 L396.4,1468.8 L397.1,1470.3 L397.8,1471.8 L398.6,1473.4 L399.3,1475.1 L399.8,1476.2 L400.3,1477.4 L400.9,1478.7 L401.4,1480.0 L401.9,1481.3 L402.4,1482.7 L402.9,1484.0 L403.5,1485.5 L404.0,1486.9 L404.5,1488.4 L405.0,1489.9 L405.5,1491.4 L406.1,1492.9 L406.6,1494.4 L407.1,1496.0 L407.7,1497.6 L408.2,1499.2 L408.7,1500.7 L409.3,1502.3 L409.7,1503.7 L410.2,1505.0 L410.6,1506.4 L411.1,1507.8 L411.5,1509.2 L412.0,1510.6 L412.4,1512.0 L412.9,1513.4 L413.4,1514.9 L413.8,1516.4 L414.3,1517.8 L414.8,1519.3 L415.2,1520.8 L415.7,1522.3 L416.1,1523.8 L416.6,1525.4 L417.1,1526.9 L417.5,1528.4 L418.0,1529.9 L418.5,1531.5 L418.9,1533.0 L419.4,1534.5 L419.8,1536.1 L420.3,1537.6 L420.7,1539.2 L421.1,1540.7 L421.6,1542.2 L422.0,1543.7 L422.4,1545.2 L422.8,1546.6 L423.2,1548.1 L423.6,1549.6 L424.0,1551.0 L424.4,1552.5 L424.8,1554.0 L425.2,1555.5 L425.6,1557.0 L426.0,1558.4 L426.3,1559.9 L426.7,1561.4 L427.1,1562.9 L427.5,1564.4 L427.9,1565.9 L428.2,1567.4 L428.6,1568.9 L429.0,1570.4 L429.4,1571.9 L429.7,1573.4 L430.1,1574.9 L430.5,1576.4 L430.8,1577.9 L431.2,1579.4 L431.6,1580.9 L431.9,1582.4 L432.3,1583.9 L432.7,1585.4 L433.0,1586.9 L433.4,1588.4 L433.7,1589.9 L434.1,1591.4 L434.4,1592.8 L434.8,1594.3 L435.1,1595.8 L435.5,1597.3 L435.8,1598.7 L436.1,1600.2 L436.5,1601.7 L436.8,1603.1 L437.1,1604.6 L437.4,1606.1 L437.8,1607.5 L438.1,1609.0 L438.4,1610.5 L438.7,1611.9 L439.0,1613.4 L439.4,1614.9 L439.7,1616.3 L440.0,1617.8 L440.3,1619.2 L440.6,1620.7 L441.0,1622.2 L441.3,1623.6 L441.6,1625.1 L441.9,1626.6 L442.3,1628.0 L442.6,1629.5 L442.9,1631.0 L443.3,1632.4 L443.6,1633.9 L444.0,1635.4 L444.3,1636.9 L444.7,1638.3 L445.0,1639.8 L445.4,1641.3 L445.7,1642.8 L446.1,1644.3 L446.4,1645.8 L446.8,1647.2 L447.1,1648.7 L447.5,1650.2 L447.9,1651.7 L448.2,1653.2 L448.6,1654.7 L448.9,1656.2 L449.3,1657.7 L449.7,1659.1 L450.0,1660.6 L450.4,1662.1 L450.8,1663.6 L451.1,1665.1 L451.5,1666.6 L451.9,1668.0 L452.2,1669.5 L452.6,1671.0 L453.0,1672.5 L453.4,1673.9 L453.7,1675.4 L454.1,1676.9 L454.5,1678.3 L454.9,1679.8 L455.3,1681.2 L455.7,1682.8 L456.1,1684.3 L456.5,1685.8 L456.9,1687.4 L457.3,1688.9 L457.7,1690.4 L458.1,1692.0 L458.5,1693.5 L459.0,1695.0 L459.4,1696.6 L459.8,1698.1 L460.2,1699.6 L460.7,1701.1 L461.1,1702.7 L461.5,1704.2 L461.9,1705.7 L462.4,1707.2 L462.8,1708.7 L463.2,1710.2 L463.6,1711.7 L464.1,1713.2 L464.5,1714.6 L464.9,1716.1 L465.3,1717.5 L465.7,1719.0 L466.1,1720.4 L466.5,1721.8 L467.0,1723.2 L467.4,1724.6 L467.8,1726.1 L468.3,1727.7 L468.7,1729.2 L469.1,1730.7 L469.6,1732.3 L470.0,1733.8 L470.5,1735.3 L470.9,1736.8 L471.4,1738.3 L471.8,1739.8 L472.2,1741.2 L472.7,1742.7 L473.1,1744.1 L473.5,1745.5 L473.9,1746.9 L474.4,1748.3 L474.8,1749.7 L475.2,1751.1 L475.6,1752.4 L476.1,1753.7 L476.5,1755.0 L476.9,1756.3 L477.4,1757.9 L477.9,1759.4 L478.4,1760.9 L478.9,1762.4 L479.4,1763.8 L479.9,1765.2 L480.3,1766.6 L480.8,1768.0 L481.3,1769.4 L481.8,1770.7 L482.3,1772.1 L482.9,1773.5 L483.4,1774.8 L484.0,1776.2 L484.7,1777.6 L485.3,1779.1 L486.0,1780.5 L486.6,1782.0 L487.3,1783.4 L488.0,1784.8 L488.8,1786.2 L489.5,1787.6 L490.3,1789.0 L491.0,1790.4 L491.8,1791.8 L492.7,1793.2 L493.5,1794.6 L494.3,1795.9 L495.1,1797.1 L495.9,1798.4 L496.7,1799.6 L497.5,1800.9 L498.4,1802.1 L499.3,1803.4 L500.2,1804.6 L501.1,1805.9 L502.0,1807.1 L502.9,1808.4 L503.8,1809.6 L504.8,1810.8 L505.7,1812.0 L506.7,1813.1 L507.7,1814.3 L508.7,1815.5 L509.7,1816.6 L510.8,1817.8 L511.9,1818.9 L512.9,1820.1 L514.0,1821.2 L515.1,1822.3 L516.3,1823.4 L517.4,1824.5 L518.5,1825.5 L519.6,1826.6 L520.8,1827.7 L521.9,1828.7 L523.0,1829.7 L524.2,1830.8 L525.4,1831.8 L526.5,1832.8 L527.7,1833.8 L528.9,1834.8 L530.1,1835.8 L531.3,1836.8 L532.5,1837.7 L533.7,1838.7 L534.9,1839.7 L536.1,1840.6 L537.3,1841.6 L538.6,1842.5 L539.8,1843.5 L541.0,1844.4 L542.3,1845.4 L543.5,1846.4 L544.7,1847.3 L546.0,1848.3 L547.3,1849.3 L548.5,1850.3 L549.8,1851.2 L551.0,1852.2 L552.3,1853.1 L553.6,1854.1 L554.9,1855.0 L556.2,1856.0 L557.5,1856.9 L558.8,1857.9 L560.1,1858.7 L561.3,1859.6 L562.5,1860.4 L563.7,1861.3 L565.0,1862.1 L566.2,1862.9 L567.5,1863.8 L568.8,1864.6 L570.0,1865.4 L571.3,1866.3 L572.6,1867.1 L573.9,1867.9 L575.2,1868.6 L576.5,1869.4 L577.8,1870.2 L579.1,1870.9 L580.4,1871.6 L581.8,1872.4 L583.1,1873.1 L584.4,1873.8 L585.8,1874.5 L587.2,1875.2 L588.5,1875.8 L589.9,1876.5 L591.3,1877.1 L592.6,1877.8 L594.0,1878.4 L595.4,1879.0 L596.7,1879.6 L598.1,1880.2 L599.5,1880.8 L600.8,1881.3 L602.3,1881.9 L603.9,1882.5 L605.4,1883.1 L607.0,1883.6 L608.5,1884.1 L610.1,1884.7 L611.6,1885.1 L613.1,1885.6 L614.6,1886.1 L616.2,1886.5 L617.7,1887.0 L619.2,1887.4 L620.6,1887.8 L622.3,1888.2 L623.8,1888.6 L625.4,1889.0 L627.0,1889.3 L628.6,1889.6 L630.1,1890.0 L631.7,1890.3 L633.2,1890.6 L634.8,1890.9 L636.3,1891.1 L637.9,1891.4 L639.5,1891.7 L641.0,1892.0 L642.5,1892.2 L644.1,1892.5 L645.6,1892.7 L647.2,1892.9 L648.7,1893.2 L650.3,1893.4 L651.9,1893.6 L653.4,1893.8 L655.0,1894.0 L656.5,1894.2 L658.0,1894.4 L659.5,1894.5 L661.1,1894.7 L662.6,1894.9 L664.1,1895.0 L665.6,1895.2 L667.2,1895.3 L668.7,1895.4 L670.2,1895.6 L671.8,1895.7 L673.3,1895.9 L674.8,1896.1 L676.4,1896.2 L677.9,1896.4 L679.5,1896.5 L681.1,1896.7 L682.6,1896.9 L684.2,1897.0 L685.7,1897.2 L687.2,1897.3 L688.7,1897.4 L690.2,1897.6 L691.6,1897.7 L693.3,1897.8 L695.0,1898.0 L696.6,1898.1 L698.2,1898.2 L699.8,1898.3 L701.3,1898.4 L702.9,1898.5 L704.5,1898.6" fill="none" stroke="#ff0000" stroke-width="6.2" stroke-linecap="round" stroke-linejoin="round"/>
<path d="M280.0,1902.2 L281.6,1902.2 L283.2,1902.1 L284.9,1902.1 L286.5,1902.1 L288.1,1902.1 L289.7,1902.1 L291.3,1902.0 L292.9,1901.9 L294.4,1901.8 L295.9,1901.6 L297.5,1901.3 L299.1,1901.0 L300.6,1900.7 L302.1,1900.3 L303.5,1899.9 L304.9,1899.4 L306.3,1898.8 L307.7,1898.1 L308.9,1897.3 L310.2,1896.5 L311.4,1895.5 L312.5,1894.5 L313.6,1893.4 L314.8,1892.3 L315.8,1891.0 L316.9,1889.8 L318.0,1888.4 L318.8,1887.3 L319.6,1886.2 L320.4,1885.0 L321.2,1883.8 L322.0,1882.5 L322.7,1881.2 L323.5,1879.9 L324.2,1878.5 L324.9,1877.1 L325.7,1875.7 L326.4,1874.3 L327.0,1872.8 L327.7,1871.4 L328.4,1869.9 L329.0,1868.6 L329.5,1867.2 L330.1,1865.8 L330.6,1864.5 L331.1,1863.0 L331.7,1861.6 L332.2,1860.2 L332.7,1858.7 L333.2,1857.2 L333.6,1855.8 L334.1,1854.3 L334.6,1852.7 L335.0,1851.2 L335.5,1849.7 L335.9,1848.1 L336.4,1846.5 L336.8,1845.0 L337.2,1843.4 L337.6,1842.0 L338.0,1840.5 L338.3,1839.1 L338.7,1837.6 L339.0,1836.1 L339.3,1834.7 L339.7,1833.2 L340.0,1831.7 L340.3,1830.2 L340.6,1828.6 L340.9,1827.1 L341.2,1825.6 L341.5,1824.0 L341.8,1822.4 L342.1,1820.9 L342.4,1819.3 L342.7,1817.7 L343.0,1816.1 L343.3,1814.6 L343.6,1813.0 L343.8,1811.4 L344.1,1809.8 L344.4,1808.2 L344.7,1806.7 L344.9,1805.2 L345.2,1803.8 L345.4,1802.3 L345.6,1800.8 L345.9,1799.3 L346.1,1797.8 L346.4,1796.3 L346.6,1794.8 L346.8,1793.2 L347.0,1791.7 L347.3,1790.2 L347.5,1788.7 L347.7,1787.1 L347.9,1785.6 L348.2,1784.0 L348.4,1782.5 L348.6,1780.9 L348.8,1779.4 L349.0,1777.8 L349.3,1776.3 L349.5,1774.7 L349.7,1773.2 L349.9,1771.6 L350.1,1770.1 L350.3,1768.6 L350.5,1767.0 L350.7,1765.5 L350.9,1764.0 L351.1,1762.5 L351.3,1761.0 L351.5,1759.5 L351.7,1758.0 L351.9,1756.5 L352.1,1755.0 L352.3,1753.5 L352.5,1752.0 L352.7,1750.5 L352.9,1749.0 L353.1,1747.5 L353.3,1746.0 L353.5,1744.5 L353.6,1743.0 L353.8,1741.5 L354.0,1740.0 L354.2,1738.5 L354.4,1737.0 L354.6,1735.5 L354.8,1734.0 L354.9,1732.5 L355.1,1731.1 L355.3,1729.6 L355.5,1728.1 L355.7,1726.6 L355.9,1725.1 L356.0,1723.6 L356.2,1722.1 L356.4,1720.6 L356.6,1719.1 L356.8,1717.6 L357.0,1716.0 L357.2,1714.5 L357.4,1713.0 L357.5,1711.5 L357.7,1710.0 L357.9,1708.5 L358.1,1707.0 L358.3,1705.5 L358.5,1703.9 L358.6,1702.4 L358.8,1700.9 L359.0,1699.4 L359.2,1697.9 L359.4,1696.4 L359.5,1694.9 L359.7,1693.4 L359.9,1691.9 L360.1,1690.4 L360.3,1688.9 L360.5,1687.4 L360.7,1685.9 L360.8,1684.4 L361.0,1682.9 L361.2,1681.4 L361.4,1679.9 L361.6,1678.3 L361.8,1676.8 L362.0,1675.2 L362.2,1673.7 L362.4,1672.2 L362.6,1670.6 L362.8,1669.1 L363.0,1667.6 L363.2,1666.0 L363.4,1664.5 L363.6,1663.0 L363.8,1661.5 L364.0,1659.9 L364.2,1658.4 L364.4,1656.9 L364.6,1655.3 L364.8,1653.8 L365.0,1652.3 L365.2,1650.7 L365.4,1649.2 L365.6,1647.7 L365.8,1646.1 L366.0,1644.6 L366.2,1643.0 L366.4,1641.5 L366.6,1639.9 L366.8,1638.4 L367.0,1636.9 L367.2,1635.4 L367.4,1634.0 L367.6,1632.5 L367.8,1631.0 L367.9,1629.6 L368.1,1628.1 L368.3,1626.6 L368.5,1625.2 L368.7,1623.7 L368.9,1622.2 L369.1,1620.7 L369.3,1619.3 L369.5,1617.8 L369.7,1616.3 L369.9,1614.8 L370.1,1613.3 L370.3,1611.8 L370.5,1610.3 L370.7,1608.9 L370.9,1607.4 L371.1,1605.9 L371.3,1604.4 L371.5,1602.8 L371.7,1601.3 L371.9,1599.8 L372.1,1598.3 L372.4,1596.8 L372.6,1595.2 L372.8,1593.8 L373.0,1592.3 L373.2,1590.8 L373.4,1589.3 L373.7,1587.8 L373.9,1586.3 L374.1,1584.7 L374.3,1583.2 L374.5,1581.7 L374.8,1580.2 L375.0,1578.6 L375.2,1577.1 L375.4,1575.6 L375.7,1574.0 L375.9,1572.5 L376.1,1570.9 L376.4,1569.4 L376.6,1567.9 L376.8,1566.3 L377.1,1564.8 L377.3,1563.2 L377.6,1561.7 L377.8,1560.2 L378.0,1558.6 L378.3,1557.1 L378.5,1555.6 L378.8,1554.1 L379.0,1552.6 L379.3,1551.1 L379.6,1549.6 L379.8,1548.1 L380.1,1546.6 L380.3,1545.1 L380.6,1543.5 L380.9,1542.0 L381.1,1540.5 L381.4,1538.9 L381.7,1537.4 L382.0,1535.8 L382.3,1534.3 L382.5,1532.7 L382.8,1531.2 L383.1,1529.6 L383.4,1528.1 L383.7,1526.6 L384.0,1525.0 L384.3,1523.5 L384.6,1522.0 L384.9,1520.5 L385.2,1519.0 L385.5,1517.5 L385.8,1516.0 L386.1,1514.6 L386.4,1513.1 L386.7,1511.7 L387.0,1510.3 L387.3,1508.9 L387.6,1507.5 L387.9,1506.1 L388.2,1504.8 L388.5,1503.4 L388.8,1502.1 L389.2,1500.4 L389.6,1498.7 L390.0,1497.0 L390.4,1495.3 L390.8,1493.7 L391.2,1492.0 L391.6,1490.4 L392.0,1488.8 L392.4,1487.2 L392.8,1485.7 L393.2,1484.2 L393.6,1482.7 L394.1,1481.3 L394.5,1479.9 L395.0,1478.5 L395.5,1477.2 L396.0,1475.9 L396.5,1474.7 L397.2,1473.1 L397.9,1471.5 L398.7,1470.0 L399.4,1468.6 L400.2,1467.3 L401.1,1466.0 L401.9,1464.8 L402.9,1463.7 L403.8,1462.6 L405.0,1461.5 L406.4,1460.4 L407.7,1459.4 L409.1,1458.5 L410.5,1457.8 L411.9,1457.3 L413.1,1457.2 L414.5,1457.5 L415.9,1458.3 L417.1,1459.3 L418.4,1460.6 L419.6,1461.9 L420.5,1462.9 L421.3,1464.0 L422.1,1465.1 L422.9,1466.4 L423.6,1467.7 L424.4,1469.0 L425.1,1470.5 L425.9,1471.9 L426.6,1473.5 L427.4,1475.1 L428.0,1476.2 L428.5,1477.5 L429.1,1478.7 L429.6,1480.0 L430.2,1481.3 L430.7,1482.7 L431.2,1484.1 L431.8,1485.5 L432.3,1487.0 L432.9,1488.5 L433.4,1490.0 L434.0,1491.5 L434.5,1493.0 L435.0,1494.6 L435.6,1496.1 L436.1,1497.7 L436.6,1499.3 L437.2,1500.8 L437.7,1502.4 L438.2,1503.9 L438.7,1505.3 L439.2,1506.7 L439.6,1508.1 L440.1,1509.5 L440.5,1511.0 L441.0,1512.4 L441.5,1513.9 L441.9,1515.3 L442.4,1516.8 L442.9,1518.3 L443.3,1519.8 L443.8,1521.3 L444.3,1522.8 L444.7,1524.3 L445.2,1525.9 L445.6,1527.4 L446.1,1528.9 L446.5,1530.4 L446.9,1531.9 L447.4,1533.4 L447.8,1534.8 L448.2,1536.3 L448.6,1537.8 L449.0,1539.2 L449.4,1540.7 L449.8,1542.1 L450.2,1543.6 L450.6,1545.1 L451.0,1546.6 L451.4,1548.1 L451.8,1549.6 L452.2,1551.1 L452.6,1552.6 L453.0,1554.1 L453.3,1555.6 L453.7,1557.1 L454.1,1558.6 L454.4,1560.0 L454.8,1561.5 L455.1,1562.9 L455.4,1564.4 L455.8,1565.8 L456.1,1567.3 L456.4,1568.7 L456.8,1570.1 L457.1,1571.6 L457.4,1573.0 L457.7,1574.4 L458.0,1576.0 L458.4,1577.5 L458.7,1579.0 L459.0,1580.5 L459.3,1582.0 L459.6,1583.5 L459.8,1585.0 L460.1,1586.5 L460.4,1587.9 L460.7,1589.4 L460.9,1590.9 L461.2,1592.4 L461.5,1593.9 L461.8,1595.4 L462.1,1596.9 L462.4,1598.5 L462.7,1600.0 L463.0,1601.6 L463.3,1603.0 L463.6,1604.5 L463.9,1605.9 L464.1,1607.4 L464.4,1608.8 L464.7,1610.3 L465.0,1611.8 L465.3,1613.2 L465.6,1614.7 L465.9,1616.2 L466.3,1617.7 L466.6,1619.3 L466.9,1620.8 L467.2,1622.3 L467.5,1623.9 L467.9,1625.4 L468.2,1626.9 L468.5,1628.5 L468.9,1630.1 L469.2,1631.7 L469.6,1633.2 L469.9,1634.8 L470.3,1636.4 L470.6,1637.8 L471.0,1639.2 L471.3,1640.7 L471.6,1642.1 L472.0,1643.5 L472.3,1645.0 L472.7,1646.5 L473.0,1647.9 L473.4,1649.4 L473.7,1650.9 L474.1,1652.4 L474.5,1653.9 L474.8,1655.4 L475.2,1656.9 L475.6,1658.4 L475.9,1659.9 L476.3,1661.4 L476.7,1662.9 L477.1,1664.4 L477.5,1665.9 L477.9,1667.4 L478.3,1668.9 L478.7,1670.4 L479.0,1671.9 L479.4,1673.4 L479.8,1674.9 L480.2,1676.4 L480.6,1677.9 L481.0,1679.3 L481.4,1680.8 L481.8,1682.3 L482.3,1683.7 L482.7,1685.2 L483.1,1686.7 L483.5,1688.2 L483.9,1689.7 L484.4,1691.2 L484.8,1692.7 L485.3,1694.2 L485.7,1695.7 L486.1,1697.2 L486.6,1698.7 L487.0,1700.2 L487.5,1701.6 L487.9,1703.1 L488.4,1704.6 L488.8,1706.1 L489.2,1707.5 L489.7,1708.9 L490.1,1710.4 L490.6,1711.8 L491.0,1713.2 L491.5,1714.6 L491.9,1716.0 L492.4,1717.3 L492.8,1718.7 L493.2,1720.0 L493.7,1721.3 L494.1,1722.6 L494.6,1724.2 L495.2,1725.8 L495.7,1727.5 L496.3,1729.1 L496.8,1730.7 L497.4,1732.2 L497.9,1733.8 L498.5,1735.3 L499.0,1736.8 L499.6,1738.3 L500.1,1739.8 L500.7,1741.2 L501.2,1742.6 L501.7,1744.0 L502.3,1745.3 L502.8,1746.5 L503.3,1747.8 L503.8,1749.0 L504.6,1750.7 L505.3,1752.3 L506.1,1753.9 L506.8,1755.3 L507.5,1756.7 L508.3,1758.1 L509.1,1759.4 L509.9,1760.7 L510.9,1762.1 L511.9,1763.3 L512.9,1764.5 L514.0,1765.7 L515.1,1766.9 L516.3,1768.2 L517.4,1769.5 L518.3,1770.6 L519.3,1771.8 L520.3,1772.9 L521.3,1774.1 L522.4,1775.3 L523.4,1776.5 L524.5,1777.8 L525.5,1779.0 L526.6,1780.3 L527.6,1781.6 L528.6,1782.9 L529.5,1784.1 L530.5,1785.3 L531.4,1786.6 L532.3,1787.9 L533.3,1789.2 L534.2,1790.5 L535.1,1791.8 L536.1,1793.1 L537.0,1794.4 L537.9,1795.7 L538.8,1797.0 L539.7,1798.4 L540.7,1799.7 L541.6,1801.0 L542.5,1802.3 L543.4,1803.6 L544.3,1805.0 L545.1,1806.3 L546.0,1807.7 L546.9,1809.0 L547.8,1810.3 L548.7,1811.7 L549.6,1813.0 L550.5,1814.3 L551.4,1815.6 L552.4,1816.9 L553.3,1818.1 L554.2,1819.4 L555.1,1820.6 L556.1,1821.8 L557.0,1823.1 L558.0,1824.3 L558.9,1825.5 L559.9,1826.7 L560.8,1827.9 L561.8,1829.1 L562.8,1830.3 L563.8,1831.4 L564.9,1832.6 L565.9,1833.8 L567.0,1834.9 L568.0,1836.0 L569.1,1837.2 L570.2,1838.3 L571.2,1839.4 L572.4,1840.5 L573.5,1841.6 L574.6,1842.6 L575.7,1843.7 L576.9,1844.8 L578.1,1845.8 L579.3,1846.9 L580.4,1847.8 L581.5,1848.8 L582.7,1849.8 L583.8,1850.7 L585.0,1851.6 L586.2,1852.6 L587.4,1853.5 L588.6,1854.4 L589.8,1855.3 L591.0,1856.2 L592.3,1857.1 L593.5,1858.0 L594.8,1858.9 L596.1,1859.8 L597.3,1860.6 L598.6,1861.4 L599.8,1862.2 L601.1,1863.0 L602.4,1863.8 L603.7,1864.6 L605.0,1865.4 L606.4,1866.1 L607.7,1866.9 L609.0,1867.6 L610.4,1868.4 L611.7,1869.1 L613.1,1869.8 L614.4,1870.5 L615.7,1871.2 L617.1,1871.9 L618.4,1872.5 L619.8,1873.2 L621.2,1873.9 L622.7,1874.6 L624.1,1875.2 L625.5,1875.9 L627.0,1876.5 L628.4,1877.1 L629.8,1877.7 L631.3,1878.3 L632.7,1878.8 L634.1,1879.4 L635.5,1879.9 L636.9,1880.5 L638.3,1881.0 L639.8,1881.6 L641.4,1882.2 L642.9,1882.8 L644.4,1883.4 L645.9,1884.0 L647.4,1884.5 L648.9,1885.0 L650.4,1885.5 L651.9,1886.0 L653.4,1886.5 L655.0,1887.0 L656.5,1887.4 L658.0,1887.8 L659.5,1888.2 L661.0,1888.5 L662.5,1888.9 L664.0,1889.2 L665.5,1889.6 L667.0,1889.9 L668.6,1890.2 L670.1,1890.6 L671.7,1890.9 L673.3,1891.3 L674.7,1891.6 L676.1,1892.0 L677.6,1892.3 L679.0,1892.7 L680.5,1893.1 L682.0,1893.4 L683.4,1893.8 L684.9,1894.2 L686.4,1894.6 L687.9,1894.9 L689.4,1895.3 L690.9,1895.7 L692.4,1896.1 L693.8,1896.4 L695.3,1896.8" fill="none" stroke="#ffc000" stroke-width="6.2" stroke-linecap="round" stroke-linejoin="round"/>
<path d="M280.4,1902.2 L282.0,1902.2 L283.6,1902.2 L285.2,1902.2 L286.9,1902.2 L288.5,1902.2 L290.1,1902.2 L291.8,1902.2 L293.4,1902.2 L295.0,1902.2 L296.6,1902.2 L298.1,1902.2 L299.6,1902.2 L301.0,1902.1 L302.4,1902.1 L304.2,1902.0 L306.0,1901.9 L307.7,1901.9 L309.4,1901.8 L311.0,1901.7 L312.5,1901.5 L314.0,1901.3 L315.4,1901.0 L317.0,1900.7 L318.5,1900.3 L319.9,1899.8 L321.2,1899.1 L322.6,1898.3 L323.7,1897.6 L324.8,1896.7 L325.9,1895.7 L327.0,1894.7 L328.1,1893.5 L329.2,1892.3 L330.3,1891.0 L331.4,1889.6 L332.2,1888.5 L333.0,1887.4 L333.8,1886.2 L334.6,1884.9 L335.4,1883.6 L336.2,1882.3 L337.1,1880.9 L337.8,1879.5 L338.6,1878.1 L339.4,1876.6 L340.2,1875.1 L340.9,1873.6 L341.6,1872.1 L342.3,1870.6 L342.9,1869.3 L343.5,1868.0 L344.0,1866.7 L344.6,1865.3 L345.1,1863.9 L345.7,1862.6 L346.2,1861.2 L346.7,1859.7 L347.2,1858.3 L347.7,1856.9 L348.2,1855.4 L348.7,1853.9 L349.1,1852.4 L349.6,1850.9 L350.1,1849.4 L350.5,1847.9 L351.0,1846.4 L351.4,1844.9 L351.8,1843.3 L352.2,1841.9 L352.6,1840.5 L352.9,1839.0 L353.3,1837.5 L353.6,1836.1 L354.0,1834.6 L354.3,1833.1 L354.6,1831.6 L354.9,1830.1 L355.2,1828.5 L355.5,1827.0 L355.8,1825.5 L356.1,1823.9 L356.4,1822.4 L356.7,1820.8 L357.0,1819.2 L357.3,1817.6 L357.6,1816.1 L357.9,1814.5 L358.1,1812.9 L358.4,1811.3 L358.7,1809.7 L359.0,1808.1 L359.2,1806.6 L359.5,1805.2 L359.7,1803.7 L360.0,1802.2 L360.2,1800.7 L360.5,1799.2 L360.7,1797.7 L361.0,1796.2 L361.2,1794.7 L361.4,1793.2 L361.7,1791.7 L361.9,1790.1 L362.1,1788.6 L362.4,1787.1 L362.6,1785.5 L362.8,1784.0 L363.0,1782.4 L363.3,1780.9 L363.5,1779.4 L363.7,1777.8 L363.9,1776.3 L364.2,1774.7 L364.4,1773.2 L364.6,1771.6 L364.8,1770.1 L365.1,1768.6 L365.3,1767.0 L365.5,1765.5 L365.7,1764.0 L366.0,1762.5 L366.2,1761.0 L366.4,1759.5 L366.6,1758.0 L366.8,1756.5 L367.1,1755.0 L367.3,1753.5 L367.5,1752.0 L367.7,1750.5 L367.9,1749.0 L368.1,1747.5 L368.3,1746.0 L368.6,1744.5 L368.8,1743.0 L369.0,1741.5 L369.2,1740.0 L369.4,1738.5 L369.6,1737.0 L369.8,1735.5 L370.1,1734.0 L370.3,1732.5 L370.5,1731.1 L370.7,1729.6 L370.9,1728.1 L371.1,1726.6 L371.3,1725.1 L371.5,1723.6 L371.8,1722.1 L372.0,1720.6 L372.2,1719.1 L372.4,1717.6 L372.6,1716.0 L372.9,1714.5 L373.1,1713.0 L373.3,1711.5 L373.5,1710.0 L373.7,1708.5 L373.9,1707.0 L374.1,1705.5 L374.4,1703.9 L374.6,1702.4 L374.8,1700.9 L375.0,1699.4 L375.2,1697.9 L375.4,1696.4 L375.7,1694.9 L375.9,1693.4 L376.1,1691.9 L376.3,1690.4 L376.5,1688.9 L376.7,1687.4 L377.0,1685.9 L377.2,1684.4 L377.4,1682.9 L377.6,1681.4 L377.8,1679.9 L378.1,1678.3 L378.3,1676.8 L378.5,1675.2 L378.7,1673.7 L379.0,1672.2 L379.2,1670.6 L379.4,1669.1 L379.7,1667.6 L379.9,1666.0 L380.1,1664.5 L380.3,1663.0 L380.6,1661.5 L380.8,1659.9 L381.0,1658.4 L381.3,1656.9 L381.5,1655.3 L381.7,1653.8 L382.0,1652.3 L382.2,1650.7 L382.4,1649.2 L382.6,1647.7 L382.9,1646.1 L383.1,1644.6 L383.3,1643.0 L383.6,1641.5 L383.8,1639.9 L384.0,1638.4 L384.2,1636.9 L384.5,1635.4 L384.7,1634.0 L384.9,1632.5 L385.1,1631.0 L385.3,1629.6 L385.6,1628.1 L385.8,1626.6 L386.0,1625.2 L386.2,1623.7 L386.4,1622.2 L386.6,1620.7 L386.9,1619.3 L387.1,1617.8 L387.3,1616.3 L387.5,1614.8 L387.7,1613.3 L388.0,1611.8 L388.2,1610.4 L388.4,1608.9 L388.6,1607.4 L388.9,1605.9 L389.1,1604.4 L389.3,1602.9 L389.5,1601.3 L389.8,1599.8 L390.0,1598.3 L390.2,1596.8 L390.4,1595.2 L390.7,1593.8 L390.9,1592.3 L391.1,1590.8 L391.3,1589.3 L391.5,1587.8 L391.8,1586.3 L392.0,1584.8 L392.2,1583.2 L392.4,1581.7 L392.7,1580.2 L392.9,1578.6 L393.1,1577.1 L393.4,1575.6 L393.6,1574.0 L393.8,1572.5 L394.0,1571.0 L394.3,1569.4 L394.5,1567.9 L394.7,1566.3 L395.0,1564.8 L395.2,1563.3 L395.4,1561.7 L395.7,1560.2 L395.9,1558.7 L396.1,1557.1 L396.4,1555.6 L396.6,1554.1 L396.9,1552.6 L397.1,1551.1 L397.3,1549.6 L397.6,1548.1 L397.8,1546.6 L398.1,1545.1 L398.3,1543.5 L398.5,1542.0 L398.8,1540.5 L399.0,1538.9 L399.3,1537.4 L399.5,1535.8 L399.8,1534.3 L400.0,1532.7 L400.3,1531.2 L400.5,1529.7 L400.8,1528.1 L401.0,1526.6 L401.3,1525.1 L401.5,1523.5 L401.8,1522.0 L402.0,1520.5 L402.3,1519.0 L402.6,1517.5 L402.8,1516.0 L403.1,1514.6 L403.3,1513.1 L403.6,1511.7 L403.9,1510.3 L404.1,1508.9 L404.4,1507.5 L404.6,1506.1 L404.9,1504.8 L405.2,1503.4 L405.5,1502.1 L405.8,1500.4 L406.1,1498.7 L406.5,1497.0 L406.8,1495.3 L407.1,1493.7 L407.5,1492.0 L407.8,1490.4 L408.1,1488.8 L408.5,1487.2 L408.8,1485.7 L409.2,1484.2 L409.5,1482.7 L409.9,1481.3 L410.3,1479.9 L410.7,1478.5 L411.2,1477.2 L411.7,1475.9 L412.1,1474.7 L412.9,1473.1 L413.6,1471.5 L414.4,1470.0 L415.2,1468.6 L416.0,1467.2 L416.9,1466.0 L417.8,1464.8 L418.8,1463.7 L419.9,1462.6 L421.2,1461.5 L422.7,1460.3 L424.3,1459.3 L425.9,1458.4 L427.5,1457.7 L429.0,1457.3 L430.4,1457.2 L431.7,1457.5 L433.0,1458.2 L434.2,1459.1 L435.4,1460.3 L436.5,1461.5 L437.7,1462.8 L438.5,1463.8 L439.4,1465.0 L440.3,1466.2 L441.1,1467.5 L441.9,1468.9 L442.7,1470.3 L443.5,1471.8 L444.3,1473.3 L445.1,1474.9 L445.9,1476.5 L446.5,1477.8 L447.1,1479.1 L447.6,1480.4 L448.2,1481.8 L448.8,1483.2 L449.4,1484.7 L449.9,1486.2 L450.5,1487.7 L451.0,1489.2 L451.6,1490.7 L452.1,1492.3 L452.7,1493.8 L453.2,1495.4 L453.7,1496.9 L454.3,1498.5 L454.8,1500.0 L455.3,1501.5 L455.8,1503.0 L456.3,1504.5 L456.8,1506.0 L457.3,1507.5 L457.8,1509.0 L458.3,1510.6 L458.7,1512.1 L459.2,1513.6 L459.7,1515.1 L460.2,1516.7 L460.6,1518.2 L461.1,1519.7 L461.5,1521.2 L462.0,1522.7 L462.4,1524.2 L462.9,1525.7 L463.3,1527.2 L463.8,1528.7 L464.2,1530.2 L464.7,1531.8 L465.2,1533.4 L465.6,1534.9 L466.1,1536.4 L466.5,1538.0 L467.0,1539.5 L467.4,1541.0 L467.8,1542.5 L468.3,1544.0 L468.7,1545.6 L469.1,1547.1 L469.5,1548.6 L469.9,1550.1 L470.3,1551.7 L470.7,1553.2 L471.1,1554.8 L471.4,1556.3 L471.8,1557.8 L472.2,1559.4 L472.5,1560.9 L472.9,1562.4 L473.2,1564.0 L473.6,1565.5 L473.9,1567.1 L474.2,1568.7 L474.5,1570.2 L474.9,1571.8 L475.2,1573.4 L475.5,1575.0 L475.7,1576.5 L476.0,1577.9 L476.2,1579.3 L476.5,1580.8 L476.7,1582.2 L476.9,1583.7 L477.1,1585.2 L477.3,1586.6 L477.5,1588.1 L477.7,1589.6 L477.9,1591.1 L478.2,1592.6 L478.4,1594.1 L478.6,1595.6 L478.9,1597.2 L479.1,1598.7 L479.4,1600.3 L479.7,1601.9 L479.9,1603.3 L480.2,1604.7 L480.5,1606.2 L480.7,1607.6 L481.0,1609.1 L481.3,1610.5 L481.6,1612.0 L481.8,1613.5 L482.1,1615.0 L482.4,1616.5 L482.7,1618.0 L483.0,1619.5 L483.4,1621.0 L483.7,1622.5 L484.0,1624.1 L484.4,1625.6 L484.7,1627.2 L485.1,1628.7 L485.5,1630.3 L485.9,1631.8 L486.3,1633.4 L486.8,1635.0 L487.2,1636.6 L487.6,1637.9 L488.0,1639.3 L488.4,1640.6 L488.8,1642.0 L489.3,1643.4 L489.7,1644.8 L490.2,1646.2 L490.6,1647.6 L491.1,1649.0 L491.6,1650.5 L492.1,1651.9 L492.6,1653.3 L493.1,1654.8 L493.6,1656.2 L494.1,1657.7 L494.6,1659.1 L495.2,1660.5 L495.7,1662.0 L496.3,1663.4 L496.8,1664.9 L497.4,1666.3 L497.9,1667.8 L498.5,1669.2 L499.0,1670.6 L499.6,1672.0 L500.2,1673.5 L500.8,1674.9 L501.3,1676.3 L501.9,1677.7 L502.5,1679.1 L503.1,1680.5 L503.7,1681.9 L504.3,1683.3 L504.9,1684.7 L505.5,1686.2 L506.2,1687.6 L506.8,1689.0 L507.5,1690.4 L508.1,1691.9 L508.8,1693.3 L509.5,1694.7 L510.1,1696.1 L510.8,1697.6 L511.5,1699.0 L512.2,1700.4 L512.9,1701.8 L513.6,1703.2 L514.3,1704.6 L515.0,1706.0 L515.7,1707.3 L516.3,1708.7 L517.0,1710.1 L517.7,1711.4 L518.4,1712.8 L519.1,1714.1 L519.7,1715.4 L520.4,1716.7 L521.1,1718.0 L521.7,1719.3 L522.4,1720.5 L523.0,1721.8 L523.8,1723.3 L524.5,1724.7 L525.3,1726.2 L526.0,1727.6 L526.8,1729.0 L527.5,1730.4 L528.3,1731.8 L529.0,1733.1 L529.8,1734.5 L530.5,1735.8 L531.3,1737.2 L532.0,1738.5 L532.7,1739.8 L533.4,1741.1 L534.2,1742.4 L534.9,1743.7 L535.6,1744.9 L536.2,1746.2 L536.9,1747.4 L537.6,1748.7 L538.2,1749.9 L539.0,1751.4 L539.8,1752.9 L540.5,1754.4 L541.3,1755.8 L542.0,1757.2 L542.7,1758.6 L543.4,1760.0 L544.1,1761.4 L544.8,1762.7 L545.5,1764.1 L546.2,1765.5 L546.9,1766.9 L547.6,1768.3 L548.3,1769.7 L549.0,1771.1 L549.7,1772.5 L550.4,1773.9 L551.1,1775.2 L551.8,1776.6 L552.5,1778.0 L553.2,1779.4 L553.9,1780.8 L554.6,1782.2 L555.3,1783.6 L556.0,1784.9 L556.7,1786.3 L557.4,1787.7 L558.2,1789.1 L558.9,1790.5 L559.7,1791.9 L560.4,1793.2 L561.2,1794.6 L562.0,1796.0 L562.8,1797.4 L563.6,1798.8 L564.3,1800.1 L565.1,1801.5 L566.0,1802.9 L566.8,1804.3 L567.6,1805.6 L568.4,1807.0 L569.3,1808.3 L570.1,1809.6 L571.0,1811.0 L571.8,1812.2 L572.7,1813.5 L573.6,1814.8 L574.4,1816.1 L575.3,1817.3 L576.2,1818.6 L577.1,1819.8 L578.1,1821.1 L579.0,1822.3 L579.9,1823.5 L580.8,1824.7 L581.8,1825.9 L582.7,1827.0 L583.7,1828.2 L584.7,1829.3 L585.7,1830.4 L586.7,1831.6 L587.8,1832.8 L588.9,1833.9 L590.0,1835.0 L591.2,1836.1 L592.3,1837.2 L593.4,1838.2 L594.6,1839.3 L595.7,1840.3 L596.9,1841.4 L598.1,1842.4 L599.3,1843.4 L600.5,1844.4 L601.7,1845.4 L602.9,1846.3 L604.1,1847.3 L605.3,1848.2 L606.6,1849.1 L607.8,1850.0 L609.1,1850.9 L610.4,1851.8 L611.6,1852.7 L612.9,1853.6 L614.2,1854.5 L615.5,1855.3 L616.8,1856.2 L618.1,1857.0 L619.4,1857.9 L620.7,1858.7 L622.0,1859.6 L623.4,1860.4 L624.7,1861.2 L626.0,1862.0 L627.4,1862.8 L628.7,1863.6 L630.1,1864.4 L631.4,1865.2 L632.8,1866.0 L634.1,1866.7 L635.4,1867.5 L636.7,1868.2 L638.0,1869.0 L639.3,1869.8 L640.6,1870.5 L642.0,1871.3 L643.3,1872.0 L644.6,1872.7 L645.9,1873.4 L647.2,1874.1 L648.6,1874.8 L649.9,1875.4 L651.3,1876.0 L652.8,1876.6 L654.3,1877.2 L655.8,1877.8 L657.3,1878.3 L658.9,1878.8 L660.4,1879.3 L662.0,1879.8 L663.5,1880.2 L665.1,1880.7 L666.6,1881.2 L668.2,1881.6 L669.7,1882.1 L671.2,1882.6 L672.7,1883.1 L674.3,1883.6 L675.8,1884.2 L677.3,1884.7 L678.8,1885.2 L680.3,1885.7 L681.9,1886.2 L683.4,1886.6 L684.9,1887.0 L686.5,1887.3 L688.0,1887.6 L689.5,1887.8 L691.0,1887.9 L692.6,1887.9 L694.1,1887.9 L695.6,1887.8 L697.1,1887.7 L698.7,1887.6 L700.2,1887.5 L701.7,1887.5 L703.3,1887.5 L704.8,1887.5 L706.3,1887.6 L707.8,1887.8 L709.4,1888.0 L710.9,1888.3 L712.4,1888.6 L713.9,1888.9 L715.5,1889.2 L717.0,1889.6 L718.5,1889.9 L720.0,1890.3 L721.6,1890.6 L723.1,1891.0 L724.6,1891.3" fill="none" stroke="#92d050" stroke-width="6.2" stroke-linecap="round" stroke-linejoin="round"/>
<path d="M304.8,1902.2 L306.4,1902.1 L308.0,1902.1 L309.6,1902.0 L311.2,1902.0 L312.7,1901.9 L314.3,1901.8 L315.9,1901.8 L317.6,1901.7 L319.2,1901.6 L320.8,1901.5 L322.4,1901.4 L324.0,1901.2 L325.7,1901.0 L327.3,1900.8 L329.0,1900.4 L330.7,1899.7 L331.9,1899.1 L333.1,1898.5 L334.3,1897.7 L335.5,1896.8 L336.8,1895.8 L338.0,1894.8 L339.2,1893.7 L340.4,1892.5 L341.5,1891.3 L342.4,1890.2 L343.3,1889.1 L344.2,1888.0 L345.1,1886.8 L346.0,1885.5 L346.8,1884.2 L347.7,1882.9 L348.5,1881.5 L349.4,1880.1 L350.2,1878.6 L351.0,1877.2 L351.8,1875.7 L352.6,1874.2 L353.3,1872.8 L354.0,1871.3 L354.7,1869.9 L355.3,1868.6 L355.9,1867.2 L356.5,1865.8 L357.1,1864.4 L357.7,1863.0 L358.3,1861.5 L358.8,1860.1 L359.4,1858.6 L359.9,1857.1 L360.4,1855.6 L360.9,1854.1 L361.4,1852.6 L361.9,1851.0 L362.4,1849.5 L362.9,1848.0 L363.4,1846.4 L363.8,1844.8 L364.3,1843.2 L364.7,1841.9 L365.0,1840.5 L365.4,1839.1 L365.8,1837.7 L366.1,1836.3 L366.4,1834.8 L366.8,1833.4 L367.1,1832.0 L367.4,1830.5 L367.7,1829.1 L368.0,1827.6 L368.3,1826.1 L368.6,1824.7 L368.9,1823.2 L369.1,1821.7 L369.4,1820.2 L369.7,1818.7 L370.0,1817.2 L370.2,1815.6 L370.5,1814.1 L370.8,1812.6 L371.0,1811.1 L371.3,1809.5 L371.6,1808.0 L371.9,1806.5 L372.1,1805.1 L372.4,1803.6 L372.6,1802.1 L372.8,1800.7 L373.1,1799.2 L373.3,1797.7 L373.6,1796.2 L373.8,1794.7 L374.0,1793.1 L374.3,1791.6 L374.5,1790.1 L374.7,1788.6 L374.9,1787.0 L375.2,1785.5 L375.4,1784.0 L375.6,1782.4 L375.8,1780.9 L376.0,1779.3 L376.3,1777.8 L376.5,1776.3 L376.7,1774.7 L376.9,1773.2 L377.1,1771.6 L377.4,1770.1 L377.6,1768.6 L377.8,1767.0 L378.1,1765.5 L378.3,1764.0 L378.5,1762.5 L378.7,1761.0 L378.9,1759.5 L379.2,1758.0 L379.4,1756.5 L379.6,1755.0 L379.8,1753.6 L380.0,1752.1 L380.3,1750.6 L380.5,1749.1 L380.7,1747.5 L380.9,1746.0 L381.1,1744.5 L381.4,1743.0 L381.6,1741.5 L381.8,1740.0 L382.0,1738.5 L382.3,1737.0 L382.5,1735.5 L382.7,1734.0 L382.9,1732.6 L383.1,1731.1 L383.4,1729.6 L383.6,1728.1 L383.8,1726.6 L384.1,1725.1 L384.3,1723.6 L384.5,1722.1 L384.7,1720.6 L385.0,1719.1 L385.2,1717.6 L385.5,1716.0 L385.7,1714.5 L385.9,1713.0 L386.2,1711.5 L386.4,1710.0 L386.7,1708.5 L386.9,1707.0 L387.2,1705.5 L387.4,1703.9 L387.6,1702.4 L387.9,1700.9 L388.1,1699.4 L388.4,1697.9 L388.6,1696.4 L388.9,1694.9 L389.1,1693.4 L389.4,1691.9 L389.6,1690.4 L389.8,1688.9 L390.1,1687.4 L390.3,1685.9 L390.6,1684.4 L390.8,1682.9 L391.1,1681.4 L391.3,1679.9 L391.5,1678.3 L391.8,1676.8 L392.0,1675.2 L392.3,1673.7 L392.5,1672.2 L392.8,1670.6 L393.0,1669.1 L393.3,1667.6 L393.5,1666.0 L393.8,1664.5 L394.0,1663.0 L394.2,1661.5 L394.5,1659.9 L394.7,1658.4 L395.0,1656.9 L395.2,1655.3 L395.5,1653.8 L395.7,1652.3 L396.0,1650.7 L396.2,1649.2 L396.4,1647.7 L396.7,1646.1 L396.9,1644.6 L397.1,1643.0 L397.4,1641.5 L397.6,1639.9 L397.9,1638.4 L398.1,1636.9 L398.3,1635.5 L398.5,1634.0 L398.7,1632.5 L398.9,1631.0 L399.2,1629.6 L399.4,1628.1 L399.6,1626.6 L399.8,1625.2 L400.0,1623.7 L400.2,1622.2 L400.4,1620.7 L400.6,1619.3 L400.9,1617.8 L401.1,1616.3 L401.3,1614.8 L401.5,1613.3 L401.7,1611.8 L401.9,1610.4 L402.1,1608.9 L402.3,1607.4 L402.5,1605.9 L402.8,1604.4 L403.0,1602.9 L403.2,1601.3 L403.4,1599.8 L403.6,1598.3 L403.9,1596.8 L404.1,1595.2 L404.3,1593.8 L404.5,1592.3 L404.8,1590.8 L405.0,1589.3 L405.2,1587.8 L405.4,1586.3 L405.6,1584.8 L405.9,1583.2 L406.1,1581.7 L406.3,1580.2 L406.5,1578.6 L406.8,1577.1 L407.0,1575.6 L407.2,1574.0 L407.5,1572.5 L407.7,1571.0 L407.9,1569.4 L408.2,1567.9 L408.4,1566.3 L408.6,1564.8 L408.9,1563.3 L409.1,1561.7 L409.3,1560.2 L409.6,1558.7 L409.8,1557.1 L410.1,1555.6 L410.3,1554.1 L410.5,1552.6 L410.8,1551.1 L411.0,1549.6 L411.3,1548.1 L411.5,1546.6 L411.8,1545.1 L412.0,1543.5 L412.3,1542.0 L412.6,1540.5 L412.8,1538.9 L413.1,1537.4 L413.3,1535.8 L413.6,1534.3 L413.9,1532.7 L414.1,1531.2 L414.4,1529.7 L414.7,1528.1 L415.0,1526.6 L415.2,1525.1 L415.5,1523.5 L415.8,1522.0 L416.0,1520.5 L416.3,1519.0 L416.6,1517.5 L416.9,1516.0 L417.1,1514.6 L417.4,1513.1 L417.7,1511.7 L418.0,1510.3 L418.2,1508.9 L418.5,1507.5 L418.8,1506.1 L419.1,1504.8 L419.4,1503.4 L419.6,1502.1 L420.0,1500.4 L420.3,1498.7 L420.7,1497.0 L421.0,1495.3 L421.4,1493.7 L421.7,1492.0 L422.1,1490.4 L422.4,1488.8 L422.8,1487.3 L423.1,1485.7 L423.5,1484.2 L423.8,1482.7 L424.2,1481.3 L424.6,1479.9 L425.0,1478.5 L425.5,1477.2 L425.9,1476.0 L426.4,1474.7 L427.0,1473.1 L427.7,1471.5 L428.4,1470.0 L429.1,1468.6 L429.8,1467.3 L430.6,1466.0 L431.4,1464.8 L432.3,1463.7 L433.2,1462.6 L434.4,1461.5 L435.6,1460.4 L436.9,1459.4 L438.3,1458.5 L439.7,1457.8 L441.1,1457.4 L442.5,1457.2 L444.0,1457.4 L445.5,1457.8 L447.0,1458.5 L448.5,1459.5 L450.0,1460.5 L451.4,1461.7 L452.7,1462.9 L453.8,1464.0 L454.7,1465.2 L455.7,1466.4 L456.6,1467.8 L457.4,1469.2 L458.2,1470.7 L459.0,1472.2 L459.7,1473.8 L460.5,1475.3 L461.1,1476.9 L461.7,1478.3 L462.2,1479.7 L462.6,1481.1 L463.0,1482.6 L463.4,1484.1 L463.8,1485.6 L464.1,1487.2 L464.5,1488.7 L464.8,1490.3 L465.1,1491.8 L465.5,1493.4 L465.8,1494.9 L466.1,1496.4 L466.5,1498.0 L466.8,1499.6 L467.2,1501.2 L467.5,1502.8 L467.8,1504.4 L468.1,1506.0 L468.4,1507.6 L468.7,1509.2 L469.1,1510.7 L469.4,1512.3 L469.7,1513.9 L470.1,1515.4 L470.5,1517.0 L470.9,1518.5 L471.3,1520.1 L471.7,1521.7 L472.1,1523.2 L472.6,1524.8 L473.0,1526.3 L473.4,1527.8 L473.9,1529.3 L474.3,1530.8 L474.7,1532.2 L475.2,1533.8 L475.7,1535.3 L476.1,1536.8 L476.6,1538.3 L477.0,1539.8 L477.5,1541.3 L478.0,1542.7 L478.4,1544.2 L478.9,1545.7 L479.3,1547.2 L479.8,1548.6 L480.3,1550.1 L480.7,1551.5 L481.2,1552.9 L481.6,1554.4 L482.1,1555.9 L482.5,1557.4 L482.9,1559.0 L483.3,1560.4 L483.7,1561.8 L484.0,1563.2 L484.3,1564.6 L484.7,1566.1 L485.0,1567.6 L485.3,1569.1 L485.6,1570.6 L485.9,1572.2 L486.3,1573.7 L486.6,1575.3 L486.9,1576.9 L487.2,1578.3 L487.5,1579.8 L487.7,1581.2 L488.0,1582.7 L488.2,1584.2 L488.5,1585.6 L488.7,1587.2 L489.0,1588.7 L489.2,1590.2 L489.5,1591.8 L489.8,1593.3 L490.1,1594.9 L490.4,1596.5 L490.8,1598.1 L491.2,1599.8 L491.6,1601.4 L492.0,1602.8 L492.4,1604.1 L492.7,1605.5 L493.2,1606.9 L493.6,1608.2 L494.0,1609.6 L494.5,1611.1 L494.9,1612.5 L495.4,1613.9 L495.9,1615.3 L496.4,1616.8 L496.9,1618.3 L497.4,1619.7 L497.9,1621.2 L498.5,1622.7 L499.0,1624.2 L499.6,1625.6 L500.2,1627.1 L500.7,1628.6 L501.3,1630.1 L501.9,1631.7 L502.6,1633.2 L503.2,1634.7 L503.8,1636.2 L504.4,1637.5 L504.9,1638.8 L505.5,1640.1 L506.1,1641.4 L506.7,1642.7 L507.3,1644.0 L507.9,1645.4 L508.5,1646.7 L509.2,1648.1 L509.8,1649.4 L510.5,1650.8 L511.2,1652.1 L511.8,1653.5 L512.5,1654.8 L513.2,1656.2 L513.9,1657.6 L514.6,1659.0 L515.3,1660.3 L516.0,1661.7 L516.7,1663.1 L517.4,1664.4 L518.1,1665.8 L518.8,1667.2 L519.5,1668.6 L520.2,1669.9 L520.9,1671.3 L521.6,1672.6 L522.3,1674.0 L523.0,1675.4 L523.7,1676.7 L524.4,1678.0 L525.0,1679.4 L525.7,1680.7 L526.4,1682.1 L527.1,1683.5 L527.8,1684.8 L528.5,1686.2 L529.2,1687.6 L529.9,1689.0 L530.6,1690.4 L531.3,1691.8 L532.0,1693.2 L532.7,1694.6 L533.5,1696.0 L534.2,1697.4 L534.9,1698.8 L535.6,1700.2 L536.3,1701.6 L537.0,1702.9 L537.7,1704.3 L538.4,1705.7 L539.1,1707.0 L539.8,1708.4 L540.5,1709.7 L541.1,1711.1 L541.8,1712.4 L542.4,1713.7 L543.1,1715.0 L543.7,1716.3 L544.3,1717.6 L544.9,1718.8 L545.5,1720.0 L546.1,1721.3 L546.7,1722.5 L547.4,1724.1 L548.1,1725.7 L548.8,1727.3 L549.5,1728.8 L550.2,1730.4 L550.9,1731.9 L551.6,1733.5 L552.2,1735.0 L552.8,1736.5 L553.5,1737.9 L554.1,1739.4 L554.7,1740.8 L555.2,1742.2 L555.8,1743.5 L556.3,1744.8 L556.9,1746.1 L557.4,1747.4 L557.9,1748.6 L558.6,1750.2 L559.2,1751.7 L559.7,1753.1 L560.3,1754.5 L560.8,1755.9 L561.3,1757.2 L561.9,1758.5 L562.5,1759.9 L563.1,1761.2 L563.9,1762.7 L564.6,1764.1 L565.4,1765.5 L566.2,1766.9 L567.0,1768.3 L567.9,1769.7 L568.7,1771.2 L569.6,1772.7 L570.6,1774.2 L571.3,1775.5 L572.0,1776.7 L572.8,1778.0 L573.6,1779.3 L574.4,1780.6 L575.2,1782.0 L576.0,1783.3 L576.8,1784.7 L577.7,1786.1 L578.5,1787.5 L579.4,1788.9 L580.3,1790.2 L581.1,1791.6 L582.0,1793.0 L582.9,1794.4 L583.7,1795.6 L584.5,1796.9 L585.3,1798.2 L586.2,1799.5 L587.0,1800.8 L587.8,1802.1 L588.7,1803.4 L589.5,1804.7 L590.4,1806.0 L591.3,1807.3 L592.1,1808.6 L593.0,1809.9 L593.9,1811.2 L594.8,1812.4 L595.7,1813.7 L596.6,1814.9 L597.5,1816.1 L598.4,1817.4 L599.4,1818.6 L600.4,1819.8 L601.3,1821.1 L602.3,1822.3 L603.3,1823.5 L604.3,1824.7 L605.3,1825.9 L606.3,1827.0 L607.3,1828.2 L608.3,1829.3 L609.4,1830.5 L610.4,1831.6 L611.4,1832.7 L612.4,1833.8 L613.6,1835.0 L614.7,1836.1 L615.8,1837.2 L617.0,1838.4 L618.1,1839.5 L619.3,1840.6 L620.5,1841.6 L621.6,1842.7 L622.8,1843.7 L624.0,1844.8 L625.2,1845.8 L626.3,1846.8 L627.5,1847.8 L628.7,1848.8 L629.9,1849.8 L631.0,1850.8 L632.2,1851.7 L633.4,1852.6 L634.6,1853.6 L635.7,1854.5 L636.9,1855.4 L638.1,1856.3 L639.3,1857.2 L640.5,1858.1 L641.7,1859.0 L642.9,1859.9 L644.2,1860.8 L645.5,1861.7 L646.8,1862.6 L648.2,1863.5 L649.5,1864.4 L650.8,1865.3 L652.1,1866.2 L653.5,1867.0 L654.8,1867.9 L656.1,1868.8 L657.4,1869.6 L658.7,1870.5 L660.1,1871.4 L661.4,1872.4 L662.7,1873.4 L664.1,1874.4 L665.4,1875.5 L666.8,1876.4 L668.1,1877.4 L669.4,1878.2 L670.7,1879.0 L672.0,1879.7 L673.3,1880.3 L674.9,1880.8 L676.4,1881.1 L677.9,1881.3 L679.4,1881.5 L681.0,1881.6 L682.6,1881.8 L684.3,1882.1 L685.7,1882.4 L687.1,1882.8 L688.6,1883.3 L690.1,1883.7 L691.6,1884.2 L693.2,1884.7 L694.7,1885.3 L696.3,1885.8 L697.9,1886.3 L699.5,1886.7 L701.1,1887.2 L702.6,1887.6 L704.1,1888.0 L705.7,1888.3 L707.2,1888.6 L708.7,1889.0 L710.2,1889.3 L711.8,1889.6 L713.3,1889.8 L714.9,1890.1 L716.4,1890.4 L717.9,1890.7 L719.5,1891.0 L721.0,1891.3" fill="none" stroke="#00b050" stroke-width="6.2" stroke-linecap="round" stroke-linejoin="round"/>
<path d="M308.0,1902.2 L309.6,1902.2 L311.2,1902.2 L312.9,1902.2 L314.5,1902.2 L316.1,1902.2 L317.8,1902.2 L319.3,1902.2 L320.9,1902.2 L322.4,1902.2 L323.8,1902.2 L325.7,1902.1 L327.5,1902.1 L329.2,1902.0 L330.8,1901.9 L332.4,1901.8 L334.0,1901.6 L335.7,1901.3 L337.3,1901.0 L338.8,1900.6 L340.4,1900.1 L342.0,1899.4 L343.1,1898.7 L344.3,1898.0 L345.4,1897.1 L346.6,1896.2 L347.8,1895.2 L348.9,1894.1 L350.0,1893.0 L351.2,1891.8 L352.3,1890.5 L353.1,1889.5 L353.9,1888.4 L354.7,1887.3 L355.5,1886.1 L356.3,1884.8 L357.1,1883.6 L357.9,1882.2 L358.7,1880.9 L359.5,1879.5 L360.2,1878.1 L361.0,1876.7 L361.7,1875.3 L362.4,1873.8 L363.1,1872.4 L363.8,1870.9 L364.4,1869.6 L365.0,1868.3 L365.5,1866.9 L366.1,1865.5 L366.6,1864.1 L367.2,1862.7 L367.7,1861.3 L368.2,1859.9 L368.7,1858.4 L369.2,1857.0 L369.7,1855.5 L370.2,1854.0 L370.7,1852.5 L371.2,1851.0 L371.6,1849.4 L372.1,1847.9 L372.5,1846.4 L373.0,1844.8 L373.4,1843.3 L373.8,1841.9 L374.2,1840.5 L374.5,1839.1 L374.9,1837.7 L375.2,1836.3 L375.6,1834.9 L375.9,1833.5 L376.2,1832.0 L376.5,1830.6 L376.8,1829.1 L377.2,1827.6 L377.5,1826.2 L377.8,1824.7 L378.1,1823.2 L378.4,1821.7 L378.6,1820.2 L378.9,1818.7 L379.2,1817.2 L379.5,1815.7 L379.8,1814.2 L380.1,1812.6 L380.4,1811.1 L380.6,1809.6 L380.9,1808.0 L381.2,1806.6 L381.4,1805.1 L381.7,1803.7 L381.9,1802.2 L382.2,1800.7 L382.4,1799.2 L382.7,1797.7 L382.9,1796.2 L383.2,1794.7 L383.4,1793.2 L383.6,1791.6 L383.9,1790.1 L384.1,1788.6 L384.3,1787.1 L384.6,1785.5 L384.8,1784.0 L385.0,1782.4 L385.2,1780.9 L385.5,1779.4 L385.7,1777.8 L385.9,1776.3 L386.1,1774.7 L386.4,1773.2 L386.6,1771.6 L386.8,1770.1 L387.0,1768.6 L387.3,1767.0 L387.5,1765.5 L387.7,1764.0 L387.9,1762.5 L388.2,1761.0 L388.4,1759.5 L388.6,1758.0 L388.8,1756.5 L389.1,1755.0 L389.3,1753.5 L389.5,1752.0 L389.7,1750.5 L389.9,1749.0 L390.1,1747.5 L390.4,1746.0 L390.6,1744.5 L390.8,1743.0 L391.0,1741.5 L391.2,1740.0 L391.5,1738.5 L391.7,1737.0 L391.9,1735.5 L392.1,1734.0 L392.4,1732.5 L392.6,1731.1 L392.8,1729.6 L393.0,1728.1 L393.3,1726.6 L393.5,1725.1 L393.7,1723.6 L393.9,1722.1 L394.2,1720.6 L394.4,1719.1 L394.7,1717.6 L394.9,1716.0 L395.2,1714.5 L395.4,1713.0 L395.6,1711.5 L395.9,1710.0 L396.1,1708.5 L396.4,1707.0 L396.6,1705.5 L396.9,1703.9 L397.1,1702.4 L397.4,1700.9 L397.6,1699.4 L397.9,1697.9 L398.1,1696.4 L398.4,1694.9 L398.6,1693.4 L398.9,1691.9 L399.1,1690.4 L399.4,1688.9 L399.6,1687.4 L399.9,1685.9 L400.1,1684.4 L400.4,1682.9 L400.6,1681.4 L400.8,1679.9 L401.1,1678.3 L401.3,1676.8 L401.6,1675.2 L401.8,1673.7 L402.0,1672.2 L402.3,1670.6 L402.5,1669.1 L402.8,1667.6 L403.0,1666.0 L403.2,1664.5 L403.5,1663.0 L403.7,1661.5 L403.9,1659.9 L404.2,1658.4 L404.4,1656.9 L404.6,1655.3 L404.9,1653.8 L405.1,1652.3 L405.3,1650.7 L405.6,1649.2 L405.8,1647.7 L406.0,1646.1 L406.2,1644.6 L406.5,1643.0 L406.7,1641.5 L406.9,1639.9 L407.1,1638.4 L407.3,1636.9 L407.5,1635.5 L407.8,1634.0 L408.0,1632.5 L408.1,1631.0 L408.3,1629.6 L408.5,1628.1 L408.7,1626.6 L408.9,1625.2 L409.1,1623.7 L409.3,1622.2 L409.5,1620.7 L409.7,1619.3 L409.9,1617.8 L410.1,1616.3 L410.3,1614.8 L410.4,1613.3 L410.6,1611.8 L410.8,1610.3 L411.0,1608.9 L411.2,1607.4 L411.4,1605.9 L411.6,1604.4 L411.8,1602.8 L412.0,1601.3 L412.2,1599.8 L412.5,1598.3 L412.7,1596.8 L412.9,1595.2 L413.1,1593.8 L413.3,1592.3 L413.5,1590.8 L413.8,1589.3 L414.0,1587.8 L414.2,1586.3 L414.4,1584.7 L414.7,1583.2 L414.9,1581.7 L415.1,1580.2 L415.4,1578.6 L415.6,1577.1 L415.8,1575.6 L416.1,1574.0 L416.3,1572.5 L416.5,1570.9 L416.8,1569.4 L417.0,1567.9 L417.3,1566.3 L417.5,1564.8 L417.8,1563.2 L418.0,1561.7 L418.3,1560.2 L418.5,1558.6 L418.8,1557.1 L419.0,1555.6 L419.3,1554.1 L419.5,1552.6 L419.8,1551.1 L420.0,1549.6 L420.3,1548.1 L420.6,1546.6 L420.8,1545.1 L421.1,1543.5 L421.4,1542.0 L421.7,1540.5 L422.0,1538.9 L422.2,1537.4 L422.5,1535.8 L422.8,1534.3 L423.1,1532.7 L423.4,1531.2 L423.7,1529.7 L424.0,1528.1 L424.3,1526.6 L424.6,1525.1 L424.9,1523.5 L425.2,1522.0 L425.5,1520.5 L425.8,1519.0 L426.1,1517.5 L426.4,1516.0 L426.7,1514.6 L427.0,1513.1 L427.3,1511.7 L427.6,1510.3 L427.9,1508.9 L428.2,1507.5 L428.5,1506.1 L428.8,1504.8 L429.1,1503.4 L429.4,1502.1 L429.7,1500.4 L430.1,1498.7 L430.5,1497.0 L430.9,1495.3 L431.2,1493.7 L431.6,1492.0 L431.9,1490.4 L432.3,1488.8 L432.7,1487.3 L433.0,1485.7 L433.4,1484.2 L433.8,1482.7 L434.2,1481.3 L434.6,1479.9 L435.0,1478.5 L435.4,1477.2 L435.9,1476.0 L436.3,1474.7 L437.0,1473.1 L437.6,1471.5 L438.3,1470.0 L439.0,1468.6 L439.7,1467.3 L440.4,1466.0 L441.2,1464.8 L442.1,1463.7 L443.0,1462.6 L444.1,1461.5 L445.4,1460.4 L446.7,1459.4 L448.0,1458.5 L449.4,1457.8 L450.7,1457.3 L452.0,1457.2 L453.4,1457.5 L454.9,1458.2 L456.3,1459.2 L457.7,1460.4 L459.0,1461.8 L460.3,1463.2 L461.2,1464.3 L462.1,1465.5 L463.0,1466.8 L463.8,1468.2 L464.6,1469.7 L465.4,1471.2 L466.1,1472.8 L466.9,1474.4 L467.6,1476.0 L468.3,1477.6 L468.8,1478.9 L469.3,1480.2 L469.8,1481.6 L470.3,1483.0 L470.8,1484.5 L471.2,1485.9 L471.7,1487.4 L472.1,1488.9 L472.5,1490.4 L473.0,1492.0 L473.4,1493.5 L473.8,1495.0 L474.2,1496.5 L474.6,1498.0 L475.0,1499.5 L475.4,1501.0 L475.8,1502.5 L476.2,1503.9 L476.6,1505.4 L477.0,1506.9 L477.3,1508.4 L477.7,1509.9 L478.1,1511.4 L478.4,1512.8 L478.8,1514.3 L479.2,1515.8 L479.5,1517.3 L479.9,1518.8 L480.3,1520.3 L480.7,1521.8 L481.0,1523.2 L481.4,1524.7 L481.8,1526.2 L482.2,1527.6 L482.6,1529.1 L483.1,1530.5 L483.5,1532.0 L483.9,1533.5 L484.3,1534.9 L484.7,1536.4 L485.1,1537.8 L485.5,1539.3 L485.9,1540.7 L486.4,1542.1 L486.8,1543.6 L487.2,1545.0 L487.6,1546.4 L488.0,1548.0 L488.5,1549.6 L488.9,1551.1 L489.4,1552.7 L489.8,1554.3 L490.3,1555.9 L490.7,1557.4 L491.2,1559.0 L491.6,1560.5 L492.0,1562.0 L492.5,1563.5 L492.9,1565.0 L493.4,1566.5 L493.8,1568.0 L494.3,1569.6 L494.7,1571.2 L495.2,1572.8 L495.6,1574.4 L496.0,1575.9 L496.5,1577.5 L496.9,1579.0 L497.4,1580.6 L497.9,1582.1 L498.5,1583.6 L499.0,1585.2 L499.6,1586.6 L500.2,1588.0 L500.8,1589.4 L501.4,1590.7 L502.0,1592.1 L502.7,1593.4 L503.3,1594.8 L504.0,1596.2 L504.7,1597.6 L505.4,1599.1 L506.2,1600.6 L506.9,1602.1 L507.7,1603.7 L508.3,1604.9 L508.9,1606.1 L509.5,1607.4 L510.2,1608.7 L510.8,1609.9 L511.5,1611.3 L512.2,1612.6 L512.9,1613.9 L513.6,1615.3 L514.3,1616.7 L515.0,1618.1 L515.7,1619.5 L516.4,1620.9 L517.2,1622.3 L517.9,1623.8 L518.6,1625.2 L519.4,1626.7 L520.1,1628.1 L520.9,1629.6 L521.6,1631.1 L522.3,1632.6 L523.1,1634.1 L523.8,1635.6 L524.4,1636.9 L525.0,1638.2 L525.6,1639.5 L526.2,1640.9 L526.9,1642.2 L527.5,1643.6 L528.1,1644.9 L528.8,1646.3 L529.4,1647.7 L530.0,1649.1 L530.7,1650.5 L531.3,1651.9 L531.9,1653.3 L532.6,1654.8 L533.2,1656.2 L533.9,1657.6 L534.5,1659.1 L535.2,1660.5 L535.8,1661.9 L536.4,1663.4 L537.1,1664.8 L537.7,1666.3 L538.3,1667.7 L539.0,1669.1 L539.6,1670.6 L540.2,1672.0 L540.8,1673.4 L541.5,1674.9 L542.1,1676.3 L542.7,1677.7 L543.3,1679.1 L543.9,1680.5 L544.5,1681.9 L545.1,1683.3 L545.7,1684.7 L546.3,1686.2 L546.9,1687.6 L547.5,1689.1 L548.1,1690.5 L548.8,1692.0 L549.4,1693.5 L550.0,1694.9 L550.6,1696.4 L551.2,1697.8 L551.8,1699.3 L552.4,1700.7 L552.9,1702.2 L553.5,1703.6 L554.1,1705.0 L554.7,1706.5 L555.3,1707.9 L555.8,1709.3 L556.4,1710.7 L557.0,1712.0 L557.5,1713.4 L558.0,1714.8 L558.6,1716.1 L559.1,1717.4 L559.6,1718.7 L560.1,1720.0 L560.7,1721.3 L561.2,1722.5 L561.8,1724.1 L562.4,1725.7 L563.0,1727.3 L563.6,1728.9 L564.2,1730.4 L564.8,1732.0 L565.4,1733.5 L566.0,1735.0 L566.5,1736.5 L567.1,1737.9 L567.6,1739.3 L568.2,1740.7 L568.7,1742.1 L569.2,1743.5 L569.7,1744.8 L570.2,1746.1 L570.7,1747.3 L571.2,1748.5 L571.9,1750.2 L572.5,1751.7 L573.1,1753.2 L573.7,1754.7 L574.3,1756.1 L574.9,1757.4 L575.5,1758.8 L576.1,1760.2 L576.8,1761.6 L577.5,1763.0 L578.3,1764.3 L579.0,1765.6 L579.8,1766.9 L580.5,1768.2 L581.3,1769.6 L582.1,1770.9 L583.0,1772.2 L583.8,1773.6 L584.6,1775.0 L585.3,1776.3 L586.1,1777.6 L586.8,1779.0 L587.6,1780.3 L588.4,1781.7 L589.2,1783.1 L590.0,1784.5 L590.7,1785.9 L591.5,1787.2 L592.3,1788.6 L593.1,1789.9 L593.8,1791.2 L594.7,1792.7 L595.5,1794.1 L596.3,1795.5 L597.1,1796.9 L597.9,1798.3 L598.7,1799.7 L599.5,1801.0 L600.3,1802.4 L601.2,1803.7 L602.2,1805.1 L603.1,1806.3 L604.0,1807.5 L604.9,1808.7 L605.9,1809.9 L606.9,1811.1 L607.9,1812.2 L608.9,1813.4 L610.0,1814.6 L611.1,1815.8 L612.2,1817.0 L613.3,1818.2 L614.3,1819.2 L615.3,1820.3 L616.3,1821.3 L617.3,1822.4 L618.4,1823.4 L619.5,1824.5 L620.6,1825.6 L621.7,1826.6 L622.8,1827.7 L623.9,1828.8 L625.0,1829.8 L626.1,1830.9 L627.2,1831.9 L628.3,1833.0 L629.4,1834.1 L630.5,1835.1 L631.6,1836.2 L632.8,1837.3 L633.9,1838.4 L635.0,1839.4 L636.2,1840.5 L637.3,1841.6 L638.5,1842.6 L639.6,1843.7 L640.7,1844.7 L641.8,1845.7 L642.9,1846.7 L644.0,1847.7 L645.2,1848.8 L646.4,1849.9 L647.6,1850.9 L648.7,1851.9 L649.9,1853.0 L651.0,1854.0 L652.2,1855.0 L653.3,1856.0 L654.5,1857.0 L655.7,1858.0 L657.0,1859.0 L658.2,1860.0 L659.4,1861.0 L660.7,1862.1 L662.0,1863.2 L663.3,1864.4 L664.7,1865.5 L666.0,1866.5 L667.3,1867.6 L668.6,1868.5 L669.8,1869.3 L671.0,1870.1 L672.2,1870.7 L673.3,1871.1 L675.3,1871.3 L677.0,1871.1 L678.8,1870.8 L680.7,1871.1 L681.8,1871.7 L683.0,1872.6 L684.1,1873.7 L685.4,1875.0 L686.6,1876.5 L687.9,1877.9 L689.1,1879.4 L690.4,1880.7 L691.6,1882.0 L692.9,1882.9 L694.1,1883.6 L695.3,1884.0 L696.7,1883.9 L698.1,1883.3 L699.4,1882.4 L700.8,1881.4 L702.1,1880.3 L703.5,1879.4 L704.9,1878.7 L706.3,1878.5 L707.7,1878.7 L709.3,1879.0 L710.9,1879.6 L712.5,1880.4 L714.1,1881.3 L715.6,1882.3 L717.0,1883.4 L718.1,1884.6 L719.1,1885.8 L719.8,1887.1 L720.2,1888.5 L720.5,1890.0 L720.7,1891.7 L720.8,1893.4 L720.8,1895.1 L720.8,1896.9 L720.8,1898.6 L720.9,1900.3 L721.0,1902.0" fill="none" stroke="#9dc3e6" stroke-width="6.2" stroke-linecap="round" stroke-linejoin="round"/>
<path d="M326.0,1902.2 L327.6,1902.2 L329.2,1902.1 L330.9,1902.1 L332.5,1902.1 L334.1,1902.1 L335.6,1902.0 L337.0,1901.9 L338.7,1901.8 L340.2,1901.7 L341.7,1901.6 L343.2,1901.3 L344.7,1900.9 L346.2,1900.3 L347.7,1899.7 L349.3,1898.8 L350.4,1898.1 L351.6,1897.3 L352.7,1896.4 L353.9,1895.5 L355.1,1894.5 L356.3,1893.4 L357.5,1892.2 L358.7,1891.0 L359.9,1889.8 L360.7,1888.8 L361.6,1887.7 L362.5,1886.6 L363.4,1885.4 L364.2,1884.2 L365.1,1882.9 L366.0,1881.7 L366.8,1880.3 L367.6,1879.0 L368.5,1877.6 L369.3,1876.3 L370.1,1874.8 L370.8,1873.4 L371.6,1872.0 L372.3,1870.6 L373.0,1869.3 L373.6,1868.0 L374.2,1866.6 L374.8,1865.3 L375.4,1863.9 L376.0,1862.5 L376.5,1861.1 L377.1,1859.7 L377.6,1858.3 L378.2,1856.9 L378.7,1855.4 L379.2,1853.9 L379.7,1852.4 L380.2,1850.9 L380.7,1849.4 L381.2,1847.9 L381.7,1846.4 L382.1,1844.9 L382.6,1843.3 L383.0,1842.0 L383.4,1840.6 L383.7,1839.2 L384.1,1837.8 L384.4,1836.4 L384.8,1835.0 L385.1,1833.5 L385.5,1832.1 L385.8,1830.6 L386.1,1829.2 L386.4,1827.7 L386.7,1826.2 L387.0,1824.8 L387.3,1823.3 L387.6,1821.8 L387.9,1820.3 L388.2,1818.8 L388.5,1817.3 L388.8,1815.7 L389.1,1814.2 L389.4,1812.7 L389.6,1811.2 L389.9,1809.6 L390.2,1808.1 L390.5,1806.6 L390.8,1805.2 L391.0,1803.7 L391.3,1802.2 L391.5,1800.7 L391.8,1799.2 L392.1,1797.7 L392.3,1796.2 L392.5,1794.7 L392.8,1793.2 L393.0,1791.7 L393.3,1790.1 L393.5,1788.6 L393.8,1787.1 L394.0,1785.5 L394.2,1784.0 L394.5,1782.5 L394.7,1780.9 L394.9,1779.4 L395.2,1777.8 L395.4,1776.3 L395.6,1774.7 L395.9,1773.2 L396.1,1771.6 L396.3,1770.1 L396.6,1768.6 L396.8,1767.0 L397.0,1765.5 L397.2,1764.0 L397.5,1762.5 L397.7,1761.0 L397.9,1759.5 L398.1,1758.0 L398.4,1756.5 L398.6,1755.0 L398.8,1753.5 L399.0,1752.0 L399.2,1750.5 L399.4,1749.0 L399.6,1747.5 L399.9,1746.0 L400.1,1744.5 L400.3,1743.0 L400.5,1741.5 L400.7,1740.0 L400.9,1738.5 L401.1,1737.0 L401.3,1735.5 L401.6,1734.0 L401.8,1732.5 L402.0,1731.1 L402.2,1729.6 L402.4,1728.1 L402.6,1726.6 L402.9,1725.1 L403.1,1723.6 L403.3,1722.1 L403.5,1720.6 L403.8,1719.1 L404.0,1717.6 L404.2,1716.0 L404.4,1714.5 L404.7,1713.0 L404.9,1711.5 L405.1,1710.0 L405.4,1708.5 L405.6,1707.0 L405.8,1705.4 L406.1,1703.9 L406.3,1702.4 L406.5,1700.9 L406.7,1699.4 L407.0,1697.9 L407.2,1696.4 L407.4,1694.9 L407.7,1693.4 L407.9,1691.9 L408.2,1690.4 L408.4,1688.9 L408.6,1687.4 L408.9,1685.9 L409.1,1684.4 L409.3,1682.9 L409.6,1681.4 L409.8,1679.9 L410.1,1678.4 L410.3,1676.9 L410.5,1675.4 L410.8,1673.9 L411.0,1672.4 L411.3,1671.0 L411.5,1669.5 L411.8,1668.0 L412.0,1666.5 L412.3,1665.1 L412.5,1663.6 L412.8,1662.1 L413.0,1660.6 L413.3,1659.2 L413.5,1657.7 L413.8,1656.2 L414.0,1654.7 L414.3,1653.3 L414.5,1651.8 L414.8,1650.3 L415.0,1648.8 L415.3,1647.3 L415.5,1645.8 L415.7,1644.4 L416.0,1642.9 L416.2,1641.4 L416.5,1639.9 L416.7,1638.4 L416.9,1636.9 L417.2,1635.5 L417.4,1634.0 L417.6,1632.5 L417.9,1631.0 L418.1,1629.6 L418.3,1628.1 L418.6,1626.6 L418.8,1625.2 L419.0,1623.7 L419.2,1622.2 L419.5,1620.7 L419.7,1619.3 L419.9,1617.8 L420.1,1616.3 L420.3,1614.8 L420.6,1613.3 L420.8,1611.8 L421.0,1610.4 L421.2,1608.9 L421.5,1607.4 L421.7,1605.9 L421.9,1604.4 L422.2,1602.9 L422.4,1601.3 L422.6,1599.8 L422.8,1598.3 L423.1,1596.8 L423.3,1595.2 L423.5,1593.8 L423.8,1592.3 L424.0,1590.8 L424.2,1589.3 L424.4,1587.8 L424.7,1586.3 L424.9,1584.8 L425.1,1583.2 L425.4,1581.7 L425.6,1580.2 L425.8,1578.6 L426.0,1577.1 L426.3,1575.6 L426.5,1574.0 L426.7,1572.5 L427.0,1570.9 L427.2,1569.4 L427.4,1567.9 L427.7,1566.3 L427.9,1564.8 L428.1,1563.2 L428.4,1561.7 L428.6,1560.2 L428.9,1558.6 L429.1,1557.1 L429.3,1555.6 L429.6,1554.1 L429.8,1552.6 L430.1,1551.1 L430.4,1549.6 L430.6,1548.1 L430.9,1546.6 L431.1,1545.1 L431.4,1543.5 L431.7,1542.0 L431.9,1540.5 L432.2,1538.9 L432.5,1537.4 L432.8,1535.8 L433.0,1534.3 L433.3,1532.7 L433.6,1531.2 L433.9,1529.6 L434.2,1528.1 L434.5,1526.6 L434.7,1525.0 L435.0,1523.5 L435.3,1522.0 L435.6,1520.5 L435.9,1519.0 L436.2,1517.5 L436.5,1516.0 L436.8,1514.6 L437.1,1513.1 L437.4,1511.7 L437.7,1510.3 L438.0,1508.9 L438.3,1507.5 L438.6,1506.1 L438.9,1504.8 L439.2,1503.4 L439.5,1502.1 L439.9,1500.4 L440.3,1498.7 L440.7,1497.0 L441.1,1495.4 L441.5,1493.7 L441.9,1492.1 L442.2,1490.4 L442.6,1488.8 L443.0,1487.3 L443.5,1485.7 L443.9,1484.2 L444.3,1482.8 L444.7,1481.3 L445.2,1479.9 L445.6,1478.6 L446.1,1477.3 L446.5,1476.0 L447.0,1474.8 L447.7,1473.1 L448.4,1471.5 L449.1,1470.0 L449.9,1468.6 L450.6,1467.3 L451.4,1466.0 L452.3,1464.8 L453.1,1463.6 L454.1,1462.6 L455.4,1461.2 L456.8,1459.9 L458.4,1458.6 L459.9,1457.6 L461.4,1457.0 L462.8,1456.8 L464.3,1457.2 L465.7,1458.1 L467.1,1459.4 L468.5,1460.9 L469.7,1462.4 L470.6,1463.5 L471.5,1464.6 L472.3,1465.9 L473.1,1467.2 L473.9,1468.5 L474.7,1469.9 L475.4,1471.3 L476.2,1472.8 L476.8,1474.0 L477.4,1475.3 L478.0,1476.7 L478.6,1478.0 L479.2,1479.4 L479.7,1480.8 L480.3,1482.3 L480.9,1483.7 L481.4,1485.2 L482.0,1486.7 L482.5,1488.2 L483.0,1489.5 L483.6,1490.9 L484.1,1492.4 L484.6,1493.8 L485.1,1495.3 L485.6,1496.7 L486.1,1498.2 L486.6,1499.7 L487.1,1501.2 L487.6,1502.7 L488.0,1504.2 L488.5,1505.7 L489.0,1507.2 L489.5,1508.7 L489.9,1510.2 L490.3,1511.6 L490.8,1513.2 L491.2,1514.7 L491.6,1516.2 L492.0,1517.7 L492.5,1519.2 L492.9,1520.8 L493.3,1522.3 L493.8,1523.8 L494.2,1525.3 L494.7,1526.8 L495.1,1528.3 L495.6,1529.8 L496.1,1531.3 L496.6,1532.8 L497.1,1534.3 L497.6,1535.9 L498.1,1537.4 L498.6,1538.9 L499.1,1540.4 L499.6,1541.8 L500.2,1543.3 L500.8,1544.7 L501.4,1546.2 L502.0,1547.5 L502.7,1549.0 L503.5,1550.4 L504.2,1551.8 L505.0,1553.2 L505.8,1554.5 L506.6,1555.9 L507.4,1557.2 L508.3,1558.5 L509.1,1559.8 L510.0,1561.1 L510.9,1562.4 L511.8,1563.7 L512.7,1565.0 L513.7,1566.2 L514.7,1567.5 L515.7,1568.7 L516.7,1570.0 L517.8,1571.2 L518.8,1572.4 L519.8,1573.6 L520.8,1574.8 L521.7,1575.9 L522.7,1577.1 L523.7,1578.5 L524.8,1579.8 L525.8,1581.1 L526.8,1582.4 L527.7,1583.7 L528.7,1585.0 L529.5,1586.4 L530.4,1587.9 L531.0,1589.2 L531.6,1590.4 L532.1,1591.8 L532.6,1593.1 L533.1,1594.5 L533.5,1595.9 L534.0,1597.3 L534.4,1598.8 L534.9,1600.4 L535.4,1602.0 L535.9,1603.6 L536.3,1604.8 L536.7,1606.1 L537.1,1607.3 L537.5,1608.6 L537.9,1610.0 L538.3,1611.3 L538.8,1612.7 L539.2,1614.1 L539.6,1615.6 L540.0,1617.0 L540.5,1618.5 L540.9,1620.0 L541.4,1621.5 L541.8,1623.0 L542.3,1624.5 L542.7,1626.0 L543.2,1627.6 L543.7,1629.1 L544.2,1630.7 L544.7,1632.3 L545.2,1633.8 L545.7,1635.4 L546.1,1636.7 L546.6,1638.1 L547.0,1639.4 L547.5,1640.8 L548.0,1642.2 L548.5,1643.6 L548.9,1645.1 L549.4,1646.5 L549.9,1647.9 L550.4,1649.4 L550.9,1650.8 L551.4,1652.3 L552.0,1653.8 L552.5,1655.3 L553.0,1656.8 L553.5,1658.2 L554.0,1659.7 L554.6,1661.2 L555.1,1662.7 L555.6,1664.2 L556.2,1665.7 L556.7,1667.2 L557.2,1668.7 L557.8,1670.1 L558.3,1671.6 L558.8,1673.1 L559.3,1674.6 L559.9,1676.0 L560.4,1677.5 L560.9,1678.9 L561.4,1680.3 L562.0,1681.8 L562.5,1683.3 L563.1,1684.8 L563.6,1686.3 L564.2,1687.8 L564.7,1689.3 L565.3,1690.8 L565.8,1692.3 L566.4,1693.7 L567.0,1695.2 L567.5,1696.7 L568.1,1698.2 L568.6,1699.7 L569.2,1701.2 L569.8,1702.7 L570.3,1704.2 L570.9,1705.6 L571.4,1707.1 L572.0,1708.5 L572.5,1709.9 L573.1,1711.4 L573.6,1712.8 L574.2,1714.2 L574.7,1715.5 L575.2,1716.9 L575.8,1718.3 L576.3,1719.6 L576.8,1720.9 L577.3,1722.2 L577.9,1723.8 L578.5,1725.4 L579.1,1726.9 L579.7,1728.5 L580.3,1730.0 L580.9,1731.5 L581.5,1733.0 L582.1,1734.5 L582.7,1735.9 L583.2,1737.4 L583.8,1738.8 L584.4,1740.2 L584.9,1741.6 L585.5,1742.9 L586.0,1744.3 L586.6,1745.6 L587.2,1746.9 L587.7,1748.1 L588.3,1749.4 L589.0,1751.0 L589.7,1752.6 L590.5,1754.1 L591.2,1755.6 L591.9,1757.0 L592.6,1758.4 L593.3,1759.8 L594.0,1761.2 L594.8,1762.6 L595.5,1764.0 L596.3,1765.4 L597.0,1766.8 L597.8,1768.2 L598.6,1769.6 L599.4,1771.0 L600.2,1772.4 L601.0,1773.8 L601.8,1775.2 L602.6,1776.6 L603.4,1778.0 L604.3,1779.5 L605.1,1780.9 L605.8,1782.2 L606.6,1783.5 L607.3,1784.8 L608.1,1786.1 L608.8,1787.4 L609.6,1788.7 L610.4,1790.1 L611.1,1791.4 L611.9,1792.7 L612.7,1794.0 L613.5,1795.4 L614.3,1796.7 L615.1,1798.0 L615.9,1799.3 L616.8,1800.6 L617.6,1801.9 L618.4,1803.2 L619.3,1804.5 L620.2,1805.7 L621.0,1807.0 L621.9,1808.3 L622.8,1809.6 L623.7,1810.9 L624.6,1812.1 L625.5,1813.4 L626.4,1814.6 L627.4,1815.8 L628.3,1817.1 L629.3,1818.3 L630.3,1819.6 L631.3,1820.8 L632.3,1822.1 L633.3,1823.3 L634.3,1824.5 L635.4,1825.7 L636.4,1827.0 L637.4,1828.2 L638.5,1829.3 L639.5,1830.5 L640.6,1831.7 L641.6,1832.9 L642.6,1834.1 L643.7,1835.4 L644.7,1836.7 L645.8,1838.1 L646.8,1839.5 L647.9,1840.8 L648.9,1842.1 L650.0,1843.4 L651.0,1844.5 L652.0,1845.5 L653.0,1846.3 L654.0,1846.9 L655.0,1847.3 L656.5,1847.3 L658.0,1846.8 L659.4,1846.0 L660.8,1845.5 L662.3,1845.5 L663.3,1846.0 L664.3,1846.9 L665.3,1848.2 L666.3,1849.6 L667.3,1851.1 L668.3,1852.7 L669.3,1854.2 L670.3,1855.6 L671.3,1856.8 L672.3,1857.8 L673.3,1858.3 L674.8,1858.3 L676.3,1857.7 L677.7,1857.0 L679.2,1856.4 L680.7,1856.5 L681.6,1857.1 L682.5,1858.0 L683.4,1859.2 L684.3,1860.7 L685.2,1862.3 L686.1,1864.1 L687.0,1865.9 L687.9,1867.7 L688.8,1869.5 L689.7,1871.1 L690.6,1872.5 L691.6,1873.6 L692.5,1874.4 L693.5,1874.8 L694.8,1874.7 L696.2,1873.9 L697.5,1872.7 L698.9,1871.3 L700.3,1869.9 L701.7,1868.6 L703.1,1867.8 L704.5,1867.5 L705.7,1867.7 L706.9,1868.3 L708.1,1869.1 L709.3,1870.1 L710.5,1871.2 L711.7,1872.5 L712.9,1873.8 L714.1,1875.1 L715.2,1876.3 L716.3,1877.5 L717.3,1878.5 L718.7,1879.8 L719.9,1881.0 L721.1,1882.2 L722.3,1883.4 L723.4,1884.6 L724.6,1885.8" fill="none" stroke="#0070c0" stroke-width="6.2" stroke-linecap="round" stroke-linejoin="round"/>
<path d="M330.9,1902.2 L332.6,1902.2 L334.3,1902.1 L336.0,1902.1 L337.7,1902.1 L339.3,1902.1 L340.9,1902.0 L342.5,1901.9 L344.4,1901.8 L346.3,1901.7 L348.1,1901.6 L349.9,1901.3 L351.4,1901.0 L352.9,1900.6 L354.4,1900.1 L355.9,1899.5 L357.4,1898.8 L358.6,1898.1 L359.8,1897.3 L361.0,1896.5 L362.2,1895.5 L363.4,1894.5 L364.7,1893.4 L365.9,1892.3 L367.0,1891.0 L368.2,1889.8 L369.1,1888.7 L370.0,1887.5 L370.8,1886.3 L371.7,1885.1 L372.6,1883.7 L373.4,1882.4 L374.3,1881.0 L375.1,1879.6 L375.9,1878.1 L376.7,1876.6 L377.5,1875.1 L378.3,1873.6 L379.0,1872.1 L379.7,1870.6 L380.3,1869.3 L380.9,1868.0 L381.4,1866.6 L382.0,1865.3 L382.5,1863.9 L383.0,1862.5 L383.5,1861.1 L384.0,1859.7 L384.5,1858.3 L385.0,1856.8 L385.5,1855.4 L385.9,1853.9 L386.4,1852.4 L386.8,1850.9 L387.3,1849.4 L387.7,1847.9 L388.2,1846.4 L388.6,1844.9 L389.0,1843.3 L389.4,1841.9 L389.7,1840.6 L390.1,1839.2 L390.5,1837.8 L390.8,1836.4 L391.1,1834.9 L391.5,1833.5 L391.8,1832.1 L392.1,1830.6 L392.4,1829.2 L392.7,1827.7 L393.0,1826.2 L393.3,1824.7 L393.6,1823.3 L393.9,1821.8 L394.2,1820.3 L394.5,1818.8 L394.8,1817.2 L395.1,1815.7 L395.4,1814.2 L395.6,1812.7 L395.9,1811.1 L396.2,1809.6 L396.5,1808.1 L396.8,1806.6 L397.1,1805.2 L397.3,1803.7 L397.6,1802.2 L397.9,1800.7 L398.1,1799.2 L398.4,1797.7 L398.6,1796.2 L398.9,1794.7 L399.1,1793.2 L399.4,1791.7 L399.7,1790.1 L399.9,1788.6 L400.2,1787.1 L400.4,1785.5 L400.7,1784.0 L400.9,1782.5 L401.1,1780.9 L401.4,1779.4 L401.6,1777.8 L401.9,1776.3 L402.1,1774.7 L402.4,1773.2 L402.6,1771.6 L402.8,1770.1 L403.1,1768.6 L403.3,1767.0 L403.6,1765.5 L403.8,1764.0 L404.0,1762.5 L404.2,1761.0 L404.5,1759.5 L404.7,1758.0 L404.9,1756.5 L405.1,1755.0 L405.4,1753.5 L405.6,1752.0 L405.8,1750.5 L406.0,1749.0 L406.2,1747.5 L406.4,1746.0 L406.6,1744.5 L406.9,1743.0 L407.1,1741.5 L407.3,1740.0 L407.5,1738.5 L407.7,1737.0 L407.9,1735.5 L408.1,1734.0 L408.4,1732.5 L408.6,1731.1 L408.8,1729.6 L409.0,1728.1 L409.2,1726.6 L409.4,1725.1 L409.7,1723.6 L409.9,1722.1 L410.1,1720.6 L410.3,1719.1 L410.6,1717.6 L410.8,1716.0 L411.0,1714.5 L411.2,1713.0 L411.5,1711.5 L411.7,1710.0 L411.9,1708.5 L412.1,1707.0 L412.4,1705.4 L412.6,1703.9 L412.8,1702.4 L413.1,1700.9 L413.3,1699.4 L413.5,1697.9 L413.8,1696.4 L414.0,1694.9 L414.2,1693.4 L414.5,1691.9 L414.7,1690.4 L414.9,1688.9 L415.2,1687.4 L415.4,1685.9 L415.6,1684.4 L415.9,1682.9 L416.1,1681.4 L416.4,1679.9 L416.6,1678.4 L416.8,1676.9 L417.1,1675.4 L417.3,1673.9 L417.6,1672.4 L417.8,1671.0 L418.1,1669.5 L418.3,1668.0 L418.6,1666.5 L418.8,1665.1 L419.1,1663.6 L419.3,1662.1 L419.6,1660.6 L419.8,1659.2 L420.1,1657.7 L420.3,1656.2 L420.6,1654.7 L420.9,1653.3 L421.1,1651.8 L421.4,1650.3 L421.6,1648.8 L421.9,1647.3 L422.1,1645.8 L422.4,1644.4 L422.6,1642.9 L422.9,1641.4 L423.1,1639.9 L423.3,1638.4 L423.6,1636.9 L423.8,1635.5 L424.1,1634.0 L424.3,1632.5 L424.5,1631.0 L424.7,1629.6 L425.0,1628.1 L425.2,1626.6 L425.4,1625.2 L425.7,1623.7 L425.9,1622.2 L426.1,1620.7 L426.4,1619.3 L426.6,1617.8 L426.8,1616.3 L427.0,1614.8 L427.3,1613.3 L427.5,1611.8 L427.7,1610.4 L427.9,1608.9 L428.2,1607.4 L428.4,1605.9 L428.6,1604.4 L428.9,1602.9 L429.1,1601.3 L429.4,1599.8 L429.6,1598.3 L429.8,1596.8 L430.1,1595.2 L430.3,1593.8 L430.5,1592.3 L430.8,1590.8 L431.0,1589.3 L431.2,1587.8 L431.5,1586.3 L431.7,1584.8 L432.0,1583.2 L432.2,1581.7 L432.4,1580.2 L432.7,1578.6 L432.9,1577.1 L433.1,1575.6 L433.4,1574.0 L433.6,1572.5 L433.9,1570.9 L434.1,1569.4 L434.4,1567.9 L434.6,1566.3 L434.8,1564.8 L435.1,1563.2 L435.3,1561.7 L435.6,1560.2 L435.9,1558.6 L436.1,1557.1 L436.4,1555.6 L436.6,1554.1 L436.9,1552.6 L437.1,1551.1 L437.4,1549.6 L437.7,1548.1 L437.9,1546.6 L438.2,1545.1 L438.5,1543.5 L438.8,1542.0 L439.1,1540.5 L439.4,1538.9 L439.6,1537.4 L439.9,1535.8 L440.2,1534.3 L440.5,1532.7 L440.8,1531.2 L441.1,1529.6 L441.4,1528.1 L441.7,1526.6 L442.0,1525.0 L442.3,1523.5 L442.6,1522.0 L442.9,1520.5 L443.2,1519.0 L443.5,1517.5 L443.9,1516.0 L444.2,1514.6 L444.5,1513.1 L444.8,1511.7 L445.1,1510.3 L445.4,1508.9 L445.7,1507.5 L446.0,1506.1 L446.3,1504.8 L446.6,1503.4 L446.9,1502.1 L447.3,1500.4 L447.8,1498.7 L448.1,1497.0 L448.5,1495.4 L448.9,1493.7 L449.3,1492.1 L449.7,1490.4 L450.1,1488.8 L450.5,1487.3 L450.9,1485.7 L451.4,1484.2 L451.8,1482.8 L452.2,1481.3 L452.6,1479.9 L453.1,1478.6 L453.5,1477.2 L454.0,1476.0 L454.4,1474.8 L455.1,1473.1 L455.7,1471.6 L456.3,1470.1 L457.0,1468.6 L457.7,1467.3 L458.4,1466.0 L459.1,1464.8 L459.9,1463.7 L460.7,1462.6 L461.8,1461.3 L463.1,1460.0 L464.3,1458.8 L465.6,1457.9 L466.8,1457.2 L468.0,1457.0 L469.4,1457.5 L470.8,1458.7 L472.1,1460.3 L473.4,1461.8 L474.3,1463.0 L475.2,1464.2 L476.0,1465.5 L476.8,1466.9 L477.7,1468.3 L478.5,1469.9 L479.1,1471.1 L479.8,1472.4 L480.4,1473.7 L481.1,1475.1 L481.7,1476.5 L482.3,1478.0 L483.0,1479.4 L483.6,1480.9 L484.3,1482.4 L485.0,1483.9 L485.6,1485.3 L486.2,1486.7 L486.8,1488.1 L487.4,1489.6 L488.1,1491.1 L488.7,1492.6 L489.3,1494.0 L490.0,1495.5 L490.7,1497.0 L491.3,1498.5 L492.0,1500.0 L492.7,1501.4 L493.4,1502.9 L494.1,1504.3 L494.8,1505.7 L495.5,1507.1 L496.3,1508.5 L497.0,1509.9 L497.7,1511.3 L498.5,1512.7 L499.2,1514.1 L500.0,1515.4 L500.8,1516.7 L501.6,1518.0 L502.4,1519.2 L503.2,1520.4 L504.2,1521.8 L505.2,1523.0 L506.2,1524.3 L507.3,1525.5 L508.3,1526.6 L509.4,1527.8 L510.4,1528.9 L511.5,1529.9 L512.5,1531.0 L513.6,1532.0 L514.9,1533.2 L516.2,1534.3 L517.6,1535.3 L518.9,1536.3 L520.2,1537.4 L521.5,1538.4 L522.7,1539.6 L523.8,1540.7 L524.9,1541.9 L526.0,1543.2 L527.0,1544.4 L528.0,1545.7 L529.0,1547.1 L529.9,1548.5 L530.7,1549.8 L531.5,1551.2 L532.2,1552.6 L532.9,1554.1 L533.6,1555.6 L534.3,1557.2 L535.0,1558.7 L535.6,1560.3 L536.3,1561.8 L536.9,1563.3 L537.5,1564.8 L538.1,1566.3 L538.7,1567.8 L539.3,1569.4 L539.9,1570.9 L540.5,1572.5 L541.0,1574.0 L541.6,1575.5 L542.1,1576.9 L542.7,1578.5 L543.2,1580.0 L543.8,1581.5 L544.3,1583.0 L544.8,1584.5 L545.3,1586.0 L545.9,1587.6 L546.4,1589.2 L546.8,1590.6 L547.2,1592.0 L547.6,1593.4 L548.0,1594.9 L548.4,1596.3 L548.7,1597.8 L549.1,1599.3 L549.6,1600.9 L550.0,1602.6 L550.5,1604.3 L550.8,1605.6 L551.2,1606.9 L551.6,1608.2 L551.9,1609.5 L552.3,1610.9 L552.7,1612.3 L553.1,1613.7 L553.5,1615.1 L553.9,1616.6 L554.3,1618.1 L554.7,1619.6 L555.2,1621.1 L555.6,1622.7 L556.1,1624.2 L556.5,1625.8 L557.0,1627.4 L557.5,1628.9 L557.9,1630.5 L558.4,1632.1 L558.9,1633.7 L559.4,1635.3 L559.8,1636.7 L560.3,1638.0 L560.7,1639.4 L561.2,1640.8 L561.6,1642.1 L562.1,1643.5 L562.5,1645.0 L563.0,1646.4 L563.5,1647.8 L564.0,1649.3 L564.4,1650.7 L564.9,1652.2 L565.4,1653.7 L565.9,1655.2 L566.4,1656.6 L567.0,1658.1 L567.5,1659.6 L568.0,1661.1 L568.5,1662.6 L569.0,1664.1 L569.5,1665.6 L570.1,1667.0 L570.6,1668.5 L571.1,1670.0 L571.6,1671.5 L572.1,1673.0 L572.6,1674.4 L573.2,1675.9 L573.7,1677.3 L574.2,1678.7 L574.7,1680.2 L575.2,1681.6 L575.8,1683.1 L576.3,1684.6 L576.8,1686.1 L577.4,1687.5 L577.9,1689.0 L578.5,1690.5 L579.0,1692.0 L579.6,1693.5 L580.1,1695.0 L580.7,1696.5 L581.3,1697.9 L581.8,1699.4 L582.4,1700.9 L582.9,1702.4 L583.5,1703.8 L584.0,1705.3 L584.6,1706.7 L585.1,1708.1 L585.7,1709.6 L586.2,1711.0 L586.8,1712.4 L587.3,1713.8 L587.9,1715.2 L588.4,1716.5 L588.9,1717.9 L589.4,1719.2 L590.0,1720.5 L590.5,1721.8 L591.1,1723.4 L591.7,1724.9 L592.3,1726.4 L592.9,1727.9 L593.5,1729.4 L594.1,1730.9 L594.6,1732.3 L595.2,1733.8 L595.8,1735.2 L596.4,1736.6 L596.9,1738.0 L597.5,1739.4 L598.1,1740.8 L598.7,1742.1 L599.2,1743.5 L599.8,1744.8 L600.4,1746.2 L600.9,1747.5 L601.5,1748.8 L602.1,1750.1 L602.8,1751.6 L603.5,1753.1 L604.2,1754.6 L604.8,1756.1 L605.5,1757.6 L606.2,1759.0 L606.9,1760.4 L607.6,1761.8 L608.3,1763.2 L609.0,1764.6 L609.7,1766.0 L610.4,1767.4 L611.1,1768.8 L611.8,1770.2 L612.6,1771.6 L613.3,1773.0 L614.0,1774.5 L614.8,1775.9 L615.5,1777.3 L616.3,1778.7 L617.0,1780.1 L617.8,1781.5 L618.5,1782.9 L619.3,1784.3 L620.1,1785.6 L620.8,1787.0 L621.6,1788.3 L622.4,1789.6 L623.2,1791.1 L624.1,1792.5 L624.9,1793.9 L625.8,1795.3 L626.7,1796.7 L627.5,1798.1 L628.4,1799.5 L629.3,1800.8 L630.1,1802.1 L631.0,1803.4 L631.9,1804.6 L632.8,1805.8 L633.8,1807.1 L634.8,1808.3 L635.9,1809.4 L636.9,1810.4 L638.0,1811.5 L639.1,1812.6 L640.1,1813.7 L641.2,1814.8 L642.2,1816.1 L643.1,1817.3 L643.9,1818.6 L644.7,1820.1 L645.6,1821.6 L646.4,1823.2 L647.2,1824.8 L648.1,1826.3 L648.9,1827.8 L649.7,1829.1 L650.6,1830.3 L651.5,1831.3 L652.3,1832.1 L653.2,1832.6 L654.6,1832.7 L656.1,1832.1 L657.6,1831.2 L659.1,1830.7 L660.5,1830.8 L661.2,1831.3 L662.0,1832.1 L662.7,1833.2 L663.4,1834.4 L664.1,1835.9 L664.8,1837.5 L665.5,1839.3 L666.2,1841.1 L666.9,1842.9 L667.6,1844.7 L668.3,1846.5 L669.0,1848.2 L669.7,1849.8 L670.4,1851.3 L671.1,1852.5 L671.9,1853.5 L672.6,1854.2 L673.3,1854.6 L674.8,1854.5 L676.2,1853.5 L677.7,1852.2 L679.2,1851.2 L680.7,1851.0 L681.6,1851.4 L682.5,1852.2 L683.4,1853.3 L684.2,1854.7 L685.1,1856.2 L686.1,1857.9 L687.0,1859.6 L687.9,1861.3 L688.8,1863.0 L689.7,1864.5 L690.7,1865.8 L691.6,1866.9 L692.6,1867.6 L693.5,1868.0 L694.7,1867.9 L695.9,1867.2 L697.1,1866.1 L698.3,1864.8 L699.6,1863.4 L700.8,1862.1 L702.0,1861.0 L703.3,1860.2 L704.5,1860.0 L705.7,1860.3 L706.9,1860.8 L708.2,1861.7 L709.4,1862.8 L710.7,1864.0 L712.0,1865.4 L713.2,1866.8 L714.3,1868.2 L715.4,1869.6 L716.4,1870.9 L717.3,1872.0 L718.3,1873.4 L719.2,1874.7 L719.9,1876.0 L720.6,1877.4 L721.3,1878.7 L722.0,1880.0" fill="none" stroke="#203864" stroke-width="6.7" stroke-linecap="round" stroke-linejoin="round"/>
<path d="M326.0,1902.2 L327.5,1902.2 L329.1,1902.2 L330.6,1902.2 L332.2,1902.2 L333.7,1902.2 L335.3,1902.2 L336.8,1902.2 L338.4,1902.2 L339.9,1902.2 L341.4,1902.1 L342.9,1902.1 L344.4,1902.0 L346.0,1901.9 L347.6,1901.8 L349.3,1901.7 L350.9,1901.6 L352.5,1901.5 L354.1,1901.4 L355.6,1901.1 L357.2,1900.8 L358.7,1900.5 L360.1,1900.0 L361.5,1899.4 L362.8,1898.8 L364.2,1898.2 L365.5,1897.5 L366.8,1896.7 L368.0,1895.9 L369.3,1895.0 L370.5,1894.0 L371.7,1893.0 L372.8,1891.9 L374.0,1890.8 L374.9,1889.8 L375.9,1888.7 L376.8,1887.5 L377.6,1886.3 L378.5,1885.1 L379.3,1883.8 L380.2,1882.4 L381.0,1881.0 L381.7,1879.6 L382.5,1878.2 L383.3,1876.8 L384.0,1875.3 L384.7,1873.8 L385.4,1872.4 L386.1,1870.9 L386.7,1869.6 L387.3,1868.2 L387.9,1866.9 L388.4,1865.5 L388.9,1864.1 L389.5,1862.7 L390.0,1861.3 L390.5,1859.8 L391.0,1858.4 L391.4,1856.9 L391.9,1855.4 L392.4,1853.9 L392.8,1852.4 L393.3,1850.9 L393.7,1849.4 L394.1,1847.9 L394.6,1846.3 L395.0,1844.8 L395.4,1843.2 L395.8,1841.8 L396.2,1840.4 L396.5,1838.9 L396.9,1837.4 L397.2,1836.0 L397.5,1834.5 L397.9,1833.0 L398.2,1831.5 L398.5,1830.0 L398.8,1828.5 L399.1,1826.9 L399.4,1825.4 L399.7,1823.8 L400.0,1822.3 L400.3,1820.7 L400.6,1819.2 L400.9,1817.6 L401.2,1816.0 L401.5,1814.4 L401.8,1812.8 L402.1,1811.2 L402.3,1809.6 L402.6,1808.0 L402.9,1806.6 L403.1,1805.1 L403.4,1803.7 L403.6,1802.2 L403.9,1800.7 L404.1,1799.2 L404.4,1797.7 L404.6,1796.2 L404.8,1794.7 L405.1,1793.2 L405.3,1791.7 L405.5,1790.1 L405.7,1788.6 L406.0,1787.1 L406.2,1785.5 L406.4,1784.0 L406.6,1782.4 L406.9,1780.9 L407.1,1779.4 L407.3,1777.8 L407.5,1776.3 L407.8,1774.7 L408.0,1773.2 L408.2,1771.6 L408.4,1770.1 L408.6,1768.6 L408.9,1767.0 L409.1,1765.5 L409.3,1764.0 L409.5,1762.5 L409.8,1761.0 L410.0,1759.5 L410.2,1758.0 L410.4,1756.5 L410.6,1755.0 L410.9,1753.5 L411.1,1752.0 L411.3,1750.5 L411.5,1749.0 L411.7,1747.5 L411.9,1746.0 L412.2,1744.5 L412.4,1743.0 L412.6,1741.5 L412.8,1740.0 L413.0,1738.5 L413.2,1737.0 L413.5,1735.5 L413.7,1734.0 L413.9,1732.5 L414.1,1731.1 L414.4,1729.6 L414.6,1728.1 L414.8,1726.6 L415.0,1725.1 L415.3,1723.6 L415.5,1722.1 L415.7,1720.6 L416.0,1719.1 L416.2,1717.6 L416.5,1716.0 L416.7,1714.5 L417.0,1713.0 L417.2,1711.5 L417.5,1710.0 L417.7,1708.5 L418.0,1707.0 L418.2,1705.4 L418.5,1703.9 L418.8,1702.4 L419.0,1700.9 L419.3,1699.4 L419.5,1697.9 L419.8,1696.4 L420.1,1694.9 L420.3,1693.4 L420.6,1691.9 L420.8,1690.4 L421.1,1688.9 L421.3,1687.4 L421.6,1685.9 L421.9,1684.4 L422.1,1682.9 L422.4,1681.4 L422.6,1679.9 L422.9,1678.4 L423.1,1676.9 L423.4,1675.4 L423.6,1673.9 L423.9,1672.4 L424.1,1671.0 L424.4,1669.5 L424.6,1668.0 L424.9,1666.5 L425.1,1665.1 L425.4,1663.6 L425.6,1662.1 L425.9,1660.6 L426.1,1659.2 L426.4,1657.7 L426.6,1656.2 L426.9,1654.7 L427.1,1653.3 L427.4,1651.8 L427.6,1650.3 L427.8,1648.8 L428.1,1647.3 L428.3,1645.8 L428.6,1644.4 L428.8,1642.9 L429.1,1641.4 L429.3,1639.9 L429.5,1638.4 L429.8,1636.9 L430.0,1635.5 L430.2,1634.0 L430.4,1632.5 L430.6,1631.0 L430.9,1629.6 L431.1,1628.1 L431.3,1626.6 L431.5,1625.2 L431.7,1623.7 L431.9,1622.2 L432.1,1620.7 L432.4,1619.3 L432.6,1617.8 L432.8,1616.3 L433.0,1614.8 L433.2,1613.3 L433.4,1611.8 L433.6,1610.4 L433.8,1608.9 L434.0,1607.4 L434.3,1605.9 L434.5,1604.4 L434.7,1602.8 L434.9,1601.3 L435.2,1599.8 L435.4,1598.3 L435.6,1596.8 L435.9,1595.2 L436.1,1593.8 L436.3,1592.3 L436.6,1590.8 L436.8,1589.3 L437.0,1587.8 L437.3,1586.3 L437.5,1584.7 L437.7,1583.2 L438.0,1581.7 L438.2,1580.2 L438.4,1578.6 L438.7,1577.1 L438.9,1575.6 L439.2,1574.0 L439.4,1572.5 L439.7,1570.9 L439.9,1569.4 L440.2,1567.9 L440.4,1566.3 L440.7,1564.8 L440.9,1563.2 L441.2,1561.7 L441.4,1560.2 L441.7,1558.6 L442.0,1557.1 L442.2,1555.6 L442.5,1554.1 L442.8,1552.6 L443.0,1551.1 L443.3,1549.6 L443.6,1548.1 L443.9,1546.6 L444.1,1545.1 L444.4,1543.5 L444.7,1542.0 L445.0,1540.5 L445.3,1538.9 L445.6,1537.4 L445.9,1535.8 L446.2,1534.3 L446.6,1532.7 L446.9,1531.2 L447.2,1529.6 L447.5,1528.1 L447.8,1526.6 L448.1,1525.0 L448.5,1523.5 L448.8,1522.0 L449.1,1520.5 L449.4,1519.0 L449.7,1517.5 L450.1,1516.0 L450.4,1514.6 L450.7,1513.1 L451.0,1511.7 L451.4,1510.3 L451.7,1508.9 L452.0,1507.5 L452.3,1506.1 L452.7,1504.8 L453.0,1503.4 L453.3,1502.1 L453.7,1500.4 L454.1,1498.7 L454.6,1497.0 L455.0,1495.4 L455.4,1493.7 L455.8,1492.1 L456.2,1490.5 L456.6,1488.9 L457.1,1487.3 L457.5,1485.8 L457.9,1484.3 L458.3,1482.8 L458.7,1481.3 L459.2,1479.9 L459.6,1478.6 L460.1,1477.3 L460.5,1476.0 L461.0,1474.8 L461.6,1473.1 L462.2,1471.6 L462.8,1470.1 L463.4,1468.7 L464.1,1467.3 L464.7,1466.0 L465.4,1464.8 L466.1,1463.6 L466.9,1462.6 L468.2,1461.0 L469.5,1459.5 L470.9,1458.1 L472.2,1457.2 L473.6,1456.8 L475.1,1457.2 L476.6,1458.3 L478.1,1459.7 L479.5,1461.1 L480.8,1462.2 L482.0,1463.3 L483.2,1464.6 L484.4,1465.8 L485.6,1467.2 L486.6,1468.5 L487.5,1469.8 L488.4,1471.1 L489.3,1472.5 L490.2,1474.0 L491.1,1475.4 L492.0,1476.9 L492.7,1478.3 L493.5,1479.6 L494.2,1481.0 L494.9,1482.4 L495.6,1483.9 L496.4,1485.3 L497.2,1486.7 L498.0,1488.1 L498.8,1489.4 L499.7,1490.7 L500.6,1492.0 L501.5,1493.2 L502.4,1494.5 L503.4,1495.7 L504.4,1496.9 L505.4,1498.1 L506.5,1499.2 L507.6,1500.2 L508.8,1501.2 L510.0,1502.1 L511.3,1503.0 L512.7,1503.8 L514.0,1504.6 L515.4,1505.4 L516.7,1506.2 L518.0,1506.9 L519.4,1507.7 L520.8,1508.4 L522.2,1509.1 L523.5,1509.8 L524.9,1510.5 L526.1,1511.3 L527.3,1512.1 L528.6,1513.2 L529.8,1514.2 L530.9,1515.4 L532.0,1516.6 L533.0,1517.9 L533.9,1519.2 L534.7,1520.6 L535.5,1522.0 L536.2,1523.5 L536.8,1525.0 L537.4,1526.6 L538.0,1528.2 L538.7,1529.8 L539.2,1531.1 L539.7,1532.5 L540.2,1533.9 L540.7,1535.3 L541.1,1536.7 L541.6,1538.1 L542.1,1539.6 L542.6,1541.1 L543.1,1542.5 L543.6,1544.0 L544.1,1545.5 L544.6,1547.0 L545.2,1548.4 L545.7,1549.9 L546.2,1551.4 L546.8,1553.0 L547.3,1554.5 L547.8,1556.0 L548.4,1557.5 L548.9,1559.1 L549.4,1560.6 L549.9,1562.1 L550.4,1563.5 L550.8,1565.0 L551.3,1566.4 L551.7,1567.9 L552.2,1569.3 L552.7,1570.8 L553.1,1572.3 L553.6,1573.8 L554.0,1575.3 L554.4,1576.8 L554.9,1578.4 L555.3,1579.8 L555.7,1581.3 L556.0,1582.7 L556.4,1584.2 L556.8,1585.7 L557.1,1587.2 L557.5,1588.7 L557.9,1590.2 L558.2,1591.7 L558.6,1593.3 L559.0,1594.8 L559.4,1596.4 L559.8,1598.1 L560.3,1599.7 L560.7,1601.4 L561.0,1602.7 L561.4,1604.0 L561.8,1605.3 L562.1,1606.7 L562.5,1608.1 L562.9,1609.5 L563.3,1610.9 L563.7,1612.3 L564.0,1613.7 L564.4,1615.1 L564.8,1616.6 L565.3,1618.0 L565.7,1619.5 L566.1,1621.0 L566.5,1622.4 L566.9,1623.9 L567.4,1625.4 L567.8,1626.9 L568.3,1628.4 L568.7,1629.9 L569.2,1631.5 L569.7,1633.0 L570.1,1634.5 L570.6,1636.0 L571.1,1637.4 L571.5,1638.8 L571.9,1640.2 L572.4,1641.6 L572.9,1643.0 L573.3,1644.4 L573.8,1645.8 L574.3,1647.2 L574.8,1648.7 L575.3,1650.1 L575.8,1651.6 L576.3,1653.0 L576.8,1654.5 L577.3,1656.0 L577.8,1657.4 L578.3,1658.9 L578.8,1660.4 L579.4,1661.9 L579.9,1663.3 L580.4,1664.8 L580.9,1666.3 L581.4,1667.7 L582.0,1669.2 L582.5,1670.7 L583.0,1672.1 L583.6,1673.6 L584.1,1675.0 L584.6,1676.5 L585.1,1677.9 L585.6,1679.3 L586.2,1680.7 L586.7,1682.2 L587.2,1683.7 L587.8,1685.2 L588.3,1686.6 L588.9,1688.1 L589.5,1689.6 L590.0,1691.1 L590.6,1692.6 L591.2,1694.1 L591.7,1695.6 L592.3,1697.1 L592.9,1698.6 L593.4,1700.0 L594.0,1701.5 L594.6,1703.0 L595.1,1704.4 L595.7,1705.9 L596.3,1707.3 L596.8,1708.8 L597.4,1710.2 L597.9,1711.6 L598.5,1713.0 L599.0,1714.4 L599.5,1715.8 L600.1,1717.1 L600.6,1718.4 L601.1,1719.8 L601.6,1721.1 L602.1,1722.3 L602.7,1724.0 L603.3,1725.6 L603.9,1727.2 L604.5,1728.7 L605.1,1730.3 L605.7,1731.8 L606.3,1733.4 L606.9,1734.9 L607.5,1736.3 L608.0,1737.8 L608.6,1739.2 L609.1,1740.7 L609.6,1742.0 L610.2,1743.4 L610.7,1744.7 L611.2,1746.1 L611.7,1747.3 L612.2,1748.6 L612.8,1750.2 L613.4,1751.7 L613.9,1753.2 L614.5,1754.6 L615.0,1756.0 L615.6,1757.3 L616.1,1758.7 L616.6,1760.0 L617.2,1761.3 L617.8,1762.7 L618.5,1764.2 L619.1,1765.7 L619.8,1767.1 L620.5,1768.6 L621.2,1770.0 L622.0,1771.4 L622.7,1772.9 L623.5,1774.3 L624.2,1775.8 L625.0,1777.2 L625.8,1778.6 L626.6,1780.0 L627.4,1781.4 L628.2,1782.8 L629.0,1784.2 L629.9,1785.6 L630.7,1787.0 L631.6,1788.4 L632.4,1789.7 L633.2,1791.1 L634.1,1792.6 L634.9,1794.0 L635.8,1795.5 L636.6,1796.9 L637.5,1798.2 L638.4,1799.4 L639.3,1800.5 L640.3,1801.5 L641.7,1802.4 L643.3,1803.0 L644.8,1803.5 L646.3,1804.1 L647.7,1805.2 L648.4,1806.1 L649.0,1807.3 L649.6,1808.7 L650.2,1810.2 L650.6,1811.8 L651.1,1813.5 L651.6,1815.2 L652.1,1816.9 L652.6,1818.5 L653.1,1820.0 L653.7,1821.4 L654.3,1822.6 L655.0,1823.5 L656.3,1824.5 L657.8,1825.1 L659.3,1825.5 L660.9,1826.0 L662.3,1827.1 L663.0,1828.0 L663.7,1829.2 L664.4,1830.6 L665.1,1832.1 L665.7,1833.9 L666.4,1835.7 L667.0,1837.6 L667.7,1839.5 L668.3,1841.4 L668.9,1843.3 L669.5,1845.0 L670.1,1846.6 L670.8,1848.0 L671.4,1849.2 L672.0,1850.1 L672.7,1850.7 L673.3,1851.0 L674.3,1850.6 L675.4,1849.3 L676.4,1847.4 L677.5,1845.4 L678.5,1843.6 L679.6,1842.2 L680.7,1841.8 L681.4,1842.1 L682.0,1842.7 L682.7,1843.6 L683.3,1844.8 L684.0,1846.2 L684.7,1847.9 L685.4,1849.6 L686.1,1851.5 L686.8,1853.4 L687.5,1855.3 L688.2,1857.2 L688.9,1859.0 L689.6,1860.6 L690.4,1862.1 L691.1,1863.4 L691.9,1864.5 L692.7,1865.2 L693.5,1865.6 L694.8,1865.5 L696.1,1864.7 L697.5,1863.5 L698.9,1862.1 L700.3,1860.6 L701.7,1859.4 L703.1,1858.5 L704.5,1858.3 L705.6,1858.6 L706.8,1859.2 L707.9,1860.0 L709.1,1861.0 L710.3,1862.2 L711.4,1863.6 L712.5,1865.0 L713.6,1866.6 L714.6,1868.2 L715.6,1869.8 L716.5,1871.4 L717.3,1873.0 L717.9,1874.3 L718.4,1875.6 L718.8,1877.0 L719.2,1878.4 L719.6,1879.9 L719.9,1881.4 L720.2,1882.9 L720.5,1884.5 L720.7,1886.1 L720.9,1887.7 L721.2,1889.3 L721.4,1890.9 L721.6,1892.6 L721.8,1894.2 L722.0,1895.8 L722.2,1897.4 L722.5,1899.0 L722.8,1900.5" fill="none" stroke="#7030a0" stroke-width="6.7" stroke-linecap="round" stroke-linejoin="round"/>
<path d="M334.6,1902.2 L336.1,1902.2 L337.7,1902.2 L339.3,1902.2 L340.9,1902.2 L342.5,1902.2 L344.1,1902.2 L345.7,1902.2 L347.3,1902.2 L348.9,1902.2 L350.4,1902.2 L352.0,1902.2 L353.5,1902.1 L354.9,1902.1 L356.4,1902.1 L357.7,1902.0 L359.0,1902.0 L360.3,1901.9 L362.3,1901.8 L364.2,1901.7 L366.0,1901.6 L367.7,1901.5 L369.2,1901.3 L370.7,1901.0 L372.0,1900.6 L373.6,1899.9 L374.8,1899.1 L376.2,1897.9 L377.1,1897.1 L378.1,1896.0 L379.1,1894.9 L380.2,1893.7 L381.2,1892.4 L382.2,1891.0 L383.3,1889.5 L384.0,1888.4 L384.7,1887.3 L385.4,1886.1 L386.1,1884.8 L386.9,1883.5 L387.6,1882.2 L388.3,1880.8 L389.1,1879.5 L389.8,1878.0 L390.5,1876.6 L391.2,1875.1 L391.8,1873.6 L392.5,1872.1 L393.1,1870.6 L393.7,1869.3 L394.2,1868.0 L394.7,1866.7 L395.2,1865.3 L395.7,1864.0 L396.2,1862.6 L396.7,1861.2 L397.1,1859.8 L397.6,1858.3 L398.1,1856.9 L398.5,1855.4 L399.0,1853.9 L399.4,1852.5 L399.8,1851.0 L400.3,1849.5 L400.7,1847.9 L401.1,1846.4 L401.5,1844.9 L401.9,1843.3 L402.3,1841.9 L402.6,1840.5 L403.0,1839.0 L403.3,1837.5 L403.7,1836.1 L404.0,1834.6 L404.3,1833.1 L404.6,1831.6 L405.0,1830.1 L405.3,1828.5 L405.6,1827.0 L405.9,1825.5 L406.2,1823.9 L406.5,1822.4 L406.8,1820.8 L407.0,1819.2 L407.3,1817.6 L407.6,1816.1 L407.9,1814.5 L408.2,1812.9 L408.5,1811.3 L408.8,1809.7 L409.1,1808.1 L409.3,1806.6 L409.6,1805.2 L409.8,1803.7 L410.1,1802.2 L410.3,1800.7 L410.5,1799.2 L410.8,1797.7 L411.0,1796.2 L411.3,1794.7 L411.5,1793.2 L411.7,1791.7 L412.0,1790.1 L412.2,1788.6 L412.4,1787.1 L412.6,1785.5 L412.9,1784.0 L413.1,1782.4 L413.3,1780.9 L413.5,1779.4 L413.8,1777.8 L414.0,1776.3 L414.2,1774.7 L414.4,1773.2 L414.7,1771.6 L414.9,1770.1 L415.1,1768.6 L415.4,1767.0 L415.6,1765.5 L415.8,1764.0 L416.0,1762.5 L416.3,1761.0 L416.5,1759.5 L416.7,1758.0 L416.9,1756.5 L417.1,1755.0 L417.4,1753.5 L417.6,1752.0 L417.8,1750.5 L418.0,1749.0 L418.2,1747.5 L418.5,1746.0 L418.7,1744.5 L418.9,1743.0 L419.1,1741.5 L419.3,1740.0 L419.6,1738.5 L419.8,1737.0 L420.0,1735.5 L420.2,1734.0 L420.5,1732.5 L420.7,1731.0 L420.9,1729.6 L421.1,1728.1 L421.4,1726.6 L421.6,1725.1 L421.8,1723.6 L422.1,1722.1 L422.3,1720.6 L422.6,1719.1 L422.8,1717.6 L423.1,1716.0 L423.3,1714.5 L423.6,1713.0 L423.9,1711.5 L424.1,1710.0 L424.4,1708.5 L424.7,1707.0 L424.9,1705.4 L425.2,1703.9 L425.4,1702.4 L425.7,1700.9 L426.0,1699.4 L426.2,1697.9 L426.5,1696.4 L426.8,1694.9 L427.1,1693.4 L427.3,1691.9 L427.6,1690.4 L427.8,1688.9 L428.1,1687.4 L428.4,1685.9 L428.6,1684.4 L428.9,1682.9 L429.1,1681.4 L429.4,1679.9 L429.7,1678.4 L429.9,1676.9 L430.2,1675.4 L430.4,1673.9 L430.7,1672.5 L430.9,1671.0 L431.2,1669.5 L431.4,1668.0 L431.7,1666.5 L431.9,1665.1 L432.2,1663.6 L432.4,1662.1 L432.7,1660.6 L432.9,1659.2 L433.2,1657.7 L433.4,1656.2 L433.7,1654.7 L433.9,1653.3 L434.1,1651.8 L434.4,1650.3 L434.6,1648.8 L434.9,1647.3 L435.1,1645.8 L435.3,1644.4 L435.6,1642.9 L435.8,1641.4 L436.0,1639.9 L436.2,1638.4 L436.5,1636.9 L436.7,1635.5 L436.9,1634.0 L437.1,1632.5 L437.3,1631.0 L437.5,1629.6 L437.7,1628.1 L437.9,1626.6 L438.1,1625.2 L438.3,1623.7 L438.5,1622.2 L438.7,1620.7 L438.9,1619.3 L439.1,1617.8 L439.3,1616.3 L439.5,1614.8 L439.7,1613.3 L439.9,1611.8 L440.1,1610.4 L440.3,1608.9 L440.5,1607.4 L440.7,1605.9 L440.9,1604.4 L441.1,1602.9 L441.3,1601.3 L441.5,1599.8 L441.7,1598.3 L441.9,1596.8 L442.1,1595.3 L442.4,1593.8 L442.6,1592.3 L442.8,1590.8 L443.0,1589.3 L443.3,1587.8 L443.5,1586.3 L443.7,1584.7 L443.9,1583.2 L444.2,1581.7 L444.4,1580.2 L444.6,1578.6 L444.9,1577.1 L445.1,1575.6 L445.3,1574.0 L445.6,1572.5 L445.8,1570.9 L446.0,1569.4 L446.3,1567.8 L446.5,1566.3 L446.8,1564.8 L447.0,1563.2 L447.3,1561.7 L447.5,1560.2 L447.8,1558.6 L448.0,1557.1 L448.3,1555.6 L448.5,1554.1 L448.8,1552.5 L449.1,1551.0 L449.3,1549.5 L449.6,1548.0 L449.9,1546.6 L450.2,1545.0 L450.4,1543.5 L450.7,1542.0 L451.0,1540.4 L451.3,1538.9 L451.6,1537.3 L451.9,1535.8 L452.2,1534.2 L452.5,1532.7 L452.8,1531.1 L453.1,1529.6 L453.4,1528.1 L453.7,1526.5 L454.0,1525.0 L454.3,1523.5 L454.7,1522.0 L455.0,1520.5 L455.3,1519.0 L455.6,1517.5 L455.9,1516.0 L456.2,1514.5 L456.6,1513.1 L456.9,1511.6 L457.2,1510.2 L457.5,1508.8 L457.8,1507.4 L458.2,1506.1 L458.5,1504.7 L458.8,1503.4 L459.1,1502.1 L459.5,1500.4 L459.9,1498.7 L460.3,1497.0 L460.8,1495.3 L461.2,1493.7 L461.6,1492.0 L462.0,1490.4 L462.4,1488.8 L462.8,1487.3 L463.2,1485.7 L463.7,1484.2 L464.1,1482.8 L464.5,1481.3 L465.0,1480.0 L465.4,1478.6 L465.8,1477.3 L466.3,1476.0 L466.7,1474.8 L467.4,1473.0 L468.1,1471.3 L468.8,1469.7 L469.5,1468.2 L470.2,1466.7 L470.9,1465.4 L471.7,1464.2 L472.5,1463.1 L473.7,1461.8 L475.0,1460.6 L476.3,1459.8 L477.6,1459.1 L479.7,1458.3 L482.0,1458.4 L483.1,1458.8 L484.2,1459.5 L485.4,1460.4 L486.6,1461.5 L487.9,1462.7 L489.1,1463.8 L490.4,1465.0 L491.5,1466.0 L492.8,1467.2 L494.0,1468.4 L495.2,1469.6 L496.4,1470.8 L497.6,1471.9 L498.8,1473.0 L500.0,1474.0 L501.5,1475.1 L503.0,1476.2 L504.6,1477.1 L506.1,1477.9 L507.7,1478.4 L509.4,1478.6 L511.0,1478.5 L512.7,1478.2 L514.4,1477.9 L516.1,1477.7 L517.7,1477.6 L519.2,1477.4 L520.8,1477.2 L522.3,1477.1 L523.8,1477.2 L525.3,1477.4 L526.8,1477.9 L528.2,1478.5 L529.6,1479.2 L531.0,1480.1 L532.3,1481.1 L533.5,1482.2 L534.5,1483.2 L535.4,1484.3 L536.2,1485.5 L537.0,1486.8 L537.7,1488.2 L538.5,1489.6 L539.2,1491.0 L539.9,1492.4 L540.5,1493.7 L541.1,1495.0 L541.6,1496.4 L542.1,1497.8 L542.6,1499.2 L543.2,1500.6 L543.7,1502.1 L544.2,1503.6 L544.7,1505.1 L545.2,1506.6 L545.7,1508.1 L546.1,1509.5 L546.6,1510.9 L547.1,1512.3 L547.6,1513.8 L548.1,1515.2 L548.5,1516.7 L549.0,1518.2 L549.5,1519.7 L550.0,1521.2 L550.4,1522.7 L550.9,1524.1 L551.4,1525.6 L551.8,1527.1 L552.3,1528.6 L552.7,1530.0 L553.2,1531.5 L553.6,1533.0 L554.1,1534.4 L554.5,1535.9 L555.0,1537.4 L555.4,1538.8 L555.8,1540.3 L556.3,1541.7 L556.7,1543.2 L557.1,1544.6 L557.5,1546.1 L558.0,1547.7 L558.4,1549.3 L558.8,1550.9 L559.3,1552.4 L559.7,1554.0 L560.1,1555.6 L560.5,1557.2 L560.9,1558.7 L561.3,1560.3 L561.7,1561.9 L562.1,1563.5 L562.5,1565.0 L562.9,1566.5 L563.2,1568.0 L563.6,1569.5 L563.9,1571.0 L564.3,1572.5 L564.6,1574.0 L565.0,1575.5 L565.3,1577.1 L565.7,1578.6 L566.1,1580.2 L566.4,1581.7 L566.8,1583.1 L567.1,1584.6 L567.5,1586.1 L567.8,1587.6 L568.2,1589.1 L568.5,1590.6 L568.9,1592.1 L569.3,1593.7 L569.7,1595.3 L570.1,1596.9 L570.5,1598.5 L571.0,1600.2 L571.4,1601.9 L571.8,1603.2 L572.1,1604.6 L572.5,1605.9 L572.9,1607.3 L573.3,1608.7 L573.7,1610.1 L574.1,1611.6 L574.5,1613.0 L575.0,1614.5 L575.4,1615.9 L575.8,1617.4 L576.3,1618.9 L576.7,1620.4 L577.2,1622.0 L577.7,1623.5 L578.1,1625.0 L578.6,1626.6 L579.1,1628.1 L579.6,1629.7 L580.1,1631.2 L580.6,1632.8 L581.1,1634.4 L581.6,1635.9 L582.1,1637.3 L582.5,1638.7 L583.0,1640.0 L583.5,1641.4 L583.9,1642.8 L584.4,1644.2 L584.9,1645.7 L585.4,1647.1 L585.9,1648.5 L586.4,1650.0 L586.9,1651.4 L587.5,1652.9 L588.0,1654.4 L588.5,1655.8 L589.1,1657.3 L589.6,1658.8 L590.1,1660.2 L590.7,1661.7 L591.2,1663.2 L591.7,1664.7 L592.3,1666.1 L592.8,1667.6 L593.4,1669.1 L593.9,1670.5 L594.5,1672.0 L595.0,1673.5 L595.5,1674.9 L596.1,1676.3 L596.6,1677.8 L597.2,1679.2 L597.7,1680.6 L598.2,1682.1 L598.8,1683.5 L599.3,1684.9 L599.9,1686.4 L600.4,1687.8 L601.0,1689.3 L601.5,1690.7 L602.1,1692.2 L602.6,1693.6 L603.2,1695.1 L603.8,1696.6 L604.3,1698.0 L604.9,1699.4 L605.4,1700.9 L606.0,1702.3 L606.6,1703.8 L607.1,1705.2 L607.7,1706.6 L608.2,1708.0 L608.8,1709.4 L609.3,1710.8 L609.9,1712.2 L610.4,1713.5 L610.9,1714.9 L611.4,1716.2 L611.9,1717.5 L612.5,1718.8 L612.9,1720.1 L613.4,1721.4 L613.9,1722.6 L614.5,1724.3 L615.2,1725.9 L615.8,1727.5 L616.4,1729.1 L617.0,1730.7 L617.6,1732.3 L618.1,1733.8 L618.7,1735.4 L619.3,1736.9 L619.8,1738.4 L620.4,1739.8 L620.9,1741.3 L621.4,1742.7 L622.0,1744.0 L622.5,1745.3 L623.0,1746.6 L623.5,1747.8 L624.0,1749.0 L624.7,1750.7 L625.4,1752.2 L626.1,1753.7 L626.7,1755.1 L627.4,1756.4 L628.0,1757.7 L628.7,1759.0 L629.4,1760.3 L630.3,1761.8 L631.3,1763.2 L632.2,1764.6 L633.2,1766.0 L634.1,1767.5 L635.1,1769.0 L635.8,1770.4 L636.4,1771.9 L637.1,1773.5 L637.8,1775.1 L638.5,1776.8 L639.2,1778.4 L639.9,1779.9 L640.6,1781.2 L641.4,1782.3 L642.2,1783.2 L644.0,1783.9 L645.9,1784.1 L647.7,1785.0 L648.3,1785.8 L648.8,1786.9 L649.3,1788.3 L649.7,1789.9 L650.1,1791.7 L650.5,1793.7 L650.9,1795.7 L651.2,1797.7 L651.6,1799.8 L651.9,1801.8 L652.3,1803.7 L652.7,1805.5 L653.1,1807.1 L653.5,1808.4 L654.0,1809.5 L654.5,1810.3 L655.0,1810.7 L656.3,1810.3 L657.7,1808.9 L659.1,1807.4 L660.5,1807.0 L661.1,1807.3 L661.6,1808.0 L662.2,1809.0 L662.8,1810.2 L663.4,1811.6 L664.0,1813.2 L664.6,1814.9 L665.2,1816.8 L665.8,1818.8 L666.4,1820.9 L667.0,1822.9 L667.6,1825.0 L668.2,1827.0 L668.8,1829.0 L669.4,1830.8 L669.9,1832.5 L670.5,1834.1 L671.1,1835.4 L671.7,1836.5 L672.2,1837.3 L672.8,1837.9 L673.3,1838.1 L674.2,1837.7 L675.0,1836.5 L675.8,1834.8 L676.6,1832.8 L677.4,1830.6 L678.2,1828.6 L679.0,1826.9 L679.8,1825.7 L680.7,1825.3 L681.2,1825.5 L681.8,1826.0 L682.4,1826.8 L682.9,1827.8 L683.5,1829.0 L684.1,1830.5 L684.7,1832.1 L685.3,1833.8 L685.9,1835.7 L686.6,1837.7 L687.2,1839.7 L687.8,1841.7 L688.5,1843.7 L689.1,1845.7 L689.7,1847.7 L690.4,1849.6 L691.0,1851.3 L691.6,1853.0 L692.2,1854.4 L692.9,1855.7 L693.5,1856.8 L694.1,1857.6 L694.7,1858.1 L695.3,1858.3 L696.2,1858.0 L697.1,1857.1 L698.0,1855.7 L698.9,1853.9 L699.8,1852.0 L700.7,1850.0 L701.6,1848.3 L702.6,1846.8 L703.5,1845.8 L704.5,1845.5 L705.3,1845.7 L706.1,1846.1 L706.9,1846.8 L707.8,1847.7 L708.7,1848.9 L709.6,1850.1 L710.6,1851.6 L711.5,1853.1 L712.4,1854.8 L713.3,1856.5 L714.2,1858.2 L715.1,1860.0 L715.9,1861.7 L716.6,1863.4 L717.4,1865.0 L718.0,1866.6 L718.6,1868.0 L719.1,1869.3 L719.7,1871.0 L720.2,1872.7 L720.5,1874.4 L720.8,1876.0 L721.0,1877.6 L721.2,1879.2 L721.4,1880.8 L721.6,1882.4 L721.9,1884.0" fill="none" stroke="#28123a" stroke-width="6.7" stroke-linecap="round" stroke-linejoin="round"/>
<text x="-2" y="1369.3" font-family='"Liberation Sans", sans-serif' font-size="33.5" fill="#000">(c)</text>
<text x="81.50" y="1953.8" text-anchor="middle" font-family='"Liberation Sans", sans-serif' font-size="30.5" textLength="36" lengthAdjust="spacingAndGlyphs" fill="#000">14</text>
<text x="182.19" y="1953.8" text-anchor="middle" font-family='"Liberation Sans", sans-serif' font-size="30.5" textLength="36" lengthAdjust="spacingAndGlyphs" fill="#000">16</text>
<text x="282.89" y="1953.8" text-anchor="middle" font-family='"Liberation Sans", sans-serif' font-size="30.5" textLength="36" lengthAdjust="spacingAndGlyphs" fill="#000">18</text>
<text x="383.58" y="1953.8" text-anchor="middle" font-family='"Liberation Sans", sans-serif' font-size="30.5" textLength="36" lengthAdjust="spacingAndGlyphs" fill="#000">20</text>
<text x="484.27" y="1953.8" text-anchor="middle" font-family='"Liberation Sans", sans-serif' font-size="30.5" textLength="36" lengthAdjust="spacingAndGlyphs" fill="#000">22</text>
<text x="584.96" y="1953.8" text-anchor="middle" font-family='"Liberation Sans", sans-serif' font-size="30.5" textLength="36" lengthAdjust="spacingAndGlyphs" fill="#000">24</text>
<text x="685.66" y="1953.8" text-anchor="middle" font-family='"Liberation Sans", sans-serif' font-size="30.5" textLength="36" lengthAdjust="spacingAndGlyphs" fill="#000">26</text>
<text x="786.35" y="1953.8" text-anchor="middle" font-family='"Liberation Sans", sans-serif' font-size="30.5" textLength="36" lengthAdjust="spacingAndGlyphs" fill="#000">28</text>
<text x="346.1" y="1990.5" font-family='"Liberation Sans", sans-serif' font-weight="bold" font-size="30.4" textLength="170.0" lengthAdjust="spacingAndGlyphs" fill="#000">Time (min)</text>
<text transform="translate(64.9,1702.5) rotate(-90)" x="0" y="0" font-family='"Liberation Sans", sans-serif' font-weight="bold" font-size="29.5" textLength="135.0" lengthAdjust="spacingAndGlyphs" fill="#000">Intensity</text>
<line x1="806.7" y1="1398.1" x2="865.8" y2="1398.1" stroke="#aca7a7" stroke-width="6" stroke-linecap="round"/>
<text x="906.5" y="1409.2" text-anchor="middle" font-family='"Liberation Sans", sans-serif' font-size="31" textLength="18.5" lengthAdjust="spacingAndGlyphs" fill="#000">0</text>
<line x1="806.7" y1="1443.8" x2="865.8" y2="1443.8" stroke="#d2009b" stroke-width="6" stroke-linecap="round"/>
<text x="907.8" y="1456.4" text-anchor="middle" font-family='"Liberation Sans", sans-serif' font-size="31" textLength="36.8" lengthAdjust="spacingAndGlyphs" fill="#000">20</text>
<line x1="806.7" y1="1489.8" x2="865.8" y2="1489.8" stroke="#ff0000" stroke-width="6" stroke-linecap="round"/>
<text x="907.8" y="1497.2" text-anchor="middle" font-family='"Liberation Sans", sans-serif' font-size="31" textLength="36.8" lengthAdjust="spacingAndGlyphs" fill="#000">40</text>
<line x1="806.7" y1="1535.3" x2="865.8" y2="1535.3" stroke="#ffc000" stroke-width="6" stroke-linecap="round"/>
<text x="907.8" y="1546.5" text-anchor="middle" font-family='"Liberation Sans", sans-serif' font-size="31" textLength="36.8" lengthAdjust="spacingAndGlyphs" fill="#000">60</text>
<line x1="806.7" y1="1581.6" x2="865.8" y2="1581.6" stroke="#92d050" stroke-width="6" stroke-linecap="round"/>
<text x="907.8" y="1589.1" text-anchor="middle" font-family='"Liberation Sans", sans-serif' font-size="31" textLength="36.8" lengthAdjust="spacingAndGlyphs" fill="#000">80</text>
<line x1="806.7" y1="1627.4" x2="865.8" y2="1627.4" stroke="#00b050" stroke-width="6" stroke-linecap="round"/>
<text x="906.8" y="1638.1" text-anchor="middle" font-family='"Liberation Sans", sans-serif' font-size="31" textLength="54.0" lengthAdjust="spacingAndGlyphs" fill="#000">100</text>
<line x1="806.7" y1="1673.3" x2="865.8" y2="1673.3" stroke="#9dc3e6" stroke-width="6" stroke-linecap="round"/>
<text x="906.8" y="1682.3" text-anchor="middle" font-family='"Liberation Sans", sans-serif' font-size="31" textLength="54.0" lengthAdjust="spacingAndGlyphs" fill="#000">120</text>
<line x1="806.7" y1="1718.9" x2="865.8" y2="1718.9" stroke="#0070c0" stroke-width="6" stroke-linecap="round"/>
<text x="906.8" y="1728.5" text-anchor="middle" font-family='"Liberation Sans", sans-serif' font-size="31" textLength="54.0" lengthAdjust="spacingAndGlyphs" fill="#000">140</text>
<line x1="806.7" y1="1764.8" x2="865.8" y2="1764.8" stroke="#203864" stroke-width="6" stroke-linecap="round"/>
<text x="906.8" y="1773.3" text-anchor="middle" font-family='"Liberation Sans", sans-serif' font-size="31" textLength="54.0" lengthAdjust="spacingAndGlyphs" fill="#000">160</text>
<line x1="806.7" y1="1810.8" x2="865.8" y2="1810.8" stroke="#7030a0" stroke-width="6" stroke-linecap="round"/>
<text x="906.8" y="1821.1" text-anchor="middle" font-family='"Liberation Sans", sans-serif' font-size="31" textLength="54.0" lengthAdjust="spacingAndGlyphs" fill="#000">180</text>
<line x1="806.7" y1="1856.5" x2="865.8" y2="1856.5" stroke="#28123a" stroke-width="6" stroke-linecap="round"/>
<text x="906.8" y="1866.2" text-anchor="middle" font-family='"Liberation Sans", sans-serif' font-size="31" textLength="54.0" lengthAdjust="spacingAndGlyphs" fill="#000">200</text>
<g font-family='"Liberation Sans", sans-serif' fill="#000"><text x="855.6" y="1908.0" font-size="27.5" textLength="104.5" lengthAdjust="spacingAndGlyphs">(μC/cm</text><text x="959.6" y="1899.7" font-size="17.5" textLength="11" lengthAdjust="spacingAndGlyphs">2</text><text x="973.5" y="1908.0" font-size="27.5">)</text></g>
</svg></body></html>
